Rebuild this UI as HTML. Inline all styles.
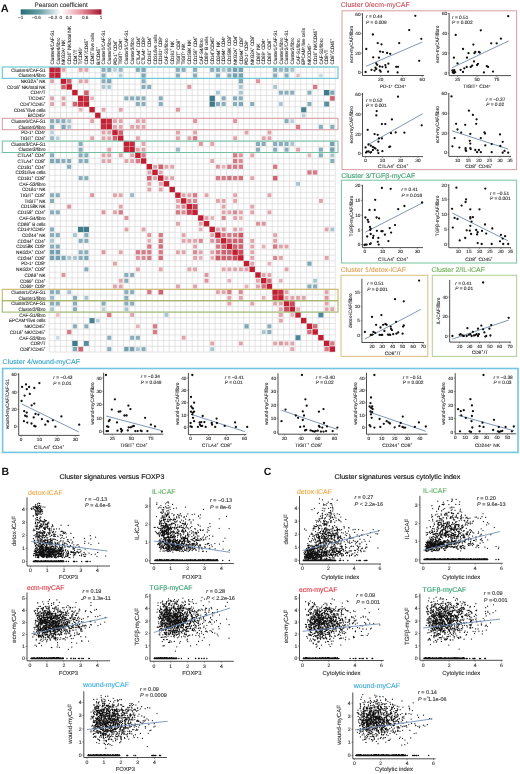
<!DOCTYPE html><html><head><meta charset="utf-8"><title>Figure</title><style>html,body{margin:0;padding:0;background:#fff;}svg{display:block;}</style></head><body>
<svg width="520" height="774" viewBox="0 0 520 774" text-rendering="geometricPrecision" font-family="'Liberation Sans', 'DejaVu Sans', sans-serif">
<rect width="520" height="774" fill="#fff"/>
<text x="0.8" y="12.3" font-size="11" fill="#111" font-weight="bold">A</text>
<defs><linearGradient id="cb" x1="0" x2="1" y1="0" y2="0"><stop offset="0" stop-color="#266c74"/><stop offset="0.25" stop-color="#6fa3ab"/><stop offset="0.5" stop-color="#ffffff"/><stop offset="0.75" stop-color="#e7939f"/><stop offset="1" stop-color="#a3142e"/></linearGradient></defs>
<rect x="20.7" y="9.3" width="80.8" height="5.3" fill="url(#cb)"/>
<text x="34.6" y="7" font-size="6.6" fill="#333" stroke="#333" stroke-width="0.12" textLength="53.2" lengthAdjust="spacingAndGlyphs">Pearson coefficient</text>
<text x="20.6" y="19.3" font-size="4.6" text-anchor="middle" fill="#444" stroke="#444" stroke-width="0.12">−1</text>
<text x="36.4" y="19.3" font-size="4.6" text-anchor="middle" fill="#444" stroke="#444" stroke-width="0.12">−0.6</text>
<text x="52.7" y="19.3" font-size="4.6" text-anchor="middle" fill="#444" stroke="#444" stroke-width="0.12">−0.2</text>
<text x="60.8" y="19.3" font-size="4.6" text-anchor="middle" fill="#444" stroke="#444" stroke-width="0.12">0</text>
<text x="68.9" y="19.3" font-size="4.6" text-anchor="middle" fill="#444" stroke="#444" stroke-width="0.12">0.2</text>
<text x="85.2" y="19.3" font-size="4.6" text-anchor="middle" fill="#444" stroke="#444" stroke-width="0.12">0.6</text>
<text x="101" y="19.3" font-size="4.6" text-anchor="middle" fill="#444" stroke="#444" stroke-width="0.12">1</text>
<path d="M49.2 67V352M49.2 67H335.2M54.9 67V352M49.2 72.7H335.2M60.6 67V352M49.2 78.4H335.2M66.4 67V352M49.2 84.1H335.2M72.1 67V352M49.2 89.8H335.2M77.8 67V352M49.2 95.5H335.2M83.5 67V352M49.2 101.2H335.2M89.2 67V352M49.2 106.9H335.2M95 67V352M49.2 112.6H335.2M100.7 67V352M49.2 118.3H335.2M106.4 67V352M49.2 124H335.2M112.1 67V352M49.2 129.7H335.2M117.8 67V352M49.2 135.4H335.2M123.6 67V352M49.2 141.1H335.2M129.3 67V352M49.2 146.8H335.2M135 67V352M49.2 152.5H335.2M140.7 67V352M49.2 158.2H335.2M146.4 67V352M49.2 163.9H335.2M152.2 67V352M49.2 169.6H335.2M157.9 67V352M49.2 175.3H335.2M163.6 67V352M49.2 181H335.2M169.3 67V352M49.2 186.7H335.2M175 67V352M49.2 192.4H335.2M180.8 67V352M49.2 198.1H335.2M186.5 67V352M49.2 203.8H335.2M192.2 67V352M49.2 209.5H335.2M197.9 67V352M49.2 215.2H335.2M203.6 67V352M49.2 220.9H335.2M209.4 67V352M49.2 226.6H335.2M215.1 67V352M49.2 232.3H335.2M220.8 67V352M49.2 238H335.2M226.5 67V352M49.2 243.7H335.2M232.2 67V352M49.2 249.4H335.2M238 67V352M49.2 255.1H335.2M243.7 67V352M49.2 260.8H335.2M249.4 67V352M49.2 266.5H335.2M255.1 67V352M49.2 272.2H335.2M260.8 67V352M49.2 277.9H335.2M266.6 67V352M49.2 283.6H335.2M272.3 67V352M49.2 289.3H335.2M278 67V352M49.2 295H335.2M283.7 67V352M49.2 300.7H335.2M289.4 67V352M49.2 306.4H335.2M295.2 67V352M49.2 312.1H335.2M300.9 67V352M49.2 317.8H335.2M306.6 67V352M49.2 323.5H335.2M312.3 67V352M49.2 329.2H335.2M318 67V352M49.2 334.9H335.2M323.8 67V352M49.2 340.6H335.2M329.5 67V352M49.2 346.3H335.2M335.2 67V352M49.2 352H335.2" stroke="#d0d0d0" stroke-width="0.55" fill="none"/>
<g><rect x="49.4" y="67.1" width="5.4" height="5.4" fill="#c21e32"/><rect x="55.1" y="67.1" width="5.4" height="5.4" fill="#c42b3e"/><rect x="61.6" y="67.9" width="3.9" height="3.9" fill="#e3a3ab"/><rect x="78.7" y="67.9" width="3.9" height="3.9" fill="#e3a3ab"/><rect x="84.4" y="67.9" width="3.9" height="3.9" fill="#e3a3ab"/><rect x="101.5" y="67.8" width="4.1" height="4.1" fill="#88aebc"/><rect x="107.2" y="67.8" width="4.1" height="4.1" fill="#88aebc"/><rect x="113.1" y="68" width="3.7" height="3.7" fill="#b8d1d8"/><rect x="118.7" y="67.8" width="4" height="4" fill="#98bac6"/><rect x="135.8" y="67.8" width="4.1" height="4.1" fill="#88aebc"/><rect x="141.4" y="67.7" width="4.3" height="4.3" fill="#7ea8b6"/><rect x="175.8" y="67.8" width="4.1" height="4.1" fill="#88aebc"/><rect x="181.5" y="67.8" width="4.1" height="4.1" fill="#88aebc"/><rect x="193" y="67.8" width="4.1" height="4.1" fill="#88aebc"/><rect x="210.1" y="67.8" width="4.1" height="4.1" fill="#88aebc"/><rect x="215.9" y="67.8" width="4.1" height="4.1" fill="#88aebc"/><rect x="221.7" y="67.9" width="3.9" height="3.9" fill="#a8c6cf"/><rect x="227.3" y="67.8" width="4.1" height="4.1" fill="#88aebc"/><rect x="232.9" y="67.6" width="4.4" height="4.4" fill="#74a1b0"/><rect x="238.6" y="67.6" width="4.4" height="4.4" fill="#74a1b0"/><rect x="273.1" y="67.8" width="4.1" height="4.1" fill="#88aebc"/><rect x="278.9" y="67.8" width="4" height="4" fill="#98bac6"/><rect x="284.5" y="67.8" width="4.1" height="4.1" fill="#88aebc"/><rect x="290.4" y="67.9" width="3.9" height="3.9" fill="#a8c6cf"/><rect x="49.3" y="72.8" width="5.4" height="5.4" fill="#c42b3e"/><rect x="55.1" y="72.8" width="5.4" height="5.4" fill="#c21e32"/><rect x="101.5" y="73.5" width="4.1" height="4.1" fill="#88aebc"/><rect x="118.8" y="73.7" width="3.7" height="3.7" fill="#b8d1d8"/><rect x="141.4" y="73.4" width="4.3" height="4.3" fill="#7ea8b6"/><rect x="175.8" y="73.5" width="4.1" height="4.1" fill="#88aebc"/><rect x="193" y="73.5" width="4.1" height="4.1" fill="#88aebc"/><rect x="215.9" y="73.5" width="4.1" height="4.1" fill="#88aebc"/><rect x="227.3" y="73.5" width="4.1" height="4.1" fill="#88aebc"/><rect x="232.9" y="73.3" width="4.4" height="4.4" fill="#74a1b0"/><rect x="238.6" y="73.3" width="4.4" height="4.4" fill="#74a1b0"/><rect x="273.1" y="73.5" width="4.1" height="4.1" fill="#88aebc"/><rect x="284.5" y="73.5" width="4.1" height="4.1" fill="#88aebc"/><rect x="296.2" y="73.8" width="3.6" height="3.6" fill="#ecbec4"/><rect x="319.1" y="73.8" width="3.6" height="3.6" fill="#c8dce2"/><rect x="50.1" y="79.3" width="3.9" height="3.9" fill="#e3a3ab"/><rect x="60.8" y="78.5" width="5.4" height="5.4" fill="#c21e32"/><rect x="66.9" y="79" width="4.6" height="4.6" fill="#d06270"/><rect x="78.7" y="79.3" width="3.9" height="3.9" fill="#e3a3ab"/><rect x="84.4" y="79.3" width="3.9" height="3.9" fill="#e3a3ab"/><rect x="101.5" y="79.2" width="4.1" height="4.1" fill="#88aebc"/><rect x="107.1" y="79.1" width="4.3" height="4.3" fill="#7ea8b6"/><rect x="141.5" y="79.2" width="4.1" height="4.1" fill="#88aebc"/><rect x="238.7" y="79.1" width="4.3" height="4.3" fill="#7ea8b6"/><rect x="256" y="79.2" width="4" height="4" fill="#df959f"/><rect x="61.2" y="84.7" width="4.6" height="4.6" fill="#d06270"/><rect x="66.5" y="84.2" width="5.4" height="5.4" fill="#c21e32"/><rect x="101.6" y="85" width="3.9" height="3.9" fill="#a8c6cf"/><rect x="107.3" y="85" width="3.9" height="3.9" fill="#a8c6cf"/><rect x="141.5" y="84.9" width="4.1" height="4.1" fill="#88aebc"/><rect x="147.2" y="84.9" width="4.1" height="4.1" fill="#88aebc"/><rect x="187.3" y="84.9" width="4" height="4" fill="#df959f"/><rect x="238.9" y="85" width="3.9" height="3.9" fill="#a8c6cf"/><rect x="273.2" y="85" width="3.9" height="3.9" fill="#a8c6cf"/><rect x="313" y="84.8" width="4.3" height="4.3" fill="#d67a86"/><rect x="72.2" y="89.9" width="5.4" height="5.4" fill="#c21e32"/><rect x="84.1" y="90.4" width="4.6" height="4.6" fill="#d06270"/><rect x="216" y="90.7" width="3.9" height="3.9" fill="#a8c6cf"/><rect x="238.9" y="90.7" width="3.9" height="3.9" fill="#a8c6cf"/><rect x="278.8" y="90.6" width="4.1" height="4.1" fill="#88aebc"/><rect x="284.5" y="90.6" width="4.1" height="4.1" fill="#88aebc"/><rect x="290.2" y="90.6" width="4.1" height="4.1" fill="#88aebc"/><rect x="307.4" y="90.6" width="4.1" height="4.1" fill="#88aebc"/><rect x="324" y="90" width="5.3" height="5.3" fill="#3e7c8c"/><rect x="330.2" y="90.5" width="4.3" height="4.3" fill="#7ea8b6"/><rect x="50.1" y="96.4" width="3.9" height="3.9" fill="#e3a3ab"/><rect x="61.6" y="96.4" width="3.9" height="3.9" fill="#e3a3ab"/><rect x="78" y="95.6" width="5.4" height="5.4" fill="#c21e32"/><rect x="83.7" y="95.7" width="5.3" height="5.3" fill="#c63144"/><rect x="90.2" y="96.5" width="3.7" height="3.7" fill="#e8b0b8"/><rect x="124.3" y="96.3" width="4.1" height="4.1" fill="#88aebc"/><rect x="130.1" y="96.3" width="4.1" height="4.1" fill="#88aebc"/><rect x="135.8" y="96.3" width="4.1" height="4.1" fill="#88aebc"/><rect x="141.5" y="96.3" width="4.1" height="4.1" fill="#88aebc"/><rect x="158.7" y="96.3" width="4.1" height="4.1" fill="#88aebc"/><rect x="209.6" y="95.7" width="5.3" height="5.3" fill="#3e7c8c"/><rect x="221.6" y="96.3" width="4.1" height="4.1" fill="#88aebc"/><rect x="233" y="96.3" width="4.1" height="4.1" fill="#88aebc"/><rect x="238.7" y="96.3" width="4.1" height="4.1" fill="#88aebc"/><rect x="330.1" y="96.1" width="4.6" height="4.6" fill="#d06270"/><rect x="50.1" y="102.1" width="3.9" height="3.9" fill="#e3a3ab"/><rect x="61.6" y="102.1" width="3.9" height="3.9" fill="#e3a3ab"/><rect x="72.7" y="101.8" width="4.6" height="4.6" fill="#d06270"/><rect x="78" y="101.4" width="5.3" height="5.3" fill="#c63144"/><rect x="83.7" y="101.3" width="5.4" height="5.4" fill="#c21e32"/><rect x="135.8" y="102" width="4.1" height="4.1" fill="#88aebc"/><rect x="141.5" y="102" width="4.1" height="4.1" fill="#88aebc"/><rect x="158.7" y="102" width="4.1" height="4.1" fill="#88aebc"/><rect x="209.6" y="101.4" width="5.3" height="5.3" fill="#3e7c8c"/><rect x="215.9" y="102" width="4.1" height="4.1" fill="#88aebc"/><rect x="221.6" y="102" width="4.1" height="4.1" fill="#88aebc"/><rect x="233" y="102" width="4.1" height="4.1" fill="#88aebc"/><rect x="238.7" y="101.9" width="4.3" height="4.3" fill="#7ea8b6"/><rect x="250.2" y="102" width="4.1" height="4.1" fill="#88aebc"/><rect x="278.9" y="102.1" width="3.9" height="3.9" fill="#a8c6cf"/><rect x="307.4" y="102" width="4.1" height="4.1" fill="#88aebc"/><rect x="324.2" y="101.6" width="4.9" height="4.9" fill="#568e9e"/><rect x="78.8" y="107.9" width="3.7" height="3.7" fill="#e8b0b8"/><rect x="89.4" y="107" width="5.4" height="5.4" fill="#c21e32"/><rect x="101.6" y="107.8" width="3.9" height="3.9" fill="#e3a3ab"/><rect x="118.8" y="107.8" width="3.9" height="3.9" fill="#e3a3ab"/><rect x="175.9" y="107.7" width="4" height="4" fill="#df959f"/><rect x="301.2" y="107.2" width="5.1" height="5.1" fill="#458292"/><rect x="95.1" y="112.7" width="5.4" height="5.4" fill="#c21e32"/><rect x="301.9" y="113.6" width="3.7" height="3.7" fill="#b8d1d8"/><rect x="50" y="119.1" width="4.1" height="4.1" fill="#88aebc"/><rect x="55.7" y="119.1" width="4.1" height="4.1" fill="#88aebc"/><rect x="61.4" y="119.1" width="4.1" height="4.1" fill="#88aebc"/><rect x="67.3" y="119.2" width="3.9" height="3.9" fill="#a8c6cf"/><rect x="90.2" y="119.2" width="3.9" height="3.9" fill="#e3a3ab"/><rect x="100.8" y="118.4" width="5.4" height="5.4" fill="#c21e32"/><rect x="106.5" y="118.4" width="5.4" height="5.4" fill="#c42b3e"/><rect x="113" y="119.2" width="3.9" height="3.9" fill="#e3a3ab"/><rect x="118.8" y="119.2" width="3.9" height="3.9" fill="#e3a3ab"/><rect x="135.9" y="119.2" width="3.9" height="3.9" fill="#e3a3ab"/><rect x="141.6" y="119.2" width="3.9" height="3.9" fill="#e3a3ab"/><rect x="193.1" y="119.1" width="4" height="4" fill="#df959f"/><rect x="233.1" y="119.1" width="4" height="4" fill="#df959f"/><rect x="284.5" y="119.1" width="4.1" height="4.1" fill="#88aebc"/><rect x="290.4" y="119.3" width="3.7" height="3.7" fill="#b8d1d8"/><rect x="50" y="124.8" width="4.1" height="4.1" fill="#88aebc"/><rect x="61.4" y="124.7" width="4.3" height="4.3" fill="#7ea8b6"/><rect x="67.3" y="124.9" width="3.9" height="3.9" fill="#a8c6cf"/><rect x="100.8" y="124.1" width="5.4" height="5.4" fill="#c42b3e"/><rect x="106.5" y="124.1" width="5.4" height="5.4" fill="#c21e32"/><rect x="113" y="124.9" width="3.9" height="3.9" fill="#e3a3ab"/><rect x="118.8" y="124.9" width="3.9" height="3.9" fill="#e3a3ab"/><rect x="130.2" y="124.9" width="3.9" height="3.9" fill="#e3a3ab"/><rect x="135.9" y="124.9" width="3.9" height="3.9" fill="#e3a3ab"/><rect x="141.6" y="124.9" width="3.9" height="3.9" fill="#e3a3ab"/><rect x="295.9" y="124.7" width="4.3" height="4.3" fill="#d67a86"/><rect x="318.8" y="124.8" width="4.1" height="4.1" fill="#88aebc"/><rect x="330.3" y="124.8" width="4.1" height="4.1" fill="#88aebc"/><rect x="50.2" y="130.7" width="3.7" height="3.7" fill="#b8d1d8"/><rect x="101.6" y="130.6" width="3.9" height="3.9" fill="#e3a3ab"/><rect x="107.3" y="130.6" width="3.9" height="3.9" fill="#e3a3ab"/><rect x="112.3" y="129.8" width="5.4" height="5.4" fill="#c21e32"/><rect x="118.4" y="130.3" width="4.6" height="4.6" fill="#d06270"/><rect x="176" y="130.6" width="3.9" height="3.9" fill="#e3a3ab"/><rect x="193.1" y="130.6" width="3.9" height="3.9" fill="#e3a3ab"/><rect x="244.6" y="130.6" width="3.9" height="3.9" fill="#e3a3ab"/><rect x="267.5" y="130.6" width="3.9" height="3.9" fill="#e3a3ab"/><rect x="50.1" y="136.2" width="4" height="4" fill="#98bac6"/><rect x="55.9" y="136.4" width="3.7" height="3.7" fill="#b8d1d8"/><rect x="90.2" y="136.3" width="3.9" height="3.9" fill="#e3a3ab"/><rect x="101.6" y="136.3" width="3.9" height="3.9" fill="#e3a3ab"/><rect x="107.3" y="136.3" width="3.9" height="3.9" fill="#e3a3ab"/><rect x="112.7" y="136" width="4.6" height="4.6" fill="#d06270"/><rect x="118" y="135.5" width="5.4" height="5.4" fill="#c21e32"/><rect x="135.9" y="136.3" width="3.9" height="3.9" fill="#e3a3ab"/><rect x="176" y="136.3" width="3.9" height="3.9" fill="#e3a3ab"/><rect x="187.4" y="136.3" width="3.9" height="3.9" fill="#e3a3ab"/><rect x="192.9" y="136.1" width="4.3" height="4.3" fill="#d67a86"/><rect x="233.2" y="136.3" width="3.9" height="3.9" fill="#e3a3ab"/><rect x="261.8" y="136.3" width="3.9" height="3.9" fill="#e3a3ab"/><rect x="267.5" y="136.3" width="3.9" height="3.9" fill="#e3a3ab"/><rect x="78.6" y="141.9" width="4.1" height="4.1" fill="#88aebc"/><rect x="123.7" y="141.2" width="5.4" height="5.4" fill="#c21e32"/><rect x="129.4" y="141.2" width="5.4" height="5.4" fill="#c42b3e"/><rect x="141.6" y="142" width="3.9" height="3.9" fill="#e3a3ab"/><rect x="198.8" y="141.9" width="4" height="4" fill="#df959f"/><rect x="210.3" y="142" width="3.9" height="3.9" fill="#e3a3ab"/><rect x="255.9" y="141.9" width="4.1" height="4.1" fill="#88aebc"/><rect x="261.6" y="141.9" width="4.1" height="4.1" fill="#88aebc"/><rect x="273.1" y="141.9" width="4.1" height="4.1" fill="#88aebc"/><rect x="278.8" y="141.9" width="4.1" height="4.1" fill="#88aebc"/><rect x="284.5" y="141.9" width="4.1" height="4.1" fill="#88aebc"/><rect x="290.4" y="142" width="3.9" height="3.9" fill="#a8c6cf"/><rect x="330.1" y="141.7" width="4.4" height="4.4" fill="#74a1b0"/><rect x="78.6" y="147.6" width="4.1" height="4.1" fill="#88aebc"/><rect x="107.3" y="147.7" width="3.9" height="3.9" fill="#e3a3ab"/><rect x="123.7" y="146.9" width="5.4" height="5.4" fill="#c42b3e"/><rect x="129.4" y="146.9" width="5.4" height="5.4" fill="#c21e32"/><rect x="135.9" y="147.7" width="3.9" height="3.9" fill="#e3a3ab"/><rect x="141.6" y="147.7" width="3.9" height="3.9" fill="#e3a3ab"/><rect x="175.9" y="147.6" width="4" height="4" fill="#98bac6"/><rect x="255.9" y="147.6" width="4.1" height="4.1" fill="#88aebc"/><rect x="273.1" y="147.6" width="4.1" height="4.1" fill="#88aebc"/><rect x="284.5" y="147.6" width="4.1" height="4.1" fill="#88aebc"/><rect x="296.1" y="147.7" width="3.9" height="3.9" fill="#e3a3ab"/><rect x="318.8" y="147.6" width="4.1" height="4.1" fill="#88aebc"/><rect x="330.1" y="147.4" width="4.4" height="4.4" fill="#74a1b0"/><rect x="50" y="153.3" width="4.1" height="4.1" fill="#88aebc"/><rect x="78.6" y="153.3" width="4.1" height="4.1" fill="#88aebc"/><rect x="84.3" y="153.3" width="4.1" height="4.1" fill="#88aebc"/><rect x="101.6" y="153.4" width="3.9" height="3.9" fill="#e3a3ab"/><rect x="107.3" y="153.4" width="3.9" height="3.9" fill="#e3a3ab"/><rect x="118.8" y="153.4" width="3.9" height="3.9" fill="#e3a3ab"/><rect x="130.2" y="153.4" width="3.9" height="3.9" fill="#e3a3ab"/><rect x="135.2" y="152.6" width="5.4" height="5.4" fill="#c21e32"/><rect x="141.4" y="153.2" width="4.3" height="4.3" fill="#d67a86"/><rect x="233" y="153.2" width="4.3" height="4.3" fill="#d67a86"/><rect x="238.8" y="153.3" width="4" height="4" fill="#df959f"/><rect x="250.3" y="153.4" width="3.9" height="3.9" fill="#e3a3ab"/><rect x="307.6" y="153.5" width="3.7" height="3.7" fill="#e8b0b8"/><rect x="318.8" y="153.3" width="4.1" height="4.1" fill="#88aebc"/><rect x="330.4" y="153.4" width="3.9" height="3.9" fill="#a8c6cf"/><rect x="49.9" y="158.9" width="4.3" height="4.3" fill="#7ea8b6"/><rect x="55.6" y="158.9" width="4.3" height="4.3" fill="#7ea8b6"/><rect x="61.4" y="159" width="4.1" height="4.1" fill="#88aebc"/><rect x="67.1" y="159" width="4.1" height="4.1" fill="#88aebc"/><rect x="78.6" y="159" width="4.1" height="4.1" fill="#88aebc"/><rect x="84.3" y="159" width="4.1" height="4.1" fill="#88aebc"/><rect x="101.6" y="159.1" width="3.9" height="3.9" fill="#e3a3ab"/><rect x="107.3" y="159.1" width="3.9" height="3.9" fill="#e3a3ab"/><rect x="124.5" y="159.1" width="3.9" height="3.9" fill="#e3a3ab"/><rect x="130.2" y="159.1" width="3.9" height="3.9" fill="#e3a3ab"/><rect x="135.7" y="158.9" width="4.3" height="4.3" fill="#d67a86"/><rect x="140.9" y="158.3" width="5.4" height="5.4" fill="#c21e32"/><rect x="210.3" y="159.1" width="3.9" height="3.9" fill="#e3a3ab"/><rect x="233" y="158.9" width="4.3" height="4.3" fill="#d67a86"/><rect x="238.7" y="159" width="4.1" height="4.1" fill="#da8892"/><rect x="330.3" y="159" width="4.1" height="4.1" fill="#88aebc"/><rect x="67.1" y="164.7" width="4.1" height="4.1" fill="#88aebc"/><rect x="146.6" y="164" width="5.4" height="5.4" fill="#c21e32"/><rect x="153.1" y="164.8" width="3.9" height="3.9" fill="#e3a3ab"/><rect x="158.5" y="164.5" width="4.6" height="4.6" fill="#d06270"/><rect x="164.5" y="164.8" width="3.9" height="3.9" fill="#e3a3ab"/><rect x="170.2" y="164.8" width="3.9" height="3.9" fill="#e3a3ab"/><rect x="215.9" y="164.7" width="4" height="4" fill="#df959f"/><rect x="221.8" y="164.9" width="3.7" height="3.7" fill="#e8b0b8"/><rect x="227.2" y="164.6" width="4.3" height="4.3" fill="#d67a86"/><rect x="233" y="164.6" width="4.3" height="4.3" fill="#d67a86"/><rect x="238.7" y="164.6" width="4.3" height="4.3" fill="#d67a86"/><rect x="273" y="164.6" width="4.3" height="4.3" fill="#d67a86"/><rect x="147.4" y="170.5" width="3.9" height="3.9" fill="#e3a3ab"/><rect x="152.3" y="169.7" width="5.4" height="5.4" fill="#c21e32"/><rect x="158.8" y="170.5" width="3.9" height="3.9" fill="#e3a3ab"/><rect x="307.3" y="170.3" width="4.3" height="4.3" fill="#d67a86"/><rect x="313" y="170.3" width="4.3" height="4.3" fill="#d67a86"/><rect x="78.6" y="176.1" width="4.1" height="4.1" fill="#88aebc"/><rect x="84.3" y="176.1" width="4.1" height="4.1" fill="#88aebc"/><rect x="147" y="175.9" width="4.6" height="4.6" fill="#d06270"/><rect x="153.1" y="176.2" width="3.9" height="3.9" fill="#e3a3ab"/><rect x="158" y="175.4" width="5.4" height="5.4" fill="#c21e32"/><rect x="164.5" y="176.2" width="3.9" height="3.9" fill="#e3a3ab"/><rect x="170.2" y="176.2" width="3.9" height="3.9" fill="#e3a3ab"/><rect x="215.8" y="176" width="4.3" height="4.3" fill="#d67a86"/><rect x="221.5" y="176" width="4.3" height="4.3" fill="#d67a86"/><rect x="227.2" y="175.9" width="4.4" height="4.4" fill="#d36e7b"/><rect x="233" y="176" width="4.3" height="4.3" fill="#d67a86"/><rect x="238.6" y="175.9" width="4.4" height="4.4" fill="#d36e7b"/><rect x="250.3" y="176.2" width="3.9" height="3.9" fill="#e3a3ab"/><rect x="272.9" y="175.9" width="4.6" height="4.6" fill="#d06270"/><rect x="147.4" y="181.9" width="3.9" height="3.9" fill="#e3a3ab"/><rect x="158.8" y="181.9" width="3.9" height="3.9" fill="#e3a3ab"/><rect x="163.7" y="181.1" width="5.4" height="5.4" fill="#c21e32"/><rect x="296.1" y="181.9" width="3.9" height="3.9" fill="#a8c6cf"/><rect x="147.4" y="187.6" width="3.9" height="3.9" fill="#e3a3ab"/><rect x="158.8" y="187.6" width="3.9" height="3.9" fill="#e3a3ab"/><rect x="169.5" y="186.8" width="5.4" height="5.4" fill="#c21e32"/><rect x="50" y="193.2" width="4.1" height="4.1" fill="#88aebc"/><rect x="55.7" y="193.2" width="4.1" height="4.1" fill="#88aebc"/><rect x="90.1" y="193.2" width="4" height="4" fill="#df959f"/><rect x="113" y="193.3" width="3.9" height="3.9" fill="#e3a3ab"/><rect x="118.8" y="193.3" width="3.9" height="3.9" fill="#e3a3ab"/><rect x="130.1" y="193.2" width="4" height="4" fill="#98bac6"/><rect x="175.2" y="192.5" width="5.4" height="5.4" fill="#c21e32"/><rect x="181.7" y="193.3" width="3.9" height="3.9" fill="#e3a3ab"/><rect x="187.4" y="193.3" width="3.9" height="3.9" fill="#e3a3ab"/><rect x="192.9" y="193.1" width="4.3" height="4.3" fill="#d67a86"/><rect x="204.6" y="193.3" width="3.9" height="3.9" fill="#e3a3ab"/><rect x="233.2" y="193.3" width="3.9" height="3.9" fill="#e3a3ab"/><rect x="267.5" y="193.3" width="3.9" height="3.9" fill="#e3a3ab"/><rect x="50" y="198.9" width="4.1" height="4.1" fill="#88aebc"/><rect x="176" y="199" width="3.9" height="3.9" fill="#e3a3ab"/><rect x="180.9" y="198.2" width="5.4" height="5.4" fill="#c21e32"/><rect x="187.3" y="198.9" width="4.1" height="4.1" fill="#da8892"/><rect x="193" y="198.9" width="4.1" height="4.1" fill="#da8892"/><rect x="216" y="199" width="3.9" height="3.9" fill="#e3a3ab"/><rect x="221.7" y="199" width="3.9" height="3.9" fill="#e3a3ab"/><rect x="233.2" y="199" width="3.9" height="3.9" fill="#e3a3ab"/><rect x="319" y="199" width="3.9" height="3.9" fill="#e3a3ab"/><rect x="67.2" y="204.6" width="4" height="4" fill="#df959f"/><rect x="118.8" y="204.7" width="3.9" height="3.9" fill="#e3a3ab"/><rect x="176" y="204.7" width="3.9" height="3.9" fill="#e3a3ab"/><rect x="181.5" y="204.6" width="4.1" height="4.1" fill="#da8892"/><rect x="186.6" y="203.9" width="5.4" height="5.4" fill="#c21e32"/><rect x="192.6" y="204.1" width="5" height="5" fill="#c83e50"/><rect x="221.7" y="204.7" width="3.9" height="3.9" fill="#e3a3ab"/><rect x="250.3" y="204.7" width="3.9" height="3.9" fill="#e3a3ab"/><rect x="50" y="210.3" width="4.1" height="4.1" fill="#88aebc"/><rect x="55.7" y="210.3" width="4.1" height="4.1" fill="#88aebc"/><rect x="101.5" y="210.3" width="4" height="4" fill="#df959f"/><rect x="113" y="210.4" width="3.9" height="3.9" fill="#e3a3ab"/><rect x="118.6" y="210.2" width="4.3" height="4.3" fill="#d67a86"/><rect x="175.8" y="210.2" width="4.3" height="4.3" fill="#d67a86"/><rect x="181.5" y="210.3" width="4.1" height="4.1" fill="#da8892"/><rect x="186.8" y="209.8" width="5" height="5" fill="#c83e50"/><rect x="192.3" y="209.6" width="5.4" height="5.4" fill="#c21e32"/><rect x="221.7" y="210.4" width="3.9" height="3.9" fill="#e3a3ab"/><rect x="227.4" y="210.4" width="3.9" height="3.9" fill="#e3a3ab"/><rect x="233" y="210.3" width="4.1" height="4.1" fill="#da8892"/><rect x="238.9" y="210.4" width="3.9" height="3.9" fill="#e3a3ab"/><rect x="250.3" y="210.4" width="3.9" height="3.9" fill="#e3a3ab"/><rect x="267.5" y="210.4" width="3.9" height="3.9" fill="#e3a3ab"/><rect x="124.4" y="216" width="4" height="4" fill="#df959f"/><rect x="198.1" y="215.3" width="5.4" height="5.4" fill="#c21e32"/><rect x="204.6" y="216.1" width="3.9" height="3.9" fill="#e3a3ab"/><rect x="210.4" y="216.2" width="3.7" height="3.7" fill="#e8b0b8"/><rect x="221.6" y="216" width="4.1" height="4.1" fill="#da8892"/><rect x="233.2" y="216.1" width="3.9" height="3.9" fill="#e3a3ab"/><rect x="239" y="216.2" width="3.7" height="3.7" fill="#e8b0b8"/><rect x="176" y="221.8" width="3.9" height="3.9" fill="#e3a3ab"/><rect x="198.8" y="221.8" width="3.9" height="3.9" fill="#e3a3ab"/><rect x="203.8" y="221" width="5.4" height="5.4" fill="#c21e32"/><rect x="256" y="221.7" width="4" height="4" fill="#df959f"/><rect x="261.7" y="221.7" width="4" height="4" fill="#df959f"/><rect x="50" y="227.4" width="4.1" height="4.1" fill="#88aebc"/><rect x="78" y="226.8" width="5.3" height="5.3" fill="#3e7c8c"/><rect x="83.7" y="226.8" width="5.3" height="5.3" fill="#3e7c8c"/><rect x="124.5" y="227.5" width="3.9" height="3.9" fill="#e3a3ab"/><rect x="141.6" y="227.5" width="3.9" height="3.9" fill="#e3a3ab"/><rect x="198.9" y="227.6" width="3.7" height="3.7" fill="#e8b0b8"/><rect x="209.5" y="226.7" width="5.4" height="5.4" fill="#c21e32"/><rect x="216" y="227.5" width="3.9" height="3.9" fill="#e3a3ab"/><rect x="221.7" y="227.4" width="4" height="4" fill="#df959f"/><rect x="233.2" y="227.5" width="3.9" height="3.9" fill="#e3a3ab"/><rect x="239" y="227.6" width="3.7" height="3.7" fill="#e8b0b8"/><rect x="324.7" y="227.5" width="3.9" height="3.9" fill="#e3a3ab"/><rect x="330.4" y="227.5" width="3.9" height="3.9" fill="#a8c6cf"/><rect x="50" y="233.1" width="4.1" height="4.1" fill="#88aebc"/><rect x="55.7" y="233.1" width="4.1" height="4.1" fill="#88aebc"/><rect x="73" y="233.2" width="3.9" height="3.9" fill="#a8c6cf"/><rect x="84.3" y="233.1" width="4.1" height="4.1" fill="#88aebc"/><rect x="147.3" y="233.1" width="4" height="4" fill="#df959f"/><rect x="158.6" y="233" width="4.3" height="4.3" fill="#d67a86"/><rect x="181.7" y="233.2" width="3.9" height="3.9" fill="#e3a3ab"/><rect x="210.3" y="233.2" width="3.9" height="3.9" fill="#e3a3ab"/><rect x="215.2" y="232.4" width="5.4" height="5.4" fill="#c21e32"/><rect x="221.5" y="233" width="4.3" height="4.3" fill="#d67a86"/><rect x="227.2" y="233" width="4.3" height="4.3" fill="#d67a86"/><rect x="233" y="233" width="4.3" height="4.3" fill="#d67a86"/><rect x="238.5" y="232.8" width="4.7" height="4.7" fill="#ce5666"/><rect x="273.2" y="233.2" width="3.9" height="3.9" fill="#e3a3ab"/><rect x="50.1" y="238.9" width="3.9" height="3.9" fill="#a8c6cf"/><rect x="78.6" y="238.8" width="4.1" height="4.1" fill="#88aebc"/><rect x="84.3" y="238.8" width="4.1" height="4.1" fill="#88aebc"/><rect x="147.4" y="239" width="3.7" height="3.7" fill="#e8b0b8"/><rect x="158.6" y="238.7" width="4.3" height="4.3" fill="#d67a86"/><rect x="181.7" y="238.9" width="3.9" height="3.9" fill="#e3a3ab"/><rect x="187.4" y="238.9" width="3.9" height="3.9" fill="#e3a3ab"/><rect x="193.1" y="238.9" width="3.9" height="3.9" fill="#e3a3ab"/><rect x="198.7" y="238.8" width="4.1" height="4.1" fill="#da8892"/><rect x="210.2" y="238.8" width="4" height="4" fill="#df959f"/><rect x="215.8" y="238.7" width="4.3" height="4.3" fill="#d67a86"/><rect x="220.9" y="238.1" width="5.4" height="5.4" fill="#c21e32"/><rect x="227.1" y="238.6" width="4.6" height="4.6" fill="#d06270"/><rect x="232.8" y="238.6" width="4.6" height="4.6" fill="#d06270"/><rect x="238.5" y="238.6" width="4.6" height="4.6" fill="#d06270"/><rect x="250.3" y="238.9" width="3.9" height="3.9" fill="#e3a3ab"/><rect x="273.2" y="238.9" width="3.9" height="3.9" fill="#e3a3ab"/><rect x="50" y="244.5" width="4.1" height="4.1" fill="#88aebc"/><rect x="55.7" y="244.5" width="4.1" height="4.1" fill="#88aebc"/><rect x="147.2" y="244.4" width="4.3" height="4.3" fill="#d67a86"/><rect x="158.5" y="244.3" width="4.4" height="4.4" fill="#d36e7b"/><rect x="193.1" y="244.6" width="3.9" height="3.9" fill="#e3a3ab"/><rect x="215.8" y="244.4" width="4.3" height="4.3" fill="#d67a86"/><rect x="221.4" y="244.3" width="4.6" height="4.6" fill="#d06270"/><rect x="226.7" y="243.8" width="5.4" height="5.4" fill="#c21e32"/><rect x="232.8" y="244.3" width="4.6" height="4.6" fill="#d06270"/><rect x="238.5" y="244.3" width="4.6" height="4.6" fill="#d06270"/><rect x="250.3" y="244.6" width="3.9" height="3.9" fill="#e3a3ab"/><rect x="261.8" y="244.7" width="3.7" height="3.7" fill="#e8b0b8"/><rect x="273" y="244.4" width="4.3" height="4.3" fill="#d67a86"/><rect x="278.9" y="244.6" width="3.9" height="3.9" fill="#e3a3ab"/><rect x="284.6" y="244.6" width="3.9" height="3.9" fill="#e3a3ab"/><rect x="49.8" y="250" width="4.4" height="4.4" fill="#74a1b0"/><rect x="55.6" y="250" width="4.4" height="4.4" fill="#74a1b0"/><rect x="78.6" y="250.2" width="4.1" height="4.1" fill="#88aebc"/><rect x="84.3" y="250.2" width="4.1" height="4.1" fill="#88aebc"/><rect x="101.5" y="250.2" width="4" height="4" fill="#df959f"/><rect x="118.8" y="250.3" width="3.9" height="3.9" fill="#e3a3ab"/><rect x="135.7" y="250.1" width="4.3" height="4.3" fill="#d67a86"/><rect x="141.4" y="250.1" width="4.3" height="4.3" fill="#d67a86"/><rect x="147.2" y="250.1" width="4.3" height="4.3" fill="#d67a86"/><rect x="158.6" y="250.1" width="4.3" height="4.3" fill="#d67a86"/><rect x="176" y="250.3" width="3.9" height="3.9" fill="#e3a3ab"/><rect x="181.7" y="250.3" width="3.9" height="3.9" fill="#e3a3ab"/><rect x="193" y="250.2" width="4.1" height="4.1" fill="#da8892"/><rect x="198.8" y="250.3" width="3.9" height="3.9" fill="#e3a3ab"/><rect x="210.3" y="250.3" width="3.9" height="3.9" fill="#e3a3ab"/><rect x="215.8" y="250.1" width="4.3" height="4.3" fill="#d67a86"/><rect x="221.4" y="250" width="4.6" height="4.6" fill="#d06270"/><rect x="227.1" y="250" width="4.6" height="4.6" fill="#d06270"/><rect x="232.4" y="249.5" width="5.4" height="5.4" fill="#c21e32"/><rect x="238.4" y="249.8" width="4.9" height="4.9" fill="#cb4a5b"/><rect x="250.3" y="250.3" width="3.9" height="3.9" fill="#e3a3ab"/><rect x="49.8" y="255.7" width="4.4" height="4.4" fill="#74a1b0"/><rect x="55.6" y="255.7" width="4.4" height="4.4" fill="#74a1b0"/><rect x="61.4" y="255.8" width="4.3" height="4.3" fill="#7ea8b6"/><rect x="67.3" y="256" width="3.9" height="3.9" fill="#a8c6cf"/><rect x="73" y="256" width="3.9" height="3.9" fill="#a8c6cf"/><rect x="78.6" y="255.9" width="4.1" height="4.1" fill="#88aebc"/><rect x="84.2" y="255.8" width="4.3" height="4.3" fill="#7ea8b6"/><rect x="135.9" y="255.9" width="4" height="4" fill="#df959f"/><rect x="141.5" y="255.9" width="4.1" height="4.1" fill="#da8892"/><rect x="147.2" y="255.8" width="4.3" height="4.3" fill="#d67a86"/><rect x="158.5" y="255.7" width="4.4" height="4.4" fill="#d36e7b"/><rect x="193.1" y="256" width="3.9" height="3.9" fill="#e3a3ab"/><rect x="198.9" y="256.1" width="3.7" height="3.7" fill="#e8b0b8"/><rect x="210.4" y="256.1" width="3.7" height="3.7" fill="#e8b0b8"/><rect x="215.6" y="255.6" width="4.7" height="4.7" fill="#ce5666"/><rect x="221.4" y="255.7" width="4.6" height="4.6" fill="#d06270"/><rect x="227.1" y="255.7" width="4.6" height="4.6" fill="#d06270"/><rect x="232.7" y="255.5" width="4.9" height="4.9" fill="#cb4a5b"/><rect x="238.1" y="255.2" width="5.4" height="5.4" fill="#c21e32"/><rect x="250.3" y="256" width="3.9" height="3.9" fill="#e3a3ab"/><rect x="273.1" y="255.9" width="4.1" height="4.1" fill="#da8892"/><rect x="278.9" y="256" width="3.9" height="3.9" fill="#e3a3ab"/><rect x="324.7" y="256" width="3.9" height="3.9" fill="#e3a3ab"/><rect x="113" y="261.7" width="3.9" height="3.9" fill="#e3a3ab"/><rect x="243.8" y="260.9" width="5.4" height="5.4" fill="#c21e32"/><rect x="250.3" y="261.7" width="3.9" height="3.9" fill="#e3a3ab"/><rect x="267.6" y="261.8" width="3.7" height="3.7" fill="#e8b0b8"/><rect x="307.3" y="261.5" width="4.3" height="4.3" fill="#7ea8b6"/><rect x="84.3" y="267.3" width="4.1" height="4.1" fill="#88aebc"/><rect x="135.9" y="267.4" width="3.9" height="3.9" fill="#e3a3ab"/><rect x="158.8" y="267.4" width="3.9" height="3.9" fill="#e3a3ab"/><rect x="187.4" y="267.4" width="3.9" height="3.9" fill="#e3a3ab"/><rect x="193.1" y="267.4" width="3.9" height="3.9" fill="#e3a3ab"/><rect x="221.7" y="267.4" width="3.9" height="3.9" fill="#e3a3ab"/><rect x="227.4" y="267.4" width="3.9" height="3.9" fill="#e3a3ab"/><rect x="233.2" y="267.4" width="3.9" height="3.9" fill="#e3a3ab"/><rect x="238.9" y="267.4" width="3.9" height="3.9" fill="#e3a3ab"/><rect x="244.6" y="267.4" width="3.9" height="3.9" fill="#e3a3ab"/><rect x="249.5" y="266.6" width="5.4" height="5.4" fill="#c21e32"/><rect x="284.6" y="267.4" width="3.9" height="3.9" fill="#e3a3ab"/><rect x="61.5" y="273" width="4" height="4" fill="#df959f"/><rect x="124.3" y="273" width="4.1" height="4.1" fill="#88aebc"/><rect x="130.1" y="273" width="4.1" height="4.1" fill="#88aebc"/><rect x="204.5" y="273" width="4" height="4" fill="#df959f"/><rect x="255.3" y="272.3" width="5.4" height="5.4" fill="#c21e32"/><rect x="261.8" y="273.1" width="3.9" height="3.9" fill="#e3a3ab"/><rect x="267.5" y="273.1" width="3.9" height="3.9" fill="#e3a3ab"/><rect x="118.8" y="278.8" width="3.9" height="3.9" fill="#e3a3ab"/><rect x="124.3" y="278.7" width="4.1" height="4.1" fill="#88aebc"/><rect x="204.5" y="278.7" width="4" height="4" fill="#df959f"/><rect x="227.5" y="278.9" width="3.7" height="3.7" fill="#e8b0b8"/><rect x="256" y="278.8" width="3.9" height="3.9" fill="#e3a3ab"/><rect x="261" y="278" width="5.4" height="5.4" fill="#c21e32"/><rect x="267.2" y="278.5" width="4.4" height="4.4" fill="#d36e7b"/><rect x="279" y="278.9" width="3.7" height="3.7" fill="#e8b0b8"/><rect x="313.2" y="278.8" width="3.9" height="3.9" fill="#a8c6cf"/><rect x="113" y="284.5" width="3.9" height="3.9" fill="#e3a3ab"/><rect x="118.8" y="284.5" width="3.9" height="3.9" fill="#e3a3ab"/><rect x="176" y="284.5" width="3.9" height="3.9" fill="#e3a3ab"/><rect x="193.1" y="284.5" width="3.9" height="3.9" fill="#e3a3ab"/><rect x="244.7" y="284.6" width="3.7" height="3.7" fill="#e8b0b8"/><rect x="256" y="284.5" width="3.9" height="3.9" fill="#e3a3ab"/><rect x="261.5" y="284.2" width="4.4" height="4.4" fill="#d36e7b"/><rect x="266.7" y="283.7" width="5.4" height="5.4" fill="#c21e32"/><rect x="307.4" y="284.4" width="4.1" height="4.1" fill="#88aebc"/><rect x="313.1" y="284.4" width="4.1" height="4.1" fill="#88aebc"/><rect x="50" y="290.1" width="4.1" height="4.1" fill="#88aebc"/><rect x="55.7" y="290.1" width="4.1" height="4.1" fill="#88aebc"/><rect x="67.3" y="290.2" width="3.9" height="3.9" fill="#a8c6cf"/><rect x="124.3" y="290.1" width="4.1" height="4.1" fill="#88aebc"/><rect x="130.1" y="290.1" width="4.1" height="4.1" fill="#88aebc"/><rect x="147.2" y="290" width="4.3" height="4.3" fill="#d67a86"/><rect x="158.5" y="289.9" width="4.6" height="4.6" fill="#d06270"/><rect x="216" y="290.2" width="3.9" height="3.9" fill="#e3a3ab"/><rect x="221.7" y="290.2" width="3.9" height="3.9" fill="#e3a3ab"/><rect x="227.2" y="290" width="4.3" height="4.3" fill="#d67a86"/><rect x="238.7" y="290.1" width="4.1" height="4.1" fill="#da8892"/><rect x="272.4" y="289.4" width="5.4" height="5.4" fill="#c21e32"/><rect x="278.2" y="289.5" width="5.3" height="5.3" fill="#c63144"/><rect x="284.6" y="290.2" width="3.9" height="3.9" fill="#e3a3ab"/><rect x="324.7" y="290.2" width="3.9" height="3.9" fill="#e3a3ab"/><rect x="50.1" y="295.8" width="4" height="4" fill="#98bac6"/><rect x="72.9" y="295.8" width="4.1" height="4.1" fill="#88aebc"/><rect x="84.4" y="295.9" width="3.9" height="3.9" fill="#a8c6cf"/><rect x="124.3" y="295.8" width="4.1" height="4.1" fill="#88aebc"/><rect x="227.4" y="295.9" width="3.9" height="3.9" fill="#e3a3ab"/><rect x="238.9" y="295.9" width="3.9" height="3.9" fill="#e3a3ab"/><rect x="261.8" y="296" width="3.7" height="3.7" fill="#e8b0b8"/><rect x="272.5" y="295.2" width="5.3" height="5.3" fill="#c63144"/><rect x="278.2" y="295.1" width="5.4" height="5.4" fill="#c21e32"/><rect x="284.6" y="295.9" width="3.9" height="3.9" fill="#e3a3ab"/><rect x="290.4" y="295.9" width="3.9" height="3.9" fill="#e3a3ab"/><rect x="296.1" y="295.9" width="3.9" height="3.9" fill="#e3a3ab"/><rect x="301.8" y="295.9" width="3.9" height="3.9" fill="#e3a3ab"/><rect x="324.6" y="295.8" width="4" height="4" fill="#df959f"/><rect x="50" y="301.5" width="4.1" height="4.1" fill="#88aebc"/><rect x="55.7" y="301.5" width="4.1" height="4.1" fill="#88aebc"/><rect x="72.9" y="301.5" width="4.1" height="4.1" fill="#88aebc"/><rect x="101.5" y="301.5" width="4.1" height="4.1" fill="#88aebc"/><rect x="124.3" y="301.5" width="4.1" height="4.1" fill="#88aebc"/><rect x="130.1" y="301.5" width="4.1" height="4.1" fill="#88aebc"/><rect x="227.4" y="301.6" width="3.9" height="3.9" fill="#e3a3ab"/><rect x="250.3" y="301.6" width="3.9" height="3.9" fill="#e3a3ab"/><rect x="273.2" y="301.6" width="3.9" height="3.9" fill="#e3a3ab"/><rect x="278.9" y="301.6" width="3.9" height="3.9" fill="#e3a3ab"/><rect x="283.9" y="300.8" width="5.4" height="5.4" fill="#c21e32"/><rect x="289.9" y="301.1" width="4.9" height="4.9" fill="#cb4a5b"/><rect x="324.7" y="301.6" width="3.9" height="3.9" fill="#e3a3ab"/><rect x="50.1" y="307.3" width="3.9" height="3.9" fill="#a8c6cf"/><rect x="72.9" y="307.2" width="4.1" height="4.1" fill="#88aebc"/><rect x="101.7" y="307.4" width="3.7" height="3.7" fill="#b8d1d8"/><rect x="124.5" y="307.3" width="3.9" height="3.9" fill="#a8c6cf"/><rect x="278.9" y="307.3" width="3.9" height="3.9" fill="#e3a3ab"/><rect x="284.1" y="306.8" width="4.9" height="4.9" fill="#cb4a5b"/><rect x="289.6" y="306.5" width="5.4" height="5.4" fill="#c21e32"/><rect x="296.2" y="307.4" width="3.7" height="3.7" fill="#e8b0b8"/><rect x="324.7" y="307.3" width="3.9" height="3.9" fill="#e3a3ab"/><rect x="330.4" y="307.3" width="3.9" height="3.9" fill="#e3a3ab"/><rect x="56" y="313.2" width="3.6" height="3.6" fill="#ecbec4"/><rect x="107.1" y="312.8" width="4.3" height="4.3" fill="#d67a86"/><rect x="130.2" y="313" width="3.9" height="3.9" fill="#e3a3ab"/><rect x="164.5" y="313" width="3.9" height="3.9" fill="#a8c6cf"/><rect x="278.9" y="313" width="3.9" height="3.9" fill="#e3a3ab"/><rect x="290.4" y="313.1" width="3.7" height="3.7" fill="#e8b0b8"/><rect x="295.3" y="312.2" width="5.4" height="5.4" fill="#c21e32"/><rect x="318.4" y="312.4" width="5" height="5" fill="#4c8898"/><rect x="89.5" y="318.1" width="5.1" height="5.1" fill="#458292"/><rect x="96" y="318.8" width="3.7" height="3.7" fill="#b8d1d8"/><rect x="278.9" y="318.7" width="3.9" height="3.9" fill="#e3a3ab"/><rect x="301" y="317.9" width="5.4" height="5.4" fill="#c21e32"/><rect x="72.9" y="324.3" width="4.1" height="4.1" fill="#88aebc"/><rect x="84.3" y="324.3" width="4.1" height="4.1" fill="#88aebc"/><rect x="136" y="324.5" width="3.7" height="3.7" fill="#e8b0b8"/><rect x="152.9" y="324.2" width="4.3" height="4.3" fill="#d67a86"/><rect x="244.4" y="324.2" width="4.3" height="4.3" fill="#7ea8b6"/><rect x="267.3" y="324.3" width="4.1" height="4.1" fill="#88aebc"/><rect x="306.8" y="323.6" width="5.4" height="5.4" fill="#c21e32"/><rect x="313" y="324.1" width="4.4" height="4.4" fill="#d36e7b"/><rect x="67.1" y="329.9" width="4.3" height="4.3" fill="#d67a86"/><rect x="152.9" y="329.9" width="4.3" height="4.3" fill="#d67a86"/><rect x="261.8" y="330.1" width="3.9" height="3.9" fill="#a8c6cf"/><rect x="267.3" y="330" width="4.1" height="4.1" fill="#88aebc"/><rect x="307.2" y="329.8" width="4.4" height="4.4" fill="#d36e7b"/><rect x="312.5" y="329.3" width="5.4" height="5.4" fill="#c21e32"/><rect x="56" y="336" width="3.6" height="3.6" fill="#c8dce2"/><rect x="107.2" y="335.7" width="4.1" height="4.1" fill="#88aebc"/><rect x="130.1" y="335.7" width="4.1" height="4.1" fill="#88aebc"/><rect x="135.8" y="335.7" width="4.1" height="4.1" fill="#88aebc"/><rect x="181.7" y="335.8" width="3.9" height="3.9" fill="#e3a3ab"/><rect x="295.5" y="335.2" width="5" height="5" fill="#4c8898"/><rect x="318.2" y="335" width="5.4" height="5.4" fill="#c21e32"/><rect x="72.3" y="340.8" width="5.3" height="5.3" fill="#3e7c8c"/><rect x="83.9" y="341" width="4.9" height="4.9" fill="#568e9e"/><rect x="210.3" y="341.5" width="3.9" height="3.9" fill="#e3a3ab"/><rect x="238.9" y="341.5" width="3.9" height="3.9" fill="#e3a3ab"/><rect x="273.2" y="341.5" width="3.9" height="3.9" fill="#e3a3ab"/><rect x="278.9" y="341.4" width="4" height="4" fill="#df959f"/><rect x="284.6" y="341.5" width="3.9" height="3.9" fill="#e3a3ab"/><rect x="290.4" y="341.5" width="3.9" height="3.9" fill="#e3a3ab"/><rect x="323.9" y="340.7" width="5.4" height="5.4" fill="#c21e32"/><rect x="330.2" y="341.3" width="4.3" height="4.3" fill="#d67a86"/><rect x="72.8" y="347" width="4.3" height="4.3" fill="#7ea8b6"/><rect x="78.4" y="346.9" width="4.6" height="4.6" fill="#d06270"/><rect x="107.2" y="347.1" width="4.1" height="4.1" fill="#88aebc"/><rect x="124.2" y="346.9" width="4.4" height="4.4" fill="#74a1b0"/><rect x="129.9" y="346.9" width="4.4" height="4.4" fill="#74a1b0"/><rect x="135.9" y="347.2" width="3.9" height="3.9" fill="#a8c6cf"/><rect x="141.5" y="347.1" width="4.1" height="4.1" fill="#88aebc"/><rect x="210.3" y="347.2" width="3.9" height="3.9" fill="#a8c6cf"/><rect x="290.4" y="347.2" width="3.9" height="3.9" fill="#e3a3ab"/><rect x="324.5" y="347" width="4.3" height="4.3" fill="#d67a86"/><rect x="329.6" y="346.4" width="5.4" height="5.4" fill="#c21e32"/></g>
<text x="0" y="0" font-size="4.85" text-anchor="end" fill="#111" stroke="#111" stroke-width="0.07" transform="translate(45.6 71.6) scale(0.94 1)">Cluster4/CAF-S1</text>
<text x="0" y="0" font-size="4.85" fill="#111" stroke="#111" stroke-width="0.07" transform="translate(53.8 64.6) rotate(-90) scale(0.94 1)">Cluster4/CAF-S1</text>
<text x="0" y="0" font-size="4.85" text-anchor="end" fill="#111" stroke="#111" stroke-width="0.07" transform="translate(45.6 77.3) scale(0.94 1)">Cluster4/fibro</text>
<text x="0" y="0" font-size="4.85" fill="#111" stroke="#111" stroke-width="0.07" transform="translate(59.5 64.6) rotate(-90) scale(0.94 1)">Cluster4/fibro</text>
<text x="0" y="0" font-size="4.85" text-anchor="end" fill="#111" stroke="#111" stroke-width="0.07" transform="translate(45.6 83) scale(0.94 1)">NKG2A<tspan font-size="3.3" dy="-1.7">+</tspan><tspan dy="1.7"> </tspan>NK</text>
<text x="0" y="0" font-size="4.85" fill="#111" stroke="#111" stroke-width="0.07" transform="translate(65.2 64.6) rotate(-90) scale(0.94 1)">NKG2A<tspan font-size="3.3" dy="-1.7">+</tspan><tspan dy="1.7"> </tspan>NK</text>
<text x="0" y="0" font-size="4.85" text-anchor="end" fill="#111" stroke="#111" stroke-width="0.07" transform="translate(45.6 88.7) scale(0.94 1)">CD16<tspan font-size="3.3" dy="-1.7">+</tspan><tspan dy="1.7"> </tspan>NK/total NK</text>
<text x="0" y="0" font-size="4.85" fill="#111" stroke="#111" stroke-width="0.07" transform="translate(70.9 64.6) rotate(-90) scale(0.94 1)">CD16<tspan font-size="3.3" dy="-1.7">+</tspan><tspan dy="1.7"> </tspan>NK/total NK</text>
<text x="0" y="0" font-size="4.85" text-anchor="end" fill="#111" stroke="#111" stroke-width="0.07" transform="translate(45.6 94.4) scale(0.94 1)">CD4<tspan font-size="3.3" dy="-1.7">+</tspan><tspan dy="1.7">/</tspan>T</text>
<text x="0" y="0" font-size="4.85" fill="#111" stroke="#111" stroke-width="0.07" transform="translate(76.6 64.6) rotate(-90) scale(0.94 1)">CD4<tspan font-size="3.3" dy="-1.7">+</tspan><tspan dy="1.7">/</tspan>T</text>
<text x="0" y="0" font-size="4.85" text-anchor="end" fill="#111" stroke="#111" stroke-width="0.07" transform="translate(45.6 100.1) scale(0.94 1)">T/CD45<tspan font-size="3.3" dy="-1.7">+</tspan></text>
<text x="0" y="0" font-size="4.85" fill="#111" stroke="#111" stroke-width="0.07" transform="translate(82.4 64.6) rotate(-90) scale(0.94 1)">T/CD45<tspan font-size="3.3" dy="-1.7">+</tspan></text>
<text x="0" y="0" font-size="4.85" text-anchor="end" fill="#111" stroke="#111" stroke-width="0.07" transform="translate(45.6 105.8) scale(0.94 1)">CD4<tspan font-size="3.3" dy="-1.7">+</tspan><tspan dy="1.7">/</tspan>CD45<tspan font-size="3.3" dy="-1.7">+</tspan></text>
<text x="0" y="0" font-size="4.85" fill="#111" stroke="#111" stroke-width="0.07" transform="translate(88.1 64.6) rotate(-90) scale(0.94 1)">CD4<tspan font-size="3.3" dy="-1.7">+</tspan><tspan dy="1.7">/</tspan>CD45<tspan font-size="3.3" dy="-1.7">+</tspan></text>
<text x="0" y="0" font-size="4.85" text-anchor="end" fill="#111" stroke="#111" stroke-width="0.07" transform="translate(45.6 111.5) scale(0.94 1)">CD45<tspan font-size="3.3" dy="-1.7">+</tspan><tspan dy="1.7">/</tspan>live cells</text>
<text x="0" y="0" font-size="4.85" fill="#111" stroke="#111" stroke-width="0.07" transform="translate(93.8 64.6) rotate(-90) scale(0.94 1)">CD45<tspan font-size="3.3" dy="-1.7">+</tspan><tspan dy="1.7">/</tspan>live cells</text>
<text x="0" y="0" font-size="4.85" text-anchor="end" fill="#111" stroke="#111" stroke-width="0.07" transform="translate(45.6 117.2) scale(0.94 1)">B/CD45<tspan font-size="3.3" dy="-1.7">+</tspan></text>
<text x="0" y="0" font-size="4.85" fill="#111" stroke="#111" stroke-width="0.07" transform="translate(99.5 64.6) rotate(-90) scale(0.94 1)">B/CD45<tspan font-size="3.3" dy="-1.7">+</tspan></text>
<text x="0" y="0" font-size="4.85" text-anchor="end" fill="#111" stroke="#111" stroke-width="0.07" transform="translate(45.6 122.9) scale(0.94 1)">Cluster0/CAF-S1</text>
<text x="0" y="0" font-size="4.85" fill="#111" stroke="#111" stroke-width="0.07" transform="translate(105.2 64.6) rotate(-90) scale(0.94 1)">Cluster0/CAF-S1</text>
<text x="0" y="0" font-size="4.85" text-anchor="end" fill="#111" stroke="#111" stroke-width="0.07" transform="translate(45.6 128.6) scale(0.94 1)">Cluster0/fibro</text>
<text x="0" y="0" font-size="4.85" fill="#111" stroke="#111" stroke-width="0.07" transform="translate(111 64.6) rotate(-90) scale(0.94 1)">Cluster0/fibro</text>
<text x="0" y="0" font-size="4.85" text-anchor="end" fill="#111" stroke="#111" stroke-width="0.07" transform="translate(45.6 134.3) scale(0.94 1)">PD-1<tspan font-size="3.3" dy="-1.7">+</tspan><tspan dy="1.7"> </tspan>CD4<tspan font-size="3.3" dy="-1.7">+</tspan></text>
<text x="0" y="0" font-size="4.85" fill="#111" stroke="#111" stroke-width="0.07" transform="translate(116.7 64.6) rotate(-90) scale(0.94 1)">PD-1<tspan font-size="3.3" dy="-1.7">+</tspan><tspan dy="1.7"> </tspan>CD4<tspan font-size="3.3" dy="-1.7">+</tspan></text>
<text x="0" y="0" font-size="4.85" text-anchor="end" fill="#111" stroke="#111" stroke-width="0.07" transform="translate(45.6 140) scale(0.94 1)">TIGIT<tspan font-size="3.3" dy="-1.7">+</tspan><tspan dy="1.7"> </tspan>CD4<tspan font-size="3.3" dy="-1.7">+</tspan></text>
<text x="0" y="0" font-size="4.85" fill="#111" stroke="#111" stroke-width="0.07" transform="translate(122.4 64.6) rotate(-90) scale(0.94 1)">TIGIT<tspan font-size="3.3" dy="-1.7">+</tspan><tspan dy="1.7"> </tspan>CD4<tspan font-size="3.3" dy="-1.7">+</tspan></text>
<text x="0" y="0" font-size="4.85" text-anchor="end" fill="#111" stroke="#111" stroke-width="0.07" transform="translate(45.6 145.7) scale(0.94 1)">Cluster3/CAF-S1</text>
<text x="0" y="0" font-size="4.85" fill="#111" stroke="#111" stroke-width="0.07" transform="translate(128.1 64.6) rotate(-90) scale(0.94 1)">Cluster3/CAF-S1</text>
<text x="0" y="0" font-size="4.85" text-anchor="end" fill="#111" stroke="#111" stroke-width="0.07" transform="translate(45.6 151.4) scale(0.94 1)">Cluster3/fibro</text>
<text x="0" y="0" font-size="4.85" fill="#111" stroke="#111" stroke-width="0.07" transform="translate(133.8 64.6) rotate(-90) scale(0.94 1)">Cluster3/fibro</text>
<text x="0" y="0" font-size="4.85" text-anchor="end" fill="#111" stroke="#111" stroke-width="0.07" transform="translate(45.6 157.1) scale(0.94 1)">CTLA4<tspan font-size="3.3" dy="-1.7">+</tspan><tspan dy="1.7"> </tspan>CD4<tspan font-size="3.3" dy="-1.7">+</tspan></text>
<text x="0" y="0" font-size="4.85" fill="#111" stroke="#111" stroke-width="0.07" transform="translate(139.6 64.6) rotate(-90) scale(0.94 1)">CTLA4<tspan font-size="3.3" dy="-1.7">+</tspan><tspan dy="1.7"> </tspan>CD4<tspan font-size="3.3" dy="-1.7">+</tspan></text>
<text x="0" y="0" font-size="4.85" text-anchor="end" fill="#111" stroke="#111" stroke-width="0.07" transform="translate(45.6 162.8) scale(0.94 1)">CTLA4<tspan font-size="3.3" dy="-1.7">+</tspan><tspan dy="1.7"> </tspan>CD8<tspan font-size="3.3" dy="-1.7">+</tspan></text>
<text x="0" y="0" font-size="4.85" fill="#111" stroke="#111" stroke-width="0.07" transform="translate(145.3 64.6) rotate(-90) scale(0.94 1)">CTLA4<tspan font-size="3.3" dy="-1.7">+</tspan><tspan dy="1.7"> </tspan>CD8<tspan font-size="3.3" dy="-1.7">+</tspan></text>
<text x="0" y="0" font-size="4.85" text-anchor="end" fill="#111" stroke="#111" stroke-width="0.07" transform="translate(45.6 168.5) scale(0.94 1)">CD161<tspan font-size="3.3" dy="-1.7">+</tspan><tspan dy="1.7"> </tspan>CD4<tspan font-size="3.3" dy="-1.7">+</tspan></text>
<text x="0" y="0" font-size="4.85" fill="#111" stroke="#111" stroke-width="0.07" transform="translate(151 64.6) rotate(-90) scale(0.94 1)">CD161<tspan font-size="3.3" dy="-1.7">+</tspan><tspan dy="1.7"> </tspan>CD4<tspan font-size="3.3" dy="-1.7">+</tspan></text>
<text x="0" y="0" font-size="4.85" text-anchor="end" fill="#111" stroke="#111" stroke-width="0.07" transform="translate(45.6 174.2) scale(0.94 1)">CD31/live cells</text>
<text x="0" y="0" font-size="4.85" fill="#111" stroke="#111" stroke-width="0.07" transform="translate(156.7 64.6) rotate(-90) scale(0.94 1)">CD31/live cells</text>
<text x="0" y="0" font-size="4.85" text-anchor="end" fill="#111" stroke="#111" stroke-width="0.07" transform="translate(45.6 179.9) scale(0.94 1)">CD161<tspan font-size="3.3" dy="-1.7">+</tspan><tspan dy="1.7"> </tspan>CD8<tspan font-size="3.3" dy="-1.7">+</tspan></text>
<text x="0" y="0" font-size="4.85" fill="#111" stroke="#111" stroke-width="0.07" transform="translate(162.4 64.6) rotate(-90) scale(0.94 1)">CD161<tspan font-size="3.3" dy="-1.7">+</tspan><tspan dy="1.7"> </tspan>CD8<tspan font-size="3.3" dy="-1.7">+</tspan></text>
<text x="0" y="0" font-size="4.85" text-anchor="end" fill="#111" stroke="#111" stroke-width="0.07" transform="translate(45.6 185.6) scale(0.94 1)">CAF-S3/fibro</text>
<text x="0" y="0" font-size="4.85" fill="#111" stroke="#111" stroke-width="0.07" transform="translate(168.2 64.6) rotate(-90) scale(0.94 1)">CAF-S3/fibro</text>
<text x="0" y="0" font-size="4.85" text-anchor="end" fill="#111" stroke="#111" stroke-width="0.07" transform="translate(45.6 191.3) scale(0.94 1)">CD161<tspan font-size="3.3" dy="-1.7">+</tspan><tspan dy="1.7"> </tspan>NK</text>
<text x="0" y="0" font-size="4.85" fill="#111" stroke="#111" stroke-width="0.07" transform="translate(173.9 64.6) rotate(-90) scale(0.94 1)">CD161<tspan font-size="3.3" dy="-1.7">+</tspan><tspan dy="1.7"> </tspan>NK</text>
<text x="0" y="0" font-size="4.85" text-anchor="end" fill="#111" stroke="#111" stroke-width="0.07" transform="translate(45.6 197) scale(0.94 1)">TIGIT<tspan font-size="3.3" dy="-1.7">+</tspan><tspan dy="1.7"> </tspan>CD8<tspan font-size="3.3" dy="-1.7">+</tspan></text>
<text x="0" y="0" font-size="4.85" fill="#111" stroke="#111" stroke-width="0.07" transform="translate(179.6 64.6) rotate(-90) scale(0.94 1)">TIGIT<tspan font-size="3.3" dy="-1.7">+</tspan><tspan dy="1.7"> </tspan>CD8<tspan font-size="3.3" dy="-1.7">+</tspan></text>
<text x="0" y="0" font-size="4.85" text-anchor="end" fill="#111" stroke="#111" stroke-width="0.07" transform="translate(45.6 202.7) scale(0.94 1)">TIGIT<tspan font-size="3.3" dy="-1.7">+</tspan><tspan dy="1.7"> </tspan>NK</text>
<text x="0" y="0" font-size="4.85" fill="#111" stroke="#111" stroke-width="0.07" transform="translate(185.3 64.6) rotate(-90) scale(0.94 1)">TIGIT<tspan font-size="3.3" dy="-1.7">+</tspan><tspan dy="1.7"> </tspan>NK</text>
<text x="0" y="0" font-size="4.85" text-anchor="end" fill="#111" stroke="#111" stroke-width="0.07" transform="translate(45.6 208.4) scale(0.94 1)">CD158K NK</text>
<text x="0" y="0" font-size="4.85" fill="#111" stroke="#111" stroke-width="0.07" transform="translate(191 64.6) rotate(-90) scale(0.94 1)">CD158K NK</text>
<text x="0" y="0" font-size="4.85" text-anchor="end" fill="#111" stroke="#111" stroke-width="0.07" transform="translate(45.6 214.1) scale(0.94 1)">CD158<tspan font-size="3.3" dy="-1.7">+</tspan><tspan dy="1.7"> </tspan>CD4<tspan font-size="3.3" dy="-1.7">+</tspan></text>
<text x="0" y="0" font-size="4.85" fill="#111" stroke="#111" stroke-width="0.07" transform="translate(196.8 64.6) rotate(-90) scale(0.94 1)">CD158<tspan font-size="3.3" dy="-1.7">+</tspan><tspan dy="1.7"> </tspan>CD4<tspan font-size="3.3" dy="-1.7">+</tspan></text>
<text x="0" y="0" font-size="4.85" text-anchor="end" fill="#111" stroke="#111" stroke-width="0.07" transform="translate(45.6 219.8) scale(0.94 1)">CAF-S4/fibro</text>
<text x="0" y="0" font-size="4.85" fill="#111" stroke="#111" stroke-width="0.07" transform="translate(202.5 64.6) rotate(-90) scale(0.94 1)">CAF-S4/fibro</text>
<text x="0" y="0" font-size="4.85" text-anchor="end" fill="#111" stroke="#111" stroke-width="0.07" transform="translate(45.6 225.5) scale(0.94 1)">CD69<tspan font-size="3.3" dy="-1.7">+</tspan><tspan dy="1.7"> </tspan>B cells</text>
<text x="0" y="0" font-size="4.85" fill="#111" stroke="#111" stroke-width="0.07" transform="translate(208.2 64.6) rotate(-90) scale(0.94 1)">CD69<tspan font-size="3.3" dy="-1.7">+</tspan><tspan dy="1.7"> </tspan>B cells</text>
<text x="0" y="0" font-size="4.85" text-anchor="end" fill="#111" stroke="#111" stroke-width="0.07" transform="translate(45.6 231.2) scale(0.94 1)">CD14<tspan font-size="3.3" dy="-1.7">+</tspan><tspan dy="1.7">/</tspan>CD45<tspan font-size="3.3" dy="-1.7">+</tspan></text>
<text x="0" y="0" font-size="4.85" fill="#111" stroke="#111" stroke-width="0.07" transform="translate(213.9 64.6) rotate(-90) scale(0.94 1)">CD14<tspan font-size="3.3" dy="-1.7">+</tspan><tspan dy="1.7">/</tspan>CD45<tspan font-size="3.3" dy="-1.7">+</tspan></text>
<text x="0" y="0" font-size="4.85" text-anchor="end" fill="#111" stroke="#111" stroke-width="0.07" transform="translate(45.6 236.9) scale(0.94 1)">CD244<tspan font-size="3.3" dy="-1.7">+</tspan><tspan dy="1.7"> </tspan>NK</text>
<text x="0" y="0" font-size="4.85" fill="#111" stroke="#111" stroke-width="0.07" transform="translate(219.6 64.6) rotate(-90) scale(0.94 1)">CD244<tspan font-size="3.3" dy="-1.7">+</tspan><tspan dy="1.7"> </tspan>NK</text>
<text x="0" y="0" font-size="4.85" text-anchor="end" fill="#111" stroke="#111" stroke-width="0.07" transform="translate(45.6 242.6) scale(0.94 1)">CD244<tspan font-size="3.3" dy="-1.7">+</tspan><tspan dy="1.7"> </tspan>CD4<tspan font-size="3.3" dy="-1.7">+</tspan></text>
<text x="0" y="0" font-size="4.85" fill="#111" stroke="#111" stroke-width="0.07" transform="translate(225.4 64.6) rotate(-90) scale(0.94 1)">CD244<tspan font-size="3.3" dy="-1.7">+</tspan><tspan dy="1.7"> </tspan>CD4<tspan font-size="3.3" dy="-1.7">+</tspan></text>
<text x="0" y="0" font-size="4.85" text-anchor="end" fill="#111" stroke="#111" stroke-width="0.07" transform="translate(45.6 248.3) scale(0.94 1)">CD158K CD8<tspan font-size="3.3" dy="-1.7">+</tspan></text>
<text x="0" y="0" font-size="4.85" fill="#111" stroke="#111" stroke-width="0.07" transform="translate(231.1 64.6) rotate(-90) scale(0.94 1)">CD158K CD8<tspan font-size="3.3" dy="-1.7">+</tspan></text>
<text x="0" y="0" font-size="4.85" text-anchor="end" fill="#111" stroke="#111" stroke-width="0.07" transform="translate(45.6 254) scale(0.94 1)">NKG2A<tspan font-size="3.3" dy="-1.7">+</tspan><tspan dy="1.7"> </tspan>CD4<tspan font-size="3.3" dy="-1.7">+</tspan></text>
<text x="0" y="0" font-size="4.85" fill="#111" stroke="#111" stroke-width="0.07" transform="translate(236.8 64.6) rotate(-90) scale(0.94 1)">NKG2A<tspan font-size="3.3" dy="-1.7">+</tspan><tspan dy="1.7"> </tspan>CD4<tspan font-size="3.3" dy="-1.7">+</tspan></text>
<text x="0" y="0" font-size="4.85" text-anchor="end" fill="#111" stroke="#111" stroke-width="0.07" transform="translate(45.6 259.7) scale(0.94 1)">CD244<tspan font-size="3.3" dy="-1.7">+</tspan><tspan dy="1.7"> </tspan>CD8<tspan font-size="3.3" dy="-1.7">+</tspan></text>
<text x="0" y="0" font-size="4.85" fill="#111" stroke="#111" stroke-width="0.07" transform="translate(242.5 64.6) rotate(-90) scale(0.94 1)">CD244<tspan font-size="3.3" dy="-1.7">+</tspan><tspan dy="1.7"> </tspan>CD8<tspan font-size="3.3" dy="-1.7">+</tspan></text>
<text x="0" y="0" font-size="4.85" text-anchor="end" fill="#111" stroke="#111" stroke-width="0.07" transform="translate(45.6 265.4) scale(0.94 1)">PD-1<tspan font-size="3.3" dy="-1.7">+</tspan><tspan dy="1.7"> </tspan>CD8<tspan font-size="3.3" dy="-1.7">+</tspan></text>
<text x="0" y="0" font-size="4.85" fill="#111" stroke="#111" stroke-width="0.07" transform="translate(248.2 64.6) rotate(-90) scale(0.94 1)">PD-1<tspan font-size="3.3" dy="-1.7">+</tspan><tspan dy="1.7"> </tspan>CD8<tspan font-size="3.3" dy="-1.7">+</tspan></text>
<text x="0" y="0" font-size="4.85" text-anchor="end" fill="#111" stroke="#111" stroke-width="0.07" transform="translate(45.6 271.1) scale(0.94 1)">NKG2A<tspan font-size="3.3" dy="-1.7">+</tspan><tspan dy="1.7"> </tspan>CD8<tspan font-size="3.3" dy="-1.7">+</tspan></text>
<text x="0" y="0" font-size="4.85" fill="#111" stroke="#111" stroke-width="0.07" transform="translate(254 64.6) rotate(-90) scale(0.94 1)">NKG2A<tspan font-size="3.3" dy="-1.7">+</tspan><tspan dy="1.7"> </tspan>CD8<tspan font-size="3.3" dy="-1.7">+</tspan></text>
<text x="0" y="0" font-size="4.85" text-anchor="end" fill="#111" stroke="#111" stroke-width="0.07" transform="translate(45.6 276.8) scale(0.94 1)">CD69<tspan font-size="3.3" dy="-1.7">+</tspan><tspan dy="1.7"> </tspan>NK</text>
<text x="0" y="0" font-size="4.85" fill="#111" stroke="#111" stroke-width="0.07" transform="translate(259.7 64.6) rotate(-90) scale(0.94 1)">CD69<tspan font-size="3.3" dy="-1.7">+</tspan><tspan dy="1.7"> </tspan>NK</text>
<text x="0" y="0" font-size="4.85" text-anchor="end" fill="#111" stroke="#111" stroke-width="0.07" transform="translate(45.6 282.5) scale(0.94 1)">CD69<tspan font-size="3.3" dy="-1.7">+</tspan><tspan dy="1.7"> </tspan>CD4<tspan font-size="3.3" dy="-1.7">+</tspan></text>
<text x="0" y="0" font-size="4.85" fill="#111" stroke="#111" stroke-width="0.07" transform="translate(265.4 64.6) rotate(-90) scale(0.94 1)">CD69<tspan font-size="3.3" dy="-1.7">+</tspan><tspan dy="1.7"> </tspan>CD4<tspan font-size="3.3" dy="-1.7">+</tspan></text>
<text x="0" y="0" font-size="4.85" text-anchor="end" fill="#111" stroke="#111" stroke-width="0.07" transform="translate(45.6 288.2) scale(0.94 1)">CD69<tspan font-size="3.3" dy="-1.7">+</tspan><tspan dy="1.7"> </tspan>CD8<tspan font-size="3.3" dy="-1.7">+</tspan></text>
<text x="0" y="0" font-size="4.85" fill="#111" stroke="#111" stroke-width="0.07" transform="translate(271.1 64.6) rotate(-90) scale(0.94 1)">CD69<tspan font-size="3.3" dy="-1.7">+</tspan><tspan dy="1.7"> </tspan>CD8<tspan font-size="3.3" dy="-1.7">+</tspan></text>
<text x="0" y="0" font-size="4.85" text-anchor="end" fill="#111" stroke="#111" stroke-width="0.07" transform="translate(45.6 293.9) scale(0.94 1)">Cluster1/CAF-S1</text>
<text x="0" y="0" font-size="4.85" fill="#111" stroke="#111" stroke-width="0.07" transform="translate(276.8 64.6) rotate(-90) scale(0.94 1)">Cluster1/CAF-S1</text>
<text x="0" y="0" font-size="4.85" text-anchor="end" fill="#111" stroke="#111" stroke-width="0.07" transform="translate(45.6 299.6) scale(0.94 1)">Cluster1/fibro</text>
<text x="0" y="0" font-size="4.85" fill="#111" stroke="#111" stroke-width="0.07" transform="translate(282.6 64.6) rotate(-90) scale(0.94 1)">Cluster1/fibro</text>
<text x="0" y="0" font-size="4.85" text-anchor="end" fill="#111" stroke="#111" stroke-width="0.07" transform="translate(45.6 305.3) scale(0.94 1)">Cluster2/CAF-S1</text>
<text x="0" y="0" font-size="4.85" fill="#111" stroke="#111" stroke-width="0.07" transform="translate(288.3 64.6) rotate(-90) scale(0.94 1)">Cluster2/CAF-S1</text>
<text x="0" y="0" font-size="4.85" text-anchor="end" fill="#111" stroke="#111" stroke-width="0.07" transform="translate(45.6 311) scale(0.94 1)">Cluster2/fibro</text>
<text x="0" y="0" font-size="4.85" fill="#111" stroke="#111" stroke-width="0.07" transform="translate(294 64.6) rotate(-90) scale(0.94 1)">Cluster2/fibro</text>
<text x="0" y="0" font-size="4.85" text-anchor="end" fill="#111" stroke="#111" stroke-width="0.07" transform="translate(45.6 316.7) scale(0.94 1)">CAF-S1/fibro</text>
<text x="0" y="0" font-size="4.85" fill="#111" stroke="#111" stroke-width="0.07" transform="translate(299.7 64.6) rotate(-90) scale(0.94 1)">CAF-S1/fibro</text>
<text x="0" y="0" font-size="4.85" text-anchor="end" fill="#111" stroke="#111" stroke-width="0.07" transform="translate(45.6 322.4) scale(0.94 1)">EPCAM<tspan font-size="3.3" dy="-1.7">+</tspan><tspan dy="1.7">/</tspan>live cells</text>
<text x="0" y="0" font-size="4.85" fill="#111" stroke="#111" stroke-width="0.07" transform="translate(305.4 64.6) rotate(-90) scale(0.94 1)">EPCAM<tspan font-size="3.3" dy="-1.7">+</tspan><tspan dy="1.7">/</tspan>live cells</text>
<text x="0" y="0" font-size="4.85" text-anchor="end" fill="#111" stroke="#111" stroke-width="0.07" transform="translate(45.6 328.1) scale(0.94 1)">NK/CD45<tspan font-size="3.3" dy="-1.7">+</tspan></text>
<text x="0" y="0" font-size="4.85" fill="#111" stroke="#111" stroke-width="0.07" transform="translate(311.2 64.6) rotate(-90) scale(0.94 1)">NK/CD45<tspan font-size="3.3" dy="-1.7">+</tspan></text>
<text x="0" y="0" font-size="4.85" text-anchor="end" fill="#111" stroke="#111" stroke-width="0.07" transform="translate(45.6 333.8) scale(0.94 1)">CD16<tspan font-size="3.3" dy="-1.7">+</tspan><tspan dy="1.7"> </tspan>NK/CD45<tspan font-size="3.3" dy="-1.7">+</tspan></text>
<text x="0" y="0" font-size="4.85" fill="#111" stroke="#111" stroke-width="0.07" transform="translate(316.9 64.6) rotate(-90) scale(0.94 1)">CD16<tspan font-size="3.3" dy="-1.7">+</tspan><tspan dy="1.7"> </tspan>NK/CD45<tspan font-size="3.3" dy="-1.7">+</tspan></text>
<text x="0" y="0" font-size="4.85" text-anchor="end" fill="#111" stroke="#111" stroke-width="0.07" transform="translate(45.6 339.5) scale(0.94 1)">CAF-S2/fibro</text>
<text x="0" y="0" font-size="4.85" fill="#111" stroke="#111" stroke-width="0.07" transform="translate(322.6 64.6) rotate(-90) scale(0.94 1)">CAF-S2/fibro</text>
<text x="0" y="0" font-size="4.85" text-anchor="end" fill="#111" stroke="#111" stroke-width="0.07" transform="translate(45.6 345.2) scale(0.94 1)">CD8<tspan font-size="3.3" dy="-1.7">+</tspan><tspan dy="1.7">/</tspan>T</text>
<text x="0" y="0" font-size="4.85" fill="#111" stroke="#111" stroke-width="0.07" transform="translate(328.3 64.6) rotate(-90) scale(0.94 1)">CD8<tspan font-size="3.3" dy="-1.7">+</tspan><tspan dy="1.7">/</tspan>T</text>
<text x="0" y="0" font-size="4.85" text-anchor="end" fill="#111" stroke="#111" stroke-width="0.07" transform="translate(45.6 350.9) scale(0.94 1)">CD8<tspan font-size="3.3" dy="-1.7">+</tspan><tspan dy="1.7">/</tspan>CD45<tspan font-size="3.3" dy="-1.7">+</tspan></text>
<text x="0" y="0" font-size="4.85" fill="#111" stroke="#111" stroke-width="0.07" transform="translate(334 64.6) rotate(-90) scale(0.94 1)">CD8<tspan font-size="3.3" dy="-1.7">+</tspan><tspan dy="1.7">/</tspan>CD45<tspan font-size="3.3" dy="-1.7">+</tspan></text>
<rect x="2.3" y="67" width="335.7" height="11.4" fill="none" stroke="#6ccbd3" stroke-width="1.2"/>
<rect x="2.3" y="118.3" width="335.7" height="11.4" fill="none" stroke="#d99ca2" stroke-width="1.0"/>
<rect x="2.3" y="141.1" width="335.7" height="11.4" fill="none" stroke="#72bfa2" stroke-width="1.0"/>
<rect x="2.3" y="289.3" width="335.7" height="11.4" fill="none" stroke="#cbb56a" stroke-width="1.1"/>
<rect x="2.3" y="300.7" width="335.7" height="11.4" fill="none" stroke="#9fb872" stroke-width="1.1"/>
<text x="340.8" y="6.6" font-size="6.8" fill="#c8545e" stroke="#c8545e" stroke-width="0.12" textLength="69" lengthAdjust="spacingAndGlyphs">Cluster 0/ecm-myCAF</text>
<rect x="342" y="10.8" width="174.6" height="158.8" fill="none" stroke="#dca5aa" stroke-width="1.1"/>
<text x="341.2" y="178" font-size="6.8" fill="#3f9f73" stroke="#3f9f73" stroke-width="0.12" textLength="74" lengthAdjust="spacingAndGlyphs">Cluster 3/TGFβ-myCAF</text>
<rect x="341.5" y="180.2" width="175.1" height="82.8" fill="none" stroke="#82c8a8" stroke-width="1.1"/>
<text x="340.7" y="271.8" font-size="6.8" fill="#e2a356" stroke="#e2a356" stroke-width="0.12" textLength="65.4" lengthAdjust="spacingAndGlyphs">Cluster 1/detox-iCAF</text>
<rect x="341" y="275.3" width="86.8" height="81.1" fill="none" stroke="#dcc489" stroke-width="1.1"/>
<text x="431.4" y="271.8" font-size="6.8" fill="#6fae58" stroke="#6fae58" stroke-width="0.12" textLength="53.6" lengthAdjust="spacingAndGlyphs">Cluster 2/IL-iCAF</text>
<rect x="432.3" y="275.3" width="84.3" height="81.1" fill="none" stroke="#b2d29a" stroke-width="1.1"/>
<text x="2.6" y="363.9" font-size="6.8" fill="#3aa6cc" stroke="#3aa6cc" stroke-width="0.12" textLength="77.4" lengthAdjust="spacingAndGlyphs">Cluster 4/wound-myCAF</text>
<rect x="2.6" y="368.5" width="515.4" height="83.9" fill="none" stroke="#72c6e2" stroke-width="1.6"/>
<path d="M362.5 13.2V75.5H424" stroke="#222" stroke-width="0.8" fill="none"/>
<text x="360.5" y="15.6" font-size="4.7" text-anchor="end" fill="#333" stroke="#333" stroke-width="0.12">60</text>
<text x="360.5" y="35" font-size="4.7" text-anchor="end" fill="#333" stroke="#333" stroke-width="0.12">40</text>
<text x="360.5" y="54.6" font-size="4.7" text-anchor="end" fill="#333" stroke="#333" stroke-width="0.12">20</text>
<text x="360.5" y="74" font-size="4.7" text-anchor="end" fill="#333" stroke="#333" stroke-width="0.12">0</text>
<text x="380.7" y="81.1" font-size="4.7" text-anchor="middle" fill="#333" stroke="#333" stroke-width="0.12">20</text>
<text x="402.3" y="81.1" font-size="4.7" text-anchor="middle" fill="#333" stroke="#333" stroke-width="0.12">40</text>
<text x="422.2" y="81.1" font-size="4.7" text-anchor="middle" fill="#333" stroke="#333" stroke-width="0.12">60</text>
<path d="M362.5 14h-1.3M362.5 33.4h-1.3M362.5 53h-1.3M362.5 72.4h-1.3M380.7 75.5v1.3M402.3 75.5v1.3M422.2 75.5v1.3" stroke="#333" stroke-width="0.5"/>
<text x="393" y="88.3" font-size="4.8" text-anchor="middle" fill="#333" stroke="#333" stroke-width="0.12">PD-1<tspan font-size="3.3" dy="-1.7">+</tspan><tspan dy="1.7">  </tspan>CD4<tspan font-size="3.3" dy="-1.7">+</tspan></text>
<text x="0" y="0" font-size="4.8" text-anchor="middle" fill="#333" stroke="#333" stroke-width="0.12" transform="translate(352.6 44.4) rotate(-90)">ecm-myCAF/fibro</text>
<text x="366" y="18.3" font-size="4.8" fill="#333" stroke="#333" stroke-width="0.12"><tspan font-style="italic">r</tspan> = 0.44</text>
<text x="366" y="23.9" font-size="4.8" fill="#333" stroke="#333" stroke-width="0.12"><tspan font-style="italic">P</tspan> = 0.009</text>
<path d="M366 66.3L422.2 42.1" stroke="#6883aa" stroke-width="0.85"/>
<path d="M415.3 15.8h0M409.2 30.1h0M372.9 34.5h0M421.3 38.8h0M399.2 43.1h0M377.7 43.1h0M381.5 44.3h0M366.3 49h0M380.1 51.6h0M382.9 52.1h0M387.1 53h0M390.2 53.8h0M373.2 57.3h0M378.9 57.7h0M419.2 60.8h0M376.3 63.4h0M377.2 64.8h0M388.4 63.7h0M385.3 65.1h0M379.8 66.5h0M382.4 66.8h0M396.2 66.8h0M398 66.8h0M375.5 67.7h0M385.8 67.3h0M371.5 69.8h0M376.3 68.9h0M379.8 70.3h0M374.6 70.6h0M365.6 72h0M380.7 71.7h0M388.1 71.7h0M397.6 72.4h0" stroke="#111" stroke-width="2.3" stroke-linecap="round"/>
<path d="M449.1 13.1V75.6H511" stroke="#222" stroke-width="0.8" fill="none"/>
<text x="447.1" y="15.1" font-size="4.7" text-anchor="end" fill="#333" stroke="#333" stroke-width="0.12">60</text>
<text x="447.1" y="35.2" font-size="4.7" text-anchor="end" fill="#333" stroke="#333" stroke-width="0.12">40</text>
<text x="447.1" y="54.8" font-size="4.7" text-anchor="end" fill="#333" stroke="#333" stroke-width="0.12">20</text>
<text x="447.1" y="74.5" font-size="4.7" text-anchor="end" fill="#333" stroke="#333" stroke-width="0.12">0</text>
<text x="457.5" y="81.2" font-size="4.7" text-anchor="middle" fill="#333" stroke="#333" stroke-width="0.12">25</text>
<text x="477.1" y="81.2" font-size="4.7" text-anchor="middle" fill="#333" stroke="#333" stroke-width="0.12">50</text>
<text x="496.8" y="81.2" font-size="4.7" text-anchor="middle" fill="#333" stroke="#333" stroke-width="0.12">75</text>
<path d="M449.1 13.5h-1.3M449.1 33.6h-1.3M449.1 53.2h-1.3M449.1 72.9h-1.3M457.5 75.6v1.3M477.1 75.6v1.3M496.8 75.6v1.3" stroke="#333" stroke-width="0.5"/>
<text x="477" y="88.3" font-size="4.8" text-anchor="middle" fill="#333" stroke="#333" stroke-width="0.12">TIGIT<tspan font-size="3.3" dy="-1.7">+</tspan><tspan dy="1.7">  </tspan>CD4<tspan font-size="3.3" dy="-1.7">+</tspan></text>
<text x="0" y="0" font-size="4.8" text-anchor="middle" fill="#333" stroke="#333" stroke-width="0.12" transform="translate(439.2 44.3) rotate(-90)">ecm-myCAF/fibro</text>
<text x="452" y="18.7" font-size="4.8" fill="#333" stroke="#333" stroke-width="0.12"><tspan font-style="italic">r</tspan> = 0.51</text>
<text x="452" y="24.3" font-size="4.8" fill="#333" stroke="#333" stroke-width="0.12"><tspan font-style="italic">P</tspan> = 0.002</text>
<path d="M452 67.8L508.7 40.9" stroke="#6883aa" stroke-width="0.85"/>
<path d="M508.2 16.2h0M480.8 30.3h0M455.7 34.9h0M500.9 38.7h0M491.2 43.3h0M496.7 43.3h0M473.4 44.6h0M463 49h0M478.9 51.9h0M479.8 52.6h0M468.5 53.2h0M474.4 53.2h0M475.3 51.9h0M453.9 57.7h0M467 57.7h0M457.5 63.4h0M474 61.4h0M478 63.8h0M477.1 65h0M472.2 65.6h0M470.7 66.9h0M466.7 66.9h0M464.3 68.3h0M460.6 69.8h0M486.8 66.1h0M488.1 66.9h0M463 72h0M483.9 72.4h0M493 71.6h0M452.4 70.5h0M453.4 71.8h0M454.3 70.2h0M455.2 72.2h0M452.8 72.6h0M454 73h0" stroke="#111" stroke-width="2.3" stroke-linecap="round"/>
<path d="M362.5 92.9V156.6H423" stroke="#222" stroke-width="0.8" fill="none"/>
<text x="360.5" y="95.9" font-size="4.7" text-anchor="end" fill="#333" stroke="#333" stroke-width="0.12">60</text>
<text x="360.5" y="115.6" font-size="4.7" text-anchor="end" fill="#333" stroke="#333" stroke-width="0.12">40</text>
<text x="360.5" y="135.5" font-size="4.7" text-anchor="end" fill="#333" stroke="#333" stroke-width="0.12">20</text>
<text x="360.5" y="155.1" font-size="4.7" text-anchor="end" fill="#333" stroke="#333" stroke-width="0.12">0</text>
<text x="365.6" y="162.2" font-size="4.7" text-anchor="middle" fill="#333" stroke="#333" stroke-width="0.12">0</text>
<text x="382.4" y="162.2" font-size="4.7" text-anchor="middle" fill="#333" stroke="#333" stroke-width="0.12">10</text>
<text x="400.6" y="162.2" font-size="4.7" text-anchor="middle" fill="#333" stroke="#333" stroke-width="0.12">20</text>
<text x="417.9" y="162.2" font-size="4.7" text-anchor="middle" fill="#333" stroke="#333" stroke-width="0.12">30</text>
<path d="M362.5 94.3h-1.3M362.5 114h-1.3M362.5 133.9h-1.3M362.5 153.5h-1.3M365.6 156.6v1.3M382.4 156.6v1.3M400.6 156.6v1.3M417.9 156.6v1.3" stroke="#333" stroke-width="0.5"/>
<text x="393" y="168.1" font-size="4.8" text-anchor="middle" fill="#333" stroke="#333" stroke-width="0.12">CTLA4<tspan font-size="3.3" dy="-1.7">+</tspan><tspan dy="1.7">  </tspan>CD4<tspan font-size="3.3" dy="-1.7">+</tspan></text>
<text x="0" y="0" font-size="4.8" text-anchor="middle" fill="#333" stroke="#333" stroke-width="0.12" transform="translate(352.6 124.8) rotate(-90)">ecm-myCAF/fibro</text>
<text x="366" y="101.5" font-size="4.8" fill="#333" stroke="#333" stroke-width="0.12"><tspan font-style="italic">r</tspan> = 0.52</text>
<text x="366" y="107.1" font-size="4.8" fill="#333" stroke="#333" stroke-width="0.12"><tspan font-style="italic">P</tspan> = 0.001</text>
<path d="M367.7 144.8L422.7 113.7" stroke="#6883aa" stroke-width="0.85"/>
<path d="M398 96.7h0M376.7 111.1h0M376.3 115.4h0M391.9 119.4h0M381.9 124.1h0M385.3 124.1h0M421.7 125.3h0M367.7 129.8h0M374.6 134.1h0M377.7 134.8h0M391 133.2h0M395.7 132.4h0M404.4 132.7h0M378.9 138.4h0M381.9 138.4h0M378.4 141.7h0M368.5 144.5h0M370.8 145.7h0M365.6 147.4h0M372.9 146.9h0M374.6 147.9h0M389.3 146.9h0M390.2 146.6h0M366.8 151.7h0M368.5 151.4h0M370.3 152.6h0M372.9 150h0M375.5 148.6h0M377.7 150.4h0M378.4 153.1h0M382.4 151.2h0M366 152.6h0M371.1 152.1h0" stroke="#111" stroke-width="2.3" stroke-linecap="round"/>
<path d="M448.8 93V156.4H511" stroke="#222" stroke-width="0.8" fill="none"/>
<text x="446.8" y="95.3" font-size="4.7" text-anchor="end" fill="#333" stroke="#333" stroke-width="0.12">60</text>
<text x="446.8" y="115" font-size="4.7" text-anchor="end" fill="#333" stroke="#333" stroke-width="0.12">40</text>
<text x="446.8" y="134.8" font-size="4.7" text-anchor="end" fill="#333" stroke="#333" stroke-width="0.12">20</text>
<text x="446.8" y="154.3" font-size="4.7" text-anchor="end" fill="#333" stroke="#333" stroke-width="0.12">0</text>
<text x="457.5" y="162" font-size="4.7" text-anchor="middle" fill="#333" stroke="#333" stroke-width="0.12">10</text>
<text x="468.3" y="162" font-size="4.7" text-anchor="middle" fill="#333" stroke="#333" stroke-width="0.12">15</text>
<text x="478.9" y="162" font-size="4.7" text-anchor="middle" fill="#333" stroke="#333" stroke-width="0.12">20</text>
<text x="489.4" y="162" font-size="4.7" text-anchor="middle" fill="#333" stroke="#333" stroke-width="0.12">25</text>
<text x="500" y="162" font-size="4.7" text-anchor="middle" fill="#333" stroke="#333" stroke-width="0.12">30</text>
<text x="510" y="162" font-size="4.7" text-anchor="middle" fill="#333" stroke="#333" stroke-width="0.12">35</text>
<path d="M448.8 93.7h-1.3M448.8 113.4h-1.3M448.8 133.2h-1.3M448.8 152.7h-1.3M457.5 156.4v1.3M468.3 156.4v1.3M478.9 156.4v1.3M489.4 156.4v1.3M500 156.4v1.3M510 156.4v1.3" stroke="#333" stroke-width="0.5"/>
<text x="479" y="168" font-size="4.8" text-anchor="middle" fill="#333" stroke="#333" stroke-width="0.12">CD8<tspan font-size="3.3" dy="-1.7">+</tspan><tspan dy="1.7">  </tspan>CD45<tspan font-size="3.3" dy="-1.7">+</tspan></text>
<text x="0" y="0" font-size="4.8" text-anchor="middle" fill="#333" stroke="#333" stroke-width="0.12" transform="translate(438.9 124.7) rotate(-90)">ecm-myCAF/fibro</text>
<text x="486.2" y="100.9" font-size="4.8" fill="#333" stroke="#333" stroke-width="0.12"><tspan font-style="italic">r</tspan> = −0.37</text>
<text x="486.2" y="106" font-size="4.8" fill="#333" stroke="#333" stroke-width="0.12"><tspan font-style="italic">P</tspan> = 0.02</text>
<path d="M452 130.8L508.2 149.1" stroke="#6883aa" stroke-width="0.85"/>
<path d="M451.5 96.4h0M468.9 110.7h0M472.9 114.9h0M476.6 119.3h0M456.1 123.8h0M476.2 123.8h0M465.2 124.8h0M457.5 129.5h0M461.2 132.6h0M470.3 133.9h0M484.4 132.3h0M485 133.5h0M500 134.4h0M454.6 138.1h0M480.8 138.1h0M469.8 140.8h0M470.3 143.6h0M502.7 141.8h0M452.4 146.3h0M459.4 147.6h0M465.6 148.2h0M470.3 148.2h0M485.3 145.4h0M491.7 144.1h0M500.3 146h0M465.6 150h0M470.7 149.1h0M475.3 150h0M478.9 150h0M477.1 152.2h0M480.8 152.2h0M466.1 150.9h0M491.7 152.2h0M502.7 152.7h0M504.5 150.9h0M508.2 152.7h0" stroke="#111" stroke-width="2.3" stroke-linecap="round"/>
<path d="M362.4 184.8V247.6H423" stroke="#222" stroke-width="0.8" fill="none"/>
<text x="360.4" y="187.3" font-size="4.7" text-anchor="end" fill="#333" stroke="#333" stroke-width="0.12">20</text>
<text x="360.4" y="202" font-size="4.7" text-anchor="end" fill="#333" stroke="#333" stroke-width="0.12">15</text>
<text x="360.4" y="216.8" font-size="4.7" text-anchor="end" fill="#333" stroke="#333" stroke-width="0.12">10</text>
<text x="360.4" y="231.5" font-size="4.7" text-anchor="end" fill="#333" stroke="#333" stroke-width="0.12">5</text>
<text x="360.4" y="246.2" font-size="4.7" text-anchor="end" fill="#333" stroke="#333" stroke-width="0.12">0</text>
<text x="364.9" y="253.2" font-size="4.7" text-anchor="middle" fill="#333" stroke="#333" stroke-width="0.12">0</text>
<text x="382.6" y="253.2" font-size="4.7" text-anchor="middle" fill="#333" stroke="#333" stroke-width="0.12">10</text>
<text x="400.3" y="253.2" font-size="4.7" text-anchor="middle" fill="#333" stroke="#333" stroke-width="0.12">20</text>
<text x="417.3" y="253.2" font-size="4.7" text-anchor="middle" fill="#333" stroke="#333" stroke-width="0.12">30</text>
<path d="M362.4 185.7h-1.3M362.4 200.4h-1.3M362.4 215.2h-1.3M362.4 229.9h-1.3M362.4 244.6h-1.3M364.9 247.6v1.3M382.6 247.6v1.3M400.3 247.6v1.3M417.3 247.6v1.3" stroke="#333" stroke-width="0.5"/>
<text x="393" y="260.7" font-size="4.8" text-anchor="middle" fill="#333" stroke="#333" stroke-width="0.12">CTLA4<tspan font-size="3.3" dy="-1.7">+</tspan><tspan dy="1.7">  </tspan>CD4<tspan font-size="3.3" dy="-1.7">+</tspan></text>
<text x="0" y="0" font-size="4.8" text-anchor="middle" fill="#333" stroke="#333" stroke-width="0.12" transform="translate(352.5 216.2) rotate(-90)">TGFβ-myCAF/fibro</text>
<text x="401.4" y="191.4" font-size="4.8" fill="#333" stroke="#333" stroke-width="0.12"><tspan font-style="italic">r</tspan> = 0.41</text>
<text x="401.4" y="197.1" font-size="4.8" fill="#333" stroke="#333" stroke-width="0.12"><tspan font-style="italic">P</tspan> = 0.016</text>
<path d="M365.4 232.2L422.6 202.8" stroke="#6883aa" stroke-width="0.85"/>
<path d="M381.9 188h0M390.7 188.8h0M375.2 199.8h0M422.1 202.5h0M404.4 206h0M369.5 209.9h0M374.8 209.9h0M398.2 209.2h0M365.4 217.5h0M376.6 217.5h0M379.1 218.4h0M367.7 219.8h0M368.4 221.9h0M369.9 226.9h0M370.7 228.7h0M370.2 229.9h0M395 225.1h0M389.7 228.1h0M376.9 230.8h0M381.4 231.2h0M382.6 231.2h0M391.1 232.6h0M367.2 236.5h0M370.7 234h0M373.4 235.8h0M384.9 234.7h0M378.4 237.9h0M373 237.9h0M377.8 241.8h0M388.4 241.1h0M378.7 244.6h0M365.4 244.6h0M366.7 244.6h0M369.9 244.1h0M370.7 243.5h0M364.5 245h0" stroke="#111" stroke-width="2.3" stroke-linecap="round"/>
<path d="M448.8 184.3V247.7H511" stroke="#222" stroke-width="0.8" fill="none"/>
<text x="446.8" y="186.6" font-size="4.7" text-anchor="end" fill="#333" stroke="#333" stroke-width="0.12">20</text>
<text x="446.8" y="201.2" font-size="4.7" text-anchor="end" fill="#333" stroke="#333" stroke-width="0.12">15</text>
<text x="446.8" y="216" font-size="4.7" text-anchor="end" fill="#333" stroke="#333" stroke-width="0.12">10</text>
<text x="446.8" y="231" font-size="4.7" text-anchor="end" fill="#333" stroke="#333" stroke-width="0.12">5</text>
<text x="446.8" y="245.6" font-size="4.7" text-anchor="end" fill="#333" stroke="#333" stroke-width="0.12">0</text>
<text x="458.3" y="253.3" font-size="4.7" text-anchor="middle" fill="#333" stroke="#333" stroke-width="0.12">10</text>
<text x="468.9" y="253.3" font-size="4.7" text-anchor="middle" fill="#333" stroke="#333" stroke-width="0.12">15</text>
<text x="479.5" y="253.3" font-size="4.7" text-anchor="middle" fill="#333" stroke="#333" stroke-width="0.12">20</text>
<text x="489.9" y="253.3" font-size="4.7" text-anchor="middle" fill="#333" stroke="#333" stroke-width="0.12">25</text>
<text x="500.9" y="253.3" font-size="4.7" text-anchor="middle" fill="#333" stroke="#333" stroke-width="0.12">30</text>
<text x="510.6" y="253.3" font-size="4.7" text-anchor="middle" fill="#333" stroke="#333" stroke-width="0.12">35</text>
<path d="M448.8 185h-1.3M448.8 199.6h-1.3M448.8 214.4h-1.3M448.8 229.4h-1.3M448.8 244h-1.3M458.3 247.7v1.3M468.9 247.7v1.3M479.5 247.7v1.3M489.9 247.7v1.3M500.9 247.7v1.3M510.6 247.7v1.3" stroke="#333" stroke-width="0.5"/>
<text x="479" y="260.8" font-size="4.8" text-anchor="middle" fill="#333" stroke="#333" stroke-width="0.12">CD8<tspan font-size="3.3" dy="-1.7">+</tspan><tspan dy="1.7">  </tspan>CD45<tspan font-size="3.3" dy="-1.7">+</tspan></text>
<text x="0" y="0" font-size="4.8" text-anchor="middle" fill="#333" stroke="#333" stroke-width="0.12" transform="translate(438.9 216) rotate(-90)">TGFβ-myCAF/fibro</text>
<text x="489.9" y="194.6" font-size="4.8" fill="#333" stroke="#333" stroke-width="0.12"><tspan font-style="italic">r</tspan> = −0.51</text>
<text x="489.9" y="200" font-size="4.8" fill="#333" stroke="#333" stroke-width="0.12"><tspan font-style="italic">P</tspan> = 0.001</text>
<path d="M452.4 213.1L508.2 240.9" stroke="#6883aa" stroke-width="0.85"/>
<path d="M456.4 187.7h0M485.3 188.6h0M466.1 199.3h0M465.6 202h0M461.6 205.6h0M452.1 208.8h0M470.3 209.3h0M479.5 209.3h0M470.3 217.2h0M472.9 217.2h0M470.3 218.4h0M454.6 217.9h0M457.5 219h0M471.6 221.6h0M470.3 225.8h0M485 224.5h0M452.8 227.6h0M492.3 228.5h0M466.7 230.3h0M469.8 230.7h0M476.2 230h0M477.7 232.2h0M482 230.9h0M471.1 234h0M477.1 234.4h0M486.2 233.6h0M465.2 238h0M500.9 234.9h0M505.1 236.2h0M502.7 238.6h0M459.7 240.4h0M500 241.3h0M477.7 243.1h0M481.7 244h0M491.7 244h0M503.2 244h0M508.2 244h0" stroke="#111" stroke-width="2.3" stroke-linecap="round"/>
<path d="M361.9 278.8V342.5H423.8" stroke="#222" stroke-width="0.8" fill="none"/>
<text x="359.9" y="293.7" font-size="4.7" text-anchor="end" fill="#333" stroke="#333" stroke-width="0.12">15</text>
<text x="359.9" y="307.8" font-size="4.7" text-anchor="end" fill="#333" stroke="#333" stroke-width="0.12">10</text>
<text x="359.9" y="322.4" font-size="4.7" text-anchor="end" fill="#333" stroke="#333" stroke-width="0.12">5</text>
<text x="359.9" y="336.5" font-size="4.7" text-anchor="end" fill="#333" stroke="#333" stroke-width="0.12">0</text>
<text x="372" y="348.1" font-size="4.7" text-anchor="middle" fill="#333" stroke="#333" stroke-width="0.12">20</text>
<text x="382.2" y="348.1" font-size="4.7" text-anchor="middle" fill="#333" stroke="#333" stroke-width="0.12">30</text>
<text x="392.5" y="348.1" font-size="4.7" text-anchor="middle" fill="#333" stroke="#333" stroke-width="0.12">40</text>
<text x="402.6" y="348.1" font-size="4.7" text-anchor="middle" fill="#333" stroke="#333" stroke-width="0.12">50</text>
<text x="413.2" y="348.1" font-size="4.7" text-anchor="middle" fill="#333" stroke="#333" stroke-width="0.12">60</text>
<text x="423.3" y="348.1" font-size="4.7" text-anchor="middle" fill="#333" stroke="#333" stroke-width="0.12">70</text>
<path d="M361.9 292.1h-1.3M361.9 306.2h-1.3M361.9 320.8h-1.3M361.9 334.9h-1.3M372 342.5v1.3M382.2 342.5v1.3M392.5 342.5v1.3M402.6 342.5v1.3M413.2 342.5v1.3M423.3 342.5v1.3" stroke="#333" stroke-width="0.5"/>
<text x="392.9" y="354.8" font-size="4.8" text-anchor="middle" fill="#333" stroke="#333" stroke-width="0.12">CD8<tspan font-size="3.3" dy="-1.7">+</tspan><tspan dy="1.7"> /</tspan>T</text>
<text x="0" y="0" font-size="4.8" text-anchor="middle" fill="#333" stroke="#333" stroke-width="0.12" transform="translate(352 310.6) rotate(-90)">detox-iCAF/fibro</text>
<text x="367.2" y="284.9" font-size="4.8" fill="#333" stroke="#333" stroke-width="0.12"><tspan font-style="italic">r</tspan> = 0.51</text>
<text x="367.2" y="290.6" font-size="4.8" fill="#333" stroke="#333" stroke-width="0.12"><tspan font-style="italic">P</tspan> = 0.001</text>
<path d="M364.9 339L420.8 309.4" stroke="#6883aa" stroke-width="0.85"/>
<path d="M419.1 280.6h0M395 299.2h0M403.8 301.3h0M372 316.9h0M381.4 315.1h0M376.1 324.8h0M380.5 327.5h0M383.1 324.8h0M385.4 324h0M386.7 324.8h0M390.7 326.6h0M391.1 328.9h0M396.1 321.8h0M392 330.1h0M364.9 331.9h0M373.4 331.9h0M375.2 332.8h0M384.4 331h0M398.2 332.4h0M403.1 326.6h0M403.8 325.4h0M370.7 334.9h0M372.5 334.6h0M379.6 334.9h0M381.4 334.9h0M382.2 334.9h0M387.9 334.6h0M389.3 334.6h0M390.2 334.9h0M393.2 334.2h0M396.4 333.7h0M402.6 333.7h0" stroke="#111" stroke-width="2.3" stroke-linecap="round"/>
<path d="M449.7 279.9V342.1H511" stroke="#222" stroke-width="0.8" fill="none"/>
<text x="447.7" y="298.7" font-size="4.7" text-anchor="end" fill="#333" stroke="#333" stroke-width="0.12">40</text>
<text x="447.7" y="318.4" font-size="4.7" text-anchor="end" fill="#333" stroke="#333" stroke-width="0.12">20</text>
<text x="447.7" y="337.6" font-size="4.7" text-anchor="end" fill="#333" stroke="#333" stroke-width="0.12">0</text>
<text x="459.7" y="347.7" font-size="4.7" text-anchor="middle" fill="#333" stroke="#333" stroke-width="0.12">20</text>
<text x="469.8" y="347.7" font-size="4.7" text-anchor="middle" fill="#333" stroke="#333" stroke-width="0.12">30</text>
<text x="479.5" y="347.7" font-size="4.7" text-anchor="middle" fill="#333" stroke="#333" stroke-width="0.12">40</text>
<text x="489.9" y="347.7" font-size="4.7" text-anchor="middle" fill="#333" stroke="#333" stroke-width="0.12">50</text>
<text x="499.6" y="347.7" font-size="4.7" text-anchor="middle" fill="#333" stroke="#333" stroke-width="0.12">60</text>
<text x="510" y="347.7" font-size="4.7" text-anchor="middle" fill="#333" stroke="#333" stroke-width="0.12">70</text>
<path d="M449.7 297.1h-1.3M449.7 316.8h-1.3M449.7 336h-1.3M459.7 342.1v1.3M469.8 342.1v1.3M479.5 342.1v1.3M489.9 342.1v1.3M499.6 342.1v1.3M510 342.1v1.3" stroke="#333" stroke-width="0.5"/>
<text x="479.8" y="354.1" font-size="4.8" text-anchor="middle" fill="#333" stroke="#333" stroke-width="0.12">CD8<tspan font-size="3.3" dy="-1.7">+</tspan><tspan dy="1.7"> /</tspan>T</text>
<text x="0" y="0" font-size="4.8" text-anchor="middle" fill="#333" stroke="#333" stroke-width="0.12" transform="translate(439.8 311) rotate(-90)">IL-iCAF/fibro</text>
<text x="455.2" y="284.7" font-size="4.8" fill="#333" stroke="#333" stroke-width="0.12"><tspan font-style="italic">r</tspan> = 0.41</text>
<text x="455.2" y="290.2" font-size="4.8" fill="#333" stroke="#333" stroke-width="0.12"><tspan font-style="italic">P</tspan> = 0.01</text>
<path d="M452.4 339.1L508.7 320.1" stroke="#6883aa" stroke-width="0.85"/>
<path d="M483.1 282.5h0M508.7 317.8h0M491.2 325.1h0M481.3 325.6h0M467.4 328.2h0M478 328.7h0M483.1 329.3h0M489.4 328.7h0M484.4 332.4h0M472.9 331.8h0M452.4 336h0M459.7 334.8h0M460.6 334.2h0M462.5 335.5h0M463.8 336h0M466.7 336h0M468.9 334.8h0M470.3 334.2h0M471.6 336h0M474 335.5h0M475.3 335.1h0M476.6 334.2h0M478 336h0M478.9 334.2h0M486.2 336h0M490.4 335.5h0M485.3 336.6h0" stroke="#111" stroke-width="2.3" stroke-linecap="round"/>
<path d="M18.7 373.1V435.4H79.6" stroke="#222" stroke-width="0.8" fill="none"/>
<text x="16.7" y="376.1" font-size="4.7" text-anchor="end" fill="#333" stroke="#333" stroke-width="0.12">60</text>
<text x="16.7" y="393.7" font-size="4.7" text-anchor="end" fill="#333" stroke="#333" stroke-width="0.12">40</text>
<text x="16.7" y="411" font-size="4.7" text-anchor="end" fill="#333" stroke="#333" stroke-width="0.12">20</text>
<text x="16.7" y="428.3" font-size="4.7" text-anchor="end" fill="#333" stroke="#333" stroke-width="0.12">0</text>
<text x="21.1" y="441" font-size="4.7" text-anchor="middle" fill="#333" stroke="#333" stroke-width="0.12">0</text>
<text x="39.4" y="441" font-size="4.7" text-anchor="middle" fill="#333" stroke="#333" stroke-width="0.12">10</text>
<text x="57.1" y="441" font-size="4.7" text-anchor="middle" fill="#333" stroke="#333" stroke-width="0.12">20</text>
<text x="75.3" y="441" font-size="4.7" text-anchor="middle" fill="#333" stroke="#333" stroke-width="0.12">30</text>
<path d="M18.7 374.5h-1.3M18.7 392.1h-1.3M18.7 409.4h-1.3M18.7 426.7h-1.3M21.1 435.4v1.3M39.4 435.4v1.3M57.1 435.4v1.3M75.3 435.4v1.3" stroke="#333" stroke-width="0.5"/>
<text x="49" y="448.8" font-size="4.8" text-anchor="middle" fill="#333" stroke="#333" stroke-width="0.12">CTLA4<tspan font-size="3.3" dy="-1.7">+</tspan><tspan dy="1.7">  </tspan>CD4<tspan font-size="3.3" dy="-1.7">+</tspan></text>
<text x="0" y="0" font-size="4.8" text-anchor="middle" fill="#333" stroke="#333" stroke-width="0.12" transform="translate(8.8 404.2) rotate(-90)">wound-myCAF/CAF-S1</text>
<text x="53.3" y="378.8" font-size="4.8" fill="#333" stroke="#333" stroke-width="0.12"><tspan font-style="italic">r</tspan> = −0.43</text>
<text x="53.3" y="384.5" font-size="4.8" fill="#333" stroke="#333" stroke-width="0.12"><tspan font-style="italic">P</tspan> = 0.01</text>
<path d="M21.6 403.9L78.7 431.9" stroke="#6883aa" stroke-width="0.85"/>
<path d="M39.4 383.1h0M26 384.4h0M22.1 387h0M29.1 387h0M26.8 389.2h0M34.3 388h0M29.8 393.9h0M24.6 395.6h0M21.6 401h0M34.3 403.6h0M31.7 405.3h0M24.2 411.2h0M26.8 412.6h0M35.5 413.9h0M38.4 414.6h0M25.1 415.7h0M26.8 416.4h0M33.7 417.4h0M61.4 416.4h0M41.9 419.1h0M47.6 421.2h0M23.9 421.2h0M27.3 422.6h0M31.5 423.5h0M48.1 421.6h0M52.8 420.3h0M45.3 424.7h0M34.3 426h0M35.5 426.4h0M55.4 426.7h0M79.2 424.7h0" stroke="#111" stroke-width="2.3" stroke-linecap="round"/>
<path d="M103.6 372.8V434.2H163.3" stroke="#222" stroke-width="0.8" fill="none"/>
<text x="101.6" y="379.6" font-size="4.7" text-anchor="end" fill="#333" stroke="#333" stroke-width="0.12">40</text>
<text x="101.6" y="392.9" font-size="4.7" text-anchor="end" fill="#333" stroke="#333" stroke-width="0.12">30</text>
<text x="101.6" y="406.4" font-size="4.7" text-anchor="end" fill="#333" stroke="#333" stroke-width="0.12">20</text>
<text x="101.6" y="419.9" font-size="4.7" text-anchor="end" fill="#333" stroke="#333" stroke-width="0.12">10</text>
<text x="101.6" y="433.2" font-size="4.7" text-anchor="end" fill="#333" stroke="#333" stroke-width="0.12">0</text>
<text x="112.3" y="439.8" font-size="4.7" text-anchor="middle" fill="#333" stroke="#333" stroke-width="0.12">25</text>
<text x="131.3" y="439.8" font-size="4.7" text-anchor="middle" fill="#333" stroke="#333" stroke-width="0.12">50</text>
<text x="150.9" y="439.8" font-size="4.7" text-anchor="middle" fill="#333" stroke="#333" stroke-width="0.12">75</text>
<path d="M103.6 378h-1.3M103.6 391.3h-1.3M103.6 404.8h-1.3M103.6 418.3h-1.3M103.6 431.6h-1.3M112.3 434.2v1.3M131.3 434.2v1.3M150.9 434.2v1.3" stroke="#333" stroke-width="0.5"/>
<text x="133.9" y="447" font-size="4.8" text-anchor="middle" fill="#333" stroke="#333" stroke-width="0.12">TIGIT<tspan font-size="3.3" dy="-1.7">+</tspan><tspan dy="1.7">  </tspan>CD4<tspan font-size="3.3" dy="-1.7">+</tspan></text>
<text x="0" y="0" font-size="4.8" text-anchor="middle" fill="#333" stroke="#333" stroke-width="0.12" transform="translate(93.7 403.5) rotate(-90)">wound-myCAF/fibro</text>
<text x="140.8" y="377.9" font-size="4.8" fill="#333" stroke="#333" stroke-width="0.12"><tspan font-style="italic">r</tspan> = −0.34</text>
<text x="140.8" y="383.5" font-size="4.8" fill="#333" stroke="#333" stroke-width="0.12"><tspan font-style="italic">P</tspan> = 0.049</text>
<path d="M106.2 416L161.9 430.7" stroke="#6883aa" stroke-width="0.85"/>
<path d="M105.9 375h0M114.9 399.3h0M128.4 405.7h0M130.4 409.1h0M111.8 409.6h0M118.7 411.7h0M120.4 411.4h0M124.4 415.5h0M126.6 415.5h0M145.1 417.8h0M109.7 420h0M108.8 421.2h0M117 422.4h0M150.9 424.7h0M155 426.4h0M107.1 426.4h0M108.3 426.9h0M128.7 427.3h0M132.5 426.4h0M133.9 425.9h0M130.8 427.3h0M120.9 429h0M122.1 430.4h0M127.8 430.4h0M117.5 430.7h0M106.6 431.1h0M108 431.1h0M121.4 431.6h0M135.3 431.1h0M137.7 431.1h0M140.8 430.7h0M141.7 431.1h0M147.4 431.1h0M161.9 431.6h0" stroke="#111" stroke-width="2.3" stroke-linecap="round"/>
<path d="M188.4 372.8V434.6H246.3" stroke="#222" stroke-width="0.8" fill="none"/>
<text x="186.4" y="379.6" font-size="4.7" text-anchor="end" fill="#333" stroke="#333" stroke-width="0.12">40</text>
<text x="186.4" y="392" font-size="4.7" text-anchor="end" fill="#333" stroke="#333" stroke-width="0.12">30</text>
<text x="186.4" y="404.3" font-size="4.7" text-anchor="end" fill="#333" stroke="#333" stroke-width="0.12">20</text>
<text x="186.4" y="416.8" font-size="4.7" text-anchor="end" fill="#333" stroke="#333" stroke-width="0.12">10</text>
<text x="186.4" y="428.9" font-size="4.7" text-anchor="end" fill="#333" stroke="#333" stroke-width="0.12">0</text>
<text x="190.6" y="440.2" font-size="4.7" text-anchor="middle" fill="#333" stroke="#333" stroke-width="0.12">0</text>
<text x="208.6" y="440.2" font-size="4.7" text-anchor="middle" fill="#333" stroke="#333" stroke-width="0.12">20</text>
<text x="226.4" y="440.2" font-size="4.7" text-anchor="middle" fill="#333" stroke="#333" stroke-width="0.12">40</text>
<text x="244.6" y="440.2" font-size="4.7" text-anchor="middle" fill="#333" stroke="#333" stroke-width="0.12">60</text>
<path d="M188.4 378h-1.3M188.4 390.4h-1.3M188.4 402.7h-1.3M188.4 415.2h-1.3M188.4 427.3h-1.3M190.6 434.6v1.3M208.6 434.6v1.3M226.4 434.6v1.3M244.6 434.6v1.3" stroke="#333" stroke-width="0.5"/>
<text x="216.9" y="447" font-size="4.8" text-anchor="middle" fill="#333" stroke="#333" stroke-width="0.12">CTLA4<tspan font-size="3.3" dy="-1.7">+</tspan><tspan dy="1.7">  </tspan>CD8<tspan font-size="3.3" dy="-1.7">+</tspan></text>
<text x="0" y="0" font-size="4.8" text-anchor="middle" fill="#333" stroke="#333" stroke-width="0.12" transform="translate(178.5 403.7) rotate(-90)">wound-myCAF/fibro</text>
<text x="224.7" y="379.2" font-size="4.8" fill="#333" stroke="#333" stroke-width="0.12"><tspan font-style="italic">r</tspan> = −0.41</text>
<text x="224.7" y="384.3" font-size="4.8" fill="#333" stroke="#333" stroke-width="0.12"><tspan font-style="italic">P</tspan> = 0.01</text>
<path d="M191 414.3L244.9 431.6" stroke="#6883aa" stroke-width="0.85"/>
<path d="M192.3 375h0M191 397h0M194.1 402.7h0M191.3 406.5h0M192.3 407.9h0M193 408.6h0M191 411.7h0M193 412.6h0M194.1 411.7h0M192.3 414.3h0M193 417.8h0M202.7 416h0M216.6 418.6h0M194.1 421.2h0M199.6 422.4h0M201.3 422.1h0M204.4 422.1h0M190.6 423h0M211.7 423h0M212.1 424.7h0M216.9 423h0M235.1 422.4h0M200 424.7h0M201 425.9h0M202.2 425.9h0M197.9 426.9h0M205.7 426.9h0M215.2 426.9h0M224.7 425.9h0M190.6 426.4h0M191.8 426.9h0M235.9 426.9h0M247.2 426.9h0" stroke="#111" stroke-width="2.3" stroke-linecap="round"/>
<path d="M278 373.3V434.2H338" stroke="#222" stroke-width="0.8" fill="none"/>
<text x="276" y="379.6" font-size="4.7" text-anchor="end" fill="#333" stroke="#333" stroke-width="0.12">40</text>
<text x="276" y="393.4" font-size="4.7" text-anchor="end" fill="#333" stroke="#333" stroke-width="0.12">30</text>
<text x="276" y="406.7" font-size="4.7" text-anchor="end" fill="#333" stroke="#333" stroke-width="0.12">20</text>
<text x="276" y="420.2" font-size="4.7" text-anchor="end" fill="#333" stroke="#333" stroke-width="0.12">10</text>
<text x="276" y="433.7" font-size="4.7" text-anchor="end" fill="#333" stroke="#333" stroke-width="0.12">0</text>
<text x="284.3" y="439.8" font-size="4.7" text-anchor="middle" fill="#333" stroke="#333" stroke-width="0.12">20</text>
<text x="301" y="439.8" font-size="4.7" text-anchor="middle" fill="#333" stroke="#333" stroke-width="0.12">40</text>
<text x="317.8" y="439.8" font-size="4.7" text-anchor="middle" fill="#333" stroke="#333" stroke-width="0.12">60</text>
<text x="334.4" y="439.8" font-size="4.7" text-anchor="middle" fill="#333" stroke="#333" stroke-width="0.12">80</text>
<path d="M278 378h-1.3M278 391.8h-1.3M278 405.1h-1.3M278 418.6h-1.3M278 432.1h-1.3M284.3 434.2v1.3M301 434.2v1.3M317.8 434.2v1.3M334.4 434.2v1.3" stroke="#333" stroke-width="0.5"/>
<text x="308.8" y="447" font-size="4.8" text-anchor="middle" fill="#333" stroke="#333" stroke-width="0.12">TIGIT<tspan font-size="3.3" dy="-1.7">+</tspan><tspan dy="1.7">  </tspan>CD8<tspan font-size="3.3" dy="-1.7">+</tspan></text>
<text x="0" y="0" font-size="4.8" text-anchor="middle" fill="#333" stroke="#333" stroke-width="0.12" transform="translate(268.1 403.8) rotate(-90)">wound-myCAF/fibro</text>
<text x="315.7" y="378.5" font-size="4.8" fill="#333" stroke="#333" stroke-width="0.12"><tspan font-style="italic">r</tspan> = −0.40</text>
<text x="315.7" y="383.7" font-size="4.8" fill="#333" stroke="#333" stroke-width="0.12"><tspan font-style="italic">P</tspan> = 0.02</text>
<path d="M281.5 410.3L337.4 429.4" stroke="#6883aa" stroke-width="0.85"/>
<path d="M301.9 375h0M305.4 399.3h0M306.7 405.7h0M285.5 409.6h0M302.8 411.4h0M318.9 411.7h0M323.5 409.1h0M304 415.5h0M295.8 415.5h0M298.1 417.8h0M281.5 421.2h0M302.8 420h0M324 423h0M300.2 426.9h0M304 426.4h0M318.9 425.9h0M319.6 426.9h0M322.3 427.6h0M327 426.4h0M337.4 427.6h0M305 430.4h0M306.2 429.9h0M310.6 430.4h0M312.6 431.1h0M314.4 431.6h0M315.7 431.1h0M317.8 430.7h0M320.9 431.6h0M323.5 431.6h0M326.1 431.1h0M332.7 431.1h0" stroke="#111" stroke-width="2.3" stroke-linecap="round"/>
<path d="M366.5 372.8V434.2H427.5" stroke="#222" stroke-width="0.8" fill="none"/>
<text x="364.5" y="379.6" font-size="4.7" text-anchor="end" fill="#333" stroke="#333" stroke-width="0.12">40</text>
<text x="364.5" y="391.7" font-size="4.7" text-anchor="end" fill="#333" stroke="#333" stroke-width="0.12">30</text>
<text x="364.5" y="404.3" font-size="4.7" text-anchor="end" fill="#333" stroke="#333" stroke-width="0.12">20</text>
<text x="364.5" y="416.8" font-size="4.7" text-anchor="end" fill="#333" stroke="#333" stroke-width="0.12">10</text>
<text x="364.5" y="428.9" font-size="4.7" text-anchor="end" fill="#333" stroke="#333" stroke-width="0.12">0</text>
<text x="368.7" y="439.8" font-size="4.7" text-anchor="middle" fill="#333" stroke="#333" stroke-width="0.12">0</text>
<text x="381.7" y="439.8" font-size="4.7" text-anchor="middle" fill="#333" stroke="#333" stroke-width="0.12">10</text>
<text x="394.7" y="439.8" font-size="4.7" text-anchor="middle" fill="#333" stroke="#333" stroke-width="0.12">20</text>
<text x="407.3" y="439.8" font-size="4.7" text-anchor="middle" fill="#333" stroke="#333" stroke-width="0.12">30</text>
<text x="419.8" y="439.8" font-size="4.7" text-anchor="middle" fill="#333" stroke="#333" stroke-width="0.12">40</text>
<path d="M366.5 378h-1.3M366.5 390.1h-1.3M366.5 402.7h-1.3M366.5 415.2h-1.3M366.5 427.3h-1.3M368.7 434.2v1.3M381.7 434.2v1.3M394.7 434.2v1.3M407.3 434.2v1.3M419.8 434.2v1.3" stroke="#333" stroke-width="0.5"/>
<text x="397.3" y="447" font-size="4.8" text-anchor="middle" fill="#333" stroke="#333" stroke-width="0.12">CD244<tspan font-size="3.3" dy="-1.7">+</tspan><tspan dy="1.7">  </tspan>CD8<tspan font-size="3.3" dy="-1.7">+</tspan></text>
<text x="0" y="0" font-size="4.8" text-anchor="middle" fill="#333" stroke="#333" stroke-width="0.12" transform="translate(356.6 403.5) rotate(-90)">wound-myCAF/fibro</text>
<text x="402.8" y="378.8" font-size="4.8" fill="#333" stroke="#333" stroke-width="0.12"><tspan font-style="italic">r</tspan> = −0.51</text>
<text x="402.8" y="384" font-size="4.8" fill="#333" stroke="#333" stroke-width="0.12"><tspan font-style="italic">P</tspan> = 0.002</text>
<path d="M369.6 412.1L425.8 431.3" stroke="#6883aa" stroke-width="0.85"/>
<path d="M374.4 375h0M371 397.5h0M370.5 403.1h0M372.2 406.5h0M369.6 406.5h0M371.3 407.9h0M372.7 409.1h0M370.5 411.4h0M372.2 412.1h0M371 414.3h0M371.7 417.8h0M402.8 416.6h0M379.6 419h0M386.6 421.2h0M388.6 422.4h0M383.8 423.8h0M390 423.5h0M400.7 423h0M418.9 422.4h0M369.6 425.2h0M370.5 426.4h0M374.4 427.6h0M380.3 426.9h0M394.7 427.3h0M399.4 425.9h0M402.5 426.9h0M403.9 427.6h0M405.1 427.6h0M414.9 426.9h0M425.8 426.5h0" stroke="#111" stroke-width="2.3" stroke-linecap="round"/>
<path d="M455.2 373.1V433.8H516.2" stroke="#222" stroke-width="0.8" fill="none"/>
<text x="453.2" y="379.7" font-size="4.7" text-anchor="end" fill="#333" stroke="#333" stroke-width="0.12">40</text>
<text x="453.2" y="393.1" font-size="4.7" text-anchor="end" fill="#333" stroke="#333" stroke-width="0.12">30</text>
<text x="453.2" y="406.6" font-size="4.7" text-anchor="end" fill="#333" stroke="#333" stroke-width="0.12">20</text>
<text x="453.2" y="420.1" font-size="4.7" text-anchor="end" fill="#333" stroke="#333" stroke-width="0.12">10</text>
<text x="453.2" y="433.5" font-size="4.7" text-anchor="end" fill="#333" stroke="#333" stroke-width="0.12">0</text>
<text x="455.2" y="439.4" font-size="4.7" text-anchor="middle" fill="#333" stroke="#333" stroke-width="0.12">0</text>
<text x="465.2" y="439.4" font-size="4.7" text-anchor="middle" fill="#333" stroke="#333" stroke-width="0.12">10</text>
<text x="475.8" y="439.4" font-size="4.7" text-anchor="middle" fill="#333" stroke="#333" stroke-width="0.12">20</text>
<text x="486.3" y="439.4" font-size="4.7" text-anchor="middle" fill="#333" stroke="#333" stroke-width="0.12">30</text>
<text x="496.9" y="439.4" font-size="4.7" text-anchor="middle" fill="#333" stroke="#333" stroke-width="0.12">40</text>
<text x="507.5" y="439.4" font-size="4.7" text-anchor="middle" fill="#333" stroke="#333" stroke-width="0.12">50</text>
<path d="M455.2 378.1h-1.3M455.2 391.5h-1.3M455.2 405h-1.3M455.2 418.5h-1.3M455.2 431.9h-1.3M455.2 433.8v1.3M465.2 433.8v1.3M475.8 433.8v1.3M486.3 433.8v1.3M496.9 433.8v1.3M507.5 433.8v1.3" stroke="#333" stroke-width="0.5"/>
<text x="487.3" y="447.4" font-size="4.8" text-anchor="middle" fill="#333" stroke="#333" stroke-width="0.12">CD244<tspan font-size="3.3" dy="-1.7">+</tspan><tspan dy="1.7">  </tspan>NK</text>
<text x="0" y="0" font-size="4.8" text-anchor="middle" fill="#333" stroke="#333" stroke-width="0.12" transform="translate(445.3 403.5) rotate(-90)">wound-myCAF/fibro</text>
<text x="493.5" y="378.6" font-size="4.8" fill="#333" stroke="#333" stroke-width="0.12"><tspan font-style="italic">r</tspan> = −0.38</text>
<text x="493.5" y="383.6" font-size="4.8" fill="#333" stroke="#333" stroke-width="0.12"><tspan font-style="italic">P</tspan> = 0.03</text>
<path d="M458.5 415.4L514.2 430.8" stroke="#6883aa" stroke-width="0.85"/>
<path d="M483.5 375h0M470.4 399.2h0M471.9 405.4h0M472.9 411.2h0M458.1 409.2h0M460.8 411.2h0M463.8 410.2h0M461.3 415.4h0M471.9 416h0M465.8 417.9h0M471.5 421.2h0M494 419.8h0M482.5 422.7h0M479.6 426.2h0M483.5 426.9h0M472.3 427.5h0M498.8 426.9h0M505.6 426.9h0M513.8 426.5h0M493.1 430h0M460 431.3h0M469.6 431.3h0M471 431.9h0M479.6 431.3h0M497.9 431.3h0M499.2 431.9h0M500.8 431.3h0M502.3 430.8h0M511.9 431.3h0" stroke="#111" stroke-width="2.3" stroke-linecap="round"/>
<path d="M27 497.3V566H110" stroke="#222" stroke-width="0.8" fill="none"/>
<text x="24.8" y="563.3" font-size="5.1" text-anchor="end" fill="#333" stroke="#333" stroke-width="0.12">0</text>
<text x="24.8" y="550.2" font-size="5.1" text-anchor="end" fill="#333" stroke="#333" stroke-width="0.12">1</text>
<text x="24.8" y="537" font-size="5.1" text-anchor="end" fill="#333" stroke="#333" stroke-width="0.12">2</text>
<text x="24.8" y="523.9" font-size="5.1" text-anchor="end" fill="#333" stroke="#333" stroke-width="0.12">3</text>
<text x="24.8" y="510.8" font-size="5.1" text-anchor="end" fill="#333" stroke="#333" stroke-width="0.12">4</text>
<text x="30.5" y="572.2" font-size="5.1" text-anchor="middle" fill="#333" stroke="#333" stroke-width="0.12">0</text>
<text x="47.2" y="572.2" font-size="5.1" text-anchor="middle" fill="#333" stroke="#333" stroke-width="0.12">1</text>
<text x="64" y="572.2" font-size="5.1" text-anchor="middle" fill="#333" stroke="#333" stroke-width="0.12">2</text>
<text x="80.8" y="572.2" font-size="5.1" text-anchor="middle" fill="#333" stroke="#333" stroke-width="0.12">3</text>
<text x="97.5" y="572.2" font-size="5.1" text-anchor="middle" fill="#333" stroke="#333" stroke-width="0.12">4</text>
<path d="M27 561.5h-1.4M27 548.4h-1.4M27 535.2h-1.4M27 522.1h-1.4M27 509h-1.4M30.5 566v1.4M47.2 566v1.4M64 566v1.4M80.8 566v1.4M97.5 566v1.4" stroke="#333" stroke-width="0.5"/>
<path d="M50.9 542.1h0M48 554.7h0M46.2 544h0M51.6 543.8h0M45.8 542.2h0M57.1 551.7h0M52.2 550.3h0M50.6 555.1h0M39.3 546.1h0M36.7 547.1h0M39.8 549.6h0M52.8 551.8h0M50.4 554.6h0M38.3 557.8h0M52.7 554.2h0M43.1 557.2h0M43.1 552.4h0M63 555.1h0M49.7 530.7h0M51.7 554.4h0M51.8 555.4h0M38.2 537.1h0M52.3 557h0M84.6 543.3h0M40.3 542.9h0M58.4 552.1h0M59.9 556.4h0M59.7 554.3h0M44.2 550.8h0M46.1 545.9h0M40.3 548.2h0M48.8 549h0M67.4 553.6h0M43.2 544.1h0M36.1 555.7h0M49.8 554.6h0M60 550.6h0M47 546.6h0M74.4 548.8h0M47.7 548.4h0M49.6 553.8h0M40.8 544.9h0M46.3 557.6h0M59.5 554.5h0M59.7 556.4h0M65.8 555.8h0M58.5 549h0M55.2 546.3h0M35.9 555.6h0M42.4 551.6h0M90.3 535.7h0M44.6 549.8h0M57.2 540.4h0M48.7 544.2h0M57.6 543.2h0M50 553h0M41.2 549.4h0M42.7 530.7h0M53.2 554.8h0M44.9 542.4h0M36.1 554.1h0M55.4 551.1h0M62.4 547.7h0M61 553.3h0M61.4 552.6h0M38.2 556h0M72.8 552.2h0M48 556.3h0M41.8 549.1h0M45.4 550.9h0M43.2 544h0M39.8 552.7h0M49.2 544.1h0M51.1 543.2h0M47.4 542.5h0M51 546.6h0M47.7 548.8h0M43.1 549.9h0M44.2 553.6h0M55.1 551.8h0M38.7 551.7h0M44.6 533.4h0M60.7 556.1h0M51.8 552.8h0M56.7 550h0M49.3 555.4h0M40.1 546.9h0M45.7 554.4h0M50.5 549.4h0M45.7 551.3h0M47.7 547.9h0M51.2 556.3h0M59.9 549.7h0M45.2 540.4h0M64.1 545.8h0M49.4 551.6h0M61.4 551.2h0M63.6 550.5h0M74.3 552.6h0M62.7 555h0M62.9 551.5h0M73.7 551.8h0M37.5 533.8h0M41.5 548.5h0M62.3 531.4h0M35.6 551.7h0M51.4 549.4h0M51.4 551.3h0M38.4 555h0M41.8 555.4h0M57.4 552.9h0M56 544.9h0M44.3 555.7h0M42.5 556.4h0M43.3 551.8h0M55.1 554.3h0M39.1 554.5h0M49.9 539.4h0M38.7 551.8h0M60.8 548.2h0M51.9 552h0M67.6 546.7h0M35.3 552.1h0M36.2 552.5h0M44.1 547.5h0M70.8 552h0M40.4 542.3h0M67.2 554.7h0M51.5 540.4h0M51.4 555.9h0M58 553.6h0M41.3 551h0M44.1 555.9h0M39.8 554.3h0M50.9 547.2h0M78.5 552.9h0M46.1 554.8h0M55.6 547.1h0M54 551.2h0M51.9 548.3h0M48 540.8h0M68.2 551.7h0M50.9 549.8h0M45.3 523.9h0M64.3 557.5h0M59.7 550.6h0M53.5 554.9h0M48.7 549.2h0M74.2 555h0M50.3 553.8h0M44.5 556.4h0M57.4 547.1h0M47.2 551.6h0M50.2 553.1h0M46.8 555.7h0M48.5 543.4h0M37.9 557.1h0M42.7 544.5h0M43.4 549.5h0M47.6 554h0M53.2 551.2h0M41.7 556.7h0M84.9 541.3h0M48.7 556.3h0M54.8 554.2h0M40.9 545.9h0M42.3 553.5h0M74.5 550.4h0M58 550.7h0M48.8 554.6h0M39.3 553.8h0M73.6 537.7h0M42.1 545.9h0M45.7 548.3h0M48.7 551.3h0M54.6 555.2h0M50.5 556.3h0M50 548h0M81.7 554.2h0M51.6 553h0M55.8 555.9h0M39 557h0M60.3 551.1h0M37.3 555.4h0M44.2 535.4h0M90.7 538.9h0M43.3 553h0M50.3 543.9h0M40.6 555.2h0M40.6 543.8h0M66 533.8h0M46 547.8h0M49.5 532.6h0M47.3 557.7h0M38.8 551.9h0M48.8 552.9h0M65 547.5h0M43.3 551.6h0M55.8 548h0M65.4 550.8h0M40.2 555.1h0M61.8 556.4h0M36.5 544.7h0M58.7 554.6h0M46.9 548.3h0M40.7 549.5h0M49 553.8h0M44.4 556.7h0M37.5 550.4h0M64.7 542.8h0M66.1 556.5h0M41.3 527.2h0M46.1 550.8h0M45.4 549.1h0M47.6 541.7h0M39.7 538.8h0M63 549.6h0M51 546.6h0M41.8 554.4h0M45.6 551.5h0M43.3 556.1h0M48.4 547.4h0M58.5 548.4h0M58.8 548.2h0M41 547.7h0M51.5 557.3h0M42.3 552.5h0M37.3 555.3h0M41.1 553.1h0M50.3 548.2h0M38.3 540.2h0M43.6 552.5h0M55.6 554.7h0M43.8 553.8h0M43.5 552.1h0M41.8 552.6h0M36.8 550.3h0M47.5 547.3h0M50.6 556.8h0M51.5 557h0M41.4 554.6h0M41.5 554.1h0M60.9 540.5h0M41.9 552.9h0M47.1 545.3h0M33.6 555.7h0M41.1 526h0M41.1 544.7h0M38.4 555.7h0M71.8 552.4h0M46.7 534.7h0M36.5 548.9h0M50.6 553.9h0M49.9 545.3h0M50.2 548.7h0M70 557.5h0M49.4 530.2h0M50.2 544.2h0M43.6 551.8h0M41.3 553.9h0M49.8 554.7h0M48.9 557.3h0M42 550.7h0M45.3 554.4h0M50.9 555.9h0M51.7 554.8h0M44.7 532.5h0M35.8 554.4h0M52.7 543.7h0M46.5 540h0M41.8 550.8h0M45.3 546.3h0M40.2 555.5h0M52.6 553.1h0M46.3 550.6h0M37.6 555.3h0M53.9 555.2h0M55.7 534.3h0M48.1 542.6h0M56.3 551.6h0M38.4 555.6h0M67.8 550.7h0M53.8 555.5h0M64 552.6h0M38.5 551.2h0M44.5 550.5h0M47 554.3h0M79 546.3h0M49.8 541.7h0M39.9 553.1h0M56.3 550.2h0M52.2 553.6h0M43.4 550.2h0M60.7 541.2h0M66.1 553.9h0M47.6 554.5h0M41.6 552.3h0M58.4 553.1h0M54.7 550.1h0M47 551h0M42.7 557.3h0M47.3 543.1h0M55.7 553.1h0M50.8 551.9h0M33.7 553.9h0M57.9 542.6h0M78 544.6h0M54.8 550.8h0M61.5 548.4h0M50.5 549.8h0M83.6 554.7h0M50.4 552.6h0M71 539.9h0M73.4 547.9h0M48.9 529.1h0M61.5 547.8h0M38.4 556.4h0M55.1 548.8h0M38.3 552.4h0M57.2 556.5h0M46 556.5h0M48.3 542.9h0M42.3 545.3h0M53.4 555h0M59.8 553.1h0M42.2 552.1h0M47.2 547.4h0M53.5 550h0M44.6 540.1h0M68.6 553.4h0M84.5 538.3h0M53.6 546.3h0M49.5 550.2h0M52.3 550.8h0M42.9 548h0M38.8 545.5h0M43.5 552.7h0M53.5 553.3h0M47.3 552.6h0M42.5 553.1h0M41.5 545.1h0M50.6 546.9h0M47.2 556.9h0M60.2 553.7h0M41.4 555.9h0M97.7 552.4h0M49.7 553.3h0M85.9 554.6h0M47 547.6h0M57.2 553.4h0M45.7 550.3h0M78.2 552.5h0M59.9 547.5h0M43.8 547.8h0M48.8 552.7h0M59.9 549h0M37.4 550.5h0M43.6 540.7h0M44.8 554.6h0M34.9 550.3h0M54 551.5h0M84.1 552.4h0M36.9 534.2h0M40.2 549.6h0M51.9 544.1h0M55.2 543.6h0M54.6 549.7h0M47.6 549.4h0M45.4 554.7h0M37.5 554.3h0M81.1 550.8h0M70.6 545.4h0M44.2 537.7h0M50.3 555.9h0M47.8 548.5h0M46.4 544.8h0M41 554h0M91.2 554.6h0M48.3 556.5h0M60.3 547.6h0M48.7 551.6h0M54.2 548.9h0M75 554.7h0M51.9 551h0M73.8 544.8h0M44.2 551.1h0M59.6 546.6h0M72 543.2h0M60.9 550.3h0M44.3 548h0M47 544.7h0M44.4 545.3h0M54.8 542h0M48.7 550.6h0M43.5 552.2h0M40.1 532.5h0M44.5 550.4h0M50.3 547.8h0M60.1 534.8h0M55.3 557.7h0M59.2 552.9h0M69 557.6h0M55.8 542.8h0M38.7 529.2h0M48.1 552.2h0M39.3 548h0M52.2 546.6h0M37.4 557.1h0M49.9 552.9h0M52 549.2h0M58 556.3h0M50.5 553.7h0M98.7 543.2h0M46.1 548.2h0M61.5 555.6h0M45.9 555.2h0M41.8 548.4h0M46 556.3h0M38.7 554.6h0M52.7 551.8h0M37 544.9h0M61.7 554h0M50 552.7h0M59.2 550.5h0M40.5 553.4h0M73 552.5h0M67.7 539.5h0M63.9 538.4h0M49.2 548.9h0M61.2 549.5h0M50 549.8h0M68.6 541.5h0M37.2 552.7h0M51.1 544.3h0M70.5 545.9h0M61.9 537.5h0M62.8 544.8h0M61.3 553h0M52.8 548.9h0M42.2 549.1h0M56.7 554.8h0M46.3 553.2h0M47.9 555.7h0M49.5 556.6h0M50.7 547.4h0M41.9 556h0M59.7 550.4h0M53.1 554.2h0M67.2 544.3h0M85.1 549h0M60.8 548.8h0M52.1 545.6h0M39.5 550.6h0M50.4 555.7h0M53.2 551h0M54.3 548.8h0M51.3 551.5h0M45.6 549.6h0M63.3 555.9h0M52.7 549.8h0M65.5 532.3h0M43.9 555h0M54.7 554.9h0M68.2 525.4h0M68.2 546.6h0M40.9 536.1h0M49.8 542.3h0M47.1 556.4h0M68.2 539.8h0M56 549.9h0M44.5 554.3h0M50.6 547h0M45.8 549h0M51.3 548.1h0M46.5 555.8h0M53.5 531.4h0M68.4 551.9h0M91 544.6h0M61.8 556.8h0M81.4 555.9h0M36.2 547.8h0M59.6 545.8h0M60.7 554.2h0M56.7 546.5h0M50.1 554.2h0M35.1 553.7h0M41.4 554.2h0M48.4 555.4h0M55.6 556.3h0M42.3 550.9h0M50.6 543.9h0M49.2 546.9h0M49.4 530.1h0M51.1 552.3h0M58.3 548.9h0M47.3 554.7h0M49.1 550.8h0M42.4 544.7h0M46.7 549.6h0M43 554.9h0M55.8 555.3h0M85 553.9h0M79.6 555.6h0M44.3 555.9h0M56.4 550.3h0M51.5 556.1h0M36.9 554.7h0M35.2 549h0M43.8 557.1h0M48.5 547.7h0M38.8 555.4h0M41.2 556.3h0M41.9 552.9h0M41.2 553.7h0M39.2 552.9h0M47.5 541h0M58.3 551h0M53.3 553.5h0M41.8 549.1h0M48.2 549.9h0M50.4 555.4h0M36.1 553.7h0M63 554.2h0M43.2 556h0M39.1 551.7h0M95.3 554.2h0M40.9 552.3h0M46.7 551h0M43 554.3h0M63 540.8h0M47 550.6h0M38.2 552.4h0M35.2 550.9h0M44.6 541.7h0M81.6 555.5h0M40.6 546.7h0M67.6 555.6h0M42 548.3h0M37.9 556h0M48 552.6h0M52.9 554.4h0M48.6 553.5h0M35.5 545.4h0M43.9 544.4h0M53.6 551.5h0M44.5 554.2h0M55.2 545.7h0M38.7 555.8h0M97 556.5h0M40.3 551.9h0M48.6 552h0M48.6 550.4h0M60.9 551.5h0M46.3 524.3h0M50.4 554.8h0M48.9 553.3h0M55.5 554.5h0M55.3 545.2h0M49.5 554.7h0M61.1 555.9h0M70.9 552.3h0M43.6 554.1h0M44.2 549.7h0M43.8 557.4h0M43.3 546.4h0M43.7 550h0M50.5 553.2h0M59.4 554.2h0M43.5 549.2h0M54.8 552.9h0M45.7 549.3h0M95.6 537.2h0M52.6 551.2h0M59 544.1h0M41.2 547.9h0M42 554.2h0M52.1 542.3h0M42.8 546.8h0M49.1 555.3h0M65.7 549.7h0M43 536.5h0M42.2 545.3h0M51.5 546.6h0M47 553.4h0M57.3 551.5h0M48.2 548.8h0M40.6 554.5h0M35.4 557h0M53.6 539h0M43.1 554.3h0M50.9 538.9h0M36.6 552.4h0M42.7 555h0M53.7 555.7h0M63.2 544.3h0M63.7 553h0M67.3 556.3h0M49.3 549.2h0M62.1 551.5h0M53.4 554.2h0M47 554.4h0M45 554.4h0M42.5 551.5h0M63.1 553.8h0M50 555.8h0M42.9 544.8h0M48.2 541.6h0M79.1 552.3h0M38.5 551.4h0M38.7 544.8h0M70.3 554.3h0M38.3 549.4h0M69.5 542.6h0M44.2 552.6h0M54.4 557.4h0M68.1 555.9h0M68.1 554.5h0M59.6 551.6h0M49.5 556.9h0M46.9 556.6h0M47.1 549h0M72.9 547.5h0M53.6 552.2h0M66 543.4h0M34.5 543.8h0M46.2 544.6h0M53.3 556h0M45.9 535.9h0M85.2 556.4h0M40 553h0M56.3 557.7h0M61.6 549.6h0M42.2 552.5h0M61.3 547.4h0M55 552.7h0M105.7 556h0M71.8 551.9h0M49.5 556.5h0M63.2 533.6h0M55 557h0M45.4 547.5h0M58.4 555.7h0M56.2 554.7h0M74.3 554h0M38.5 546.6h0M38.8 551.3h0M42.8 550.8h0M58.5 556.4h0M65 546.1h0M48.7 552.7h0M53 553.5h0M50.6 540.6h0M37.4 545.2h0M42.3 551.1h0M62.3 546.5h0M61.3 555.9h0M66.7 552.2h0M59 550.3h0M34.2 553.3h0M53.6 554.3h0M54.4 552h0M38.9 555.8h0M80.3 551.9h0M48.5 543.4h0M63 548.1h0M60.4 549.8h0M57.9 553.9h0M70.9 533.4h0M48.6 550.9h0M63 555.5h0M55.7 531.8h0M39.7 532.8h0M43.9 550.8h0M39.8 547.2h0M37.7 548.6h0M56 550.2h0M38.5 545.8h0M63.5 554.1h0M47.4 554.1h0M47.3 555.2h0M39.5 548.7h0M54.7 551.2h0M41.7 551.6h0M58.4 544.3h0M59 553.6h0M37 552h0M56.1 548.3h0M35.5 534.8h0M61 535h0M35.3 546.5h0M40.7 550.4h0M69 546.8h0M52.7 546.7h0M59.1 544.2h0M34.3 551.3h0M60.3 556.4h0M42.3 546.6h0M75.8 553.3h0M50.7 551.1h0M49 554.4h0M37.4 549.9h0M41.7 556.2h0M49.7 552.6h0M70.1 546.5h0M68.5 552.3h0M47.3 552.7h0M40 541.5h0M39.5 527.4h0M76.6 551.9h0M53.7 552.5h0M40.6 555.2h0M73.1 549.2h0M57 544.2h0M60.3 549.3h0M61.7 553.2h0M54.3 547.8h0M45 550.9h0M37.3 552.8h0M38.9 555.4h0M41.9 548.5h0M56.6 550.9h0M43.1 541.3h0M60.9 554h0M62.5 550.5h0M73.3 548.3h0M74 553.5h0M75.5 552.7h0M52.9 552.4h0M52.1 548.7h0M44.1 537.8h0M53.6 547.9h0M51.9 556.4h0M43.9 554.9h0M36.4 551.4h0M70.7 546.4h0M57.7 549.9h0M41.3 547h0M45.6 554.4h0M61 525.2h0M45.1 552.5h0M54.4 556.5h0M65.4 550.9h0M62.4 535.7h0M49 555h0M42.3 547.3h0M46.7 548.3h0M60.8 538.6h0M48.8 549.2h0M76.9 545.1h0M79.9 549.3h0M73.8 548.1h0M60.4 554.9h0M40.1 555.5h0M78 549.7h0M61.2 551.1h0M44.2 550.3h0M42.5 541.8h0M44.6 556h0M52.7 551.3h0M38.7 542.8h0M68.1 555.9h0M47 555h0M58.1 557.1h0M37.3 547.1h0M65.3 556.5h0M49.7 542.9h0M40.2 553.4h0M74 552.8h0M46.4 548.3h0M46.2 546h0M42.1 555.2h0M39.7 549.7h0M49.7 551.6h0M50.9 540.2h0M46.2 554.5h0M40.6 540.3h0M73.6 557h0M75.7 547.3h0M42.3 539h0M69.5 546.9h0M50.9 541.3h0M49.6 544h0M84.2 556.4h0M81.8 554h0M45.8 542.5h0M59.6 549.6h0M44.1 551.8h0M37.3 540h0M62 548.2h0M55.7 555.7h0M59.7 550.7h0M89 553.1h0M47.1 555.2h0M56.2 552.4h0M51.8 553.3h0M36 551.3h0M47.8 551.7h0M37.4 552.9h0M50.5 553.5h0M40.5 551.2h0M39.9 552.1h0M71 551.3h0M45.5 551.5h0M46.8 554.8h0M53.7 550.1h0M35.1 555.5h0M41.4 548h0M42.5 537.5h0M54.7 551.8h0M52.4 550.8h0M43.6 531.3h0M77.6 551.7h0M44.4 555.6h0M42.3 548.9h0M54.3 555h0M42.9 547h0M67.3 555.9h0M53.2 550.6h0M42.9 549.6h0M88.7 543.1h0M45.5 548.8h0M49.1 555.6h0M53.2 550h0M53.5 550.7h0M54.3 539.2h0M38.8 553.1h0M50.2 552.4h0M35.5 548.6h0M46.8 552.4h0M48.2 555.4h0M56 554.4h0M42.1 550.5h0M52.7 551.3h0M45.1 555.1h0M50.3 552.4h0M41.2 550.8h0M62.4 557.5h0M61.4 556.6h0M37.2 557.4h0M46.6 556.9h0M45.6 550.1h0M35.5 550.6h0M38.9 557.1h0M46.6 547h0M39.2 544.8h0M50.8 551.2h0M58.2 549.2h0M43.2 549.1h0M56.6 554.1h0M73.3 555h0M38.8 540h0M44.9 529.4h0M52.7 525.5h0M36.4 514.4h0M48.7 522.1h0M37 532.9h0M39 534h0M49.5 534h0M42.7 521.3h0M37.8 522.4h0M52.6 540.8h0M40.6 520.2h0M49 534.8h0M47.7 524.8h0M38.5 536.4h0M42.7 533.2h0M47.5 542.5h0M43.5 541.2h0M45.1 540.6h0M40.7 525.4h0M42.2 525.1h0M43.2 535.5h0M55.3 536.4h0M42.1 535h0M37.2 524.6h0M63.3 532.6h0M37.1 534.9h0M39.6 537.3h0M55.5 539.5h0M46.7 534.2h0M36.6 529h0M42.5 542.4h0M40.5 533.2h0M44 521.2h0M51.3 535.3h0M39.7 536.3h0M47.4 523.8h0M38.9 540.5h0M34.2 540.9h0M47.7 523.2h0M36.9 525.9h0M36.8 528.4h0M47.6 537.8h0M36.8 531.7h0M42.5 526.1h0M49 528.4h0M35.9 520.8h0M44.1 528.2h0M50.3 532.9h0M38 528.9h0M56.5 528.8h0M43.7 544.1h0M37.1 534.5h0M40 527.1h0M38.8 522.9h0M44.8 531.5h0M45.3 529.2h0M48.5 533.3h0M45.1 537.1h0M35.6 522.4h0M46.8 537.8h0M43.7 523.1h0M36.6 544.3h0M40.8 521.1h0M34.8 530.4h0M48 526.1h0M42.5 544.2h0M35.7 523.6h0M49.9 528.3h0M38.5 537.2h0M52.6 540.8h0M38.7 532.4h0M64.5 543.9h0M34.8 540h0M39.5 522h0M45 531.9h0M41.3 536.7h0M37.4 542.6h0M36.6 533.3h0M51.2 530.8h0M37.8 538.1h0M42.2 537.5h0M50.3 540.8h0M47.4 540.1h0M57.7 536h0M37.9 531.9h0M37.2 536.2h0M47.3 524.7h0M37.5 540.2h0M45.1 525h0M51.4 540.9h0M45.2 526.9h0M33.6 515.9h0M43.3 528h0M41.2 539.7h0M64.5 533.3h0M40.7 540.5h0M43.1 534.7h0M36.6 533.9h0M53.4 534.7h0M54.3 536.2h0M36 528.1h0M44.7 522.1h0M38.4 541.9h0M37.8 526.7h0M36.5 526.5h0M34.1 535.4h0M53.8 536.4h0M43.1 534.5h0M55.8 543.5h0M48.1 539.6h0M45.3 535.8h0M53.5 529h0M59.3 528.9h0M40.7 531h0M43.7 543h0M35.4 523.7h0M43.1 523.1h0M43.5 524.7h0M37.2 519.4h0M35.3 543h0M47.8 526.7h0M36.7 525.9h0M36.5 536.3h0M36.8 535.3h0M40.1 526.3h0M37.1 538.1h0M51.5 526.8h0M42.1 526.3h0M45.2 543.3h0M39.7 525.5h0M40.4 532.8h0M61 531.5h0M40.6 538.8h0M52.9 526.5h0M41.5 524.1h0M37.4 517.5h0M42.8 536h0M39.8 528.1h0M59.2 541.9h0M44 527.3h0M39.5 535.2h0M45.2 528.2h0M52.1 542.6h0M51 543.3h0M44.6 529.6h0M37 537.8h0M45.3 543.3h0M34.9 530h0M50.1 536.5h0M37.8 542h0M36.8 519.6h0M66.4 537h0M47 526.1h0M42.1 533.7h0M46 542.6h0M39.6 518.6h0M40.9 541.2h0M45.3 521h0M45.3 528.5h0M33.3 530.7h0M63 542h0M39.6 531.8h0M55.7 543.9h0M48.8 523.1h0M41.2 540.3h0M51.3 529.1h0M41.5 539.1h0M37.5 522.9h0M33.4 538.7h0M52.7 539.2h0M46.3 535.9h0M44.4 519.7h0M47.9 532.3h0M42.5 533.5h0M50.6 538.8h0M51.1 543.3h0M38.3 520.5h0M72.8 541.9h0M39.8 520.9h0M35.8 543.2h0M61.8 531h0M58 536.6h0M49.2 532.8h0M41.5 532.9h0M52.4 532.5h0M59.3 544.1h0M43.7 532.5h0M45.5 520.4h0M41.6 532.8h0M37.1 514.9h0M39.3 543.5h0M41.8 524.5h0M49.4 529.1h0M43.4 543.9h0M54.4 534.7h0M41.7 542.2h0M52.5 524.9h0M45.9 540.1h0M33.7 529.2h0M34.3 542.3h0M47.4 523.2h0M54.3 535.8h0M37.6 526.1h0M36.9 517.4h0M46.1 542.9h0M35.3 526.2h0M63.9 531.8h0M67.3 541.2h0M43.7 532.1h0M43.3 522.1h0M47 526.9h0M38.1 536h0M39 529.1h0M49.5 531h0M40.9 517h0M54.2 529.2h0M39.9 535.6h0M46.7 527.3h0M42.9 540.5h0M37.4 515.3h0M52.9 531.9h0M62.4 544.2h0M51.8 535.5h0M38.9 535.1h0M43.7 532.8h0M36.3 515h0M46.4 520.7h0M63.3 533.6h0M45.1 539.5h0M42 532.6h0M53.9 533.2h0M47.5 528.2h0M63.9 532.2h0M40.3 532.6h0M45.3 527.9h0M40.5 523.9h0M35.7 518.8h0M37.8 519.8h0M51.6 535h0M42.9 533.1h0M41.7 521h0M63.1 544h0M40 518.8h0M37.1 540h0M35.4 536.9h0M47.1 535h0M44.5 528.9h0M40.1 517.1h0M35.8 515.1h0M38.3 511.2h0M36 506.6h0M37 511.6h0M33.1 506.5h0M36.6 513.6h0M35.5 511.6h0M36.9 513h0M39.6 505.4h0M38.6 513.8h0M38.8 512.1h0M40.6 507.2h0M31.1 508.4h0M38.7 503h0M37.5 503.9h0M37.3 507.3h0M34 507.1h0M39.1 514h0M40.7 511.4h0M40.3 509.9h0M37.3 509.5h0M39.3 512.8h0M40.1 511.6h0M42.5 511.3h0M40.9 506.1h0M37.9 507.8h0M37.8 509.9h0M38 509.8h0M38.2 508.2h0M36.2 510.9h0M39.6 509.7h0M35.7 513.8h0M35.4 507.2h0M38.5 506.3h0M36 508h0M36.9 507.7h0M31.9 508h0M39.7 503.4h0M37.5 508.4h0M37.2 512.7h0M38.8 511.9h0M38.1 507h0M35.6 506.1h0M43 506.9h0M36.3 506.7h0M40.2 508.5h0M42.5 513.1h0M35.9 511h0M37.8 514h0M35.3 510.1h0M40.4 512.8h0M36.6 508.7h0M34.6 509.5h0M41.1 514.4h0M40 507h0M35.1 506.9h0M40.8 512.9h0M38.1 508.6h0M44.9 507h0M42.2 509.8h0M36 506.6h0M36.8 508.5h0M35.2 506h0M37.9 508.5h0M37.7 509.5h0M39.5 507.6h0M37.8 506.8h0M33.5 508.3h0M35.3 510.3h0M41.4 511.2h0M40.7 510.1h0M37.1 510.6h0M37.2 508.5h0M37.1 508.6h0M37.6 509.3h0M33 509h0M40 508.6h0M35.7 504.7h0M37.9 505.7h0M38.2 507.9h0M41.2 510h0M31.5 509.3h0M41.7 509.7h0M38.8 510.8h0M35.5 512.8h0M33.2 515.9h0M40.7 508.5h0M38.2 505.8h0M39.1 511.6h0M36.8 507.6h0M36.4 507.1h0" stroke="#111" stroke-width="1.25" stroke-linecap="round"/>
<path d="M34.1 561.5h0M34 561.5h0M40.3 561.5h0M55.2 561.5h0M62 561.5h0M56.4 561.5h0M35.4 561.5h0M58.6 561.5h0M58.4 561.5h0M59.2 561.5h0M55.5 561.5h0M41.1 561.5h0M48.4 561.5h0M46.6 561.5h0M34.1 561.5h0M49.8 561.5h0M41.2 561.5h0M62.5 561.5h0M53.7 561.5h0M58.1 561.5h0M34 561.5h0M55.1 561.5h0M57.9 561.5h0M47.3 561.5h0M40.8 561.5h0M48.1 561.5h0M50.1 561.5h0M46.5 561.5h0M42.9 561.5h0M53.7 561.5h0M60.6 561.5h0M41.3 561.5h0M60.4 561.5h0M34.7 561.5h0M54.3 561.5h0M43.7 561.5h0M49.3 561.5h0M44 561.5h0M35.5 561.5h0M38.2 561.5h0M63.6 561.5h0M45.9 561.5h0M62.5 561.5h0M49.1 561.5h0M60.9 561.5h0M46.8 561.5h0M63.7 561.5h0M47.8 561.5h0M41 561.5h0M38.5 561.5h0M35.2 561.5h0M36.4 561.5h0M54.1 561.5h0M44.3 561.5h0M60.1 561.5h0M39.1 561.5h0M62 561.5h0M38.9 561.5h0M41.4 561.5h0M43.5 561.5h0M41.2 561.5h0M45.9 561.5h0M57.9 561.5h0M35.2 561.5h0M40.6 561.5h0M34.7 561.5h0M57 561.5h0M36.7 561.5h0M48.8 561.5h0M59.9 561.5h0M42.8 561.5h0M36.6 561.5h0M41.3 561.5h0M62.1 561.5h0M36 561.5h0M59.8 561.5h0M36.7 561.5h0M38.1 561.5h0M56.9 561.5h0M52.8 561.5h0M43 561.5h0M54.8 561.5h0M37.6 561.5h0M60.3 561.5h0M50.9 561.5h0M62.3 561.5h0M51.5 561.5h0M50.7 561.5h0M59.6 561.5h0M51.1 561.5h0M35.7 561.5h0M52 561.5h0M42.1 561.5h0M52.8 561.5h0M63.9 561.5h0M51.9 561.5h0M58.8 561.5h0M44 561.5h0M33.4 561.5h0M34.5 561.5h0M33.6 561.5h0M39.8 561.5h0M41.4 561.5h0M43 561.5h0M53.3 561.5h0M56.2 561.5h0M56.8 561.5h0M56.3 561.5h0M59.5 561.5h0M55.4 561.5h0M47.2 561.5h0M45.8 561.5h0M35.5 561.5h0M33.4 561.5h0M59.6 561.5h0M37.6 561.5h0M59.8 561.5h0M45.4 561.5h0M34.9 561.5h0M58.7 561.5h0M55.2 561.5h0M63.9 561.5h0M49.8 561.5h0M61.8 561.5h0M48.7 561.5h0M41.1 561.5h0M45.4 561.5h0M53.5 561.5h0M60.6 561.5h0M58.3 561.5h0M61.8 561.5h0M49.7 561.5h0M47.3 561.5h0M49.3 561.5h0M61.9 561.5h0M44.4 561.5h0M34.9 561.5h0M45.2 561.5h0M53.1 561.5h0M58.8 561.5h0M62.2 561.5h0M54.3 561.5h0M58.2 561.5h0M58.2 561.5h0M58.1 561.5h0M51.6 561.5h0M62.3 561.5h0M60.6 561.5h0M33.3 561.5h0M36.8 561.5h0M63.8 561.5h0M53.7 561.5h0M37.4 561.5h0M61.2 561.5h0M35.8 561.5h0M49.7 561.5h0M45 561.5h0M42 561.5h0M40.4 561.5h0M35.7 561.5h0M44.7 561.5h0M36.1 561.5h0M52.4 561.5h0M43 561.5h0M56.8 561.5h0M62.1 561.5h0M60.5 561.5h0M55.9 561.5h0M57.2 561.5h0M35.9 561.5h0M63.1 561.5h0M50.9 561.5h0M49.8 561.5h0M53.9 561.5h0M38.8 561.5h0M47.6 561.5h0M36.8 561.5h0M61.5 561.5h0M48.5 561.5h0M37.1 561.5h0M63.1 561.5h0M51 561.5h0M56.4 561.5h0M57.9 561.5h0M54.6 561.5h0M46.8 561.5h0M41.7 561.5h0M34.6 561.5h0M52.3 561.5h0M36.4 561.5h0M44.5 561.5h0M60.6 561.5h0M61 561.5h0M58.5 561.5h0M39 561.5h0M62.2 561.5h0M37.4 561.5h0M61.5 561.5h0M56.2 561.5h0M63.1 561.5h0M63.5 561.5h0M49.3 561.5h0M42.7 561.5h0M61.5 561.5h0M42.7 561.5h0M43.3 561.5h0M50.6 561.5h0M37.4 561.5h0M47.1 561.5h0M37.3 561.5h0M47.1 561.5h0M61.1 561.5h0M61.5 561.5h0M62.7 561.5h0M55.5 561.5h0M56.1 561.5h0M46.2 561.5h0M60.7 561.5h0M37.2 561.5h0M38.2 561.5h0M36.7 561.5h0M45.7 561.5h0M34.9 561.5h0M54.8 561.5h0M38.7 561.5h0M54.4 561.5h0M50.5 561.5h0M54.4 561.5h0M54.8 561.5h0M57.4 561.5h0M47.9 561.5h0M50.7 561.5h0M40.8 561.5h0M48.5 561.5h0M35.8 561.5h0M62.6 561.5h0M61.8 561.5h0M35.3 561.5h0M33.3 561.5h0M45.3 561.5h0M49.3 561.5h0M47.9 561.5h0M43.5 561.5h0M52.3 561.5h0M45.4 561.5h0M45.6 561.5h0M34 561.5h0M51.4 561.5h0M66.2 561.5h0M87 561.5h0M76.8 561.5h0M73.5 561.5h0M81.7 561.5h0M87.7 561.5h0M68.5 561.5h0M74.8 561.5h0M90.1 561.5h0M87.2 561.5h0M74.5 561.5h0M73.7 561.5h0M85.9 561.5h0M66.3 561.5h0" stroke="#111" stroke-width="1.45" stroke-linecap="round"/>
<path d="M31.3 541.5L107.5 551" stroke="#6a8ab5" stroke-width="0.85"/>
<text x="28.1" y="494.5" font-size="6.9" fill="#eeaa48" stroke="#eeaa48" stroke-width="0.12" textLength="34.6" lengthAdjust="spacingAndGlyphs">detox-iCAF</text>
<text x="68.5" y="579.3" font-size="5.9" text-anchor="middle" fill="#333" stroke="#333" stroke-width="0.12">FOXP3</text>
<text x="0" y="0" font-size="6" text-anchor="middle" fill="#333" stroke="#333" stroke-width="0.12" transform="translate(15.6 531) rotate(-90)">detox-iCAF</text>
<text x="85" y="500.9" font-size="5.5" fill="#333" stroke="#333" stroke-width="0.12"><tspan font-style="italic">r</tspan> = −0.13</text>
<text x="85" y="507.4" font-size="5.5" fill="#333" stroke="#333" stroke-width="0.12"><tspan font-style="italic">P</tspan> = 4.6e-6</text>
<path d="M150 497.3V563.5H233.8" stroke="#222" stroke-width="0.8" fill="none"/>
<text x="147.8" y="562.3" font-size="5.1" text-anchor="end" fill="#333" stroke="#333" stroke-width="0.12">0</text>
<text x="147.8" y="544.1" font-size="5.1" text-anchor="end" fill="#333" stroke="#333" stroke-width="0.12">1</text>
<text x="147.8" y="526" font-size="5.1" text-anchor="end" fill="#333" stroke="#333" stroke-width="0.12">2</text>
<text x="147.8" y="507.8" font-size="5.1" text-anchor="end" fill="#333" stroke="#333" stroke-width="0.12">3</text>
<text x="153.8" y="569.7" font-size="5.1" text-anchor="middle" fill="#333" stroke="#333" stroke-width="0.12">0</text>
<text x="170.7" y="569.7" font-size="5.1" text-anchor="middle" fill="#333" stroke="#333" stroke-width="0.12">1</text>
<text x="187.6" y="569.7" font-size="5.1" text-anchor="middle" fill="#333" stroke="#333" stroke-width="0.12">2</text>
<text x="204.4" y="569.7" font-size="5.1" text-anchor="middle" fill="#333" stroke="#333" stroke-width="0.12">3</text>
<text x="221.3" y="569.7" font-size="5.1" text-anchor="middle" fill="#333" stroke="#333" stroke-width="0.12">4</text>
<path d="M150 560.5h-1.4M150 542.3h-1.4M150 524.2h-1.4M150 506h-1.4M153.8 563.5v1.4M170.7 563.5v1.4M187.6 563.5v1.4M204.4 563.5v1.4M221.3 563.5v1.4" stroke="#333" stroke-width="0.5"/>
<path d="M178.9 544h0M176.8 540.6h0M186 544.7h0M206.4 551.5h0M188 546h0M173.8 550.1h0M197.8 538.8h0M182.8 527.4h0M174.1 531.6h0M178 549.2h0M189.6 550.4h0M197.3 543.3h0M169.3 540.2h0M172.3 545.7h0M163.2 539.3h0M188.8 546.6h0M173.4 540h0M202.8 530.4h0M199.2 540.5h0M178.5 541.6h0M179.3 543.7h0M168.2 531.9h0M168.5 546.5h0M176.5 542.1h0M173.1 545.4h0M205.3 544.3h0M169 543.1h0M184.7 550.4h0M173.7 536.6h0M177.5 527h0M181.4 525.6h0M165 522.8h0M187 551.1h0M196 544h0M193.1 543.4h0M174 536.6h0M167.3 543.8h0M189 541.6h0M170.2 547.7h0M179 531.1h0M160.9 548h0M162.5 541.4h0M173.7 515.6h0M173.4 540.2h0M166 544h0M161.1 530.3h0M180.6 533.8h0M161.6 542.8h0M168.2 541.8h0M186.4 538.1h0M175.4 524.3h0M180.4 544.7h0M177.5 537.1h0M178 546h0M173.7 549.9h0M166 538.3h0M192.6 547.6h0M178.2 543.3h0M177.4 532.5h0M165.8 543h0M192.8 543.7h0M178.7 548.8h0M163.9 542h0M169.6 537h0M171.4 549.7h0M162.8 544.9h0M170.3 539.3h0M187.7 537.1h0M196.5 539.7h0M180 515.1h0M177.5 535.4h0M174.1 534.4h0M168.2 544.6h0M171.5 537.7h0M180.7 534h0M163.1 541.3h0M173.3 544.4h0M177.4 529.7h0M178.9 545.1h0M162.6 546.9h0M200.8 540h0M183.5 537.6h0M167.1 542.8h0M170.9 546h0M187 538.5h0M190.1 544.8h0M168.1 545.1h0M166.2 544.1h0M195.6 549.8h0M182.7 547h0M175 548.5h0M170.5 535.9h0M174.1 537.5h0M166.4 550.2h0M190 547.7h0M178.7 542.7h0M180.4 522.3h0M223.1 541.3h0M181.1 543.8h0M165.6 534.1h0M169.5 541.5h0M191.9 544.4h0M196.2 550.1h0M178.9 534.2h0M172.4 527.3h0M189.1 541.6h0M165.7 539.1h0M166.7 547.2h0M174.3 535.6h0M182.1 543.6h0M178.5 545.8h0M179.8 526.2h0M164.3 537.8h0M171.5 532h0M175.1 538.1h0M171.6 548.5h0M169.6 550.4h0M183.7 547h0M172.5 537.5h0M167.1 544h0M192.3 543.6h0M177.5 540.8h0M161.7 545h0M181.8 545.4h0M211.3 544.8h0M189.7 543.6h0M194.1 548.6h0M197.2 537.8h0M181.7 543h0M168.7 541.3h0M191.9 545.7h0M164.8 533.9h0M177.3 550.1h0M184.7 545.1h0M180.2 533.3h0M171.8 540.2h0M165 540.6h0M209.9 548.1h0M186.6 548.9h0M169.8 541.1h0M165.6 541.9h0M178 530.2h0M177.4 546.5h0M178.5 544.6h0M199.2 545.3h0M168.5 545.6h0M182.2 543.6h0M162 541.7h0M173.1 542.5h0M200.4 538.5h0M164 529.1h0M188.2 542.4h0M160 545.3h0M171.7 528.8h0M174.1 545.2h0M170.2 543.5h0M183 543.4h0M184.3 540.9h0M190.4 527.8h0M172 523.9h0M168.4 536.1h0M194.7 544h0M169.6 524.5h0M184.2 546.8h0M169 541.4h0M183.8 523.5h0M187.9 549.1h0M168.6 540h0M177.2 533.6h0M179.6 549h0M175.6 525.5h0M188.2 547.9h0M188.1 534.2h0M179.8 548.2h0M204.6 546.8h0M167.3 539.5h0M169.7 546.3h0M159.1 543.1h0M179 531.3h0M172.9 543.4h0M182.2 548h0M168.3 532.2h0M167.4 543.3h0M177.2 550.2h0M169.4 539.7h0M180.7 540.9h0M180.4 547.1h0M175.3 541h0M187.2 541.9h0M178 542.8h0M172 543.7h0M167 549.9h0M181.7 538.1h0M168.2 540.9h0M191.4 548h0M181.2 538.9h0M170.7 526.5h0M165.6 548.3h0M164.6 538.7h0M198.9 551.1h0M159.6 542.6h0M168.1 528.1h0M190.1 548.5h0M205.8 539.1h0M184.7 540.1h0M178.4 545.7h0M183.2 537.1h0M160.1 546.7h0M164.1 537.2h0M168.4 526.8h0M166.2 548.3h0M164.9 530.8h0M229.1 528.6h0M167.2 544.6h0M191.3 530.5h0M160.2 544.2h0M159.5 536.5h0M177.2 520.9h0M185.9 538.3h0M164.8 537.8h0M173.5 547.1h0M199.1 549h0M196.2 544.2h0M167.1 545h0M209.3 538.8h0M203.4 551h0M191.9 536.7h0M162.7 547.3h0M168.6 547h0M182.6 523.5h0M175.6 547.2h0M177.5 548.2h0M183.2 523.5h0M179.8 548.9h0M188.1 535.3h0M204.5 534.9h0M180 546.7h0M172.4 534h0M176.6 547.4h0M164.9 544.5h0M178.4 533.1h0M196.3 534h0M160 541.3h0M160.7 542.2h0M192.2 550.3h0M169.3 542.5h0M175.3 539.9h0M183.1 546h0M209.2 548.3h0M191.8 526.4h0M192.1 539.7h0M187.1 540.1h0M167.7 550.3h0M183 530.7h0M203.3 540.2h0M157.7 544.7h0M160 547.5h0M185.3 541h0M164.8 543.6h0M173 537.1h0M180.8 537.2h0M207.2 532.2h0M176.4 543.5h0M179.9 527.2h0M199 547.8h0M168.7 542h0M163.3 546.3h0M198.8 546.2h0M159.2 544h0M162 525.8h0M164.2 551h0M188.1 547.5h0M188.8 545.9h0M184.5 541.9h0M193.8 534.1h0M167.9 536.8h0M173.8 545.1h0M169.8 546.7h0M177 548h0M176.7 528.3h0M164.7 530.5h0M181.3 547.4h0M185.4 523.4h0M187.5 535.2h0M174.4 541.3h0M179.5 542.4h0M172.9 540.8h0M160.7 528.9h0M196.2 550.2h0M196.8 533.9h0M166.6 537.4h0M173.1 541.4h0M179.8 546.6h0M182.9 541h0M178.3 546.7h0M176.3 544h0M180.2 549.8h0M162.8 542.8h0M179.8 551.2h0M174 542.7h0M215.1 548.9h0M207.2 544.3h0M182.7 543.2h0M172.3 537.4h0M189.1 546.5h0M167.2 548.6h0M200.4 544.8h0M173.3 535.9h0M177.9 535.4h0M166.7 531.9h0M168.3 533.1h0M209.4 535.6h0M184.6 548.9h0M173.2 519.5h0M193.2 538.5h0M174.3 545.2h0M180.1 548.4h0M181.7 542.5h0M168.8 549h0M176.7 544.5h0M189.9 534.8h0M183 538.8h0M163.4 533.9h0M172.9 552.1h0M225 538h0M166.7 529.3h0M169.5 541.3h0M177.6 539.6h0M164.1 545.5h0M160.9 540.5h0M198.9 536.1h0M162 547.2h0M194.3 541.7h0M179.5 541.2h0M181.4 545.4h0M212.1 546.6h0M165.6 519.3h0M162.6 541.9h0M194.4 548.2h0M195 540.8h0M182.2 538.8h0M167.7 536.1h0M164.3 530.8h0M173.8 542.4h0M182.2 530.1h0M164.9 532.1h0M193.7 535.3h0M169.6 543.3h0M172.8 523.1h0M193.9 545.1h0M171.6 543.9h0M192.6 543.5h0M179.7 540.6h0M168.4 531.2h0M169.5 539.1h0M183.5 544.7h0M187.7 532.9h0M188.4 545.9h0M197.4 544.9h0M187.4 540.2h0M185.2 538h0M173.9 544h0M176.3 546.1h0M166 547.1h0M170.3 543.8h0M176.6 542.9h0M172.4 544.9h0M160.6 543.1h0M164.9 544.5h0M201.5 539.6h0M164.2 515.1h0M197.2 543.4h0M181.4 549.1h0M185.3 536.4h0M185.9 527.7h0M171.4 544.2h0M168.1 541.9h0M170.8 531.2h0M187.2 544.7h0M165.7 544.1h0M177.4 550.3h0M180.5 546.4h0M184 532.7h0M182.2 523.3h0M163.7 520.7h0M209.4 545.6h0M169.9 548.2h0M186.7 544h0M175.5 545.9h0M174.5 544.9h0M170.3 540.3h0M201.9 548.5h0M172.4 547h0M164.5 538.3h0M164 538h0M169.8 538.1h0M193 549.2h0M172.3 540.5h0M177.6 532h0M194 543.7h0M188.8 547.7h0M190.4 544.9h0M185.9 531.2h0M177.4 532.7h0M179.8 547.6h0M184 546.7h0M180 540h0M178.2 529.8h0M171.1 527.8h0M167.3 551.5h0M173.9 543.3h0M168.4 545.5h0M162.9 540.9h0M191 521.8h0M166.2 540h0M190.3 546.9h0M185.3 524.4h0M176.7 532.1h0M203.9 539.3h0M163.5 535.7h0M177.5 543.6h0M199.3 540h0M181.2 548.7h0M168.5 530h0M164.2 539.3h0M177.8 546h0M163.1 527.3h0M188.7 528.8h0M185.4 530.2h0M159.1 540.6h0M170.8 536.3h0M199.4 547.6h0M187.3 545h0M166 547.5h0M164.4 535h0M164.7 545h0M167.8 540.4h0M183.2 544h0M179.7 540.2h0M200.5 545.8h0M182.7 546h0M192.7 548h0M174.1 541.3h0M171 537.5h0M168.6 549.3h0M164.5 532.6h0M210.1 526.5h0M167 546.8h0M193.4 543.9h0M171.6 547.6h0M183.9 531.5h0M185.3 522.1h0M198.2 540.1h0M169.3 550.8h0M179.2 527.3h0M171.7 550.2h0M185.6 538.6h0M195.7 539.7h0M167.1 543.2h0M189 544.5h0M172.4 546.9h0M162 545h0M166.9 533.5h0M183 538.8h0M178.8 544.5h0M168.2 547.3h0M172.3 547.7h0M177.5 545.1h0M188.8 536.7h0M166.4 537.9h0M165.4 540.4h0M192.5 545h0M173.2 545.9h0M165.5 542.9h0M195.3 536.9h0M181.8 549.3h0M169.1 548.4h0M175.3 541.3h0M177.2 549h0M165.8 534.1h0M167.3 532.7h0M200.3 545h0M180.9 537h0M178.2 548.1h0M178.2 548.6h0M173 541.4h0M176.5 527.5h0M191.7 533.2h0M172.6 504.4h0M185.6 507h0M161.2 538.7h0M175.6 540.7h0M186.6 547.9h0M179.7 541.1h0M168.4 543.7h0M183.4 537.9h0M202.1 549h0M158.9 544.2h0M178.6 550.3h0M177.8 532.6h0M179 550.6h0M165.6 519.1h0M197.7 530.9h0M166.1 545.1h0M175.7 540.3h0M185.7 519.2h0M188.6 551.2h0M202.1 538.1h0M165.9 525.6h0M168.7 536.8h0M187.7 539.2h0M184.3 543.3h0M175.3 547h0M158.3 543.4h0M175.6 542.4h0M174.5 537.7h0M173.3 539h0M162.1 535.6h0M196.6 542.3h0M163 541.1h0M182.6 541.5h0M169.3 545.4h0M195.4 545.6h0M168 549.4h0M168.1 548.7h0M189.8 549.2h0M165.9 540.8h0M185.6 550.3h0M170.9 541.3h0M175.1 549.5h0M192.2 547.8h0M188.9 542.6h0M170.5 543h0M182.6 537h0M183.4 540.4h0M186.8 546.1h0M170 544h0M207.2 536.6h0M168.5 542.3h0M163.8 534.1h0M172.4 547.2h0M177.4 547h0M223.1 549h0M167 534.7h0M174.9 527h0M169.1 545.4h0M177 546.2h0M173.1 548.7h0M195.5 532.9h0M167.2 544.4h0M169.1 540.8h0M182.8 541.8h0M176.1 549.8h0M192.2 550.6h0M170 528.2h0M189.7 531.8h0M170.4 533.7h0M167.7 543.8h0M188.3 547.2h0M179.3 542.4h0M178.9 547.7h0M165.2 540.2h0M169.6 543.6h0M179.6 545.3h0M169 540.4h0M165.8 544.3h0M168.8 548h0M175.1 547.2h0M164.2 543.2h0M188.7 544.6h0M163.2 536.2h0M172.9 540.9h0M177.6 540.1h0M169.3 549.2h0M174.8 544.1h0M160.8 549.3h0M169.9 546h0M183.6 538.4h0M178.3 546.4h0M172 545h0M180.7 541.2h0M171.5 545.2h0M171 532.7h0M186.3 545.8h0M171.1 544.1h0M168.3 529.8h0M187.1 541.4h0M214.9 543.6h0M160 523h0M196.7 540.4h0M203.2 529.8h0M168.4 537.5h0M163.6 537h0M166.2 529h0M184.6 538.2h0M167.5 544.7h0M161.3 543.1h0M161.5 542.4h0M181.7 530.9h0M175.5 533.4h0M175.7 540.3h0M172.2 541.8h0M193.2 540.5h0M172.1 531.8h0M176.2 521.9h0M192.4 539.9h0M182.2 547.6h0M163.3 548.7h0M201.9 547.7h0M167 521.6h0M164.5 548.8h0M181.5 544.8h0M162.8 541.3h0M169.2 547h0M189.2 541.2h0M181.6 538.3h0M175.6 539.7h0M195.2 532.4h0M170.1 520.9h0M165.8 550.7h0M193.2 519.9h0M198.4 532.4h0M176.7 546.4h0M182 530.4h0M184.2 539.4h0M173.9 547.7h0M159.5 545h0M184 549.1h0M171.6 535.6h0M179.2 543.7h0M174.9 528.2h0M192.9 543.5h0M181 544h0M175.6 547.8h0M159.4 522.8h0M170.7 544h0M200.2 529.4h0M208.1 527.7h0M187.1 538.7h0M177.4 540.9h0M173.2 544.3h0M160 541.8h0M167.1 537.3h0M181.2 534.9h0M171.4 529.3h0M183.6 534.2h0M181.9 541.4h0M198.6 547.2h0M194.3 546.5h0M183.5 543.8h0M185.7 535.5h0M196.6 532.7h0M185.7 545.9h0M168.1 544.7h0M176.7 550.7h0M182.4 550.7h0M205.7 537.6h0M176.4 508.1h0M165.5 547h0M205.2 547.2h0M161.5 548.1h0M178.1 542h0M172.2 549.9h0M174 514.7h0M207.7 543.3h0M168.5 530.4h0M163.7 547.9h0M174.1 542.5h0M172.7 531.7h0M181.8 551.3h0M170.8 549h0M168.5 538.9h0M175.4 519.4h0M173.5 541.4h0M166.7 547.6h0M166.1 542.1h0M175.5 550.2h0M187.5 534.4h0M176.9 541h0M167.8 541.7h0M168.1 547.2h0M168.8 534.3h0M170.5 551h0M212.8 536.2h0M183.5 546.6h0M172.1 549.4h0M163.5 546.8h0M194.6 538.3h0M178.7 531.3h0M203.5 509.4h0M194.4 537.3h0M172.5 542.3h0M184.8 543.1h0M159.9 539.5h0M174.2 545.9h0M175.2 546.2h0M173.4 539.9h0M167.4 537.5h0M170.2 551.1h0M161.9 541.9h0M196.3 544.7h0M163.4 541.9h0M166.6 526.1h0M219.3 518.8h0M169.8 537.9h0M195.6 529.1h0M195.4 533h0M168.5 551.2h0M174.2 539.7h0M163 550.9h0M183.5 551.6h0M208.8 543.5h0M186.5 544.5h0M162.3 530.6h0M219.5 544h0M174.2 549.9h0M192.3 544.2h0M177.2 547.2h0M175.3 548.9h0M197.3 535.9h0M208.7 543.4h0M183.3 527.7h0M196.8 540.6h0M166.5 523.6h0M173.8 546.5h0M172.7 546.1h0M167.7 546.1h0M188.3 542.2h0M171.5 528.4h0M169.4 539h0M176.6 549h0M169.2 540.4h0M160.1 551h0M172.4 543.4h0M161.3 546.2h0M198 524.6h0M185.3 537.6h0M183.1 530.9h0M175.7 542.1h0M168.2 533.6h0M193.8 545.2h0M174 539h0M188.1 540.5h0M176.5 540.5h0M182.7 541.8h0M180 547.8h0M165.6 537.5h0M165.6 542.8h0M177 545.6h0M163.9 541.3h0M170.7 535.4h0M172.5 541.2h0M178.8 543.2h0M173.6 532.7h0M190.7 549.3h0M175.4 536.4h0M162.4 545h0M169.5 542.2h0M162 541.6h0M180 521.7h0M202.5 551.3h0M171.5 535h0M184.4 537.7h0M197.7 540.4h0M173 545.2h0M190.2 541.8h0M191 523.1h0M186.1 550.1h0M186.3 526.8h0M181.7 531.4h0M161.7 535.8h0M164.4 534.9h0M169.8 528.8h0M168.6 551.3h0M192 543.4h0M187.6 538.5h0M177.9 547.5h0M184.7 539.3h0M174.1 518.2h0M172.3 542.2h0M170.5 537.3h0M174.2 548.8h0M166.5 531.7h0M172.5 536.7h0M194 538.4h0M159.4 547.3h0M170.7 541.7h0M229.2 550.2h0M184.6 524.2h0M177.6 544.8h0M169.2 545.5h0M170.6 540.6h0M203.3 536.9h0M194.9 548.6h0M193.3 549.3h0M191 539.6h0M183.3 540.9h0M199.7 544.8h0M180.4 535.8h0M187.5 540.2h0M162.6 534.6h0M170.6 519h0M169.2 516.9h0M167.2 508h0M169.4 519.8h0M163 525.5h0M163.5 519.2h0M160.7 512.3h0M159.3 524.1h0M162.1 532.1h0M165.6 526.6h0M162.1 528.2h0M165.2 525.1h0M170.7 528.8h0M160.3 533.2h0M169.1 512h0M161.4 535.2h0M164.8 521.2h0M167.7 512.9h0M161.3 525.9h0M161.2 532.3h0M162.3 533.1h0M161.3 529.5h0M164.6 532.5h0M161.3 523h0M163 530.8h0M165.2 527.9h0M162.4 525.6h0M168.2 505.5h0M161.4 520.9h0M161.1 518h0M171.5 523.4h0M169.5 525h0M164.2 516.9h0M167 502.5h0M165.2 513.2h0M162 523.4h0M166.4 516.5h0M168.7 502.9h0M157.1 533.3h0M164.5 526h0M161.4 524.8h0M162.3 534.1h0M162.4 513.1h0M159 534.8h0M161.8 520.3h0M166.8 511.1h0M158.3 508h0M162.5 530.1h0M155.1 527.4h0M161.8 525.5h0M165.4 526.3h0M163.7 531.4h0M164.1 519.6h0M159.8 524.4h0M160.6 521.8h0M167.3 527.5h0M164.7 532.5h0M162.5 534.9h0M169.4 528.8h0M162.5 528.6h0M167.7 532h0M164.3 528.9h0M163.9 519.5h0M167.6 529.5h0M165.6 527.4h0M163.9 533.4h0M164.7 522.5h0M164.2 530.7h0M162.7 515.9h0M160.1 523h0M154.3 527.4h0M163.5 519.9h0M163 510.9h0M168.4 521.4h0M165.6 506.5h0M168.2 524.8h0M170.4 527.4h0M160.8 526h0M167 515h0M161.7 525.6h0M163 531.4h0M169.3 529.7h0M166 530h0M168 501.6h0M158.9 532.8h0M164.1 526.9h0M168.1 525.8h0M159.2 532.1h0M164.7 522.6h0M165.4 524.8h0M155.4 531.5h0M169.9 532.6h0M161.3 520.6h0M170.2 509.3h0M157.3 533.8h0M165.7 531.4h0M162.3 534h0M164.1 535.7h0M160.9 505.6h0M169 527.7h0M159.8 528.3h0M165.3 525h0M165.9 530.5h0M163.6 517h0M162.9 530.9h0M163 527.7h0M167.7 528.7h0M165.6 530.6h0M163.6 523.5h0M159.9 521.2h0M164.5 534.2h0M163.8 507.7h0M169.3 534h0M156.8 504.4h0M173.2 530.8h0M163.3 526.8h0M159.7 520.1h0M157.5 527.3h0M167.2 514h0M166.1 524.9h0M163.1 532.3h0M163.8 534.1h0M164.6 532.6h0M162.4 517h0M168.2 510.4h0M166.3 515.5h0M163.5 512h0M169 517.3h0M162.2 509.7h0M160.1 534.2h0M168.7 528.6h0M165.8 503.8h0M156.5 532.3h0M157.8 527h0M162.5 535.7h0M159.3 507h0M163.4 507.5h0M173.7 508.5h0M175 528.3h0M163.8 526.1h0M166.9 524.6h0M167.3 526.7h0M163.5 532.2h0M158.5 528.3h0M167.9 519.2h0M165.6 530.6h0M166.6 532.6h0M161 507.7h0M170.2 519h0M164.2 533.7h0M164.8 519.4h0M162.3 531.9h0M166.6 532.3h0M167.7 528.8h0M161.9 518.1h0M166.1 525.8h0M162.3 530.6h0M159.4 535.3h0M162.7 535h0M166.2 533.3h0M166 530.5h0M168 510.5h0M161.5 531.6h0M162.8 531.6h0M164.2 527.7h0M166.3 507.9h0M163.5 525.7h0M160.4 530.5h0M158.2 533.7h0M168.3 534.7h0M167.9 534.4h0M161.5 512h0M169.5 517.3h0M163.7 509.5h0M165.7 527.9h0M168.7 507.9h0M162.2 516.1h0M161.1 529.5h0M167 532.3h0M166.6 524.1h0M169.9 507.1h0M161.2 528h0M156.5 516.5h0M162.8 533.5h0M161.9 513.6h0M168.1 514.7h0M172 513.5h0M165 517.2h0M156.9 502.8h0M183.9 525.8h0M178.8 516.9h0M171 527.8h0M171 524.9h0M177 527.5h0M198.4 525.1h0M209 530.5h0M168.1 521.8h0M167 530.4h0M184.3 524.2h0M163.8 518h0M167.1 515.3h0M167.7 520h0M186.5 525.6h0M182.9 529.2h0M190.4 527.7h0M187.7 527.8h0M181.6 520h0M176.7 517.9h0M200.6 530.4h0M171 524.2h0M200 518.1h0M189.8 519.3h0M166.5 531.1h0M168.2 521.8h0M192.1 514.6h0M169.1 516.1h0M194.7 528.5h0M226.5 516.4h0M168.9 513.6h0M167 514.6h0M181.5 515.9h0M170.5 530.8h0M169.6 524.6h0M189 520.1h0M198.5 515.9h0M184.2 516.7h0M167.5 525h0M165 526.1h0M173.6 519.3h0M173.9 527.7h0M177.8 524.8h0M186.5 516.2h0M166.1 527.6h0M198.5 516.3h0M173.7 532.1h0M193 531.5h0M200.2 526h0M175 519.7h0M183.1 528.8h0M194.7 514h0M174.7 521.3h0M164.8 531.7h0M184.5 528.6h0M166.7 516.1h0M185.3 531h0M173.1 532.8h0M219.2 528.3h0M174.3 532.7h0M166.2 529.2h0M209.9 523.5h0M176.7 516.7h0M187.4 524.1h0M175.1 522.2h0M179.2 531h0M180.1 526.3h0M173.1 520.3h0M174.2 523.6h0M177.6 514.5h0M170.7 524.9h0M200.4 514.8h0M174.9 529.1h0M174.8 519.7h0M179.3 517.9h0M187.8 513.9h0M207.8 529.8h0M183.4 520.9h0M165.7 514.7h0M173.4 523.3h0M180.3 513.6h0M178.8 515.2h0M181.5 527.3h0M165.6 523.5h0M177.9 526.8h0M169.5 517.1h0M193.2 532.2h0M171.4 519.5h0M175.8 533.2h0M182.9 532.1h0M184 517.7h0" stroke="#111" stroke-width="1.25" stroke-linecap="round"/>
<path d="M168.1 560.5h0M190.7 560.5h0M212.4 560.5h0M165.8 560.5h0M179.6 560.5h0M203.9 560.5h0M193.6 560.5h0M194.2 560.5h0M166.8 560.5h0M187.9 560.5h0M207.8 560.5h0M187.9 560.5h0M195.1 560.5h0M198.8 560.5h0M177.8 560.5h0M187.3 560.5h0M177.2 560.5h0M172.1 560.5h0M159.4 560.5h0M210.8 560.5h0M176.4 560.5h0M199.7 560.5h0M167.7 560.5h0M192.4 560.5h0M201.6 560.5h0M198.8 560.5h0M184.8 560.5h0M217.1 560.5h0M164.3 560.5h0M201.7 560.5h0M162.3 560.5h0M186.4 560.5h0M155 560.5h0M158.6 560.5h0M211.7 560.5h0M201.6 560.5h0M157 560.5h0M160 560.5h0M161.4 560.5h0M207.9 560.5h0M184.9 560.5h0M207.4 560.5h0M192.7 560.5h0M203.2 560.5h0M162.9 560.5h0M200.3 560.5h0M173.4 560.5h0M194.9 560.5h0M164.3 560.5h0M175.5 560.5h0M205.3 560.5h0M159.4 560.5h0M164.4 560.5h0M172.7 560.5h0M168 560.5h0M207.2 560.5h0M210.2 560.5h0M207.1 560.5h0M182.3 560.5h0M194.6 560.5h0M190.8 560.5h0M195.3 560.5h0M193.5 560.5h0M213 560.5h0M195.8 560.5h0M156.7 560.5h0M202.2 560.5h0M189.9 560.5h0M204.4 560.5h0M176 560.5h0M167.8 560.5h0M186.7 560.5h0M169 560.5h0M191.9 560.5h0M189.1 560.5h0M198.3 560.5h0M156.2 560.5h0M204.5 560.5h0M162.3 560.5h0M184.7 560.5h0M181.1 560.5h0M216.7 560.5h0M205.1 560.5h0M212.4 560.5h0M171.6 560.5h0M186.4 560.5h0M210 560.5h0M208.9 560.5h0M192.2 560.5h0M186.5 560.5h0M170.6 560.5h0M188.1 560.5h0M209.4 560.5h0M200.2 560.5h0M206.6 560.5h0M192.9 560.5h0M160.8 560.5h0M166.5 560.5h0M181.3 560.5h0M210.9 560.5h0M184.8 560.5h0M214 560.5h0M184.9 560.5h0M201 560.5h0M198.5 560.5h0M155.4 560.5h0M182.1 560.5h0M190.9 560.5h0M216.9 560.5h0M206.3 560.5h0M169.7 560.5h0M173.3 560.5h0M185.5 560.5h0M177.4 560.5h0M177.8 560.5h0M190.5 560.5h0M157.6 560.5h0M181.8 560.5h0M159.2 560.5h0M155.6 560.5h0M208.5 560.5h0M158.5 560.5h0M196.2 560.5h0M203.5 560.5h0M159.8 560.5h0M159.6 560.5h0M156.5 560.5h0M210 560.5h0M184.9 560.5h0M164.1 560.5h0M216.6 560.5h0M193.5 560.5h0M210.6 560.5h0M160.9 560.5h0M191.6 560.5h0M202.5 560.5h0M182.8 560.5h0M186 560.5h0M157.9 560.5h0M168.2 560.5h0M170.9 560.5h0M182.6 560.5h0M155.6 560.5h0M160.2 560.5h0M191.9 560.5h0M217 560.5h0M170.9 560.5h0M188 560.5h0M186.1 560.5h0M203.5 560.5h0M188.3 560.5h0M187 560.5h0M157.3 560.5h0M155.6 560.5h0M182.7 560.5h0M162.4 560.5h0M174.9 560.5h0M164.1 560.5h0M204.8 560.5h0M173.2 560.5h0M195.7 560.5h0M192.1 560.5h0M198.9 560.5h0M171.9 560.5h0M164.8 560.5h0M209.7 560.5h0M185.8 560.5h0M200 560.5h0M182.7 560.5h0M156.3 560.5h0M162.4 560.5h0M164 560.5h0M156.7 560.5h0M200 560.5h0M215.4 560.5h0M180.2 560.5h0M216.1 560.5h0M161.7 560.5h0M176.7 560.5h0M192.7 560.5h0M195.5 560.5h0M156.5 560.5h0M211.3 560.5h0M217.6 560.5h0M173.3 560.5h0M173.4 560.5h0M194.6 560.5h0M181.1 560.5h0M187.6 560.5h0M209.3 560.5h0M195.3 560.5h0M162.1 560.5h0M175.5 560.5h0M209.4 560.5h0M213.7 560.5h0M174.1 560.5h0M159.5 560.5h0M204.1 560.5h0M168.4 560.5h0M168.9 560.5h0M180.7 560.5h0M159.9 560.5h0M197.5 560.5h0M208.9 560.5h0M176 560.5h0M197.2 560.5h0M163.1 560.5h0M177.4 560.5h0M164.5 560.5h0M161.3 560.5h0M172.1 560.5h0M177.9 560.5h0M156.1 560.5h0M195.2 560.5h0M195.4 560.5h0M172.8 560.5h0M182.1 560.5h0M171.9 560.5h0M161.1 560.5h0M215 560.5h0M213.6 560.5h0M183.8 560.5h0M206.5 560.5h0M186.7 560.5h0M215.2 560.5h0M193.4 560.5h0M209 560.5h0M190.1 560.5h0M190.1 560.5h0M194.3 560.5h0M207.8 560.5h0M162.4 560.5h0M199.9 560.5h0M199.9 560.5h0M217.9 560.5h0M177 560.5h0M198.2 560.5h0M178.1 560.5h0M192.2 560.5h0M155.1 560.5h0M206.6 560.5h0M166.7 560.5h0M185.5 560.5h0M164.9 560.5h0M214.4 560.5h0M200.5 560.5h0M209.2 560.5h0M202.6 560.5h0M211.5 560.5h0M196.1 560.5h0M159.9 560.5h0M159.1 560.5h0M202.1 560.5h0M172.9 560.5h0M199.9 560.5h0M182.2 560.5h0M208.6 560.5h0M176.1 560.5h0M160.4 560.5h0M207.6 560.5h0M173.7 560.5h0M179.7 560.5h0M203.8 560.5h0M170.5 560.5h0M214.1 560.5h0M156.5 560.5h0M202.8 560.5h0M208.6 560.5h0M194.1 560.5h0M167 560.5h0M161.3 560.5h0M203.4 560.5h0M200.8 560.5h0M204 560.5h0M216.5 560.5h0M192.9 560.5h0M214.6 560.5h0M217 560.5h0M191.9 560.5h0M203.6 560.5h0M165 560.5h0M217.8 560.5h0M186 560.5h0M186.4 560.5h0M198 560.5h0M208.8 560.5h0M172.2 560.5h0M202.3 560.5h0M207.3 560.5h0M179.7 560.5h0M182.4 560.5h0M210.5 560.5h0M175.8 560.5h0M205.6 560.5h0M211 560.5h0M177.7 560.5h0M174.6 560.5h0M166.5 560.5h0M167.4 560.5h0M209.2 560.5h0M172.3 560.5h0M171.7 560.5h0M195.8 560.5h0M172.6 560.5h0M172.5 560.5h0M213.6 560.5h0M217.3 560.5h0M202.9 560.5h0M204.3 560.5h0M178.3 560.5h0M176.8 560.5h0M206.4 560.5h0M187.9 560.5h0M167.9 560.5h0M175.2 560.5h0M200.7 560.5h0M179.2 560.5h0M205.9 560.5h0M168.7 560.5h0M154.8 560.5h0M163.7 560.5h0M161.4 560.5h0M166.6 560.5h0M216.5 560.5h0M195.9 560.5h0M182.1 560.5h0M163.7 560.5h0M205.9 560.5h0M195.1 560.5h0M171.3 560.5h0M185 560.5h0M208.3 560.5h0M215.5 560.5h0M214.8 560.5h0M191.7 560.5h0M188.2 560.5h0M181.2 560.5h0M155.1 560.5h0M173.3 560.5h0M206.9 560.5h0M177.4 560.5h0M196.2 560.5h0M216.7 560.5h0M204.8 560.5h0M174.7 560.5h0M169.6 560.5h0M213.2 560.5h0M168 560.5h0M199.8 560.5h0M195 560.5h0M190.3 560.5h0M174.3 560.5h0M216.3 560.5h0M203.4 560.5h0M180.7 560.5h0M165.1 560.5h0M180.5 560.5h0M157.5 560.5h0M166.4 560.5h0M169.7 560.5h0M164.5 560.5h0M188.6 560.5h0M163.8 560.5h0M160.3 560.5h0M159 560.5h0M210.6 560.5h0M159.7 560.5h0M215.4 560.5h0M213.5 560.5h0M187 560.5h0M210.7 560.5h0M156.1 560.5h0M202.4 560.5h0M188.2 560.5h0M193.4 560.5h0M217.9 560.5h0M164.8 560.5h0M174.2 560.5h0M198.1 560.5h0M166.1 560.5h0M212.9 560.5h0M164.9 560.5h0M179.5 560.5h0M202 560.5h0M209.6 560.5h0M204.5 560.5h0M206.5 560.5h0M180.4 560.5h0M178.4 560.5h0M189.2 560.5h0M165.7 560.5h0M188.6 560.5h0M189.7 560.5h0M174.9 560.5h0M163.8 560.5h0M160.3 560.5h0M177.3 560.5h0M188.9 560.5h0M216.9 560.5h0M167.1 560.5h0M155.9 560.5h0M173.6 560.5h0M184.3 560.5h0M191.3 560.5h0M176 560.5h0M212.5 560.5h0M168.2 560.5h0M171.3 560.5h0M170.9 560.5h0M215.9 560.5h0M184.9 560.5h0M176.9 560.5h0M157.8 560.5h0M179.1 560.5h0M205.5 560.5h0M207.7 560.5h0M214.8 560.5h0M167.2 560.5h0M157.1 560.5h0M165.9 560.5h0M159 560.5h0M209.3 560.5h0M172.8 560.5h0M207.6 560.5h0M172.9 560.5h0M161.2 560.5h0M171.8 560.5h0M193.4 560.5h0M216.2 560.5h0M194.9 560.5h0M205.5 560.5h0M187.1 560.5h0M213.1 560.5h0M208.9 560.5h0M217.2 560.5h0M208.1 560.5h0M198.8 560.5h0M207.3 560.5h0M211.2 560.5h0M197.5 560.5h0M159.6 560.5h0M182.4 560.5h0M215.9 560.5h0M198.4 560.5h0M179.9 560.5h0M210.8 560.5h0M177.4 560.5h0M179.5 560.5h0M188.6 560.5h0M197.5 560.5h0M190.8 560.5h0M175.7 560.5h0M190.2 560.5h0M176.9 560.5h0M197 560.5h0M189.9 560.5h0M161.4 560.5h0M194.6 560.5h0M214.1 560.5h0M194.1 560.5h0M159.3 560.5h0M189.6 560.5h0M165 560.5h0M181.1 560.5h0M165.1 560.5h0M212.7 560.5h0M203.6 560.5h0M190.8 560.5h0M173.5 560.5h0M161.2 560.5h0M199.6 560.5h0M169.9 560.5h0M212.1 560.5h0M210.2 560.5h0M164.9 560.5h0M217.7 560.5h0M216 560.5h0M159.6 560.5h0M187 560.5h0M173.1 560.5h0M194.5 560.5h0M207.8 560.5h0M171.4 560.5h0M159.1 560.5h0M177.8 560.5h0M167.2 560.5h0M199.5 560.5h0M173.3 560.5h0M192.5 560.5h0M161.6 560.5h0M171.7 560.5h0M203.2 560.5h0M207.2 560.5h0M189.6 560.5h0M191.1 560.5h0M158.2 560.5h0M192.1 560.5h0M191.6 560.5h0M168.6 560.5h0M200.5 560.5h0M162.6 560.5h0M188.3 560.5h0M160.5 560.5h0M208.2 560.5h0M222.7 560.5h0M229.3 560.5h0" stroke="#111" stroke-width="1.45" stroke-linecap="round"/>
<path d="M153.8 541L230 552.3" stroke="#6a8ab5" stroke-width="0.85"/>
<text x="151.9" y="494.4" font-size="6.9" fill="#58b05c" stroke="#58b05c" stroke-width="0.12" textLength="23.7" lengthAdjust="spacingAndGlyphs">IL-iCAF</text>
<text x="191.9" y="579.3" font-size="5.9" text-anchor="middle" fill="#333" stroke="#333" stroke-width="0.12">FOXP3</text>
<text x="0" y="0" font-size="6" text-anchor="middle" fill="#333" stroke="#333" stroke-width="0.12" transform="translate(138.6 529.8) rotate(-90)">IL-iCAF</text>
<text x="210" y="502.4" font-size="5.5" fill="#333" stroke="#333" stroke-width="0.12"><tspan font-style="italic">r</tspan> = −0.13</text>
<text x="210" y="509.2" font-size="5.5" fill="#333" stroke="#333" stroke-width="0.12"><tspan font-style="italic">P</tspan> = 8e-6</text>
<path d="M27 592.5V660.8H110" stroke="#222" stroke-width="0.8" fill="none"/>
<text x="24.8" y="660.1" font-size="5.1" text-anchor="end" fill="#333" stroke="#333" stroke-width="0.12">0</text>
<text x="24.8" y="648.2" font-size="5.1" text-anchor="end" fill="#333" stroke="#333" stroke-width="0.12">1</text>
<text x="24.8" y="636.2" font-size="5.1" text-anchor="end" fill="#333" stroke="#333" stroke-width="0.12">2</text>
<text x="24.8" y="624.3" font-size="5.1" text-anchor="end" fill="#333" stroke="#333" stroke-width="0.12">3</text>
<text x="24.8" y="612.3" font-size="5.1" text-anchor="end" fill="#333" stroke="#333" stroke-width="0.12">4</text>
<text x="24.8" y="600.4" font-size="5.1" text-anchor="end" fill="#333" stroke="#333" stroke-width="0.12">5</text>
<text x="30" y="667" font-size="5.1" text-anchor="middle" fill="#333" stroke="#333" stroke-width="0.12">0</text>
<text x="46.9" y="667" font-size="5.1" text-anchor="middle" fill="#333" stroke="#333" stroke-width="0.12">1</text>
<text x="63.8" y="667" font-size="5.1" text-anchor="middle" fill="#333" stroke="#333" stroke-width="0.12">2</text>
<text x="80.6" y="667" font-size="5.1" text-anchor="middle" fill="#333" stroke="#333" stroke-width="0.12">3</text>
<text x="97.5" y="667" font-size="5.1" text-anchor="middle" fill="#333" stroke="#333" stroke-width="0.12">4</text>
<path d="M27 658.3h-1.4M27 646.4h-1.4M27 634.4h-1.4M27 622.5h-1.4M27 610.5h-1.4M27 598.6h-1.4M30 660.8v1.4M46.9 660.8v1.4M63.8 660.8v1.4M80.6 660.8v1.4M97.5 660.8v1.4" stroke="#333" stroke-width="0.5"/>
<path d="M42.4 621.5h0M52.9 628.8h0M43.8 621.9h0M41.1 630.3h0M51.5 617.2h0M38.7 620h0M45.5 635.2h0M48.7 628.8h0M49.7 617h0M64.9 619.5h0M55.2 621.8h0M43.9 632.5h0M60.3 628.7h0M89.8 621.6h0M42.4 620.5h0M47 623.1h0M72.3 630h0M56.5 624.9h0M54.9 627.1h0M39.7 632.8h0M56.1 632.2h0M46.1 629.8h0M39.2 635.6h0M50.5 619h0M97.8 616.5h0M41.3 615.5h0M38.7 629.5h0M46.9 629.3h0M54.7 620.9h0M53.1 626.9h0M57.4 625.6h0M49.1 625.6h0M47.6 636.5h0M48 612.3h0M39 635.1h0M40.7 636.3h0M63 616.3h0M55.3 632.2h0M55.7 614h0M63.7 620.2h0M42.5 620h0M78 626.2h0M42.3 634.9h0M55.7 633h0M35.5 622.2h0M38.5 624h0M61.1 633.2h0M60.8 632.6h0M46.6 630.3h0M56.8 623.6h0M62.2 619.4h0M68.2 615.5h0M72.3 626.2h0M72.6 611.1h0M57.8 617h0M85.8 610.7h0M39.5 630.4h0M69.9 618.2h0M65.5 614h0M45.7 637.9h0M75.6 615.3h0M56.6 619.6h0M46.8 615.4h0M90.6 621.6h0M49.1 613.5h0M55.4 626.6h0M46.6 627.4h0M56.1 617.1h0M58.2 634.3h0M47.6 613h0M51.9 613.2h0M43.3 614.5h0M42 629.1h0M47.2 612.5h0M51.5 618.7h0M46.7 615.3h0M63.6 623.5h0M58.9 626.6h0M39 628.9h0M48.9 628.2h0M46.8 615.6h0M64 629.5h0M52.6 628.2h0M44.5 620.3h0M49.9 625.3h0M55.9 640.2h0M51 628.5h0M46.2 626.1h0M56.3 609.6h0M70.9 617.5h0M50.6 631.4h0M47.7 632.2h0M47.1 626.9h0M52.4 621.2h0M37.1 629.6h0M51.1 619.4h0M42.5 634.8h0M41.9 620.3h0M78 613.2h0M35.1 645.2h0M44.4 623.3h0M43.2 621h0M74.9 619.3h0M39.9 622.2h0M47.3 623.6h0M43.8 620.7h0M52.5 622.2h0M51.4 622.3h0M94.7 610h0M47.1 614.5h0M76.5 615.4h0M37.9 628.3h0M60.9 627.1h0M51.4 614.3h0M33.9 631.8h0M50.3 614.6h0M51.8 634.3h0M90.9 605.4h0M45.7 612.8h0M34.2 627.6h0M63.7 626.9h0M36.2 640.1h0M67.6 623.5h0M45 613.2h0M39.4 618h0M46.1 625.2h0M49.2 606h0M79.8 618.5h0M72.9 619.6h0M43.3 625.5h0M69.7 618.2h0M48.2 601.3h0M56.6 619.3h0M32.8 636.9h0M54.4 621.3h0M46 607.2h0M44.5 613.2h0M40.4 627.4h0M44.6 620.2h0M74.8 635.3h0M51.8 617.8h0M46.5 630.4h0M59.9 627.5h0M50.2 627.8h0M57.6 629h0M69.9 609h0M75.3 610.8h0M72.8 625.5h0M65.4 622.3h0M54.2 609.1h0M68.2 625.5h0M58.3 626.8h0M81.9 630.1h0M49.6 610.1h0M40.7 621.7h0M38.6 623h0M51.3 626.6h0M40.4 630.7h0M45.3 615.2h0M38.8 629.5h0M72.7 627.4h0M38.4 637.1h0M77 632.2h0M35.9 627.4h0M43.3 627.2h0M38.3 635.7h0M44.8 628.2h0M64 624.3h0M57.8 644.9h0M43.5 618.3h0M55.1 625.4h0M35.1 634.3h0M45.4 625.4h0M47.6 619.5h0M40.6 623.2h0M58.6 622.8h0M53.2 623.1h0M73.1 617.8h0M38.2 634.5h0M54.6 628.1h0M47.8 620h0M49 623h0M46.2 632h0M44.5 625.5h0M42.4 629h0M56.8 623h0M48.7 637h0M80.9 636.7h0M70.8 635.2h0M48.3 624.3h0M53.8 602.7h0M64.4 615.1h0M50 613h0M50.8 623.1h0M60.1 610h0M46 620.3h0M44.1 622.7h0M49.1 614.2h0M52.8 633.3h0M81.8 641.4h0M54 633.1h0M34.4 611.5h0M42 615.8h0M40.7 621.7h0M46.3 625.2h0M77.6 624.7h0M39.5 620h0M54.7 630.4h0M63.9 616.8h0M36.7 631.3h0M50 612.1h0M62.9 626.1h0M55.2 630.9h0M62.6 625.6h0M46.9 631h0M66 624.4h0M73.2 638.3h0M68.9 627.4h0M48.3 622.6h0M39.8 620.1h0M44.3 626.5h0M68.7 613.2h0M54 637.4h0M56.3 625.1h0M75.8 627.3h0M64.1 623.4h0M57.4 625.5h0M74.1 611.8h0M59.9 623.3h0M49.1 631h0M91 602.5h0M64 623h0M58.1 624.6h0M60.6 615.9h0M41.8 628.3h0M60.6 625.2h0M52.6 616.1h0M37.6 633.2h0M62.2 627.1h0M40.9 615.4h0M54.3 608.3h0M52.4 624h0M67.8 624.2h0M47.1 614.2h0M70.9 635.6h0M57.7 629.1h0M58.1 629.9h0M81.8 640.5h0M51.3 647.5h0M81.1 626.7h0M38.1 615.7h0M44.4 617.7h0M47.2 612.7h0M36.5 646.2h0M50.7 624.5h0M61 612.1h0M37.4 630.6h0M55.9 634.2h0M58.3 620.4h0M45 623.2h0M58 618h0M44.9 623.4h0M35.7 612.9h0M47.5 617.5h0M55.7 621.1h0M56.8 626.4h0M37.8 617.4h0M43.8 628.8h0M52.2 615.3h0M72.8 613.6h0M37.5 615.4h0M66 634h0M60.6 619.6h0M46.2 620.2h0M57.4 616h0M70 636.3h0M52.1 628.3h0M41.6 623.9h0M48.1 611.6h0M69.2 628.3h0M71.6 615.8h0M104.8 622h0M69.2 607h0M62.3 620.5h0M53.9 636.8h0M53.3 625.6h0M47.2 621.1h0M39.9 612.6h0M46.7 617.7h0M61.7 625.6h0M58.2 633.9h0M49.7 623h0M100.6 624.2h0M62.2 612h0M43.8 615.4h0M36.6 635h0M57.5 642.7h0M43.4 626.7h0M49.5 620.9h0M49.3 631.4h0M50.1 627.6h0M46.7 613.2h0M53.8 617h0M41.2 637.7h0M35.8 620.3h0M67.2 621.9h0M52.1 624.9h0M41.7 618.5h0M77.6 618.3h0M59.3 602.3h0M57 621.3h0M39.5 629.3h0M45.4 627.4h0M48.3 617.1h0M46.2 606.9h0M45 618.1h0M73.1 618.7h0M36.2 620.9h0M37.3 626.9h0M52 622.5h0M42.6 633.4h0M61.9 616.9h0M45.5 619.2h0M67.8 621.6h0M47.8 630.4h0M66.2 625.4h0M69.6 628h0M44.7 620.6h0M58.3 625.6h0M58.3 620.1h0M55.6 615.3h0M91.4 612.5h0M55.6 631.8h0M40.5 626h0M50.4 632.4h0M38.3 612.6h0M53.7 630.3h0M39.8 611.8h0M63.5 627.4h0M60.2 614.5h0M56.7 627.7h0M45.7 625h0M39.1 622.1h0M52 622.4h0M66.9 624.4h0M59.5 617.5h0M49.2 613h0M36.4 615.9h0M46.9 627.2h0M64 638.7h0M41.9 622.2h0M71.8 647h0M105.2 617.4h0M41.6 617.9h0M42.4 633.3h0M59.3 618.2h0M53.5 628.7h0M63.4 612.4h0M45 629.6h0M48.3 630.1h0M55.9 628.6h0M53.7 621.1h0M61 631.8h0M43.5 604.1h0M79 626.2h0M38.4 608.4h0M51.7 625.5h0M36.9 625.8h0M41.7 629.1h0M55.2 629.5h0M40.2 619.4h0M61.4 613h0M68.1 622.2h0M61.9 630.6h0M45.9 621.3h0M56.9 629.7h0M41.6 645.7h0M49.9 622h0M60.7 637.8h0M71.3 628.4h0M41.1 622.6h0M45.1 626.5h0M52.9 625.3h0M67.8 610.1h0M57.8 615h0M49.6 610.3h0M46.4 621.3h0M73.6 621.2h0M58.1 608.2h0M81.3 628.4h0M45.1 620.3h0M61.6 622h0M76.2 620.6h0M47.2 618.1h0M95.1 622.1h0M50.9 616.3h0M43.6 630.2h0M50.9 618.9h0M65.9 631.9h0M49.1 614.1h0M49 614.9h0M52.5 624.9h0M53.4 627.4h0M49.8 623.4h0M59 618.5h0M40.4 635.8h0M49 631.6h0M100 615.3h0M57.4 625h0M77 633.9h0M46.7 641.8h0M56 626.9h0M57.9 637.9h0M63.1 622.1h0M35.2 623.9h0M54.6 607.8h0M66.2 633.7h0M58.9 617.9h0M39.1 633.3h0M42 631.9h0M55.8 625h0M64.8 630.4h0M52.5 608h0M45.4 623.7h0M40.9 629.6h0M53.6 604h0M66.6 630h0M68.1 626.5h0M85.2 625.1h0M47.6 629.8h0M40.3 618.3h0M41.7 613.4h0M45.2 634.2h0M34.2 627.4h0M52.7 626.6h0M45.3 635.1h0M47.4 634.4h0M49 626.5h0M53.2 631h0M41.2 620.8h0M39.3 616.6h0M43.3 621.9h0M61.1 621.1h0M57.4 631.2h0M57.5 628.5h0M41.2 620.2h0M48.1 618.7h0M55.7 624.2h0M41.6 619h0M84.1 625.6h0M69.7 633.2h0M45.1 620.9h0M48.8 627h0M48.2 637.7h0M41.1 616.5h0M41.1 620.3h0M65.6 617.5h0M75.7 627.5h0M45.1 611.2h0M50.9 619.5h0M43.3 615.4h0M34.8 629h0M36.1 626.1h0M38.4 612.9h0M40.9 623.7h0M47.1 623.3h0M71.7 611.2h0M38.8 613.9h0M44.6 621.6h0M63.9 607.7h0M51.3 635.8h0M38.3 624h0M44.6 628.1h0M67.4 611.3h0M35.7 610.4h0M73.9 627.5h0M75.1 622.3h0M50.7 615.7h0M38 619.2h0M66.6 621.3h0M46.1 615.2h0M70.6 607.4h0M55.9 622.4h0M44.7 632.6h0M51 624.3h0M65.7 623.7h0M48.7 626.5h0M54.2 617.6h0M74.8 617.4h0M56.7 615.9h0M56.3 619.5h0M79.2 621.2h0M57.4 631.8h0M50.7 626.2h0M38.9 630.5h0M69.4 620.8h0M79.6 624.4h0M45.1 623.7h0M67 619.1h0M46.4 625.8h0M44.3 614.6h0M43.8 614.8h0M63.3 631.1h0M47.3 612.6h0M64.4 626.2h0M41.3 629.3h0M53.2 626h0M58.8 633.8h0M55.1 620.6h0M37.3 613.5h0M52.5 635.8h0M68.5 619.9h0M52.4 618.6h0M47.6 618h0M77.6 618.1h0M45.9 619.8h0M38.2 627.2h0M54.5 616.1h0M43.6 620.7h0M71.9 616.9h0M65 620.8h0M44.5 625.5h0M66.8 623.8h0M37.4 618.4h0M72 614.9h0M55 639h0M51.5 633.9h0M39.3 636.8h0M50.2 627.7h0M38.3 628.9h0M40.8 621.8h0M55.5 625.9h0M73.9 612.5h0M48.9 628.4h0M45.5 629.2h0M55.2 630.1h0M64.4 625.9h0M69.5 622.1h0M76.2 627.4h0M41 631h0M61.6 634.6h0M44.3 621.9h0M62.7 627.9h0M47.3 631.5h0M76.1 625.7h0M44.4 620.7h0M55.8 606.7h0M57.8 610.2h0M42.7 630.7h0M50.3 627.1h0M41.1 639.4h0M45.2 639.5h0M71.4 638.6h0M53.8 616h0M38.8 624.7h0M49.7 635.5h0M54.8 629h0M48 627.6h0M61.4 628.9h0M49 611.5h0M36.3 639.3h0M58.2 627.2h0M50.1 621.5h0M59.8 619.6h0M42.1 641.3h0M83.1 622h0M49.9 633.8h0M50.6 628.2h0M52.4 636.5h0M57.3 617.2h0M59.6 615.2h0M43.5 625.9h0M55.8 637.9h0M54.5 616.4h0M35.5 613.7h0M44.2 632.5h0M49.3 615.8h0M54.9 638.2h0M79.3 633.9h0M47.3 622.3h0M43.8 634.9h0M64.1 617.3h0M50.7 611.8h0M53.5 622.9h0M41.7 619.4h0M35.7 610.3h0M57.2 619.2h0M49.2 612.7h0M53.4 611.6h0M50.3 632h0M51.5 605.4h0M43.1 613.6h0M78.2 622.1h0M95.3 616.5h0M49.5 620.7h0M55 621.4h0M51 631.4h0M62.9 626.5h0M73.4 625.9h0M59.9 614.3h0M41.6 619.3h0M60.8 619.9h0M64.3 624.1h0M63.1 612.9h0M39.7 643.2h0M47 630.6h0M58.9 615.4h0M84.1 626.6h0M52.1 617.9h0M42.6 610.2h0M60.2 616.6h0M47.2 635.2h0M48.3 625h0M45.4 632.6h0M65.8 619.3h0M60.8 614.7h0M52.4 625.1h0M40.1 619h0M40.2 624.8h0M43.4 607.4h0M46.7 622.1h0M37.9 621.3h0M62.5 618.5h0M63.9 614.5h0M46.2 617.4h0M53.1 623.4h0M48.5 622.7h0M55 619h0M58.3 618.3h0M54.5 626.2h0M60 627.8h0M45.6 625h0M44.3 619.3h0M60 626.7h0M65.4 631.9h0M67.4 625.8h0M39.8 627.1h0M75.2 618.1h0M43.5 627.3h0M46.8 626.4h0M62.4 607.8h0M74 619.4h0M46.4 630.6h0M50 613.3h0M46.8 626.1h0M54.9 629.7h0M53.2 617.8h0M57.9 634.6h0M45.2 623.6h0M41 618.5h0M55.6 617h0M79.3 627.4h0M47.3 627.1h0M75.9 623.7h0M55.3 613.2h0M67.1 637.7h0M53.8 616.4h0M49.1 611.9h0M39.4 632.2h0M52.6 613.6h0M59.2 630.1h0M58.9 620.6h0M62 626.2h0M76.8 643.1h0M63.7 623.5h0M52.2 619.8h0M57.8 616h0M46.1 628.2h0M47.1 632.6h0M50.5 617.3h0M86.1 625.9h0M46.8 614.5h0M60.9 611.4h0M66.7 624.9h0M65.4 624.4h0M42.7 628.9h0M57.5 639.6h0M62 623.1h0M45.2 617.1h0M37.2 614.3h0M38.9 623.2h0M49.5 607.9h0M43.7 627.3h0M46.3 623.2h0M53.5 627.4h0M71.2 626.6h0M49.8 625.2h0M45.9 628.6h0M57.1 626.4h0M71 620.7h0M47.7 622.1h0M54 631.5h0M64.9 618.8h0M40.5 629.6h0M44.9 619.2h0M49 622.4h0M53.9 638.6h0M81.9 631.4h0M65.7 615.2h0M79.9 628.2h0M70.5 628.3h0M48.1 626.5h0M39.9 622h0M62.8 618.3h0M37.4 625.4h0M48.7 609.2h0M56.3 627.6h0M78.3 626.7h0M38.8 624.4h0M57.7 621.6h0M78.9 611h0M48.4 603.7h0M38.5 625.7h0M53.3 624.3h0M62.2 617.8h0M55 623.9h0M51.6 615.9h0M67.3 631.6h0M62.5 615.9h0M46.8 640.8h0M50.1 618.6h0M39.1 617.5h0M76 602.6h0M43.9 630.4h0M78.7 617.2h0M59.4 617.6h0M53.9 630.7h0M46 620.8h0M65.7 629.9h0M54.4 632.5h0M42.5 635.4h0M51.1 624.8h0M47.7 631.6h0M43.2 640h0M48.8 620.6h0M43.7 637.1h0M43.3 617.3h0M40.3 621h0M48.9 629.8h0M48.3 636.1h0M42.4 630.5h0M60.9 634.2h0M68.8 626.2h0M59.7 626.1h0M37.8 602.6h0M50.2 640.3h0M54.9 627.9h0M57.9 618.4h0M73.1 614.5h0M57.9 611.9h0M53.5 631.2h0M63.1 616.4h0M57.2 646.9h0M61.6 624.9h0M72.2 616h0M46.7 617.2h0M42.3 634.8h0M49.3 630h0M88.5 641h0M56.4 629.3h0M55 634.5h0M53.7 620.8h0M51.1 629.4h0M50.1 618.1h0M45.9 624h0M64.7 625.9h0M52.8 608.4h0M76.8 613.4h0M46.4 634.1h0M44.6 611.6h0M57.8 616.7h0M49 612h0M50.6 619.3h0M56.3 638.1h0M60.3 626.2h0M38.9 643.4h0M34 634.8h0M43.9 628.9h0M48.4 612.5h0M58 622.8h0M58 621.3h0M43.7 616.9h0M54.2 630.7h0M56.1 613.9h0M43.5 621.3h0M67.4 631.2h0M38.3 627.9h0M47.9 625.2h0M50.8 618h0M60.2 611.2h0M59.1 625.7h0M82.9 625h0M42.9 608h0M42 608h0M59.3 621.5h0M56.1 626.1h0M56 617.4h0M54 620.6h0M76 629.8h0M90.4 611.7h0M42.7 601.8h0M44.7 630.2h0M52.9 629.8h0M57.1 627.4h0M54.4 633.7h0M55.8 616.3h0M55.7 635.2h0M75.1 617.5h0M50.2 619.8h0M87.7 616.8h0M74.4 635.6h0M54.3 621.9h0M64.2 620.8h0M57.3 615.7h0M43.5 620h0M42.4 628h0M49.9 613.5h0M59.6 611.5h0M49.5 611.7h0M80.8 629.4h0M70.9 618.7h0M42.2 630.8h0M42 624.6h0M57.8 616.8h0M59.6 635.2h0M49.5 599.7h0M43.8 612.8h0M52.7 629.6h0M50 627.9h0M42.9 623.7h0M40.3 624.3h0M44.1 633.3h0M38.4 636.2h0M40.6 628.3h0M48.3 608h0M53.1 623.7h0M50.8 626.4h0M64.2 609.8h0M49.7 620.4h0M61.3 617.8h0M85.2 628h0M76.7 613.8h0M37.9 625.9h0M56.6 615.7h0M43.3 617.7h0M46.4 608.5h0M48.7 614.7h0M54.4 623.3h0M38.8 632.1h0M55.6 625.7h0M43.3 629h0M42.9 610.1h0M61.3 626.9h0M71.7 642.6h0M42.9 619.9h0M39.6 616.2h0M69.3 630.9h0M42.4 617h0M78.1 634.3h0M54.8 621h0M49.7 624.5h0M48.2 620.5h0M38.5 619.5h0M54.2 628.8h0M57.8 616.3h0M34.1 627.4h0M53.1 622.1h0M47.2 611h0M50 631h0M51.3 622.5h0M58 609.5h0M49.8 612.4h0M59.3 628.9h0M42.4 628.4h0M53.4 618.4h0M40.5 628.7h0M43.1 622.5h0M46 634.8h0M65.5 617.7h0M41.4 636.8h0M41.6 622h0M50.1 617.1h0M50.8 628.8h0M43.4 636.5h0M50.5 634h0M60 639.5h0M70.5 607.8h0M47.3 639.6h0M79 634.1h0M35.3 620.3h0M57.9 622.7h0M60.8 614.3h0M65.8 611.9h0M47 619.3h0M67.5 623.7h0M45.3 628h0M75 624.7h0M63.8 615h0M51.6 617.9h0M48.8 617.8h0M51.7 637.5h0M59.3 629.7h0M81.2 629h0M79.7 627.8h0M43.3 632.2h0M63.8 617.3h0M40.8 614h0M49.1 607.5h0M52.8 627.6h0M46.6 624h0M53.7 622.3h0M39.4 623.2h0M59.5 630.3h0M56.1 616.3h0M40.2 640.5h0M48.7 627.2h0M50.2 639.5h0M37.7 617.7h0M39.9 635.1h0M74.6 633h0M54.2 623.2h0M45.5 632.1h0M37.3 621h0M63.8 626.5h0M45.2 606.3h0M64.7 633.6h0M69.7 630.1h0M52.1 618.2h0M59.7 622.1h0M81.6 619.3h0M77.9 625.6h0M59.2 615h0M53.1 620.1h0M44.9 611.7h0M49 634.8h0M44.6 620.9h0M36.4 625h0M67 619.7h0M38.2 631.2h0M47.5 616.1h0M47.4 634.6h0M55 615.5h0M56 618.4h0M55.4 638.6h0M67.6 619.7h0M65.2 639.8h0M63.3 618.2h0M85.6 636.9h0M59 623.7h0M47.7 637.1h0M55.5 639.1h0M55.1 618.8h0M42.8 627.2h0M55.4 613.7h0M59.2 623.5h0M82 599.4h0M40 621.6h0M55.8 607.9h0M44.4 620h0M55.3 622.3h0M51.8 618.4h0M46.4 629.6h0M42.7 628.6h0M47.7 608.8h0M47 624.7h0M54.4 632.9h0M47.7 618.6h0M69.9 630.2h0M52.5 622.3h0M41.4 613.2h0M43.3 611.8h0M66.5 607.2h0M66.9 612.8h0M45.4 617.3h0M73.1 618.2h0M40.5 620.3h0M40.4 623.2h0M51.6 603.3h0M41.7 623.5h0M37 608.4h0M55.6 623.8h0M60.8 612.3h0M59.4 647.3h0M59.7 621.5h0M63.9 628.2h0M56.2 609.2h0M37.5 609.8h0M38.2 628.1h0M56.7 623.4h0M48.3 614.7h0M51.3 620.1h0M51.4 621.8h0M46.5 614.2h0M79.4 633.9h0M43.2 608.7h0M51.7 647.4h0M50.7 630.4h0M42.5 623.2h0M37.7 602.9h0M63.8 622.5h0M70.8 635.4h0M44.3 610.6h0M40.4 618.9h0M50 622.4h0M51 613.3h0M58.7 625.7h0M67.6 623.3h0M47.7 613.6h0M39.9 618.4h0M51.7 613.8h0M54.8 625.4h0M72.7 607.7h0M45.1 634.4h0M53.5 634h0M64.5 617.8h0M58.8 624.8h0M41.4 620.4h0M45.4 621.8h0M53.6 623.4h0M44.8 631.2h0M41 619.4h0M34.3 610.8h0M66.9 629.3h0M68 605.7h0M41.1 608.5h0M59.7 629.3h0M39.2 615.1h0M70 631.5h0M60.4 631.4h0M49.4 626.6h0M43.2 638h0M40.8 623.3h0M52.9 631h0M39.9 629.7h0M50.1 639h0M81.6 621.7h0M58.1 605.6h0M64.1 625.1h0M41.7 623.3h0M56.2 631.8h0M53.1 626.1h0M45.1 629.4h0M53.3 635.4h0M36.9 629.7h0M65.6 626.5h0M45.9 619.4h0M61.2 625h0M52 619.7h0M54.5 610.9h0M61.9 614.1h0M98 625.7h0M45.3 637.3h0M49.8 623.7h0M43.5 621.4h0M66.6 613.6h0M59.8 620.9h0M91.4 624.9h0M88.1 616.5h0M73.7 630h0M80.5 630.8h0M41.6 624.8h0M45.3 620.5h0M57.1 616.3h0M68.3 649.3h0M42.1 612.6h0M96.4 609.4h0M45.9 610.6h0M55.1 614.9h0M51.3 623.3h0M65.7 617.5h0M37.6 611.2h0M54.5 630.6h0M43.5 616.5h0M48.9 617.9h0M55 623.5h0M56.2 606.9h0M53.2 628.3h0M40.5 630.8h0M46.6 622.7h0M78 627.7h0M47.1 610.8h0M53.1 636.7h0M46.7 633.6h0M60.9 619.7h0M38.6 616h0M47.1 632.6h0M58.1 611.2h0M62.9 638.9h0M53.9 613.6h0M49.8 630.1h0M65.9 626.5h0M75.2 607h0M67.1 623h0M46.4 628h0M57.9 620.4h0M39 606.3h0M56.8 621.9h0M51.2 629.1h0M50.2 620.7h0M68.9 633.2h0M50 628.4h0M58.4 627.4h0M43.4 617h0M79.2 626.7h0M54.1 618.4h0M65.3 612.7h0M79.3 609h0M49.7 637.1h0M69.8 623h0M61.9 632.5h0M54.6 617.1h0M76.7 620.4h0M45.6 622.7h0M89.6 627.2h0M58.6 630.9h0M65.5 637.1h0M52.2 614.3h0M62.3 624.3h0M63.9 622.3h0M78.1 619.9h0M53.7 615.8h0M40.4 606.4h0M59 624.2h0M49 617h0M39.6 636.7h0M82.3 626h0M58.4 628.7h0M65.1 628h0M57.9 612.7h0M56.8 621.7h0M45.4 622.1h0M68.7 622h0M38.5 624.5h0M90.6 624.5h0M71.6 628.2h0M39.9 627.2h0M39.9 626.3h0M41.7 624.2h0M49.9 638.7h0M61.6 622.1h0M54.1 623h0M51.9 619.1h0M36.6 632.2h0M54.2 630.6h0M57.8 615.8h0M47 628.8h0M51.9 618.6h0M52 628.4h0M68.1 632.9h0M41.3 635.1h0M42.3 627.9h0M53.6 626.7h0M51.2 633.1h0M49.3 610.5h0M56.5 622.5h0M64.5 630.2h0M79.8 609.9h0M46.6 615.6h0M54.6 629.1h0M81.9 631.4h0M57.9 624.2h0M54.1 616.5h0M59.7 634.6h0M45.5 612.8h0M51.8 625.9h0M66.4 615.5h0M55.9 623.8h0M83.3 618.5h0M44.8 617.2h0M85.4 611.6h0M44.9 628.7h0M47.9 606.5h0M35 633.5h0M45.8 619.9h0M46.8 616.8h0M74.4 622.4h0M43.8 615h0M42.8 636.3h0M52.5 623h0M66.9 614.1h0M40.3 622.5h0M56 632h0M90.9 621.2h0M48.4 621h0M45 631h0M40.3 611.3h0M53.7 627.1h0M52.7 631.3h0M49.8 621.6h0M56.2 628.1h0M53.8 624.2h0M56.1 627.1h0M61.4 629.7h0M72.3 623.7h0M53.9 629.5h0M56.9 599.9h0M42.3 609.7h0M61.2 622.5h0M55.5 637.1h0M49 627.5h0" stroke="#111" stroke-width="1.25" stroke-linecap="round"/>
<path d="M58.8 658.5h0M56.5 658.5h0M43.2 658.5h0M36.7 658.5h0M46.2 658.5h0M32.1 658.5h0M49.5 658.5h0M54.1 658.5h0M31 658.5h0M56.7 658.5h0M43 658.5h0M50.3 658.5h0M52.3 658.5h0M59.3 658.5h0M63.1 658.5h0M52.4 658.5h0M45.6 658.5h0M55.5 658.5h0M54.3 658.5h0M43.1 658.5h0M60.5 658.5h0M35.2 658.5h0M31.4 658.5h0M37.1 658.5h0M52.5 658.5h0M63.3 658.5h0M44.1 658.5h0M35.2 658.5h0M57.1 658.5h0M63.4 658.5h0M33.3 658.5h0M53 658.5h0M48 658.5h0M51.5 658.5h0M42.9 658.5h0M40.1 658.5h0M58.6 658.5h0M33.7 658.5h0M53.4 658.5h0M45 658.5h0M49.2 658.5h0M61.9 658.5h0M54.6 658.5h0M54.8 658.5h0M46.6 658.5h0M52.7 658.5h0M44.7 658.5h0M45.6 658.5h0M58.8 658.5h0M50.4 658.5h0M56.4 658.5h0M50.2 658.5h0M47.6 658.5h0M55.4 658.5h0M41.8 658.5h0M58.3 658.5h0M51.3 658.5h0M39.1 658.5h0M52.9 658.5h0M58.2 658.5h0M38.4 658.5h0M42.7 658.5h0M48.5 658.5h0M38.5 658.5h0M53.4 658.5h0M57.7 658.5h0M46.3 658.5h0M32.2 658.5h0M41.6 658.5h0M54.6 658.5h0M50.8 658.5h0M47.6 658.5h0M56.2 658.5h0M62.7 658.5h0M47.1 658.5h0M39.8 658.5h0M55.8 658.5h0M36.7 658.5h0M35.9 658.5h0M53.2 658.5h0M39.2 658.5h0M56.7 658.5h0M39.9 658.5h0M46.4 658.5h0M42.9 658.5h0M37.4 658.5h0M39.5 658.5h0M51.7 658.5h0M37.7 658.5h0M53.9 658.5h0M46.9 658.5h0M39.8 658.5h0M58.4 658.5h0M39.2 658.5h0M61.8 658.5h0M49.6 658.5h0M56.1 658.5h0M63.4 658.5h0M46.6 658.5h0M53.8 658.5h0M33.5 658.5h0M55.9 658.5h0M34 658.5h0M40 658.5h0M57.3 658.5h0M53.6 658.5h0M42 658.5h0M34.6 658.5h0M34.9 658.5h0M56.8 658.5h0M39.8 658.5h0M39.1 658.5h0M31.2 658.5h0M49.5 658.5h0M54.5 658.5h0M61.6 658.5h0M62.7 658.5h0M37.5 658.5h0M32.6 658.5h0M44.5 658.5h0M41.9 658.5h0M34.3 658.5h0M57.8 658.5h0M42.5 658.5h0M56.3 658.5h0M41.3 658.5h0M38.2 658.5h0M42 658.5h0M52.5 658.5h0M43.2 658.5h0M57.6 658.5h0M46 658.5h0M53.9 658.5h0M43.5 658.5h0M54.5 658.5h0M47.6 658.5h0M63 658.5h0M51 658.5h0M44.8 658.5h0M52.5 658.5h0M41.6 658.5h0M51.6 658.5h0M38 658.5h0M63.2 658.5h0M58.7 658.5h0M37.3 658.5h0M38.4 658.5h0M48.4 658.5h0M51.6 658.5h0M41.6 658.5h0M59.3 658.5h0M34.4 658.5h0M49.4 658.5h0M44.6 658.5h0M61.9 658.5h0M54.9 658.5h0M60.6 658.5h0M57.4 658.5h0M36.9 658.5h0M41.7 658.5h0M42.2 658.5h0M34.1 658.5h0M58.3 658.5h0M58.3 658.5h0M57 658.5h0M31.6 658.5h0M63.4 658.5h0M58.5 658.5h0M35.2 658.5h0M40.1 658.5h0M51.6 658.5h0M46.2 658.5h0M37.2 658.5h0M54.4 658.5h0M54.7 658.5h0M36.6 658.5h0M46.3 658.5h0M60.2 658.5h0M37.2 658.5h0M34 658.5h0M56.4 658.5h0M62.8 658.5h0M47.4 658.5h0M31.4 658.5h0M31.2 658.5h0M42.2 658.5h0M63.1 658.5h0M44.4 658.5h0M59.1 658.5h0M60.8 658.5h0M43.1 658.5h0M56.4 658.5h0M52.3 658.5h0M49.9 658.5h0M39.7 658.5h0M56.3 658.5h0M53.3 658.5h0M43.1 658.5h0M40.8 658.5h0M36.2 658.5h0M31.7 658.5h0M45.6 658.5h0M52.2 658.5h0M48.4 658.5h0M50.3 658.5h0M40.1 658.5h0M52.5 658.5h0M33.5 658.5h0M38.4 658.5h0M36.2 658.5h0M39.9 658.5h0M56.4 658.5h0M46.5 658.5h0M54.4 658.5h0M57.5 658.5h0M44.9 658.5h0M41.4 658.5h0M33.1 658.5h0M46.5 658.5h0M59.8 658.5h0M61 658.5h0M52.9 658.5h0M48.3 658.5h0M60.6 658.5h0M40.9 658.5h0M41 658.5h0M62.5 658.5h0M56.5 658.5h0M62.7 658.5h0M53.8 658.5h0M31.7 658.5h0M50.4 658.5h0M43.2 658.5h0M40.2 658.5h0M53.5 658.5h0M58.8 658.5h0M56.8 658.5h0M58.4 658.5h0M38 658.5h0M45.5 658.5h0M51.2 658.5h0M31.7 658.5h0M48.6 658.5h0M32.7 658.5h0M45.6 658.5h0M41.8 658.5h0M51.8 658.5h0M44.8 658.5h0M38.1 658.5h0M35.4 658.5h0M58.6 658.5h0M32.9 658.5h0M49.3 658.5h0M48.2 658.5h0M33.8 658.5h0M42.7 658.5h0M59.4 658.5h0M59.6 658.5h0M33.7 658.5h0M60.9 658.5h0M44.5 658.5h0M50.6 658.5h0M67 658.5h0M78.4 658.5h0M81.8 658.5h0M73.5 658.5h0M75.4 658.5h0M83.4 658.5h0M70.8 658.5h0M73.9 658.5h0M79.6 658.5h0M89.3 658.5h0M82 658.5h0M71.2 658.5h0M88.8 658.5h0M71.1 658.5h0" stroke="#111" stroke-width="1.45" stroke-linecap="round"/>
<path d="M31.3 633.8L107.5 617.5" stroke="#6a8ab5" stroke-width="0.85"/>
<text x="26.9" y="589.8" font-size="6.9" fill="#dc3440" stroke="#dc3440" stroke-width="0.12" textLength="37.5" lengthAdjust="spacingAndGlyphs">ecm-myCAF</text>
<text x="68.5" y="674.6" font-size="5.9" text-anchor="middle" fill="#333" stroke="#333" stroke-width="0.12">FOXP3</text>
<text x="0" y="0" font-size="6" text-anchor="middle" fill="#333" stroke="#333" stroke-width="0.12" transform="translate(15.6 626) rotate(-90)">ecm-myCAF</text>
<text x="82.5" y="593.2" font-size="5.5" fill="#333" stroke="#333" stroke-width="0.12"><tspan font-style="italic">r</tspan> = 0.19</text>
<text x="82.5" y="599.9" font-size="5.5" fill="#333" stroke="#333" stroke-width="0.12"><tspan font-style="italic">P</tspan> = 1.3e-11</text>
<path d="M150 593.8V661.3H233.8" stroke="#222" stroke-width="0.8" fill="none"/>
<text x="147.8" y="659.8" font-size="5.1" text-anchor="end" fill="#333" stroke="#333" stroke-width="0.12">0</text>
<text x="147.8" y="647.5" font-size="5.1" text-anchor="end" fill="#333" stroke="#333" stroke-width="0.12">1</text>
<text x="147.8" y="635.1" font-size="5.1" text-anchor="end" fill="#333" stroke="#333" stroke-width="0.12">2</text>
<text x="147.8" y="622.8" font-size="5.1" text-anchor="end" fill="#333" stroke="#333" stroke-width="0.12">3</text>
<text x="147.8" y="610.4" font-size="5.1" text-anchor="end" fill="#333" stroke="#333" stroke-width="0.12">4</text>
<text x="147.8" y="598.1" font-size="5.1" text-anchor="end" fill="#333" stroke="#333" stroke-width="0.12">5</text>
<text x="153.8" y="667.5" font-size="5.1" text-anchor="middle" fill="#333" stroke="#333" stroke-width="0.12">0</text>
<text x="170.7" y="667.5" font-size="5.1" text-anchor="middle" fill="#333" stroke="#333" stroke-width="0.12">1</text>
<text x="187.6" y="667.5" font-size="5.1" text-anchor="middle" fill="#333" stroke="#333" stroke-width="0.12">2</text>
<text x="204.4" y="667.5" font-size="5.1" text-anchor="middle" fill="#333" stroke="#333" stroke-width="0.12">3</text>
<text x="221.3" y="667.5" font-size="5.1" text-anchor="middle" fill="#333" stroke="#333" stroke-width="0.12">4</text>
<path d="M150 658h-1.4M150 645.7h-1.4M150 633.3h-1.4M150 621h-1.4M150 608.6h-1.4M150 596.3h-1.4M153.8 661.3v1.4M170.7 661.3v1.4M187.6 661.3v1.4M204.4 661.3v1.4M221.3 661.3v1.4" stroke="#333" stroke-width="0.5"/>
<path d="M159.5 610.4h0M165 629h0M202.2 640.3h0M184.5 634.1h0M168.4 617.1h0M211.7 608.7h0M180.4 618h0M171.1 618.2h0M175.1 608.9h0M182.6 619.2h0M165 606.5h0M184.4 605.2h0M164 621.7h0M163.7 607.1h0M196.8 612.4h0M176.6 620h0M165.5 619h0M167 608.9h0M165.7 630.2h0M184.3 633.5h0M173.7 608.1h0M201.1 600.8h0M186.2 616.3h0M188 609.3h0M166.1 633.9h0M188.7 631.1h0M187.5 623.9h0M178.5 622.2h0M168.4 617.4h0M178 623.3h0M167.1 619.6h0M199 620.7h0M177.7 613.3h0M174.4 609.1h0M165.5 610.8h0M178.9 606h0M205.5 620.7h0M198.6 623.2h0M187.6 636.3h0M166.6 634.5h0M173.7 611.6h0M163.7 614.6h0M186.1 618.7h0M177.8 622h0M174.3 630.5h0M163.5 639.4h0M183.4 624.5h0M193.9 621.5h0M179.5 643h0M160.4 606.9h0M170.7 625.4h0M169.3 615.1h0M166.7 607.1h0M168.6 605.2h0M183.3 622h0M182.1 610.2h0M168.6 610.7h0M159.2 618.6h0M192.4 616.2h0M166.3 627.3h0M180.1 616.7h0M173 625.3h0M161.6 621.2h0M173.5 618.2h0M168.2 610.4h0M178.4 621.4h0M169.2 621.7h0M166.5 623.1h0M177.4 623.1h0M191.1 614.8h0M168.8 633.2h0M170.4 618.7h0M159.6 630.4h0M173.2 624.4h0M179.5 612.3h0M176.3 603.1h0M192 617.6h0M181.1 613.5h0M163.8 617.5h0M187.5 623.3h0M160.4 618.4h0M170.6 610.1h0M173.2 617.3h0M180.5 622.7h0M164.3 623.6h0M177.2 614.7h0M174.7 622.3h0M176.5 610.6h0M177 632.3h0M170.2 612.1h0M188.2 626.8h0M184.9 619.9h0M192.6 599.5h0M178.1 609.5h0M170.5 624h0M180.8 622.8h0M175.6 610.8h0M164 610.4h0M177.5 619.4h0M157.1 612.2h0M175.8 623.1h0M209.5 644.8h0M186.4 609h0M158.8 623.7h0M165 613.6h0M174.4 620.8h0M158.4 621.8h0M166 627.5h0M165.3 612h0M170.1 611.3h0M211.2 607.4h0M169 612.6h0M161.9 615.1h0M173.8 624h0M166 618.7h0M169.4 615.1h0M169.4 642.4h0M187 630h0M162.6 620.8h0M192 611.5h0M166.1 606.1h0M169.6 603.2h0M175.3 626.3h0M161.9 618.5h0M179.4 624h0M171.1 626.8h0M208.9 622.5h0M175 618.1h0M167.8 611.6h0M174.9 633.1h0M197.3 620.4h0M200.3 628.5h0M173.3 606.1h0M196.1 603.3h0M182.9 623.6h0M165.6 625.9h0M166.8 613.5h0M188.3 610.3h0M190.4 628.5h0M180.2 623.3h0M196.2 616.8h0M179.4 629.1h0M158 605.3h0M162.5 618.9h0M172.8 618.7h0M184.1 630.2h0M165.9 607.9h0M176.3 631.9h0M159.6 626.1h0M165.4 624.9h0M178.8 620.6h0M160 632.8h0M161.9 626.6h0M173.5 613.9h0M194.2 619.8h0M182.3 618.2h0M198.2 610.3h0M173.5 615.2h0M191.9 610h0M194.8 619.2h0M169.2 627.7h0M172.8 603.9h0M195.9 635.3h0M173.4 632.2h0M176.6 630.1h0M202 597.3h0M169.4 618.6h0M205.2 609.3h0M169.3 633.9h0M165 629.7h0M179.5 616.4h0M162.7 623.7h0M177.1 618.3h0M169.5 613.7h0M177.5 618.5h0M192.8 618.6h0M176.1 617.4h0M161.1 621.3h0M173.2 616.5h0M179.3 610.3h0M170.5 628h0M175.4 616.8h0M198 611.1h0M170.2 621.1h0M171.9 620.2h0M182.2 602.1h0M171.6 608.9h0M182.9 598h0M175 601.9h0M173.8 622.4h0M169.3 625.8h0M185.7 622h0M189.7 611.2h0M175.4 651.1h0M162.2 618.8h0M190.9 608h0M178.2 618.8h0M166.6 616.2h0M169.7 621.4h0M162.8 634.8h0M170.2 610.4h0M169.8 621.9h0M173.2 614.8h0M163 619h0M168 601.1h0M182.5 614.8h0M170.8 615.2h0M166.7 620.1h0M168.7 626.8h0M174.4 615.4h0M201.3 609.1h0M184.8 619.2h0M166.7 639.3h0M178.9 626.5h0M162.6 601.2h0M175.8 624.4h0M200.4 617.5h0M178.8 636.9h0M163.9 624.6h0M177 627.2h0M194.5 611.8h0M166.9 613.4h0M169.8 614.1h0M187.7 609.8h0M170.1 623.7h0M174.8 603.4h0M171.6 621.5h0M200.1 610.6h0M188.7 599.6h0M186.7 624h0M181.2 615.7h0M174.4 620.3h0M169.7 618h0M176.3 616.4h0M161.6 619.9h0M163.1 619.1h0M190.5 612.6h0M174.4 631.5h0M175.4 626.1h0M176.2 623.8h0M166.2 632h0M185.8 616h0M164.8 623.5h0M185.5 627.2h0M175.8 631.9h0M200.1 627.5h0M187.1 615.2h0M177.4 631h0M165.9 610.8h0M180.1 613.4h0M177.3 616.6h0M166.5 634.9h0M171.6 626.4h0M167 609.6h0M198.6 622.8h0M196.1 626.3h0M189.1 626h0M174.6 615.7h0M171.1 636.3h0M162 609.8h0M176.4 617.2h0M171.3 628.9h0M170.7 613.6h0M196.6 644.5h0M193.7 630.8h0M167.8 616.5h0M203.4 605.5h0M192.4 630.4h0M176.3 632.5h0M175.2 620h0M176.9 618.5h0M171.7 626.4h0M164.2 626.7h0M164.1 604.9h0M186.4 628h0M172.3 634.4h0M176.8 623.2h0M181 607.3h0M206.4 613h0M194.6 619.8h0M172.7 631.4h0M186.1 620.3h0M186.4 613.8h0M217.3 609.7h0M159.1 634.2h0M163.4 623.3h0M165.3 624.6h0M193.5 603.4h0M168.9 622.2h0M168.8 620.1h0M175.1 624h0M190.6 645.9h0M189.9 608.9h0M166.2 637.1h0M189.2 624.9h0M217.2 634.1h0M195.1 625.1h0M173.7 623.8h0M160.9 624.3h0M165.9 606.1h0M168.9 630.7h0M171.1 622.4h0M167.7 614.5h0M197.9 623.4h0M182.7 624.4h0M166.7 601.5h0M180.2 612.3h0M174.4 627.3h0M180.4 617.1h0M178.1 627.9h0M175.8 615.3h0M168.7 632.8h0M189.8 612.1h0M159.6 616h0M191.3 616.4h0M182.4 619.6h0M177.4 617.5h0M182.2 627.6h0M170.2 619h0M178.8 614h0M195.7 615.5h0M177.8 628.2h0M166.4 614.3h0M210.1 630.7h0M160.4 626.4h0M171.1 627.5h0M177.3 625.2h0M173.1 620.8h0M187.3 613.3h0M192.3 609.7h0M175.3 615.4h0M160.4 626.5h0M166.3 612.6h0M178.6 610.5h0M218.7 626.7h0M165.8 630.7h0M171.5 621.1h0M189.9 601.6h0M193.5 622.5h0M184.8 621.3h0M169.6 613.1h0M175.3 630.6h0M186.4 629.7h0M182.8 620.8h0M196.1 611.8h0M184.4 622.5h0M179 625.7h0M189.7 635.2h0M163.9 604.9h0M178.6 631.4h0M171.9 607.5h0M187.4 626.3h0M161.5 609h0M165.6 603.8h0M178.6 627.8h0M191.5 614.3h0M185.3 612.8h0M173.2 608h0M170.6 622.6h0M179.3 608.2h0M192.8 618.7h0M165.5 629.1h0M183.3 610.3h0M180 607.9h0M179.5 619.8h0M172.3 620.8h0M178.5 612.5h0M177.2 604h0M186.4 631.2h0M180.6 609.8h0M188.7 600.8h0M168.8 627.9h0M186.1 614.3h0M165.8 619.1h0M178.2 616.4h0M182.1 608h0M185.3 634.5h0M172.2 624.4h0M170.3 632.5h0M179.7 622.6h0M227.4 602.3h0M162.9 629.5h0M172.9 624.1h0M161.8 625.4h0M169.2 616h0M162.5 622.7h0M164.6 627h0M169.2 626.9h0M170.2 621.2h0M169.5 631.1h0M169.9 642.1h0M209.2 608.9h0M169.7 618.5h0M193.5 625.3h0M180.8 621.2h0M160.6 612.9h0M178.5 627.7h0M175.2 619.5h0M175.7 624.7h0M178.1 608.3h0M168.6 642.4h0M184.8 632.8h0M177.8 606.6h0M195.3 630.8h0M186.6 627.1h0M171.5 631.1h0M174.3 641.4h0M167.2 620.7h0M176.4 613.4h0M172.1 616.9h0M172.2 631.3h0M229.1 624.7h0M185.2 604.5h0M181 621.6h0M167.8 628.5h0M193.3 611.5h0M174.5 622.6h0M162.2 637.2h0M183.1 627.8h0M182.4 611.3h0M171.1 621.4h0M216.5 620.7h0M173.6 613.9h0M180.7 627.1h0M199.4 633.8h0M162.2 620h0M174.1 625.7h0M165 619.9h0M178.4 626.6h0M172.4 626.8h0M201.7 633h0M183.2 617.2h0M170.7 601.8h0M201.4 631.3h0M166.7 609.1h0M182.4 613.5h0M175.6 625.8h0M179.5 629.3h0M160.8 614.8h0M180.7 623.1h0M165.7 622.4h0M211.9 624.1h0M162.1 602h0M176.8 634.8h0M162.8 615.7h0M185.4 602.1h0M176.5 618.2h0M178.5 599.8h0M167.2 619.7h0M177.6 618.2h0M181.3 612.4h0M181 626.4h0M168.2 619.4h0M164 614.3h0M171.7 625.9h0M177.1 615.3h0M165 609.5h0M177.6 630.5h0M172.5 620.8h0M168.5 615.9h0M189.1 626.3h0M190.2 610.2h0M171.7 608.1h0M175.4 624.9h0M203.4 617.3h0M182.7 625.5h0M164.4 620.7h0M191.1 615.2h0M171.5 621h0M173 617.9h0M182 623.7h0M206.4 608.4h0M205.3 610.8h0M206.8 625.3h0M183.4 614.3h0M168.3 623.8h0M182 606.6h0M184.1 621.4h0M185.2 611.9h0M164.1 639.8h0M167.3 606.6h0M168.2 613.3h0M163.9 611.6h0M178.9 617.6h0M167.1 610.3h0M176 608.9h0M189.4 612.7h0M190.3 621.9h0M188.4 620.8h0M159.5 619h0M163.9 621.3h0M177.9 627h0M206.6 631.1h0M180.3 620.3h0M186 627.9h0M171.2 622.7h0M170.8 631.2h0M174.6 632h0M169.4 623.2h0M174.9 621.5h0M204.6 599.1h0M204.1 620.1h0M175.2 609.6h0M166.2 614.7h0M172.6 616.5h0M177.7 622.1h0M170.3 613.3h0M175.5 614.4h0M172.4 632.4h0M167.2 613.1h0M170.9 621.2h0M178.9 634.2h0M172.4 626.5h0M160.9 612.8h0M176.7 610.6h0M163.2 620.4h0M193.4 608h0M175 612h0M170.6 633.7h0M184.7 629.5h0M183.2 616.1h0M167.9 627.7h0M183.6 625.2h0M160.9 616.6h0M170 622.1h0M164.1 625.8h0M174.5 632.5h0M170.5 600.3h0M181.5 632.4h0M166.3 623.4h0M170.9 609.2h0M192.2 620.3h0M174.3 628.3h0M192.3 630.1h0M160.5 608.7h0M173.7 612.2h0M204.2 637.7h0M212.4 632.4h0M170.7 613.5h0M176.5 604.3h0M172.1 624.5h0M182.7 610.5h0M177.3 634.4h0M174.3 635.1h0M181.9 631.2h0M167.6 614.8h0M193.8 617.6h0M167.3 612.7h0M183.8 636h0M162.6 603.9h0M174.3 623.3h0M160.9 617.1h0M173.8 636.4h0M179 619.9h0M167.7 627.4h0M178.4 605h0M186.5 617.4h0M173.5 607.8h0M167.5 627h0M174.4 626.7h0M199.6 618.1h0M185.5 618.8h0M198.3 628.3h0M167.2 614.6h0M171.3 608.5h0M178.5 622.9h0M175.7 624.2h0M200.3 624.2h0M163 614.5h0M179.8 620.7h0M181 615.4h0M176.4 609.1h0M181.7 622.4h0M210.5 622.2h0M178 622.4h0M184.2 605.6h0M187 620.7h0M201.2 619h0M176.3 622.5h0M169.5 611.2h0M164.6 615.8h0M168.6 630.5h0M170.5 610.7h0M171.8 615.8h0M180.8 608.3h0M197.5 614.7h0M174.3 620.2h0M213 629.1h0M194.6 610.3h0M184 607.9h0M169.5 627.9h0M167.1 620.3h0M187.8 615.3h0M166.9 620.9h0M175.4 616h0M164.3 623.3h0M191.5 625.7h0M190.9 608.2h0M174.6 635.7h0M172.1 613.7h0M190.6 627.1h0M180.9 619.4h0M166.6 626h0M184.7 618.3h0M165.9 625.6h0M162.8 617.2h0M182.1 633.1h0M177.7 629.8h0M168.7 621h0M184.4 613.8h0M168.6 627.7h0M171.8 601.4h0M176.2 623.4h0M160 612.4h0M181.6 636.9h0M183.5 629.1h0M173.7 629.2h0M159.4 630.8h0M169.2 634.7h0M169.7 623.9h0M178.4 627.8h0M181.2 604.5h0M182 620.5h0M200.5 617.2h0M167.3 639.5h0M171.6 605.7h0M182.2 605.3h0M168.6 630.2h0M173.2 629.9h0M157.1 627.1h0M181.8 606.4h0M197.4 632.4h0M184.8 629.5h0M186.3 634.8h0M177.8 617.2h0M162.2 611.9h0M163.5 629h0M164.9 609h0M180 618.4h0M176.1 627.7h0M170.7 614.6h0M180 607.8h0M169.8 607.7h0M183.3 614.8h0M178.1 607.3h0M169.2 619.7h0M181 616.8h0M158 602.8h0M168.6 620.8h0M167.1 627.3h0M173 631.2h0M175 624.6h0M161.2 637.4h0M190.3 628.5h0M161.8 630.6h0M175.6 621.4h0M170.6 632.7h0M189.8 620.8h0M171.3 619.8h0M178.5 612.2h0M202.6 609.9h0M163.6 604.9h0M180.6 622.1h0M164.9 632.7h0M205 612.4h0M167.4 615.8h0M165.1 623.8h0M161.5 611.9h0M173.7 601.1h0M165.4 616.1h0M220.4 623.5h0M173.8 617.6h0M177.5 628.2h0M177 600.8h0M179.8 631h0M192.7 629.2h0M164.8 609.9h0M185.1 621.4h0M183.1 631.2h0M179.1 610.7h0M183.8 608.7h0M192.4 634.9h0M176.4 613.4h0M164.5 610.2h0M166.6 602.1h0M200.8 615h0M169.8 612.4h0M169.8 618.5h0M187.1 612.8h0M175.4 603.2h0M166 612.7h0M174.4 625.3h0M175.7 620.2h0M173.4 601h0M205.6 631.3h0M198.9 625.1h0M165.1 625.7h0M174.2 607.1h0M196.1 627.8h0M166.4 623.5h0M175.1 620.1h0M180.3 614.2h0M161.5 613.7h0M169.3 630.3h0M173.5 630.3h0M214.8 633h0M188 608.7h0M214.5 621.9h0M187.1 617.8h0M177.1 619.5h0M184.7 633.5h0M179.3 635h0M192.8 630.1h0M184.9 601.2h0M185.2 623.2h0M159.8 614.8h0M175.7 629.1h0M203.6 618.7h0M165.4 634.4h0M176.1 624.2h0M174.3 616.5h0M167.8 610.1h0M162.5 622.9h0M164.3 613.3h0M175.5 616.8h0M192.7 617.6h0M202.5 623.5h0M177.3 616h0M178.7 609.2h0M182.8 619.6h0M181.2 622.7h0M170.3 613.1h0M175.6 613.4h0M172.6 633.3h0M170.9 609.3h0M203.5 634.6h0M189.2 608.4h0M164.3 616.5h0M161.4 624.1h0M191.2 626.1h0M175.2 618h0M167.2 623.3h0M188.5 635.7h0M167.8 609.6h0M164.7 633.9h0M198.1 621.2h0M162 624.1h0M168.8 605.1h0M175.8 634h0M164.1 610.3h0M170.6 615.3h0M176.8 646.8h0M178.6 632.9h0M172.6 626.2h0M159.6 629.6h0M176.1 617.7h0M168.1 614.4h0M166.5 609.9h0M177.4 626.5h0M165.7 614.8h0M167.9 621.9h0M206.7 614.9h0M182.1 620.3h0M183.3 619.9h0M164.3 622.8h0M219.5 614.9h0M176.5 618.6h0M205.7 628.8h0M187.3 639.2h0M159.5 610.3h0M184.6 612.5h0M175.2 620.5h0M180 608.7h0M184.3 620.2h0M177.3 620.8h0M183.5 623.6h0M183.9 607.7h0M166.5 602.7h0M183.6 621.6h0M198.4 625.5h0M189.4 609.6h0M176.7 611.2h0M170.6 613.6h0M196.9 633h0M180.4 616.8h0M183.6 617.8h0M178.8 622.3h0M182 615.3h0M195.7 621h0M169.8 615.8h0M179.9 619.7h0M181.7 622.2h0M168.5 603.6h0M178 619.9h0M182.8 613.7h0M172.9 610.7h0M176.1 628.3h0M191 621.2h0M185.5 627.6h0M181 621.1h0M199.3 630.4h0M179.3 611.3h0M170.9 619.5h0M186.6 631h0M191.9 615.1h0M219.1 628.8h0M179.7 632.9h0M179.8 615.6h0M177.6 619h0M162.4 626.3h0M168.9 612.8h0M171.1 615.2h0M185.4 617.8h0M181.5 610h0M168 616.7h0M168.1 607.8h0M166.2 616.2h0M187.7 616.3h0M164.2 645.7h0M161.3 622.7h0M177.6 601.6h0M169 624.8h0M194.4 620.7h0M166 623.5h0M168 636.2h0M193.9 613.9h0M177 601.9h0M164 603.9h0M169 621.6h0M180.7 627.7h0M170.2 624.5h0M205.3 614.7h0M176.4 623.1h0M208.8 612.2h0M160.3 616.8h0M170.7 630.9h0M163.3 630.1h0M159.3 611.6h0M169.7 611.6h0M175.1 619.3h0M174.2 605.8h0M191.2 620h0M160.3 622.1h0M176 619.8h0M170.6 614.3h0M170 640.7h0M173.1 618.2h0M170.8 618.1h0M180.6 627.3h0M177 627.4h0M205.6 608h0M172 623.8h0M180 622.2h0M165.3 610.8h0M170.1 630.9h0M170.1 626.4h0M195.9 625.4h0M166 632.9h0M175.4 625.2h0M177.8 628.4h0M169.3 623.8h0M179.5 629.8h0M171.5 641.8h0M177.3 608.6h0M164.9 612.5h0M187.1 613.4h0M167.5 614.5h0M198.1 614h0M172.9 626.1h0M161 625.1h0M168.1 630.8h0M168.9 600.6h0M175.7 623.3h0M226.6 619.1h0M192.2 628.9h0M172.3 622h0M181 615.1h0M166.5 616.5h0M185.5 630.9h0M170 626.8h0M186.5 634.1h0M182.4 611.2h0M203.1 616.5h0M195.1 621.7h0M167 626.8h0M189.9 612.5h0M203.8 622.1h0M204 626h0M168.3 614.4h0M169.6 617h0M161.4 630.8h0M184.1 608h0M159.9 635.1h0M159 627.1h0M164.2 616.2h0M182.7 620.5h0M180.5 612.2h0M197.4 614.2h0M187.8 641.7h0M173.4 607.3h0M168.1 624.3h0M169.4 619.6h0M179 626.7h0M194.5 629.6h0M170 613.6h0M163.8 615.2h0M167.1 617.2h0M181.2 625.6h0M171 605h0M164.9 616.1h0M176.4 614.1h0M168.7 618.7h0M185.1 616.8h0M177.8 608.8h0M160.7 609.8h0M169.7 609.2h0M161.1 618.4h0M177.3 618.2h0M170.7 630.2h0M186.6 621.3h0M181.2 624.7h0M194.9 627.2h0M186 619.5h0M191.5 618.8h0M181.3 626.1h0M174.1 635.2h0M172.4 621.9h0M175.9 619.5h0M170.7 616.6h0M174.2 627.8h0M186.4 631.7h0M165.1 636.6h0M211.9 619.7h0M162.2 625.1h0M196.1 614.2h0M167.1 632.8h0M173.5 607.4h0M209.7 621.4h0M167.4 621.6h0M161.2 618.3h0M162.2 613.2h0M173.3 612.3h0M199.7 636.8h0M189.5 624.9h0M179.4 615.6h0M164.9 614.3h0M194.8 617.6h0M177.3 627.9h0M172.5 615.8h0M173.6 621.4h0M194.7 619.7h0M171.3 608.4h0M167.5 620.6h0M198.7 615.4h0M225.6 606.2h0M163.8 610.4h0M181.9 631.2h0M173.3 629.5h0M229 638.2h0M179.2 609.9h0M178.7 621.3h0M166.8 624.7h0M178.4 620.5h0M176.7 630.5h0M161.3 614.4h0M182.8 627.9h0M169.5 611.3h0M166.5 617.2h0M174.3 620.3h0M173.4 614.5h0M168.7 621.9h0M184.6 619.9h0M183 608.5h0M188.6 604.1h0M173.5 614.5h0M180.6 606.7h0M168.4 634.2h0M167.7 618.3h0M178.1 619.8h0M176.3 623.9h0M177.6 614.7h0M209.1 601.8h0M188.8 614.8h0M157.9 609.2h0M165.1 606.8h0M183.3 607.2h0M184.1 618.8h0M174.6 625h0M186.1 608.9h0M192.3 611.4h0M172.7 623.5h0M185.3 604.5h0M158.5 627h0M168.5 630.6h0M171.8 619.9h0M180.2 631.4h0M198.9 620.8h0M189.9 619.9h0M182.1 624.6h0M187.4 618.7h0M185.6 630.9h0M187 640.1h0M195.8 611.9h0M197.8 610.9h0M178.4 611.5h0M176.4 623.1h0M175.7 615.2h0M196.8 622.4h0M189.2 608.5h0M182.8 630.1h0M173.6 616.7h0M167.9 623.6h0M171.6 612.9h0M167 618.7h0M198.9 635.6h0M210.5 622.3h0M193.8 628.3h0M171.3 615.1h0M187.4 611.5h0M192.2 630.3h0M171.3 615.4h0M161.3 628.6h0M194.5 623.9h0M210.6 617.9h0M166.1 608.2h0M174.5 615h0M169.5 613.4h0M178.1 623.7h0M191.2 620.6h0M174.6 613.7h0M196.4 617.8h0M165.5 617.8h0M171.9 615.7h0M162.6 604.2h0M191.7 606.8h0M163.1 606.3h0M177.3 615.7h0M183.5 626.3h0M163.5 629.9h0M182.7 617.9h0M187.5 628.3h0M185.1 636.9h0M175.3 622h0M168.6 598.9h0M168.8 619.1h0M192.3 617.8h0M173.7 619.8h0M164.8 617.7h0M187.8 631.3h0M173.3 616.7h0M217.5 611.9h0M176.5 616.7h0M178.5 616.4h0M158.8 618.8h0M168.8 612.5h0M162.1 629.5h0M164 637.2h0M189.4 623.6h0M163.3 619.3h0M168.4 613.5h0M167.9 625.9h0M172.6 617.6h0M175.7 619.5h0M212.5 612.5h0M175 623.4h0M190.4 613.4h0M177.4 612.4h0M184 621.7h0M171.1 620.5h0M160.9 623.3h0M182.6 625.6h0M162.5 624.9h0M160.2 629h0M214.1 612.6h0M206.4 615.5h0M168.1 620.3h0M181.1 618.2h0M199.5 618.9h0M180.5 605.6h0M192.1 611.2h0M191 622.2h0M163 613h0M173.8 634.1h0M190.3 623.7h0M181.1 626.2h0M204 616.3h0M167.9 624.2h0M186.1 626.4h0M178.1 625.9h0M164.3 632.3h0M170.7 628.2h0M186.8 616h0M160.1 617h0M169.4 612.6h0M169.4 604.2h0M165.3 611.1h0M218.1 635.8h0M182.1 625h0M164.5 605.7h0M176.2 617.9h0M180.3 616h0M158.3 617.4h0M207.2 631.9h0M164.2 615.7h0M179.2 620.8h0M160.9 628.4h0M176.3 616.1h0M166.4 603.9h0M176.6 621.1h0M211.6 631h0M185.8 620.6h0M203.8 627.6h0M198.5 641.4h0M177.8 623.9h0M184 616.1h0M198.6 628.1h0M177.6 620.4h0M177.4 620.8h0M189 623.7h0M166.4 623.2h0M171.3 622.5h0M173.4 622.1h0M173.7 620.9h0M180.4 615h0M170.7 624.1h0M157.5 627.2h0M180.6 615.2h0M183.6 625.7h0M170.8 600.4h0M173.7 621.9h0M192.1 601.8h0M210.6 617.4h0M171.5 616.9h0M166.6 611.5h0M212.8 615.8h0M174.4 620.8h0M190.2 622.7h0M172.5 627.9h0M176.1 628.3h0M187.4 612h0M162.3 641.5h0M189.5 604.2h0M189.5 611.3h0M172.3 622.5h0M174.7 604.1h0M183.2 602.8h0M199 609.6h0M180.3 641.5h0M177.4 637.8h0M186.8 613.9h0M175.4 630.6h0M168.7 616.2h0M176.9 623.6h0M197.1 616.3h0M171.1 622.8h0M185.6 619.9h0M176.5 635.2h0M170.9 620.4h0M162.1 628h0M209.1 610.6h0M171.2 626.1h0M163.8 616h0M197.6 614.8h0M181.3 621.5h0M181.5 627.6h0M174.7 618.9h0M180.1 621.4h0M190.5 613.2h0M189 628.6h0M172.5 630.8h0M212.7 613.9h0M169.2 618h0M169.3 609.5h0M175.2 608h0M174.2 637h0M181.1 618h0M163.8 618.9h0M186.6 619.6h0M160 611.8h0M160.5 602.8h0M170.7 622h0M192.7 621.5h0M174.6 614.4h0M185.3 621.5h0M189.8 612.5h0M185.9 608h0M179.8 625.2h0M165.7 609h0M167.4 621.3h0M166.4 629h0M163.1 645.9h0M174.5 599.6h0M171 618.4h0M169.7 620.5h0M176.5 627.8h0M176.7 622.3h0M163.1 616.4h0M167 608.2h0M165.3 617.2h0M162.9 618.6h0" stroke="#111" stroke-width="1.25" stroke-linecap="round"/>
<path d="M171.4 658.5h0M155.9 658.5h0M164.5 658.5h0M167.4 658.5h0M162.9 658.5h0M172.2 658.5h0M176.4 658.5h0M158.8 658.5h0M158 658.5h0M164.2 658.5h0M174.4 658.5h0M171.6 658.5h0M166.7 658.5h0M166.8 658.5h0M174.1 658.5h0M173.7 658.5h0M171.9 658.5h0M173.7 658.5h0M160.9 658.5h0M166.4 658.5h0M165.3 658.5h0M171.5 658.5h0M161.7 658.5h0M172.1 658.5h0M161.9 658.5h0M162 658.5h0M159.3 658.5h0M170.3 658.5h0M157.1 658.5h0M162.1 658.5h0M169.7 658.5h0M163.2 658.5h0M167.5 658.5h0M171.7 658.5h0M166.2 658.5h0M166.6 658.5h0M164 658.5h0M172.3 658.5h0M164.1 658.5h0M168 658.5h0M159.7 658.5h0M156.7 658.5h0M171.6 658.5h0M161.3 658.5h0M169.5 658.5h0M162.1 658.5h0M172.1 658.5h0M173.6 658.5h0M164.5 658.5h0M171.6 658.5h0M170.8 658.5h0M175.1 658.5h0M170.2 658.5h0M164.3 658.5h0M155.7 658.5h0M156.3 658.5h0M173.6 658.5h0M162.8 658.5h0M166.2 658.5h0M154.6 658.5h0M158.4 658.5h0M175.8 658.5h0M175.1 658.5h0M157.2 658.5h0M172.4 658.5h0M163.9 658.5h0M160.4 658.5h0M155.3 658.5h0M162.5 658.5h0M170 658.5h0M164.8 658.5h0M160.1 658.5h0M163.8 658.5h0M157.2 658.5h0M170.2 658.5h0M158.6 658.5h0M161.6 658.5h0M167 658.5h0M164.1 658.5h0M173.9 658.5h0M163.8 658.5h0M160.3 658.5h0M176.3 658.5h0M165.4 658.5h0M156.3 658.5h0M156.1 658.5h0M168.9 658.5h0M173.6 658.5h0M156.8 658.5h0M169.3 658.5h0M160.6 658.5h0M168.8 658.5h0M161.1 658.5h0M174.3 658.5h0M164.1 658.5h0M154.3 658.5h0M167 658.5h0M165.5 658.5h0M162.6 658.5h0M154.9 658.5h0M173.4 658.5h0M172 658.5h0M160.7 658.5h0M170.8 658.5h0M159.6 658.5h0M169.5 658.5h0M174.4 658.5h0M155.5 658.5h0M166.3 658.5h0M160 658.5h0M171.1 658.5h0M167.9 658.5h0M172.1 658.5h0M160.5 658.5h0M156.9 658.5h0M166.5 658.5h0M174 658.5h0M169.8 658.5h0M168.5 658.5h0M169.3 658.5h0M163.2 658.5h0M154.2 658.5h0M154.5 658.5h0M176 658.5h0M161.1 658.5h0M170 658.5h0M158.1 658.5h0M162.3 658.5h0M162.5 658.5h0M163.5 658.5h0M156.4 658.5h0M161.6 658.5h0M164.7 658.5h0M163.7 658.5h0M164.8 658.5h0M164.4 658.5h0M160.6 658.5h0M173 658.5h0M165.2 658.5h0M157.6 658.5h0M170.7 658.5h0M173.6 658.5h0M169.1 658.5h0M158.2 658.5h0M154.6 658.5h0M159.7 658.5h0M160.2 658.5h0M160.3 658.5h0M160.6 658.5h0M169.4 658.5h0M159.4 658.5h0M164.5 658.5h0M173 658.5h0M161.3 658.5h0M154.8 658.5h0M165.6 658.5h0M168.5 658.5h0M164.2 658.5h0M155.7 658.5h0M175.6 658.5h0M157.3 658.5h0M164.6 658.5h0M159 658.5h0M167.1 658.5h0M160.7 658.5h0M175 658.5h0M161.1 658.5h0M161.5 658.5h0M165.7 658.5h0M160.6 658.5h0M158.5 658.5h0M161.9 658.5h0M167.3 658.5h0M176.6 658.5h0M171.1 658.5h0M174.3 658.5h0M176.3 658.5h0M155.3 658.5h0M195.7 658.5h0M195.5 658.5h0M199.1 658.5h0M206.8 658.5h0M188.4 658.5h0M206.8 658.5h0M181.4 658.5h0M199 658.5h0M176.8 658.5h0M201.6 658.5h0M203.9 658.5h0M198.7 658.5h0M204.2 658.5h0M178.8 658.5h0" stroke="#111" stroke-width="1.45" stroke-linecap="round"/>
<path d="M153.8 632.5L230 608" stroke="#6a8ab5" stroke-width="0.85"/>
<text x="149.6" y="589.8" font-size="6.9" fill="#2e9e6a" stroke="#2e9e6a" stroke-width="0.12" textLength="42.9" lengthAdjust="spacingAndGlyphs">TGFβ-myCAF</text>
<text x="191.9" y="674.6" font-size="5.9" text-anchor="middle" fill="#333" stroke="#333" stroke-width="0.12">FOXP3</text>
<text x="0" y="0" font-size="6" text-anchor="middle" fill="#333" stroke="#333" stroke-width="0.12" transform="translate(138.6 626.9) rotate(-90)">TGFβ-myCAF</text>
<text x="206.3" y="593.2" font-size="5.5" fill="#333" stroke="#333" stroke-width="0.12"><tspan font-style="italic">r</tspan> = 0.28</text>
<text x="206.3" y="599.9" font-size="5.5" fill="#333" stroke="#333" stroke-width="0.12"><tspan font-style="italic">P</tspan> &lt; 2.2e-16</text>
<path d="M83.8 691.3V757.5H167" stroke="#222" stroke-width="0.8" fill="none"/>
<text x="81.6" y="756.8" font-size="5.1" text-anchor="end" fill="#333" stroke="#333" stroke-width="0.12">0</text>
<text x="81.6" y="743.7" font-size="5.1" text-anchor="end" fill="#333" stroke="#333" stroke-width="0.12">1</text>
<text x="81.6" y="730.5" font-size="5.1" text-anchor="end" fill="#333" stroke="#333" stroke-width="0.12">2</text>
<text x="81.6" y="717.4" font-size="5.1" text-anchor="end" fill="#333" stroke="#333" stroke-width="0.12">3</text>
<text x="81.6" y="704.3" font-size="5.1" text-anchor="end" fill="#333" stroke="#333" stroke-width="0.12">4</text>
<text x="87" y="763.7" font-size="5.1" text-anchor="middle" fill="#333" stroke="#333" stroke-width="0.12">0</text>
<text x="103.9" y="763.7" font-size="5.1" text-anchor="middle" fill="#333" stroke="#333" stroke-width="0.12">1</text>
<text x="120.8" y="763.7" font-size="5.1" text-anchor="middle" fill="#333" stroke="#333" stroke-width="0.12">2</text>
<text x="137.6" y="763.7" font-size="5.1" text-anchor="middle" fill="#333" stroke="#333" stroke-width="0.12">3</text>
<text x="154.5" y="763.7" font-size="5.1" text-anchor="middle" fill="#333" stroke="#333" stroke-width="0.12">4</text>
<path d="M83.8 755h-1.4M83.8 741.9h-1.4M83.8 728.8h-1.4M83.8 715.6h-1.4M83.8 702.5h-1.4M87 757.5v1.4M103.9 757.5v1.4M120.8 757.5v1.4M137.6 757.5v1.4M154.5 757.5v1.4" stroke="#333" stroke-width="0.5"/>
<path d="M137.8 720.1h0M121.5 722.4h0M132.4 705.6h0M110.2 720.7h0M112.7 706.8h0M123 712.7h0M109.1 719.6h0M93 710.9h0M97.8 725.6h0M103.1 701.8h0M108.6 727.3h0M109.5 716.9h0M136.6 711.2h0M128.1 717.1h0M145.2 708.5h0M123.7 706.4h0M112.4 730.8h0M114.1 723.1h0M114.7 715.1h0M112.9 718.5h0M109.2 722.1h0M121 716.1h0M108 727.8h0M95.5 725.3h0M140.3 708.9h0M104.9 717.2h0M116.1 706.7h0M115.6 740.7h0M121.1 731h0M96.2 732.3h0M97.5 717.7h0M135.9 705.1h0M103.9 733.5h0M98 721.2h0M108.3 707.5h0M121 730.3h0M104.8 699.3h0M99.4 731.3h0M103.3 728.4h0M93.4 737.2h0M108.8 715.4h0M110.5 736.3h0M127 719.7h0M132.8 720h0M106.5 726.1h0M98.3 724.6h0M100 724.2h0M103.5 716.9h0M124.1 727.4h0M128.1 728.3h0M127.8 731.3h0M101.8 710.7h0M129.2 707.4h0M96.9 715.4h0M108.5 735.3h0M131 720h0M113.1 715.5h0M106.9 711.3h0M95.7 720.7h0M108.1 728.1h0M101.9 700.6h0M145.2 720.2h0M125.4 727.6h0M113.3 716.3h0M121.3 709.4h0M117.4 723.6h0M104.2 715.2h0M126.8 718.1h0M130.5 722.2h0M99 723.2h0M99.4 717.4h0M105.8 748.2h0M102.6 721.5h0M107.3 732h0M103 730.7h0M104.9 717h0M100.1 723.9h0M100.1 723.2h0M113.4 721.3h0M120.7 738.8h0M103.5 735.9h0M112.3 706.9h0M137.1 730.1h0M95.6 724.4h0M122.5 715.7h0M101.8 723.3h0M107.4 721.6h0M128.8 739h0M90.9 731.9h0M114.8 718.4h0M132.8 718.9h0M128.8 710.5h0M133 714h0M139.5 725.2h0M118.4 719.6h0M118.8 726.8h0M97.2 714.6h0M118.6 727.4h0M106.9 716.2h0M103.3 716.6h0M127.7 707.4h0M103 729.1h0M137 720.6h0M104.8 733.6h0M100.9 711.3h0M96.2 722.5h0M106.1 726.6h0M105.1 730.7h0M110.9 727.8h0M142.3 723.5h0M108.1 723.6h0M105.6 707.3h0M101.9 722.9h0M98.4 720.4h0M108.8 739.5h0M136.2 726.3h0M138.8 701.8h0M112.4 704.2h0M106.4 741.5h0M97.1 705.3h0M119.5 722.6h0M121.6 732.9h0M133.3 714.8h0M99.4 713.2h0M107.7 713.5h0M93.1 716.1h0M117.7 705.8h0M99.5 721.3h0M122.5 714.8h0M105.5 696.3h0M98.2 719.2h0M109.5 734.8h0M98.4 706.4h0M90.9 718.9h0M103.8 731.2h0M131.4 704.1h0M113.3 709.8h0M113 721.4h0M125.7 717.7h0M120.6 737.2h0M105.7 718.9h0M113 741.1h0M97.5 732.1h0M106.2 705.6h0M100.9 718.4h0M137.7 737.6h0M99.4 726.8h0M102 712.8h0M115.6 722.7h0M114.2 719.7h0M94 722.4h0M111.4 732.1h0M97.7 708.2h0M103.5 737.2h0M100.1 723.6h0M102.3 733.9h0M110.1 722.8h0M120.5 721h0M104.3 722.7h0M147 718.9h0M117.2 713.9h0M98.8 739.4h0M114.5 720.3h0M95.3 709h0M103.1 705.5h0M99.7 712h0M100.6 733.4h0M110.2 727.5h0M98.4 712.5h0M130 709.6h0M105 724.8h0M107.2 723.4h0M108.9 713.8h0M101.1 710.3h0M103.1 725h0M112.3 730.4h0M107.5 736.7h0M128 727.3h0M100.5 735.8h0M145.3 728.1h0M131.3 710h0M144.3 716.9h0M113.1 725.6h0M116.5 711.3h0M124 734.4h0M138 716.1h0M110.2 726.1h0M99.1 716.8h0M134.5 709.6h0M110.4 731.6h0M135 714.9h0M101.9 722h0M102.3 723.3h0M94.7 736.3h0M116.2 721.7h0M115.9 721.9h0M118.6 720.2h0M125.3 722.8h0M104.9 731.4h0M98 707h0M97 722.8h0M128.2 709.9h0M103.9 723.8h0M100.9 728.7h0M134.9 709.2h0M122.9 710h0M95.9 724.7h0M129.7 719.4h0M108 716.5h0M117 734h0M115.3 725.7h0M99.4 740.2h0M103.8 712h0M111.2 739.1h0M112.5 722.8h0M129.5 733.5h0M108.7 721.9h0M105.6 723.3h0M115.1 725.8h0M93.7 716.4h0M125.9 724.2h0M99.8 713h0M96.1 718.4h0M111.2 731.5h0M100.5 724.1h0M104 720.6h0M106.6 713.5h0M116.3 709.5h0M105.5 723h0M129.3 718.1h0M137.8 721.2h0M117 718.1h0M109.3 730.5h0M99.8 727h0M101.1 713.5h0M111.9 709.1h0M98.6 718.3h0M104.6 723.5h0M107.8 716.5h0M138.7 727.1h0M121.7 704.9h0M117.2 733.7h0M113.1 718.5h0M112.4 709.8h0M96.7 724.3h0M133.8 729.5h0M100.6 725.8h0M125.3 718.9h0M110.3 710.5h0M117.2 721.1h0M130.1 716.5h0M102.5 713.8h0M120.1 717.9h0M100.6 715h0M97.2 715.8h0M113.7 714.5h0M117.5 728.2h0M120.8 726.3h0M102.2 727.3h0M96.8 702.9h0M98.7 722.3h0M95.6 724.6h0M94 709.8h0M115.4 715.9h0M118.1 724h0M112.6 710.2h0M116.3 728.9h0M149.9 730.7h0M93.2 728.4h0M94.7 708.2h0M124.3 720.7h0M104.7 709.7h0M121 731.1h0M134.1 737.3h0M118.8 718.1h0M107.3 723.5h0M124.8 738.4h0M109.4 718.6h0M96.5 701.7h0M96.6 718.4h0M94.9 733.4h0M107.6 727.2h0M100 728h0M97.6 739h0M111.3 730.2h0M108.2 731h0M110.2 725.1h0M100.3 725.4h0M126 719.6h0M100.9 716.3h0M113.4 716.8h0M103.6 720.6h0M136.5 729.1h0M134.8 719.6h0M109.1 718.8h0M129 723.9h0M123.6 717.7h0M105.9 714.2h0M113 713.6h0M111.8 739.5h0M120.2 722.7h0M102.9 734.5h0M117.7 712.5h0M127.1 734.9h0M108.7 738.8h0M114.6 729.5h0M129.9 703.5h0M132.4 711.7h0M96.6 711.2h0M117.3 726.4h0M117.5 717.5h0M124 729.6h0M106.7 722.6h0M121.1 710.3h0M132.8 710.6h0M96.9 721.7h0M115.1 728.8h0M112.4 725.3h0M111.4 735.9h0M116.8 736.5h0M132.1 724.6h0M109.2 716.8h0M133.9 709.6h0M106.9 705h0M105.5 721.3h0M94.5 714.2h0M96.9 715.4h0M101.2 697.7h0M139 714.1h0M103.1 706.2h0M117.7 712.7h0M107.2 712.3h0M102.5 709.6h0M99.1 731.4h0M137.2 724.6h0M110.9 707.3h0M107.6 726.8h0M109.3 708.6h0M107.7 727.3h0M103.8 722.9h0M94.1 727.6h0M109 711.3h0M115.5 717.2h0M99.6 740.6h0M123.6 731.5h0M110 731.1h0M118.6 715.6h0M103 717.1h0M103.2 737.9h0M130.1 715.5h0M111.7 709.4h0M96.4 719.2h0M106.4 714.9h0M95.7 720.7h0M108 724.2h0M121.6 715.5h0M99.5 721.2h0M105.7 731.2h0M130.1 723.5h0M119.1 731.4h0M120.7 704.5h0M114.1 731.6h0M105 703.6h0M130.4 726.8h0M93.7 733.6h0M124.7 723.3h0M121.2 705h0M108 719.1h0M100 705.2h0M98.5 712.4h0M132.7 717.2h0M106.9 726.4h0M97.1 712.3h0M127 719.1h0M100.9 725.2h0M104 721.3h0M98.9 713.8h0M134.8 717.3h0M106.6 708.5h0M103.1 699h0M115.6 714.1h0M93.5 712.6h0M114.4 713.3h0M103.8 715h0M102.2 721.4h0M93.3 726.1h0M104.5 724.6h0M94.6 729h0M102.2 713.5h0M96.2 732.6h0M122.6 721.3h0M115 728.4h0M120.4 727.9h0M124.1 713.7h0M101.6 718.6h0M101.5 711.3h0M115.2 728.7h0M94.9 725.4h0M101 719.2h0M110.2 713.8h0M107.8 715h0M95 707.6h0M111.6 732.2h0M128.4 721.9h0M110.4 726.6h0M104.3 704.4h0M121.4 734.7h0M102.7 728.9h0M112.6 710.5h0M119.7 729.1h0M103.5 737.3h0M113.3 706.9h0M102.5 712.9h0M119.2 725.9h0M108.1 729.6h0M100.5 722.4h0M112 727.7h0M129.4 726.9h0M100.9 713.4h0M126.8 728.1h0M103.4 722.7h0M125.4 727.2h0M107.1 713.3h0M124.8 721.9h0M107.6 709.9h0M112.3 732.3h0M102.7 726.6h0M115.9 723h0M109.2 719.7h0M113.9 724.8h0M117.6 701.1h0M121.6 726h0M125.2 724h0M103.4 733.3h0M104.2 724.4h0M101.5 699.9h0M111.9 717.8h0M103 729h0M100.8 711.2h0M107.9 723.8h0M103 715.3h0M106.9 731.7h0M103.5 726.2h0M95.9 706.7h0M125.9 719.9h0M96.2 718.5h0M91.3 716.3h0M116.2 711.6h0M118.2 726.2h0M108.3 730.6h0M119.9 721.9h0M94.5 711.7h0M104.1 724.1h0M117.3 710.5h0M103.5 736h0M95.4 726.9h0M122.6 730.4h0M111.2 739.4h0M114.9 700.5h0M106.8 721.5h0M105.2 700.9h0M99.8 715.6h0M91.1 730.8h0M137.7 707.9h0M117.8 714.5h0M133.9 712.9h0M110.2 722.3h0M105.2 715.9h0M110.8 722.5h0M121 730.6h0M118.7 724.1h0M115 710.4h0M123.2 730h0M122.5 710.9h0M132 708.2h0M105 719h0M135.1 723.9h0M104.7 712.8h0M117.4 725.4h0M102.9 712.8h0M96.2 714.7h0M138.8 721.2h0M125.7 725.2h0M107.5 729.4h0M108.2 721.8h0M113.3 731.2h0M104 721.7h0M105.2 718.7h0M105.5 723.8h0M110.3 716h0M116 711h0M102.4 733.1h0M112.2 720.9h0M128.1 728.8h0M121.9 727.1h0M107.7 723h0M103.4 710.6h0M126.3 709.4h0M131.3 726.4h0M114.8 721.1h0M101.8 722.7h0M113.2 722.8h0M108.6 705h0M114 711.8h0M115 738h0M93.7 716.7h0M100.9 714.1h0M131.3 731.6h0M122.8 706.3h0M112.8 712.4h0M113.6 704.8h0M106 732.9h0M101.2 727.8h0M97.7 727.4h0M121.1 727.1h0M98.2 733.4h0M104.5 719.9h0M105.2 735.3h0M97.7 711.1h0M108.3 713.7h0M96.7 742.5h0M125 728.5h0M100.5 718.1h0M107.8 696.2h0M115.7 724h0M94.8 707.2h0M108.6 700.3h0M114.2 719.5h0M97.7 731.8h0M100.4 732.4h0M105.6 737.4h0M117 718.9h0M126.9 718.8h0M115.1 727.6h0M98.9 706.4h0M122.2 726.3h0M131.4 719.2h0M108.5 711.4h0M97.6 712.1h0M102.8 714.9h0M131.5 715.1h0M109.1 717.4h0M126.1 709h0M99.7 710.5h0M120.2 729.3h0M127.5 715.7h0M128.5 720.1h0M111.2 723.1h0M107 706.4h0M114.5 718.8h0M124.6 717.3h0M114.5 709.4h0M112.9 729.6h0M104.9 725.6h0M104.2 723.1h0M107.7 730h0M92.1 717.9h0M101.8 729.4h0M129.1 717.7h0M117.3 719.9h0M99.7 719.9h0M119.6 715.5h0M111.3 723.4h0M157 713.5h0M116.2 723.6h0M148.6 720.1h0M144.7 721h0M114.7 712.8h0M105.1 718.2h0M114.2 728.6h0M113.6 702.1h0M116.7 708.6h0M108.5 719.2h0M130.3 713.8h0M111 728.3h0M103.4 712.3h0M113.1 725.5h0M114.5 713.6h0M98.3 719h0M97.3 730.3h0M101.5 716h0M103.6 720.7h0M119.5 724.5h0M100.3 721.1h0M91 712.1h0M109.2 718h0M106 724.5h0M113.3 724.5h0M108.2 721.8h0M107.5 735.2h0M126.8 727.7h0M100.3 724.7h0M104.1 738.8h0M98.4 702.5h0M94.9 721.3h0M109.7 707.1h0M109 722.4h0M124.5 720.4h0M112.4 721h0M115.9 736.2h0M129.6 730.9h0M99.9 715.6h0M96.2 724h0M105.2 717.3h0M95.6 718h0M112.1 733h0M124.9 731.2h0M113.7 729.5h0M94.7 736.8h0M104.3 731.7h0M107.1 720.6h0M100.7 710.3h0M96.1 708.1h0M115.9 714.7h0M105.3 726.5h0M119.8 729.8h0M104.3 705.5h0M107.8 718.1h0M125.4 728.1h0M105.9 730.3h0M93.8 699.4h0M118.6 714.1h0M97.8 718h0M122.4 719h0M93.3 722.4h0M114.3 711.7h0M99.6 713.9h0M110.1 706.6h0M121.6 736.8h0M124.3 713.8h0M110 718.1h0M122.3 712h0M112.3 714.9h0M117.4 739h0M118.9 720.5h0M110.7 706.1h0M96.7 713.4h0M100.2 729h0M124.5 737.5h0M99 709h0M127 719.4h0M114.5 715.8h0M116.3 728.2h0M110.4 710.3h0M94.8 722.5h0M104.4 722.4h0M107.9 731.8h0M112.5 719.2h0M92.5 717.2h0M132.6 729.6h0M119.3 725.6h0M141.8 715.9h0M101.1 732.2h0M101.3 717.1h0M98.2 711.9h0M103.8 720.4h0M119.3 733.6h0M136.7 721.2h0M116.8 709.8h0M93.6 720h0M100.7 732.9h0M113.2 712.8h0M101.6 717h0M98.5 707.3h0M96.6 706.7h0M116.1 713.4h0M131 722.7h0M121.3 739.7h0M108.4 739.6h0M99.5 722h0M94.8 726.6h0M122 720.7h0M121.1 730.1h0M105.8 729.9h0M109.8 711h0M128.8 718.1h0M99.9 720h0M118.1 705.2h0M106.7 727.4h0M105.9 716.4h0M110.7 729.6h0M99.6 724.7h0M116.8 719.8h0M105.8 722.7h0M100.1 727.5h0M154.2 723.7h0M99.5 711.7h0M120.4 728.5h0M114 732.8h0M107.8 706.2h0M140.4 733.4h0M105.8 723.6h0M117.2 732.7h0M122.5 729.5h0M127.7 711.1h0M104 714h0M104.9 723.7h0M109.8 706.5h0M124.3 725.3h0M103.3 710.5h0M119.1 717h0M128.6 710.8h0M102 720.7h0M103.6 716.8h0M100.1 721.5h0M105.5 744.5h0M117.3 699.8h0M113.3 715.3h0M115.8 720h0M114.2 721.6h0M110.9 726.9h0M125.6 726.5h0M115.7 720.4h0M99.5 712.2h0M93.1 718h0M117.6 718.8h0M125.2 713.3h0M98.9 727.3h0M119.4 711.1h0M114.9 724.5h0M103.9 715h0M99.3 726.5h0M106.5 711.8h0M95 731.3h0M104 703.4h0M105.2 724.9h0M139.2 724.8h0M123.5 727.8h0M98 730.6h0M96.6 723.2h0M135.4 734.7h0M117 711.4h0M103.6 721.9h0M105.9 740.4h0M99 720.5h0M110 715.9h0M97.9 718.8h0M96.4 726.1h0M97.4 722.4h0M110.1 744.7h0M127.7 733.5h0M120.7 741.7h0M101.8 734h0M103.1 714.7h0M108.8 709.6h0M113.7 707.1h0M153.9 726.9h0M103.2 717.1h0M97.5 724.1h0M132.3 717.5h0M97.7 719.3h0M95.6 728.8h0M103.7 710.4h0M133.9 725.5h0M98.9 726.7h0M97.8 723.6h0M106.5 727.1h0M99.7 737.2h0M113.7 722.2h0M144.1 717.2h0M97.2 714.1h0M117.8 723.9h0M129.6 705.5h0M96.7 726.6h0M107.9 726.2h0M104 743.1h0M113.1 705.3h0M97.1 710.2h0M96.6 708.2h0M118.6 735.5h0M100.4 714.2h0M120 736.2h0M115.8 709.6h0M111.5 722.1h0M148.9 724.6h0M110.6 720.3h0M120 723h0M102.4 706h0M135.5 710h0M105.6 734.6h0M97.6 712.4h0M108.7 743.7h0M132.2 703.3h0M110.5 725.6h0M122.6 723.4h0M125.7 721.2h0M97 699.2h0M97.4 713.9h0M93.4 721.1h0M103.6 715.2h0M102.3 724.3h0M97.4 711.6h0M98.2 726.3h0M131.7 724.4h0M113.3 723.7h0M103.5 709.7h0M98.3 719.1h0M127.7 723h0M103.7 735h0M104.1 711.8h0M121.7 724.4h0M100.9 718.1h0M97.5 723.3h0M105.5 717.8h0M121.8 718.5h0M112.8 736.4h0M95.7 737.2h0M113 723.1h0M117.8 736.7h0M94.4 714.5h0M143.1 720.5h0M108.8 710.3h0M115.9 714.1h0M115.3 714.9h0M117.9 727h0M108.1 718.2h0M124.1 712.3h0M114.1 711.3h0M108.3 718.4h0M143.2 722h0M110.9 727.4h0M117.4 723.9h0M121.3 725.4h0M137.9 710.4h0M106.5 709.8h0M112.8 722.5h0M125.3 726.4h0M102.5 713.6h0M103.7 708.9h0M123.3 714.8h0M103.8 732.3h0M133.6 735.8h0M107.8 705.7h0M95.2 712.2h0M92.6 725.1h0M99.6 721.1h0M113.9 721.7h0M100.7 720.3h0M137.9 729.8h0M110 712.4h0M134.3 727h0M104.8 731.3h0M119.8 709.9h0M112.9 720h0M100.8 709.5h0M111.5 717.9h0M126.1 711.9h0M102.6 705.2h0M110.4 718h0M97.8 710.7h0M155.1 726h0M111.7 716.6h0M99 743.3h0M109 721.8h0M123.8 728.6h0M109 736.7h0M106.4 714.6h0M99.2 720.5h0M116.7 716.5h0M109.5 734h0M118.7 718.1h0M118.3 700.6h0M102.7 714.7h0M98.1 732.6h0M97.4 714.2h0M125 719.1h0M111.6 726.9h0M95.5 728.4h0M116.9 719h0M104 740.6h0M101.7 710.9h0M102.6 713.9h0M107 715.7h0M102.1 713.7h0M112.2 708.9h0M113.4 734h0M114.2 718.9h0M102.4 715.2h0M113.5 713.9h0M108.6 724.5h0M109.7 721.3h0M96.9 714h0M102.1 714.9h0M98.4 703.8h0M101.6 737h0M97.1 720.1h0M115.5 723h0M127.1 717.9h0M111.5 719.9h0M122.2 726.6h0M109.6 718.1h0M100.9 732.7h0M97.7 730.5h0M102.5 730.3h0M106.2 718.7h0M93.6 713.4h0M118.1 709.3h0M97.9 733.1h0M142 723.1h0M104.3 710h0M102.3 720.5h0M147.6 707.7h0M141.5 706.7h0M104.8 725.3h0M117.5 724.9h0M106.5 719.7h0M109.5 727.4h0M105.6 720.8h0M117.9 723.1h0M109.4 703.6h0M108 720.5h0M98.7 726.2h0M99.5 720.5h0M97.3 718.3h0M106.4 740.5h0M108.2 731h0M131.8 733.9h0M107.1 722.5h0M101.7 716.2h0M105.6 729h0M115.7 735.8h0M115.9 714.3h0M110.4 725h0M138.3 721.4h0M117.5 715.8h0M109.1 711.9h0M100.6 725.5h0M151 730h0M122.7 731.9h0M106.6 729.5h0M110 719.5h0M101.1 695.6h0M114.9 716.4h0M117.4 726.3h0M140.5 722.3h0M104.7 724.2h0M104.2 734.2h0M94.9 720.9h0M117.5 717.4h0M115.4 719.2h0M105.6 728h0M106.8 720.9h0M106.3 727.2h0M115.6 723.9h0M109.7 737.6h0M117.5 713.8h0M96.8 723.5h0M111.9 745.3h0M108.2 722.9h0M113.8 714.5h0M103.7 729h0M112.3 706h0M104 729.7h0M118.9 711.3h0M109.4 713.8h0M104 722.5h0M96.5 731h0M110.2 730.2h0M107.9 710.5h0M102.2 706.5h0M114.4 722.9h0M116.3 722.5h0M97.8 726.8h0M101.7 719.7h0M117.4 725.2h0M123.8 710.6h0M104.1 712.3h0M111.4 716.1h0M113 729.7h0M118.7 734h0M102.8 725.5h0M149.7 707.9h0M126.9 713.4h0M128.7 721.8h0M127 712h0M101.2 715h0M94.2 728.8h0M97.7 706.3h0M110.4 710.1h0M116.2 731.5h0M118.2 723.4h0M104.6 712.6h0M93.7 704.9h0M108.8 708.1h0M101 729.5h0M135.3 725.2h0M106.9 708.7h0M95.9 727h0M104.6 717.7h0M128.4 723.5h0M129.7 714.9h0M123.1 733.1h0M98.9 732.7h0M112.7 729.6h0M104.6 701.8h0M99.1 701.9h0M102.7 703.4h0M91.8 726h0M94.4 729.2h0M130.4 716.6h0M105.9 723.4h0M93.1 731.1h0M125.2 715.5h0M93.8 730.3h0M116 709.7h0M111.4 718.1h0M110.9 723.8h0M124.7 733h0M152.4 720.6h0M130.6 714.5h0M115.7 719.6h0M107.5 720.8h0M122.6 733h0M96.4 726.2h0M116.9 720.3h0M98.5 716.4h0M100.4 723.1h0M126 734.3h0M107.1 731h0M95.4 725.2h0M113.4 715.2h0M102.1 723.6h0M111.4 731h0M103.2 721.8h0M140.3 722.2h0M104.9 707.7h0M120.6 720.8h0M97 726h0M96.3 721h0M112.7 716.2h0M142.5 738.4h0M117.2 724.5h0M105.6 730.6h0M99.1 726.6h0M96.3 724.4h0M98.4 707.8h0M100.4 713.9h0M104.1 718h0M106.2 730.7h0M111.1 718h0M104.7 715.5h0M102 735.5h0M127.4 736.7h0M104.9 708.6h0M97.8 710.9h0M102.1 720.1h0M117.6 711.1h0M102.4 711.9h0M113.2 698.3h0M147.3 746.6h0M122 717.4h0M122.3 709.6h0M99.3 717.5h0M112.1 727h0M130 733.2h0M102 708.1h0M110.5 701.4h0M109.2 739.2h0M115.4 731h0M109.8 714.7h0M109.4 712.7h0M111.4 726h0M116.1 734.2h0M98.6 710.3h0M121.6 708h0M121.2 738.4h0M107.7 720.3h0M112.2 716.1h0M122.5 721.4h0M128.1 708h0M101.8 717.7h0M111.2 715.7h0M97.4 718.2h0M123.8 734h0M119.8 699.5h0M105.1 726h0M111 720.7h0M98.2 708.3h0M116.4 713.9h0M108.2 722.2h0M106 741.1h0M128.8 720.4h0M127.8 709.9h0M108.1 722.1h0M102.8 734.3h0M107.6 708.9h0M121.4 699.7h0M106.6 710.9h0M96 710.2h0M107.2 736.9h0M109.4 725.8h0M119.7 742.7h0M115.8 710.9h0M121.6 715h0M107.5 744.5h0M105.6 714.4h0M114.5 710.7h0M111.8 728.4h0M117.5 722.9h0M109 706.2h0M105.6 733.9h0M109.5 716.4h0M106.4 710.8h0M118.3 717.9h0M102.9 723.8h0M97 718.4h0M134.4 715.8h0M99.9 712.8h0M94.4 704.9h0M93.3 734.4h0M93.7 720.9h0M104.4 721.6h0M114.2 705.2h0M129.4 731.5h0M118.4 703.9h0M109.5 728.3h0M99.3 728h0M102.3 733.4h0M105.6 722.1h0M115.2 724.8h0M113.7 719.4h0M119.5 722.1h0M117.3 713.9h0M103.3 716.4h0M104.5 743.5h0M122.1 709.4h0M99.5 720.3h0M102.2 720.9h0M129.5 725.4h0M103.9 711.9h0M106.9 723.8h0M125.4 710h0M100.2 731.4h0M96.9 705h0M137.4 708.2h0M103.9 732.1h0M112.2 712.9h0M101.5 725.6h0M119.4 731.9h0M113.6 725.3h0M96.2 719.3h0M115 726.8h0M109.4 715.7h0M95.8 709.1h0M103.6 734.1h0M115.9 739.2h0M103.7 721.3h0M105.1 718.8h0M113.2 719.7h0M121.3 713.6h0M130.6 715.1h0M97.6 739h0M107.5 720.8h0M96.4 728.8h0M99.6 722.4h0M106.5 734h0M109.7 715.9h0M107.4 722h0M145.3 726.7h0M112 734.3h0M130.2 705.5h0M109.2 712.1h0M124.2 714.9h0M100.2 727.5h0M115.4 729.4h0M98.3 706.5h0M106.6 725.4h0M105.8 712.7h0M102 701.8h0M116.3 736.4h0M148.2 733.3h0M111.6 716.7h0M95.9 736.1h0M101.6 723.9h0M106.1 725.6h0M109.3 712.2h0M103.6 733.2h0M99.4 719h0M112 714.6h0M108.2 731.2h0M135.9 730.3h0M103.6 711.3h0M113.2 712.9h0M100.6 735.4h0M105.7 734.8h0M133.6 704.5h0M110.6 719.1h0M118.9 726.3h0M101.2 719.7h0M118.5 721.5h0M104.6 716h0M106.3 705.7h0M131.4 707h0M101.6 709.9h0M104.9 715.6h0M126.2 719.7h0M104.3 718.2h0M127.1 718.1h0M103.4 719.2h0M111 720.5h0" stroke="#111" stroke-width="1.25" stroke-linecap="round"/>
<path d="M89.2 755.5h0M110.4 755.5h0M114.9 755.5h0M102.1 755.5h0M110.4 755.5h0M110.4 755.5h0M95.1 755.5h0M101.3 755.5h0M98.9 755.5h0M112.6 755.5h0M104.8 755.5h0M91.1 755.5h0M116 755.5h0M88.8 755.5h0M107.2 755.5h0M101.2 755.5h0M116.6 755.5h0M104 755.5h0M112.9 755.5h0M103.2 755.5h0M100.7 755.5h0M116.3 755.5h0M115.5 755.5h0M88.5 755.5h0M102 755.5h0M99.3 755.5h0M98.1 755.5h0M96 755.5h0M102.7 755.5h0M94.9 755.5h0M104.5 755.5h0M109.8 755.5h0M96.5 755.5h0M106.3 755.5h0M97.4 755.5h0M110.3 755.5h0M114.3 755.5h0M93.5 755.5h0M105 755.5h0M101.8 755.5h0M109.9 755.5h0M102.1 755.5h0M106.9 755.5h0M90.7 755.5h0M104.5 755.5h0M114.7 755.5h0M105.8 755.5h0M107.1 755.5h0M106.7 755.5h0M93.8 755.5h0M116.9 755.5h0M117.4 755.5h0M100.9 755.5h0M117.4 755.5h0M109.5 755.5h0M88.3 755.5h0M92.7 755.5h0M95.3 755.5h0M90.9 755.5h0M88.7 755.5h0M104.7 755.5h0M89.2 755.5h0M101.3 755.5h0M115.3 755.5h0M102.7 755.5h0M107.8 755.5h0M94.2 755.5h0M104.4 755.5h0M97 755.5h0M94.5 755.5h0M110.3 755.5h0M88.1 755.5h0M117.3 755.5h0M105.6 755.5h0M108.5 755.5h0M110.6 755.5h0M93.4 755.5h0M88.1 755.5h0M98.1 755.5h0M99.9 755.5h0M102 755.5h0M116.6 755.5h0M98.1 755.5h0M88.6 755.5h0M94.1 755.5h0M87.9 755.5h0M101.4 755.5h0M99.4 755.5h0M98.8 755.5h0M100.7 755.5h0M118.9 755.5h0M115.9 755.5h0M104 755.5h0M111.7 755.5h0M97.4 755.5h0M105 755.5h0M112.1 755.5h0M103.8 755.5h0M104.3 755.5h0M114.9 755.5h0M97.4 755.5h0M92.5 755.5h0M111.6 755.5h0M113 755.5h0M97.7 755.5h0M108.5 755.5h0M100.7 755.5h0M117.4 755.5h0M101.2 755.5h0M115.6 755.5h0M103.8 755.5h0M92.7 755.5h0M102.6 755.5h0M113.8 755.5h0M87.9 755.5h0M107.7 755.5h0M100.1 755.5h0M104.8 755.5h0M117.5 755.5h0M99.5 755.5h0M107.8 755.5h0M98.3 755.5h0M112.6 755.5h0M110.7 755.5h0M116.6 755.5h0M112 755.5h0M119.5 755.5h0M115.5 755.5h0M88.2 755.5h0M107.6 755.5h0M113.6 755.5h0M115.4 755.5h0M108.7 755.5h0M115 755.5h0M92.4 755.5h0M92.5 755.5h0M110 755.5h0M115.5 755.5h0M98.2 755.5h0M97.8 755.5h0M101.5 755.5h0M96.6 755.5h0M92.2 755.5h0M110.1 755.5h0M109.1 755.5h0M94.1 755.5h0M90.6 755.5h0M100.2 755.5h0M93.9 755.5h0M119.6 755.5h0M103.4 755.5h0M100.9 755.5h0M94.9 755.5h0M88.5 755.5h0M112.9 755.5h0M96.6 755.5h0M91.5 755.5h0M116.8 755.5h0M99.7 755.5h0M106.3 755.5h0M97.1 755.5h0M97.1 755.5h0M114.9 755.5h0M118.2 755.5h0M91.9 755.5h0M108.4 755.5h0M93.9 755.5h0M115 755.5h0M100.3 755.5h0M94.5 755.5h0M101 755.5h0M95.8 755.5h0M115.4 755.5h0M91.2 755.5h0M104.5 755.5h0M103.3 755.5h0M94.9 755.5h0M96.7 755.5h0M105.5 755.5h0M106.3 755.5h0M92.9 755.5h0M119.1 755.5h0M117.1 755.5h0M108.3 755.5h0M113.8 755.5h0M114 755.5h0M95.3 755.5h0M95.7 755.5h0M113.3 755.5h0M104.9 755.5h0M118.9 755.5h0M93.7 755.5h0M104.2 755.5h0M115.9 755.5h0M101.4 755.5h0M105.7 755.5h0M107.3 755.5h0M89.1 755.5h0M94.6 755.5h0M107.7 755.5h0M109 755.5h0M100.1 755.5h0M118.9 755.5h0M101.1 755.5h0M117.7 755.5h0M100.6 755.5h0M116.6 755.5h0M110.7 755.5h0M118.9 755.5h0M97.2 755.5h0M108.2 755.5h0M96.9 755.5h0M89 755.5h0M117.8 755.5h0M119.7 755.5h0M106.1 755.5h0M91 755.5h0M119.4 755.5h0M90.8 755.5h0M89 755.5h0M93.5 755.5h0M96.1 755.5h0M117.6 755.5h0M118.4 755.5h0M115.6 755.5h0M114.3 755.5h0M96.5 755.5h0M105.9 755.5h0M100.3 755.5h0M90.5 755.5h0M115.1 755.5h0M101.1 755.5h0M97 755.5h0M93.5 755.5h0M112.7 755.5h0M106.3 755.5h0M96.4 755.5h0M103.1 755.5h0M93.8 755.5h0M113.2 755.5h0M89.7 755.5h0M93.2 755.5h0M96.2 755.5h0M99.9 755.5h0M111.7 755.5h0M98.4 755.5h0M101.4 755.5h0M90.6 755.5h0M95.9 755.5h0M103.6 755.5h0M101.5 755.5h0M92.5 755.5h0M118.6 755.5h0M96 755.5h0M97 755.5h0M118 755.5h0M112.5 755.5h0M107.6 755.5h0M99.5 755.5h0M89.6 755.5h0M112.4 755.5h0M116.2 755.5h0M151.8 755.5h0M154.8 755.5h0M153.3 755.5h0M155.9 755.5h0M152.6 755.5h0M160.6 755.5h0M155.2 755.5h0M126.8 755.5h0M153.6 755.5h0M135.6 755.5h0M159.5 755.5h0M134 755.5h0M127.7 755.5h0M159.7 755.5h0" stroke="#111" stroke-width="1.45" stroke-linecap="round"/>
<path d="M87 729.5L167.5 721.3" stroke="#6a8ab5" stroke-width="0.85"/>
<text x="83" y="687.4" font-size="6.9" fill="#38abdc" stroke="#38abdc" stroke-width="0.12" textLength="46" lengthAdjust="spacingAndGlyphs">wound-myCAF</text>
<text x="125.4" y="771.4" font-size="5.9" text-anchor="middle" fill="#333" stroke="#333" stroke-width="0.12">FOXP3</text>
<text x="0" y="0" font-size="6" text-anchor="middle" fill="#333" stroke="#333" stroke-width="0.12" transform="translate(72.4 723.8) rotate(-90)">wound-myCAF</text>
<text x="140" y="690.7" font-size="5.5" fill="#333" stroke="#333" stroke-width="0.12"><tspan font-style="italic">r</tspan> = 0.09</text>
<text x="140" y="697.4" font-size="5.5" fill="#333" stroke="#333" stroke-width="0.12"><tspan font-style="italic">P</tspan> = 0.0009</text>
<path d="M299.5 496V564H381" stroke="#222" stroke-width="0.8" fill="none"/>
<text x="297.3" y="562.3" font-size="5.1" text-anchor="end" fill="#333" stroke="#333" stroke-width="0.12">0</text>
<text x="297.3" y="549.2" font-size="5.1" text-anchor="end" fill="#333" stroke="#333" stroke-width="0.12">1</text>
<text x="297.3" y="536" font-size="5.1" text-anchor="end" fill="#333" stroke="#333" stroke-width="0.12">2</text>
<text x="297.3" y="522.9" font-size="5.1" text-anchor="end" fill="#333" stroke="#333" stroke-width="0.12">3</text>
<text x="297.3" y="509.8" font-size="5.1" text-anchor="end" fill="#333" stroke="#333" stroke-width="0.12">4</text>
<text x="302.5" y="570.2" font-size="5.1" text-anchor="middle" fill="#333" stroke="#333" stroke-width="0.12">0</text>
<text x="328.3" y="570.2" font-size="5.1" text-anchor="middle" fill="#333" stroke="#333" stroke-width="0.12">2</text>
<text x="354.2" y="570.2" font-size="5.1" text-anchor="middle" fill="#333" stroke="#333" stroke-width="0.12">4</text>
<text x="380" y="570.2" font-size="5.1" text-anchor="middle" fill="#333" stroke="#333" stroke-width="0.12">6</text>
<path d="M299.5 560.5h-1.4M299.5 547.4h-1.4M299.5 534.2h-1.4M299.5 521.1h-1.4M299.5 508h-1.4M302.5 564v1.4M328.3 564v1.4M354.2 564v1.4M380 564v1.4" stroke="#333" stroke-width="0.5"/>
<path d="M304.6 553.5h0M331 555.5h0M317.9 553.4h0M314 555.8h0M310.3 552.7h0M321.1 555.8h0M312.6 549h0M317.3 551.5h0M313.3 556.2h0M310.8 552h0M312 549.7h0M313.2 548.5h0M312.9 536.4h0M312.6 554.2h0M311.3 556.9h0M324.4 558.9h0M330.3 558.1h0M305.3 558.3h0M322.6 556.2h0M310.3 553.2h0M315.1 552.5h0M307.8 556.5h0M316.4 555h0M307.8 552.2h0M307.9 550.2h0M307.9 554.5h0M325.5 546.2h0M309.2 556.1h0M307.8 557h0M307.1 549.9h0M320.2 546.6h0M319.9 549.5h0M326.3 555.6h0M317.7 555.6h0M309.4 553.2h0M313.6 550.5h0M317.7 549.3h0M307.6 557.6h0M314 552.8h0M327.1 558.7h0M310.5 556.1h0M324.5 552h0M310.9 557.3h0M311.6 556.3h0M320.5 558.3h0M322 555.4h0M315.3 552.9h0M311.7 554.9h0M312.8 557.4h0M310.8 557.7h0M314.6 555h0M313.3 557.3h0M332.2 557.9h0M319.1 557h0M326.5 558h0M319.5 551.2h0M312.5 555.3h0M306.4 550.5h0M307.7 556.5h0M312.2 552.8h0M315.5 551.8h0M319.3 556.6h0M326.6 554.2h0M309.9 555.6h0M313.3 556h0M306.5 555.6h0M310.2 554.3h0M312.5 558.7h0M305.3 558h0M306.7 556.9h0M306.9 553.8h0M315.2 555h0M309.3 556.8h0M308.6 547.3h0M309.1 557.1h0M307.7 555.8h0M314.4 557.1h0M310 556.7h0M311.2 555.4h0M311.4 550.9h0M304.3 554.3h0M311.3 556.1h0M306.1 557.2h0M311.6 552.8h0M313.1 557.6h0M306.7 556.9h0M316.1 557.5h0M317.4 556.5h0M316.5 556.4h0M312.9 557.8h0M312.2 559.2h0M318.1 544.7h0M312.6 551.8h0M304.6 556.5h0M332.6 556.5h0M304.5 557h0M309.5 555.7h0M305.6 555.1h0M311.4 554h0M319.5 557.6h0M304.7 551.1h0M308.1 553.2h0M314.5 558.2h0M311.5 556.3h0M306.7 557.7h0M321.6 546.5h0M305.6 556.7h0M307.8 557h0M306.5 556.1h0M312.6 556.2h0M311.5 557.7h0M307.1 555.1h0M316.4 553.2h0M314.7 558.8h0M306.2 556.4h0M318.4 553.1h0M326 553.7h0M316.8 557.4h0M316.6 557.7h0M313.3 556.9h0M312.3 555.7h0M311.4 556.2h0M322.2 556.1h0M311.6 550.4h0M308.1 559.1h0M312.6 556.6h0M311.2 555.2h0M313.6 556h0M306.1 557.4h0M311.5 557.7h0M317.6 555.7h0M309.4 550.4h0M314.2 554.1h0M307.3 555.6h0M308.6 547.9h0M313.1 556.9h0M329.7 557.8h0M312.7 549.2h0M312.6 558h0M309.6 558.3h0M322.1 549.4h0M312.8 555.6h0M334 558.3h0M304.5 558.2h0M308.9 554.9h0M312.2 559h0M306.2 555.1h0M313.7 553.4h0M317.2 553.8h0M307.5 553h0M305.6 556.5h0M318.3 557.9h0M321.7 553.3h0M314.1 553.3h0M316.1 555.2h0M307 556.8h0M304.8 556.2h0M333.1 554.9h0M325.2 552.6h0M316.7 556.9h0M319.7 556.2h0M309 557.4h0M320.5 557h0M310.7 558.3h0M313.9 557h0M311.8 554.3h0M319.1 556.9h0M326 558.3h0M308.4 559.1h0M321.6 558.4h0M310.6 557.2h0M310.2 550.3h0M321.1 557.4h0M315.9 548.8h0M333.8 557.7h0M305.9 554.6h0M311 557.5h0M309.5 555.3h0M309.8 554.1h0M310.6 558h0M313.3 557.7h0M312.2 553.8h0M306.4 554.6h0M322.3 556.2h0M312.4 558.4h0M312.4 551.1h0M310.5 555.8h0M307.3 556.2h0M309.5 554.4h0M313.2 556.3h0M311.2 553.3h0M329.1 557.1h0M309.4 547.3h0M325.1 552.1h0M307 557.7h0M316.7 557.9h0M322.6 548.7h0M327.6 556h0M315.6 557h0M309.9 554.6h0M310.5 553.9h0M306.5 558.6h0M314.7 547.8h0M323.5 554.7h0M306.2 557.2h0M313 554.7h0M306.1 556.4h0M317.3 558.3h0M322.1 552.9h0M323.1 554.3h0M305.8 552.6h0M308.7 557.6h0M315.9 555.3h0M306.7 558.3h0M323.8 553.6h0M311.4 554.6h0M312 554.8h0M307.9 555.1h0M313.4 558.5h0M312.7 555.5h0M305.5 551.8h0M314.7 552.8h0M309.4 556.7h0M306.9 551h0M316.6 555.3h0M308.9 550.4h0M311.6 553.1h0M307.4 549h0M321.8 556.9h0M315.6 556.6h0M315.4 557.8h0M305.6 554.4h0M315.7 554h0M319 554.7h0M307 557.1h0M308 547.3h0M307.1 555h0M315.5 558.2h0M309.8 551.2h0M313.9 558.9h0M310.4 555.2h0M310.4 555.2h0M313.5 551.4h0M309.3 550.6h0M313 548.4h0M307.9 556.5h0M311 557.1h0M313.7 552.1h0M311.4 557h0M309.1 555h0M316.5 555.5h0M313 556.6h0M308.5 556.9h0M321.2 557h0M309.1 558.4h0M311.7 554.2h0M305.8 549.9h0M318.1 555.9h0M327 554.1h0M312.9 556.6h0M319.8 555.1h0M312.1 557.3h0M321.8 557.9h0M316.9 556.5h0M315.2 552.4h0M318 554.4h0M307.9 558.3h0M314.3 553.1h0M315 557.5h0M323.4 555.1h0M307.4 550.7h0M304 552.7h0M318.7 557.1h0M313.6 557.9h0M308.3 557.4h0M324 550.9h0M307.9 551.5h0M317.9 554.9h0M324 556.5h0M309.8 556.8h0M321.3 554.1h0M306.5 548.7h0M311.1 553.3h0M308.9 552.8h0M316.8 558.7h0M320.7 557.9h0M308.8 558.4h0M312.4 552.3h0M311.2 554.6h0M319.7 555.8h0M319.9 551.9h0M312.4 557.5h0M313.5 558.3h0M312.2 555.9h0M320.2 548.1h0M307.2 549h0M308.8 551.5h0M308 552.8h0M331.8 554.4h0M312.6 559h0M319.2 555.8h0M310.1 558.3h0M310.3 558.1h0M308.9 553.3h0M311.6 548.5h0M317.2 553h0M312.6 556.8h0M313.2 549.2h0M310.5 551.6h0M320.2 556.3h0M316.4 557.2h0M307.5 554.3h0M311.8 549h0M321.5 553.9h0M309.9 558.6h0M308.3 552.1h0M311.5 548.3h0M311.3 556.4h0M306.9 556.2h0M309.2 549.6h0M315.9 556.6h0M324.5 555h0M306 556.7h0M340.2 558.8h0M315 547.9h0M310.5 545.9h0M314 552.4h0M313.8 557.5h0M317.8 554.6h0M315.6 553.4h0M315.5 552h0M307.7 552.3h0M306.5 554.4h0M309 556.4h0M317.6 556.9h0M311 549.7h0M308.4 553.4h0M326.1 548.9h0M311 554.7h0M311.8 556.6h0M308.4 553.4h0M312.4 553.9h0M325.6 554.2h0M319.2 554.6h0M307.1 554h0M308.8 555.1h0M306.9 554.1h0M321.3 552.3h0M311.9 549.7h0M343 555.7h0M325.2 537.9h0M332.3 550.7h0M311.2 548.7h0M338.6 552.1h0M310.8 550h0M337.6 534.5h0M335.5 547.6h0M336 518.1h0M325.1 536.6h0M319 519.1h0M335.8 541.8h0M335.3 541.2h0M349.5 541.1h0M369.3 541h0M323.2 538.1h0M318.3 538.5h0M332.1 538.4h0M345.6 553.4h0M331.9 554.1h0M322.9 552.1h0M325.6 548.6h0M351.8 542.4h0M339.9 543.8h0M316.1 545.2h0M318.4 537.6h0M316.7 545.5h0M338.3 537.6h0M321.8 545.6h0M308.5 547.9h0M325.8 552.9h0M312.8 553.4h0M330.3 547.6h0M337.9 556.2h0M328.5 552.8h0M322 528.3h0M334.8 556.2h0M316.1 548.8h0M356.3 542.6h0M347.5 553.3h0M358.4 548.1h0M331.2 548.8h0M340.1 552.5h0M320.3 545.8h0M313 530h0M319.9 548.5h0M331.7 542.9h0M361.2 551.7h0M319.6 551.3h0M323.2 545.5h0M321.3 554.4h0M324.6 551.5h0M318.4 554.4h0M334.6 544.7h0M326.5 552.8h0M310.7 553.9h0M306.8 555.1h0M341.7 556h0M312.5 554.5h0M328.7 543.6h0M324 547.9h0M327.2 555.1h0M326.4 543.1h0M336.8 549h0M314.2 548.2h0M332 547.7h0M343.3 533h0M325.9 556.2h0M318.8 528.8h0M324.2 546.7h0M316.7 544.6h0M312.3 553h0M318.2 547.5h0M311.8 549.2h0M330.9 547.8h0M317.1 534.6h0M329.9 542.4h0M309.7 549.1h0M354.8 552.8h0M333.2 551.5h0M340.2 537.5h0M328.2 541.4h0M323.9 551.6h0M327.3 530.8h0M318.6 546.9h0M317.5 513.6h0M341.7 545.8h0M326.9 540.1h0M319.1 543.2h0M314.7 554.9h0M329.9 549.8h0M310.9 541.9h0M330.1 553.3h0M319.6 538.5h0M359.4 536.3h0M343.4 555.2h0M318 548.1h0M308.4 554.2h0M308.5 548.7h0M320.8 546.9h0M335.4 541.6h0M324.9 549.5h0M331 522.5h0M338.7 551.2h0M317.1 553.1h0M314.2 551.4h0M316.7 526.3h0M330.8 547.2h0M366.6 544.3h0M356.6 554.3h0M319.2 537.8h0M322.2 550.2h0M321 549.9h0M327.7 545.8h0M315.7 545.3h0M324.5 553.5h0M349.6 548.1h0M333.7 545.8h0M349.5 556.1h0M325 540.9h0M314.7 546.6h0M359.3 543.8h0M317.4 554.5h0M307.8 543.5h0M334.9 549.1h0M320.2 549.3h0M314.2 549.2h0M332.9 531.9h0M337.7 542.2h0M337 547.9h0M311.9 545.4h0M340.5 551.6h0M312.8 548.7h0M345.6 550.5h0M323.2 555.8h0M315.7 526.5h0M338.5 553h0M318.9 543.9h0M331 554.4h0M331.3 535.9h0M314.9 528.2h0M331.4 549.5h0M320 532.4h0M357.3 549.2h0M352.8 553.9h0M316.2 542h0M321.3 552.6h0M331.8 555.4h0M310.8 551h0M324.9 551.3h0M320 536.3h0M320.1 556.1h0M349.1 542.6h0M314.4 537h0M322 551.4h0M341.3 548h0M321.4 549.3h0M331.9 553.9h0M324.3 545h0M335.9 548.6h0M336.1 553.8h0M323.6 541h0M370.6 537h0M333 549.9h0M355.1 555.4h0M325.8 543.4h0M340 537.5h0M331.7 552.3h0M317.8 551.1h0M336.8 548.7h0M341.6 553.5h0M333.6 546h0M323.8 543h0M337.9 542.2h0M328.5 554.7h0M328.3 541h0M333.4 548.3h0M308.4 545.9h0M336 555.5h0M325.5 549.2h0M334.6 547.8h0M325.5 528.9h0M314.3 538.9h0M325.9 551.5h0M323.7 552.5h0M327.7 547.1h0M320.9 547.3h0M329.6 552.1h0M311.8 533.1h0M320.6 554.7h0M326 544.6h0M334.4 550.9h0M319.6 554.3h0M334.2 544.6h0M314.7 549h0M323.8 547.6h0M349.7 537.9h0M322.1 553.1h0M335 552.4h0M321.2 549.1h0M335.2 545.9h0M325.1 555.7h0M327.3 556.1h0M320.6 543.7h0M355 556.1h0M345.5 544.3h0M354.5 550.3h0M308.4 553.9h0M323.6 535h0M334.9 546h0M314.8 548h0M322.5 534.5h0M329.3 551.2h0M324.1 553.5h0M341.5 550.4h0M314.7 554h0M324.6 541.7h0M338.2 543.5h0M334.1 535.2h0M326.8 516.1h0M318.6 536.7h0M328.8 551.2h0M342.5 539.1h0M340.9 543.7h0M312.5 552.4h0M332.4 555.2h0M326.3 554.4h0M311.1 534.2h0M332.2 552.3h0M308.7 545h0M334 543.8h0M332.3 533.6h0M313.5 547h0M341.6 546h0M313 547h0M313.4 551h0M313.7 547.3h0M338.1 542.1h0M332 544h0M339.1 548.4h0M326 524h0M341.4 546.5h0M320.3 525.1h0M321.3 549.3h0M312.7 548.7h0M311 552.7h0M316.7 548.3h0M319 537.2h0M324.5 545h0M311.9 552.3h0M320.2 554.1h0M345.5 548h0M327 551.8h0M319.4 537.4h0M327.4 552.8h0M313.1 549.6h0M324 545.1h0M321.2 552.4h0M323.4 555.7h0M313.5 540h0M331.1 539.1h0M312.4 548.3h0M366.1 547h0M317.3 547.9h0M319.4 552h0M313.4 528.3h0M321.5 546.9h0M339.8 551.4h0M361.7 548.7h0M323.5 555.2h0M351.4 555.4h0M344.2 541.8h0M326 534.7h0M310.7 549.5h0M334.3 548.8h0M333.9 554.3h0M319.8 552.3h0M340.3 552.4h0M321.3 526.1h0M318.8 550.2h0M318.1 541.4h0M326.2 547.5h0M328.8 541.3h0M316.6 522.1h0M377.9 547.9h0M328.8 544.2h0M328.5 541h0M336.2 543.2h0M340.8 517h0M312.6 534.3h0M336.5 554h0M334.6 551.8h0M345.5 531.9h0M343.3 550.9h0M328.4 544.1h0M317.6 550.6h0M351.7 546h0M307.4 551.9h0M334.1 539.5h0M363.6 551h0M340.1 550.4h0M328.4 502.1h0M339.6 554.6h0M346.7 540h0M357.7 546.4h0M318.3 521.7h0M324.2 545.5h0M312 545.8h0M323.8 543.8h0M305.6 552.7h0M339.5 552.7h0M318.6 550.5h0M307.7 545.7h0M339.3 540.7h0M336.8 550.8h0M322.3 542.2h0M328.8 533h0M340.9 548.4h0M318.7 550.9h0M313.5 551.6h0M346.6 552.1h0M309.5 536.2h0M316.9 537.2h0M357.4 541.7h0M336.2 551.5h0M320.3 546.5h0M315.6 554.6h0M314.7 547.5h0M323.1 548.6h0M323.1 547h0M317.8 551.7h0M320.4 516.2h0M335.5 554.4h0M335.4 555h0M322 551.6h0M322.3 550.8h0M327.7 550.8h0M332.9 551.7h0M316 551.8h0M306.1 530.2h0M331.7 513.9h0M347.5 552.3h0M312.6 554.9h0M308.5 545.6h0M331.7 546.1h0M324.5 551.8h0M312.4 546.5h0M318.2 552.7h0M336.8 529.3h0M336.9 550.6h0M309.6 541.4h0M309.2 545.6h0M340.2 546h0M350.1 536.4h0M324.4 540.3h0M322.4 547.1h0M325.9 545.1h0M340.5 535.9h0M331 554.2h0M358.5 550.1h0M323.8 551.8h0M312 554.4h0M327.2 556.1h0M340.9 554.1h0M357.6 555.1h0M325.7 542.1h0M310.6 548.4h0M350.6 550.8h0M319.5 539.6h0M346.8 555.7h0M320.2 545.5h0M335.4 552.4h0M329.6 555.4h0M321.7 552.9h0M337.3 544h0M337.6 555h0M309.3 545.1h0M331.9 542.1h0M324.1 542h0M313.1 548.7h0M357.7 552h0M324.6 552.7h0M319.3 547h0M343.4 549.4h0M378.6 530.7h0M318.3 554.4h0M310.5 554.5h0M322.7 523.5h0M318.2 545.9h0M319.7 546.5h0M337.4 553.7h0M332.3 546.8h0M355.5 543.8h0M348.8 552.1h0M321.6 537h0M325.1 520.7h0M313.2 528.3h0M322.7 533.3h0M334.4 548.2h0M316.8 546.2h0M357 545.3h0M336.4 553.7h0M333 550.6h0M315.3 553.4h0M324.6 533.5h0M333.5 551h0M331.2 554.5h0M319.7 554.5h0M311.8 546.8h0M330.6 554.4h0M326.2 553.3h0M318.2 534.6h0M324.2 545.1h0M321.8 555.1h0M325.1 555.1h0M361.8 542.1h0M340.8 536.9h0M322 537.1h0M320.9 542.6h0M312.3 548.6h0M360.2 543.8h0M315.9 534.3h0M326.4 552.1h0M317.9 548.8h0M326.2 543.9h0M330.3 518.2h0M313.8 546.2h0M345.5 544.6h0M341.7 532.5h0M341.6 555h0M328.5 534.9h0M338.4 552.2h0M338.6 540.1h0M315.1 545.1h0M347.3 539.9h0M321.1 545h0M329.7 550.1h0M313.1 535.9h0M317.2 541.7h0M327 550.7h0M315.4 554.7h0M326 551.1h0M317.9 540.3h0M336.1 550.4h0M332.7 552h0M315.1 550.5h0M323.8 505.2h0M310.3 553.6h0M332.6 549.1h0M342.7 553.8h0M316.4 554.7h0M313.3 555.5h0M313.8 528.8h0M332.1 539.5h0M349.3 550.8h0M317 552.3h0M340.3 553.2h0M321.6 553.7h0M319.4 551.4h0M335.2 554.3h0M334.8 533.8h0M318.1 544.9h0M316 543h0M364.9 551h0M342.4 549.1h0M339.7 549.5h0M343.5 554.9h0M351.4 550.8h0M317.4 545.8h0M315.6 554.1h0M330 554.3h0M332.7 517.7h0M331.1 537.5h0M320.7 521.9h0M318.8 535.9h0M333.5 519.3h0M335 541.9h0M324.3 537.3h0M333.4 535h0M333.5 533.5h0M328.8 539.9h0M322.2 510.3h0M324.4 523.3h0M319.5 540.5h0M312.3 538.7h0M312 509.7h0M329.3 525.9h0M323 508.2h0M326.2 523.7h0M340 537.7h0M329.2 516.5h0M335 540.4h0M338 532.8h0M319.5 498.8h0M334 513.9h0M331.5 534.9h0M320.3 543.2h0M334.2 540.3h0M319.6 520.5h0M322.4 516.8h0M334.1 539.7h0M324.3 538.2h0M325.2 524.7h0M335.3 535.7h0M332.7 510.9h0M324.4 536.2h0M333.1 528.5h0M326.7 525.5h0M330.9 533.6h0M330.7 516.8h0M330.2 535.6h0M333.7 539.9h0M338.5 541.7h0M327.3 532.9h0M340 537.6h0M332.6 507.1h0M324.3 525.1h0M326.9 528.9h0M334.8 537h0M334.7 536h0M341.6 529.6h0M326.3 521.7h0M325.3 532.8h0M318.3 530h0M320.1 541.8h0M322.3 513.4h0M332.2 535.1h0M322.7 531.6h0M332.1 505.2h0M323.4 531.5h0M324.5 521.4h0M336.5 533.6h0M332.8 528.4h0M325.9 537.9h0M336.9 527h0M320.3 543.4h0M329.1 530.5h0M319 532.5h0M334.6 515.5h0M331.6 521.1h0M325.3 514.4h0M336.6 534h0M328.3 529.4h0M322 538.2h0M336.7 541.3h0M338.3 538.2h0M335.4 541.7h0M332.7 507.8h0M328.8 512.6h0M326.1 539h0M321.6 535.7h0M332.4 526.3h0M326.8 524.5h0M331.9 517h0M327.9 535.3h0M334.1 539.5h0M328.8 535.9h0M347 533.4h0M337.2 500.2h0M325.8 530.9h0M328.6 541.6h0M337.2 513.8h0M344 526.3h0M317.9 520.8h0M327.2 538.3h0M315.5 531.5h0M330 541.2h0M326.2 534.9h0M329.3 519.6h0M334.8 517h0M319.3 540.7h0M323.4 539.5h0M329.5 535.3h0M324 525.4h0M324 524.5h0M318.4 527.5h0M313.9 525.8h0M326.8 528.3h0M339.3 514.3h0M339.6 539.9h0M345.8 519.4h0M334.8 537.2h0M326.3 505.1h0M316.3 524.6h0M330.3 533.1h0M323.5 504h0M324.6 529.1h0M318.1 535.3h0M319.2 540.2h0M333.4 534.5h0M323.7 542.4h0M326 534.2h0M330.7 507.5h0M336.1 532.4h0M319.7 525.4h0M341 542.1h0M327.1 514h0M324.9 508.7h0M330.5 510.7h0M314.8 526.3h0M324.1 523.7h0M328.1 522h0M324.7 538.7h0M330.8 538.5h0M328 514.8h0M323.9 532.9h0M323.3 530.2h0M326.1 530.9h0M322.7 515.3h0M336.1 530.5h0M332.1 499.2h0M319.8 540.6h0M324.5 518.8h0M319.2 536.9h0M331.3 534.8h0M331.2 529h0M326.5 540.7h0M327.8 532.8h0M330.6 513h0M328.6 508.3h0M337.1 535.9h0M327.2 541.8h0M334.6 525.6h0M341 521.8h0M318.9 536.4h0M321.8 530.1h0M318 537.8h0M323.8 541.5h0M327 503.3h0M315.6 539h0M327.1 540.2h0M325 541.5h0M335.2 535.6h0M320.3 541.3h0M337.6 531.2h0M331.1 534.5h0M318.6 534h0M320.4 540.3h0M315.6 540.1h0M338.2 535.9h0M330.5 518.2h0M330.6 521.9h0M338.7 519.4h0M325.3 531.7h0M331.2 531h0M320.5 540.1h0M337.6 538.7h0M324.8 529.7h0M318.7 526.1h0M323.7 521.9h0M311.6 540.7h0M320 542.6h0M325.8 531.8h0M323.9 524h0M326.4 534.7h0M324.6 523.2h0M320.3 533.6h0M334.2 537.1h0M317.3 532.9h0M321.1 538h0M322.6 518.1h0M331 536.9h0M328.3 522h0M322.9 536.4h0M323.5 531h0M334.8 530.4h0M337.3 529.8h0M326.8 529.8h0M321.6 518.2h0M329.4 525.5h0M339.3 540.4h0M323.1 538.3h0M330 513h0M320 518.3h0M326.8 521.9h0M333 508.9h0M329.6 542.8h0M321.4 542.8h0M325 540.2h0M331 539h0M319.3 503.3h0M326.3 538.4h0M335.1 542.4h0M335.7 533.9h0M329.8 529.6h0M336.3 527.3h0M330.9 515h0M332.1 542.5h0M340.5 538h0M321.6 537.7h0M333.1 527.4h0M314.4 508.3h0M322.1 543.1h0M327.7 523h0M327.9 537.6h0M337.3 533.1h0M328.7 532.5h0M339.5 536.8h0M322.4 513.4h0M323.6 520.5h0M312.1 533.9h0M324.4 529h0M328.2 535.2h0M323 533.6h0M322.2 515h0M322.4 499.8h0M320.4 541.7h0M323.6 535.3h0M316.4 535h0M328.4 536.2h0M313.8 527.8h0M324.9 504.5h0M329.9 515h0M324.7 528.1h0M316.6 536.5h0M325.1 523.9h0M316.7 537h0M329.6 532h0M338.5 537.2h0M329.3 538.5h0M319.9 518.9h0M331 535.5h0M336.2 520.6h0M319.6 528.3h0M332.5 532.1h0M324.2 510.9h0M329.9 512.5h0M320.5 531.4h0M317.5 525.5h0M344 526.4h0M338.7 520.1h0M337.5 528.7h0M330.4 503.7h0M329.3 533h0M331.5 503.7h0M325.1 534.3h0M326.8 534.2h0M330.9 520.7h0M331.1 529.2h0M325.9 527.5h0M324.1 535.9h0M338.3 529.5h0M325.3 517.5h0M322.1 534h0M328.1 537.7h0M323.9 532.2h0M314.8 535.4h0M318 537.7h0M308.4 538.8h0M315 542.2h0M334.7 522.2h0M325.1 539.2h0M304.6 528.9h0M321.9 533.6h0M336 527h0M316 520.3h0M328.2 539.5h0M328.4 532.2h0M325.2 518h0M336 542.6h0M332.3 517.2h0M330.7 542.2h0M339.8 520.7h0M324.4 528.9h0M326.7 536.3h0M334.1 535.6h0M327 529.2h0M331 512.1h0M332.3 535.6h0M318.2 512.4h0M331.8 536.6h0M348.7 527.7h0M370.5 532.6h0M334.4 530.5h0M340 550.9h0M355.6 550.5h0M361.4 535.1h0M348.5 531.1h0M337.5 530.4h0M353.2 537.9h0M334.3 538.1h0M335.6 542.8h0M360.7 550.6h0M364 539.3h0M357.7 541.1h0M349 527.9h0M344.3 527.9h0M341.3 538.7h0M355.1 529.4h0M357.2 534.9h0M332.1 541.6h0M362.5 548.2h0M351.8 554h0M353.4 546.3h0M340 544.2h0M350.9 546.6h0M340 530.2h0M353.1 529.7h0M353.4 540.7h0M360 539.2h0M341.9 547.9h0M346.7 547.3h0M373.2 529.6h0M349.2 537.9h0M349.6 534.9h0M367.8 535.4h0M333.8 552.7h0M349.5 555.2h0M359.9 546.3h0M346 552.5h0M355.1 541.4h0M344.2 537.5h0M377.6 533.9h0M335.3 533.5h0M352.8 537.8h0M358.6 547.3h0M350.4 538.2h0M342.3 546.6h0M332.7 530.1h0M367 547.1h0M337.7 537.4h0M331.6 539.2h0M336.5 550.4h0M376 533.7h0M362.1 534.9h0M362.7 530.3h0M349.6 538.6h0M346.6 535.6h0M365.4 548.2h0M341 546.6h0M343.9 551.1h0M337.6 551.4h0M339.3 529.4h0M345.3 534.8h0M334.7 542.4h0M333.7 554.1h0M331.4 554.3h0M347.7 541.9h0M350 543.3h0M358.6 529.6h0M341.9 540.8h0M354.7 532.4h0M346.1 552.7h0M337.4 538.8h0M351 538.3h0M330.8 550.6h0M350.8 551h0M345.5 546.5h0M360.4 550h0M333.5 549.5h0M365 541.2h0" stroke="#111" stroke-width="1.25" stroke-linecap="round"/>
<path d="M319.7 560.5h0M331 560.5h0M323.4 560.5h0M324.9 560.5h0M331 560.5h0M314.8 560.5h0M332 560.5h0M325.6 560.5h0M326.7 560.5h0M319.2 560.5h0M325.1 560.5h0M304.8 560.5h0M317.6 560.5h0M321.7 560.5h0M308.1 560.5h0M317.3 560.5h0M319.4 560.5h0M327.1 560.5h0M306.1 560.5h0M316.6 560.5h0M311.3 560.5h0M312.1 560.5h0M322.2 560.5h0M332.5 560.5h0M315.5 560.5h0M314 560.5h0M316.7 560.5h0M315.1 560.5h0M332 560.5h0M317.9 560.5h0M304.3 560.5h0M330.3 560.5h0M315.7 560.5h0M314.7 560.5h0M323.9 560.5h0M320.7 560.5h0M329.7 560.5h0M314.1 560.5h0M331.5 560.5h0M305.5 560.5h0M311.1 560.5h0M315.6 560.5h0M312.4 560.5h0M305.6 560.5h0M312.3 560.5h0M323.2 560.5h0M312.1 560.5h0M306.4 560.5h0M315.4 560.5h0M331.2 560.5h0M325.3 560.5h0M304.3 560.5h0M316 560.5h0M307 560.5h0M304.9 560.5h0M307.9 560.5h0M325.5 560.5h0M321.7 560.5h0M311 560.5h0M307.5 560.5h0M329.7 560.5h0M306 560.5h0M308.1 560.5h0M313.7 560.5h0M329 560.5h0M330.6 560.5h0M320.6 560.5h0M323.8 560.5h0M308.9 560.5h0M325.9 560.5h0M333.6 560.5h0M314.3 560.5h0M303.8 560.5h0M311.3 560.5h0M315.8 560.5h0M304.6 560.5h0M331 560.5h0M320.4 560.5h0M324.4 560.5h0M326.6 560.5h0M306.4 560.5h0M329.8 560.5h0M315.1 560.5h0M316.6 560.5h0M307.8 560.5h0M321.5 560.5h0M315.1 560.5h0M329.9 560.5h0M322.3 560.5h0M321.6 560.5h0M314.9 560.5h0M327.2 560.5h0M328.6 560.5h0M327.7 560.5h0M326.5 560.5h0M309.6 560.5h0M319.5 560.5h0M313.4 560.5h0M314.1 560.5h0M319.8 560.5h0M322.8 560.5h0M324.9 560.5h0M329.2 560.5h0M317 560.5h0M308.4 560.5h0M325.1 560.5h0M318 560.5h0M321.3 560.5h0M328.8 560.5h0M314.4 560.5h0M320.9 560.5h0M303.6 560.5h0M305.8 560.5h0M303.3 560.5h0M318.2 560.5h0M333.4 560.5h0M332.9 560.5h0M307.2 560.5h0M317.3 560.5h0M309.2 560.5h0M311.1 560.5h0M328 560.5h0M318.9 560.5h0M325.7 560.5h0M303.4 560.5h0M323.9 560.5h0M323 560.5h0M326.4 560.5h0M326.5 560.5h0M307.8 560.5h0M327.4 560.5h0M322.2 560.5h0M317 560.5h0M315.1 560.5h0M314.3 560.5h0M331.1 560.5h0M308 560.5h0M319.5 560.5h0M315.9 560.5h0M328.3 560.5h0M315.4 560.5h0M331.5 560.5h0M324.7 560.5h0M324.2 560.5h0M326.2 560.5h0M310.7 560.5h0M322.3 560.5h0M329.3 560.5h0M305.2 560.5h0M323.2 560.5h0M329.7 560.5h0M325.7 560.5h0M334.7 560.5h0M306.3 560.5h0M314.6 560.5h0M330.5 560.5h0M316.5 560.5h0M334.1 560.5h0M325.8 560.5h0M316.8 560.5h0M309.1 560.5h0M326 560.5h0M328.7 560.5h0M308.8 560.5h0M330.9 560.5h0M321.7 560.5h0M329.5 560.5h0M320.7 560.5h0M330.5 560.5h0M318.9 560.5h0M308.2 560.5h0M306.1 560.5h0M325.9 560.5h0M332.2 560.5h0M313.9 560.5h0M325.5 560.5h0M334.7 560.5h0M330 560.5h0M322.7 560.5h0M313.9 560.5h0M305.9 560.5h0M319.7 560.5h0M304.3 560.5h0M315.2 560.5h0M322 560.5h0M323.5 560.5h0M326.6 560.5h0M320.8 560.5h0M318.1 560.5h0M333.2 560.5h0M312.4 560.5h0M312 560.5h0M321.3 560.5h0M306.6 560.5h0M310.7 560.5h0M315 560.5h0M316.2 560.5h0M321.2 560.5h0M318.5 560.5h0M316.8 560.5h0M313 560.5h0M303.4 560.5h0M321.3 560.5h0M332.7 560.5h0M334.4 560.5h0M304.3 560.5h0M304.9 560.5h0M325.2 560.5h0M327.1 560.5h0M307.7 560.5h0M326.9 560.5h0M315.3 560.5h0M318.7 560.5h0M321.1 560.5h0M310.6 560.5h0M318.5 560.5h0M312.5 560.5h0M313.1 560.5h0M331.4 560.5h0M311 560.5h0M319.2 560.5h0M316 560.5h0M305.9 560.5h0M317.8 560.5h0M313.1 560.5h0M316.8 560.5h0M305.9 560.5h0M332.2 560.5h0M324.4 560.5h0M315.1 560.5h0M320.5 560.5h0M306.1 560.5h0M331.2 560.5h0M322 560.5h0M314 560.5h0M307 560.5h0M334.5 560.5h0M327.4 560.5h0M311.9 560.5h0M328.2 560.5h0M303.3 560.5h0M306.3 560.5h0M321.5 560.5h0M308.6 560.5h0M313.9 560.5h0M306.6 560.5h0M330.7 560.5h0M308.6 560.5h0M310.4 560.5h0M316.1 560.5h0M323.4 560.5h0M320.2 560.5h0M319.4 560.5h0M310.1 560.5h0M365.6 560.5h0M347.9 560.5h0M364.2 560.5h0M335.4 560.5h0M356.8 560.5h0M335.8 560.5h0M359.4 560.5h0M366.7 560.5h0M360.5 560.5h0M340.7 560.5h0M366.9 560.5h0M343.3 560.5h0M339.4 560.5h0M358.9 560.5h0" stroke="#111" stroke-width="1.45" stroke-linecap="round"/>
<path d="M302.5 550.5L380 530.5" stroke="#6a8ab5" stroke-width="0.85"/>
<text x="296.9" y="494" font-size="6.9" fill="#eeaa48" stroke="#eeaa48" stroke-width="0.12" textLength="35.2" lengthAdjust="spacingAndGlyphs">detox-iCAF</text>
<text x="340.2" y="579.3" font-size="5.9" text-anchor="middle" fill="#333" stroke="#333" stroke-width="0.12">Cytolytic index</text>
<text x="0" y="0" font-size="6" text-anchor="middle" fill="#333" stroke="#333" stroke-width="0.12" transform="translate(288.1 529.4) rotate(-90)">detox-iCAF</text>
<text x="354.5" y="499.2" font-size="5.5" fill="#333" stroke="#333" stroke-width="0.12"><tspan font-style="italic">r</tspan> = 0.27</text>
<text x="354.5" y="506.2" font-size="5.5" fill="#333" stroke="#333" stroke-width="0.12"><tspan font-style="italic">P</tspan> &lt; 2.2e-16</text>
<path d="M419.9 495.9V563.3H502.6" stroke="#222" stroke-width="0.8" fill="none"/>
<text x="417.7" y="561.6" font-size="5.1" text-anchor="end" fill="#333" stroke="#333" stroke-width="0.12">0</text>
<text x="417.7" y="543.3" font-size="5.1" text-anchor="end" fill="#333" stroke="#333" stroke-width="0.12">1</text>
<text x="417.7" y="525.1" font-size="5.1" text-anchor="end" fill="#333" stroke="#333" stroke-width="0.12">2</text>
<text x="417.7" y="506.8" font-size="5.1" text-anchor="end" fill="#333" stroke="#333" stroke-width="0.12">3</text>
<text x="423.1" y="569.5" font-size="5.1" text-anchor="middle" fill="#333" stroke="#333" stroke-width="0.12">0</text>
<text x="449.2" y="569.5" font-size="5.1" text-anchor="middle" fill="#333" stroke="#333" stroke-width="0.12">2</text>
<text x="475.2" y="569.5" font-size="5.1" text-anchor="middle" fill="#333" stroke="#333" stroke-width="0.12">4</text>
<text x="501.3" y="569.5" font-size="5.1" text-anchor="middle" fill="#333" stroke="#333" stroke-width="0.12">6</text>
<path d="M419.9 559.8h-1.4M419.9 541.5h-1.4M419.9 523.3h-1.4M419.9 505h-1.4M423.1 563.3v1.4M449.2 563.3v1.4M475.2 563.3v1.4M501.3 563.3v1.4" stroke="#333" stroke-width="0.5"/>
<path d="M442.6 546.8h0M446.4 545.9h0M430.8 543.1h0M430.3 545.5h0M426.8 545.3h0M434.5 549.4h0M427.7 547h0M429.8 544.5h0M432.1 551.2h0M437.3 544h0M439.8 544.3h0M428.2 547.7h0M443 544.7h0M441.9 543.6h0M443.6 543.7h0M433.1 543h0M426.5 548.1h0M434.4 547.3h0M426.9 549.1h0M433.7 544h0M434.1 545.1h0M434.2 550h0M427 544.1h0M444.1 544.6h0M428.8 547.2h0M451.9 546.7h0M428.7 547.3h0M427.7 543.5h0M437.8 546.4h0M431 548h0M437.3 544.1h0M429.6 543.7h0M444 542.3h0M438.6 543.5h0M444.5 550.4h0M431.5 546.7h0M436.1 544.6h0M433.7 550.4h0M436 548.7h0M432.9 549h0M447.8 544.8h0M438.8 549.3h0M428.8 542.9h0M436.2 544.5h0M442.6 542.5h0M429.6 546.3h0M434.2 544.2h0M427.2 549.1h0M436 548.1h0M442.2 545.1h0M436.5 545.8h0M454.7 544h0M443.8 544.6h0M437.4 545.1h0M435.3 541.3h0M436.1 548.4h0M431 543.1h0M432.4 549h0M429.3 543.7h0M427.4 543.3h0M430.2 547.3h0M434.2 547.3h0M430.3 549.7h0M429.2 547.5h0M436.8 546.6h0M427.6 548.3h0M436.6 549.5h0M427.4 547.7h0M460.1 546h0M429 541.5h0M431.1 549h0M426.6 550.3h0M434.5 546.4h0M432.2 546.3h0M436 541.8h0M430.7 543.2h0M438.1 545.4h0M434 545.2h0M427.5 546.1h0M441.4 544.3h0M427.2 542.4h0M445.3 547.2h0M441 543.6h0M431.3 549.5h0M426.9 550.9h0M437.6 544.3h0M431 549.4h0M430.8 548.1h0M440.2 545.3h0M437.8 542.2h0M429.5 549.8h0M432.6 543.8h0M451.9 546.3h0M432.2 548.5h0M430.4 545h0M433.5 547.6h0M425.1 546.8h0M428.1 540h0M434.1 545h0M434 545.3h0M427 542.8h0M441.4 541.8h0M431.4 545h0M428.5 545.7h0M427.5 548.5h0M438.5 543.5h0M433.6 547.5h0M436.1 548.3h0M438.3 550.5h0M431.1 542.5h0M427 548.3h0M433.2 547.6h0M428.8 545h0M427.2 544.4h0M430.8 541.6h0M433.7 547.8h0M439.4 549.7h0M434 547.3h0M429 548.7h0M431.1 548.4h0M458.2 549.1h0M438.3 545h0M436.3 543.5h0M435.9 544.5h0M437.7 543h0M435.1 550.4h0M435.1 543.6h0M426.3 548.9h0M429.2 547.2h0M435.5 538.8h0M434.2 544.4h0M431 547.3h0M436.5 540.5h0M428.8 547.4h0M441.3 548.1h0M435.1 544.7h0M426.2 542h0M435.4 544.1h0M437.7 541.1h0M432 542.3h0M437.7 542.3h0M434.2 545.2h0M435.6 547h0M428.3 548.1h0M430.2 546.4h0M433.9 547.8h0M441.2 546.9h0M431.4 551.1h0M432.2 551.6h0M439 538.4h0M435.9 541.5h0M431.9 545.8h0M429.2 543.3h0M429.9 543.8h0M426.2 546.3h0M430.9 549.6h0M446.1 542.8h0M425.6 544.5h0M431.2 549.4h0M434.8 544.1h0M434.7 546.7h0M438.6 539.7h0M435 544.7h0M431.5 548.8h0M434.1 546.1h0M426.8 551.4h0M434.4 545.5h0M433 546.6h0M426.1 550.9h0M435.4 545h0M431.6 545.7h0M428.4 549.3h0M432 543h0M446.5 546.8h0M431.7 546h0M431.8 542.8h0M445.4 550.1h0M439.9 545.8h0M433.6 544h0M438.8 550.2h0M427.6 541.3h0M431 544.2h0M432.5 548.6h0M434.1 541.7h0M430.6 547h0M441.6 547.8h0M426.5 549h0M442.7 544.4h0M430.1 546.5h0M433.8 545.4h0M426.3 545.3h0M431.6 546.9h0M444.2 546.2h0M431.6 546.8h0M439 544.4h0M447.8 545h0M457.5 549h0M428.5 547.7h0M430.7 549.1h0M433.8 545.7h0M429.4 542.1h0M432.6 546.2h0M429.8 541.5h0M428 550.9h0M426.9 545.6h0M430.5 543h0M428.1 549.1h0M431 546.8h0M432.1 546.5h0M434.1 546.9h0M441.9 547.9h0M426.3 535.1h0M433.2 550.6h0M430.9 545.3h0M431.5 548.5h0M435.4 545.6h0M439.1 546.1h0M432.7 545.3h0M430 547.3h0M436 546h0M433 547.3h0M437.8 546.2h0M445.3 547.1h0M427.5 546.2h0M431.5 542.3h0M431.9 543.5h0M428.5 547.2h0M437.3 550.7h0M431.8 541.9h0M435.7 547.5h0M431.2 540.1h0M448.2 546.4h0M444 548.7h0M430.3 543.2h0M426.3 542.8h0M430.1 543.4h0M442.9 546.4h0M433.4 550.4h0M434.5 549.7h0M429.2 546.7h0M432.2 546.5h0M436.4 544.3h0M431.1 549.8h0M425.6 549.7h0M433.9 542.3h0M429.2 546.7h0M441.1 547.4h0M439.3 545.4h0M435.9 550.7h0M426 546.3h0M426 545h0M432.1 541.8h0M440.1 544.6h0M460.7 550.8h0M428.4 543.1h0M444.3 548.8h0M436.4 546.7h0M451.6 543.4h0M435.1 543.8h0M439 548.1h0M425.1 550.6h0M440.8 543h0M435.2 545.9h0M426.7 545.3h0M433.6 544.7h0M431.6 546h0M443.5 540.9h0M427.9 546h0M441.9 542.8h0M432.2 543.9h0M437.6 548.3h0M431 545.3h0M431 546.8h0M433.7 546.5h0M442 544.3h0M461.7 546.1h0M443.5 548.8h0M429.7 542.1h0M437.2 546.9h0M430.5 541.5h0M432.4 545.1h0M432.9 543.5h0M433.3 546.1h0M428.7 550h0M437.3 546.3h0M430 546.3h0M433 547h0M432.3 545.2h0M447.3 547.4h0M429.7 547.9h0M444.2 543.9h0M441.7 543.5h0M431.4 548.7h0M439.7 548.6h0M434.6 544.5h0M435 544.3h0M433.1 544.5h0M430.6 546.5h0M430 541.2h0M437.3 545.8h0M430.9 547.4h0M425.4 549.2h0M438.7 543.9h0M434.3 547.4h0M438.8 544.8h0M433.2 543.5h0M434.3 547.2h0M440.1 544h0M432.7 546.3h0M426.6 546.9h0M428 545.3h0M437.1 549.8h0M430.8 544.6h0M432 545.4h0M431.4 545.7h0M428.2 544.5h0M428.3 542.2h0M431.6 549h0M428 546.4h0M435.7 541.1h0M437.7 545.6h0M439.9 543.5h0M440.2 518.8h0M455.6 526.3h0M429.9 531.4h0M467.2 532.9h0M451.1 546.9h0M430.6 539.5h0M441.2 543h0M459.4 533.2h0M433 538.6h0M439.9 533h0M465.2 542.1h0M478.7 547.5h0M464.5 541.8h0M453.8 544.3h0M485.7 517.4h0M446.1 534.8h0M454.3 547.1h0M440.2 532.4h0M432.7 545.9h0M454.3 534.2h0M440 533.4h0M436.9 531.3h0M468.3 531.9h0M439.4 544.1h0M436.3 537.1h0M431.4 540.2h0M463.4 537.7h0M441.4 524.3h0M481.2 534.2h0M463.3 536.9h0M483.1 542.5h0M427.7 532.6h0M442.1 543.2h0M440.5 536.5h0M452.2 528.5h0M436.1 545.6h0M465.9 539.3h0M460.1 546.7h0M436.2 535.5h0M443.4 521.9h0M446.6 545.3h0M435.6 542.5h0M470.5 532.4h0M437.5 516.8h0M447.9 546.8h0M437.2 530.5h0M451.6 535.2h0M442.3 525.4h0M455.9 540.5h0M449.6 546.6h0M454.1 537.5h0M450.4 546.8h0M468.1 544.5h0M455.8 542.9h0M444.9 541.4h0M440.6 535h0M480.1 543.2h0M445.5 541.8h0M463.3 526.9h0M456 528.7h0M440.9 522.9h0M451.2 541.9h0M451.4 540.9h0M434.1 533.6h0M456 544.2h0M443.6 542.7h0M447.6 534.4h0M441.3 546.9h0M480.3 539.7h0M439.3 539.6h0M458.9 531.8h0M462.4 543.1h0M453.7 534.9h0M450.3 536.8h0M433.6 536.3h0M452.9 546.6h0M434.4 543.3h0M439.9 543.1h0M437.3 536.6h0M483 513.5h0M428.7 543h0M453.1 524.5h0M434.4 534.3h0M444.9 541.3h0M451.1 543.6h0M435.1 542.8h0M451.1 544.9h0M431.1 544.5h0M430.1 542.4h0M437.1 527.8h0M437.9 522h0M476 547.5h0M440.6 541.3h0M434 528.6h0M464.8 546.8h0M449.3 544.8h0M481.9 540.8h0M440.4 542.7h0M438.7 539.9h0M439.3 541.9h0M435.6 543h0M450.9 537.9h0M454.7 519.8h0M448.4 537.3h0M432.3 536.9h0M443.6 523.7h0M446.3 536.6h0M468.6 545.3h0M457.2 546.5h0M456.8 538.4h0M437.5 537.9h0M444.2 544.3h0M464.9 521.1h0M443.1 546.1h0M431.6 544.6h0M454.9 538.4h0M437 529.4h0M450.5 543.6h0M452 543h0M434.4 542.5h0M463 534h0M441 546.7h0M453.4 529.1h0M452.7 541h0M437 514.1h0M444 527.6h0M453.9 535.3h0M448.9 536.4h0M452.5 522.3h0M466.7 522.1h0M434.4 534.1h0M437.7 542.1h0M436.7 521h0M432.4 540.1h0M438.5 508.6h0M448.3 540.7h0M431.5 517.1h0M438.3 541.1h0M475.9 541.1h0M447.3 543.8h0M441.7 544.1h0M461.6 546.6h0M430.5 547h0M435 543.4h0M453.5 547.5h0M467.6 534.4h0M444.5 540.7h0M472.9 521.3h0M453 542.7h0M437.8 526.4h0M436.8 541.1h0M435.9 539.7h0M464.2 520.4h0M448.1 534.2h0M434.3 531.4h0M432.5 528.5h0M435.5 535h0M468.2 535.9h0M455.8 534.4h0M462.8 541.8h0M441.8 534.2h0M450.8 542.3h0M465.2 539.3h0M463 541.6h0M439.3 538.4h0M444.5 545.5h0M438.9 544.2h0M440.6 544.4h0M433.7 539.4h0M436.4 547.6h0M472.4 543.5h0M442.4 529.3h0M438.6 540.9h0M447.6 545.5h0M460.4 533.8h0M448.9 543.8h0M455.2 546.2h0M445.2 533.7h0M440.2 543.7h0M447.2 547.2h0M471.4 530.6h0M460.4 518.8h0M463.8 548h0M454.6 530.2h0M470.7 538.5h0M445.9 531.6h0M453.7 544.1h0M435.7 537.4h0M449.5 541h0M455.2 541.6h0M445.3 548.1h0M435.2 539.3h0M452.6 546.8h0M438.5 543.4h0M443 534.3h0M449.1 544.2h0M448.1 542.3h0M445.8 523.3h0M465.8 523.1h0M456.2 536.7h0M465.4 540.2h0M459.2 520.7h0M476.1 539.4h0M432.6 519.3h0M441.7 543.3h0M442.7 538.1h0M456.7 536.8h0M472.4 545.5h0M443.4 520.8h0M438.7 525.1h0M464.7 537.6h0M434.2 537.2h0M451.8 544.2h0M459.2 542.7h0M457.9 545.3h0M447 540.7h0M470.5 542h0M459.5 542.6h0M442.4 543.4h0M439.5 539.6h0M439 540.4h0M446.9 532.5h0M451.2 539.6h0M438.8 525.5h0M440.1 546.4h0M446.3 525h0M441.4 547.4h0M433.7 542.5h0M434.9 544h0M433.2 540.3h0M479.8 536.1h0M456.1 539.9h0M469.6 543.6h0M443.9 541.4h0M446.8 546.3h0M431.8 537.3h0M455.5 541.1h0M451.3 535.9h0M452.6 541.4h0M442.4 530.7h0M458.2 541.2h0M451.5 524.3h0M456.3 542.2h0M496.1 546.4h0M446.8 544.4h0M437.4 540.9h0M455 547.3h0M445.8 534.4h0M440.1 524.6h0M441.6 537.3h0M471.3 544.1h0M431.9 538.9h0M460.5 536.6h0M439.1 522.5h0M447.9 544.9h0M454.3 541.3h0M447.7 539.5h0M431.6 532.4h0M447.9 542.5h0M451 538.5h0M438.7 528.5h0M452.3 537.9h0M452.9 535.7h0M429.3 546.2h0M461.4 530.1h0M436.2 533.2h0M440.8 541.7h0M434.1 546.3h0M442 545.1h0M469.6 533.8h0M431.6 546.7h0M436.7 540.5h0M470.6 541.4h0M464.4 540.9h0M460.6 539.9h0M445.6 536.9h0M444.3 544.8h0M441.7 526.9h0M443.6 527.7h0M446.6 531.3h0M449.9 544.5h0M433.8 544.4h0M448.3 541.4h0M447 542.2h0M457.8 542.6h0M477 546.2h0M439.6 506.2h0M476 536.8h0M445 545.5h0M449.1 512.4h0M439.7 545.4h0M430.1 540.7h0M436.9 542.1h0M441.7 542.6h0M445.2 532.7h0M447.6 522.4h0M439.7 532.9h0M445.3 513.4h0M452.1 540.4h0M438.4 524.2h0M431.5 537.4h0M459.1 527.8h0M438.8 546.8h0M439.8 542h0M447.1 545.4h0M453.4 541.6h0M433.8 546.1h0M448.6 535.7h0M454.8 531.9h0M464.7 536h0M440.7 539.7h0M445.4 546.9h0M447 545.2h0M438.1 535.8h0M432.8 534h0M449.3 525.7h0M438.1 546.6h0M437.8 501.2h0M427.4 534.4h0M445.9 536.8h0M439.2 539.8h0M438.9 543.2h0M435.9 538.2h0M449.3 542.5h0M433.2 544.5h0M462 526.9h0M455.1 534.9h0M454.9 543.1h0M444.6 533.7h0M460.4 546.2h0M444.5 542.4h0M445.7 540.9h0M427.9 532.8h0M469.7 534.7h0M446.6 532.9h0M469.9 545.2h0M443.5 548.5h0M440.7 543.5h0M449 543.3h0M461 532.7h0M449.2 534.1h0M487.4 548.3h0M463.1 537.7h0M431.8 540.2h0M432.7 520.9h0M451.7 534.6h0M448.3 544.5h0M434.9 546.3h0M475.8 537.8h0M430.5 533.4h0M441.8 520.8h0M453.7 544.3h0M434.2 523.1h0M471 539.7h0M462.5 545.4h0M443.6 541.5h0M460 541.5h0M429.8 537.2h0M434.2 528.9h0M463 547.5h0M481.7 538.5h0M450.7 525.9h0M438.1 543.2h0M473.7 532.9h0M438.5 535.1h0M440.1 534.6h0M435.6 540.7h0M441.9 542.7h0M429.5 532.6h0M460.8 547.9h0M430 538.7h0M468.4 543.3h0M444.9 534.7h0M438.3 543.9h0M449.3 523h0M439.1 538.4h0M432.5 542.9h0M451.2 510.3h0M432.4 531.1h0M430.5 545.3h0M441.6 527.2h0M442.2 525.4h0M472.9 543.1h0M456 542.4h0M451.5 540h0M452.7 538.8h0M457.9 528.4h0M438.4 535.6h0M459.1 540.1h0M454.3 543h0M454.5 540.7h0M430.3 526.7h0M433.9 542.1h0M468.4 539.8h0M442.7 532.8h0M440.1 539.3h0M439.3 538.7h0M448.3 546.5h0M435.6 533.7h0M434.6 531.2h0M466 533.6h0M435.3 547h0M432.3 541.4h0M438.9 544.7h0M448.2 526.6h0M438.2 523.7h0M445.9 526.6h0M447.6 535h0M454.2 546.8h0M446.4 548.1h0M463.7 545.8h0M442.5 542.2h0M441.5 526.1h0M460.2 510.8h0M461 541.9h0M462.5 527.9h0M454.5 536.8h0M469.1 537.7h0M448.2 512.2h0M437.4 531.1h0M449.5 522.1h0M470 523.3h0M446.1 530.8h0M454.7 527h0M438.4 528.9h0M444.8 515.2h0M447.5 524.1h0M456.6 530.3h0M451.1 528.2h0M447.2 527.1h0M453.1 529.7h0M443.3 509.3h0M466 524.5h0M451 517.8h0M449.7 536.3h0M443.5 529.7h0M454.2 523.5h0M451.2 528h0M442.4 529.3h0M445.9 531.8h0M447.1 513.8h0M447.9 515.9h0M431.6 514.8h0M442.8 533.6h0M461.7 512h0M461.3 517.7h0M430.5 527h0M451.7 528.7h0M439.5 518.2h0M438.7 522.4h0M453.1 535.8h0M454.2 537.1h0M432.3 532.2h0M434.3 531.4h0M454.8 536.4h0M445 535.3h0M457.4 535.6h0M450.9 517.4h0M460.7 518.7h0M460.1 511.5h0M438.9 506.9h0M455.7 521.9h0M450.1 518.2h0M449.9 528.6h0M453.2 517.5h0M455.6 527.7h0M426.2 532.5h0M453.6 513.7h0M445.7 534.9h0M460.8 516.6h0M448.9 504.6h0M447.4 531h0M452.8 515.4h0M443.8 528.8h0M461.4 528h0M455 510.3h0M446.9 526.2h0M437.5 534h0M460.3 509.2h0M452.4 500h0M461.6 535.4h0M431.8 515h0M456.2 517.3h0M446.8 514.8h0M444 535.8h0M453.9 507.3h0M466 517.9h0M445.3 535.4h0M448.6 526.5h0M436.3 521.1h0M452.6 517h0M441.8 530.2h0M452 507.2h0M458.8 532.7h0M456.9 521.5h0M456.4 515.1h0M443.3 521.4h0M439.8 520.9h0M458 537.8h0M451 518.3h0M434.4 524.6h0M455.2 524.7h0M467.7 520.4h0M433.3 526.2h0M451.1 528.7h0M439.3 533.8h0M457.7 518.2h0M452.1 509.2h0M458.7 534.9h0M439.1 533h0M451 535.2h0M445.2 526.5h0M437.9 520.3h0M467.1 533h0M443.3 525.2h0M443.4 526h0M441.2 530.8h0M456.1 499.4h0M444.7 508.6h0M455.4 532.3h0M441.3 534.7h0M435.4 514.9h0M436.7 511.3h0M442.3 530.1h0M455.1 517h0M456.3 536.8h0M458 536.6h0M440 535.6h0M433.5 534.5h0M450.8 534.5h0M445.6 527.1h0M454.4 529.7h0M448.3 531.6h0M452.2 535.5h0M440.3 528.1h0M453.3 518.9h0M438.5 509.5h0M467.2 531.9h0M446.6 536h0M446.5 517.5h0M439.5 516.6h0M440.1 522.6h0M451.7 501.4h0M463.2 531.2h0M450.4 526.4h0M447.2 523.5h0M441.5 510.8h0M446.4 532.4h0M466.9 534h0M441.1 536.5h0M447.8 528.8h0M453.9 534.2h0M443.2 517.9h0M432.9 532.6h0M443 517.3h0M441.6 523.1h0M444.1 504h0M431.8 530.2h0M451.4 512.7h0M464.2 530.7h0M459 531h0M456.2 516.2h0M452.7 513.2h0M447.2 527.6h0M463.9 534.9h0M451.5 529.7h0M451.8 533.6h0M446.4 513.1h0M441.2 513.9h0M448.9 524.7h0M432.7 508.6h0M429.1 520.5h0M446 534.1h0M436.8 533.8h0M446 533.4h0M440 520h0M464.4 537.8h0M438 527.3h0M457.6 513.3h0M426.9 527.8h0M459.4 531.3h0M447.7 532.3h0M455.6 529h0M458.9 526.3h0M439.7 525h0M442.2 526.1h0M461.5 514.8h0M450.1 507.9h0M441.9 519.7h0M461.8 525.6h0M443.9 525.2h0M462 526.7h0M463.2 535.8h0M453.6 530.6h0M464.1 537.2h0M451.4 507h0M444.7 523.7h0M445.6 530.7h0M448.9 524.5h0M451.2 528.8h0M449.1 534.3h0M468.2 523.4h0M443.9 535.3h0M445.8 514.9h0M457.5 518.1h0M444.5 514.6h0M458.5 534.4h0M460.4 528.7h0M440.4 532.7h0M441.6 534h0M448.2 523.1h0M451.9 516.7h0M443.6 504.7h0M440.8 532.1h0M431.9 505.7h0M446.7 518.7h0M456.4 524.6h0M452.9 533.5h0M445.7 527.5h0M465.3 515.2h0M443.2 504.4h0M455.8 504.4h0M453 524.6h0M446.5 524.5h0M463 527h0M452.7 523.8h0M451 535h0M449.7 527.8h0M459.3 504.4h0M457.8 524.8h0M456.3 537.1h0M452 537.5h0M466.2 534.8h0M456.4 524.4h0M442.2 504.4h0M445.5 528.7h0M458.7 536.1h0M448 521.7h0M455.7 522.5h0M437.4 533.6h0M460.4 537.3h0M458.7 513.1h0M449.2 525.6h0M456.5 529.8h0M461.5 520.1h0M438.3 516.1h0M450.8 535.2h0M444.5 529.6h0M445.7 530h0M465.9 518h0M461.3 515.9h0M449.1 530.9h0M457.8 531.4h0M440.3 531.1h0M442 535.7h0M440.7 537.2h0M451.9 499.1h0M450 531.7h0M437.4 524h0M443.3 502.2h0M450.4 528.6h0M450.6 530h0M457.3 524.5h0M451.2 532.4h0M445.2 528.6h0M447.8 500.6h0M462.9 535.2h0M454 527.5h0M456.1 529.3h0M432.6 516.6h0M441.1 518.5h0M446.8 525.4h0M459.8 501.8h0M451.6 513.3h0M446.1 522.3h0M450.7 526.6h0M453.4 529h0M453.1 536h0M459 525.4h0M452.6 533.1h0M441.8 510.8h0M436.2 536.7h0M440.3 531.1h0M451.4 536.2h0M457.4 536.2h0M450.5 516.9h0M459 533.4h0M451.1 530.3h0M445.9 535.9h0M442.3 531.6h0M458.8 524.4h0M449.9 525.3h0M455.2 535.6h0M451.9 527h0M441.2 515.2h0M481.2 528.8h0M459.1 529.5h0M455.4 526.5h0M475.1 517h0M450.9 542.4h0M467.8 522h0M484.9 547.1h0M498.4 548.5h0M470.3 521.9h0M452.1 529.3h0M494.3 527.3h0M487.5 522.5h0M472.5 532h0M453.9 519.9h0M470 518.2h0M488.8 523.8h0M480.9 535h0M456.8 547.1h0M456.5 546.5h0M464.8 548.7h0M472.2 523.2h0M468.2 518.7h0M468.4 538.8h0M476.4 517h0M454.8 531.9h0M483 530.6h0M456.7 542.6h0M480.8 539.7h0M463.5 531h0M467 539h0M478 518.2h0M482 516.7h0M478.6 545.4h0M462.7 525h0M454.6 525.8h0M463.1 517.8h0M456.3 548.1h0M472.6 536.1h0M453.4 533.6h0M483.4 521.5h0M473.6 544.3h0M457 542.9h0M458.5 543.8h0M498.8 547.1h0M461.4 517.9h0M460.9 529.6h0M486.6 524.9h0M460.3 547.7h0M456.9 547.7h0M470.3 543.5h0M461.5 548.5h0M478.6 531.9h0M465.1 525.1h0M467.7 518.2h0M458.8 540.6h0M470.3 529.5h0M474.3 540.4h0M477.2 545.1h0M455.7 525.2h0M458 548.8h0M480.7 518.3h0M470.6 523.9h0M461.1 538.5h0M469.6 530.1h0M461.3 548.4h0M466.8 517h0M487.7 539.8h0M467.7 525.1h0M478.2 533.4h0M482.3 540.5h0M466.4 528.3h0M473.6 540.4h0M454.1 538.1h0M458.4 526.4h0M454.3 528.4h0M455.1 532.3h0M473.4 521.1h0M454 534.2h0M490.8 534.7h0M457.8 517.7h0M457.1 529.3h0M485.6 537.1h0M471.2 531h0" stroke="#111" stroke-width="1.25" stroke-linecap="round"/>
<path d="M426 559.5h0M431.1 559.5h0M439.7 559.5h0M467.2 559.5h0M483.3 559.5h0M485.3 559.5h0M479.8 559.5h0M462.6 559.5h0M435.3 559.5h0M447.9 559.5h0M443.8 559.5h0M486.8 559.5h0M473.4 559.5h0M431.5 559.5h0M438.1 559.5h0M442.9 559.5h0M436.6 559.5h0M442.3 559.5h0M477.2 559.5h0M469.7 559.5h0M430.3 559.5h0M468.9 559.5h0M459 559.5h0M468.5 559.5h0M444.2 559.5h0M430.7 559.5h0M463.4 559.5h0M470.6 559.5h0M460.7 559.5h0M453.8 559.5h0M426.4 559.5h0M439.8 559.5h0M456.4 559.5h0M434.6 559.5h0M445.3 559.5h0M444.1 559.5h0M444.3 559.5h0M449.6 559.5h0M444.1 559.5h0M426.1 559.5h0M439.1 559.5h0M480.7 559.5h0M463.5 559.5h0M447.4 559.5h0M482.7 559.5h0M462.4 559.5h0M475.9 559.5h0M466.2 559.5h0M430.5 559.5h0M481.1 559.5h0M455.8 559.5h0M449.9 559.5h0M476.4 559.5h0M484.9 559.5h0M474.9 559.5h0M469.1 559.5h0M478.1 559.5h0M462.8 559.5h0M440.1 559.5h0M470.2 559.5h0M487.6 559.5h0M464.4 559.5h0M427.6 559.5h0M485.3 559.5h0M485.1 559.5h0M425.4 559.5h0M451.3 559.5h0M455.2 559.5h0M466.5 559.5h0M487.7 559.5h0M477.4 559.5h0M424 559.5h0M443.2 559.5h0M427.7 559.5h0M483.5 559.5h0M470.1 559.5h0M434.4 559.5h0M434.4 559.5h0M473.7 559.5h0M470.9 559.5h0M482.9 559.5h0M453.7 559.5h0M444.2 559.5h0M463.9 559.5h0M472 559.5h0M479.6 559.5h0M479.6 559.5h0M428.6 559.5h0M460.8 559.5h0M446.3 559.5h0M433.1 559.5h0M484.4 559.5h0M431.6 559.5h0M436.7 559.5h0M433.5 559.5h0M460.9 559.5h0M463.4 559.5h0M453.1 559.5h0M471.8 559.5h0M452 559.5h0M427.7 559.5h0M471 559.5h0M454.7 559.5h0M435.8 559.5h0M461 559.5h0M473.9 559.5h0M431.9 559.5h0M426.9 559.5h0M478.2 559.5h0M468.9 559.5h0M431.5 559.5h0M466.9 559.5h0M485.3 559.5h0M427.6 559.5h0M486.1 559.5h0M444.4 559.5h0M451.2 559.5h0M478.8 559.5h0M462.4 559.5h0M450.6 559.5h0M442.3 559.5h0M461.9 559.5h0M474.4 559.5h0M473.6 559.5h0M466.4 559.5h0M445.5 559.5h0M466.3 559.5h0M445.7 559.5h0M449.7 559.5h0M480.1 559.5h0M479.4 559.5h0M482.3 559.5h0M451.3 559.5h0M429.4 559.5h0M476.7 559.5h0M486.2 559.5h0M455.1 559.5h0M432 559.5h0M479.3 559.5h0M458.3 559.5h0M460.2 559.5h0M451.9 559.5h0M433.9 559.5h0M456.4 559.5h0M432.9 559.5h0M427.5 559.5h0M447.7 559.5h0M486.6 559.5h0M444.3 559.5h0M446.6 559.5h0M484.5 559.5h0M471 559.5h0M482.2 559.5h0M487.4 559.5h0M448.2 559.5h0M476.1 559.5h0M471.1 559.5h0M440.2 559.5h0M459.3 559.5h0M447.3 559.5h0M471.5 559.5h0M473.4 559.5h0M431.9 559.5h0M438 559.5h0M428.8 559.5h0M427.2 559.5h0M425.7 559.5h0M484.8 559.5h0M435.3 559.5h0M483 559.5h0M428.6 559.5h0M458.8 559.5h0M452.7 559.5h0M426.6 559.5h0M455 559.5h0M458.5 559.5h0M470.3 559.5h0M457.4 559.5h0M449.2 559.5h0M458.9 559.5h0M470.1 559.5h0M426.6 559.5h0M443.2 559.5h0M439.9 559.5h0M475.5 559.5h0M481.7 559.5h0M485.9 559.5h0M428.3 559.5h0M452.7 559.5h0M424.1 559.5h0M474.4 559.5h0M445.3 559.5h0M427 559.5h0M450.5 559.5h0M463.5 559.5h0M437.5 559.5h0M436.6 559.5h0M449.7 559.5h0M470.8 559.5h0M459.3 559.5h0M456.5 559.5h0M480.9 559.5h0M476.8 559.5h0M478.9 559.5h0M434.5 559.5h0M458.6 559.5h0M472.1 559.5h0M441.2 559.5h0M424.6 559.5h0M481.4 559.5h0M442.9 559.5h0M434.7 559.5h0M471.3 559.5h0M447.6 559.5h0M443.8 559.5h0M481.4 559.5h0M475.2 559.5h0M460.7 559.5h0M448.2 559.5h0M442.3 559.5h0M443.1 559.5h0M468.6 559.5h0M433.5 559.5h0M452.7 559.5h0M470.5 559.5h0M446.7 559.5h0M452.4 559.5h0M470.4 559.5h0M442.3 559.5h0M452.5 559.5h0M427.6 559.5h0M469.5 559.5h0M427 559.5h0M461.5 559.5h0M430 559.5h0M482.8 559.5h0M485 559.5h0M468.3 559.5h0M455.8 559.5h0M448.9 559.5h0M442.5 559.5h0M460.8 559.5h0M474.3 559.5h0M454.4 559.5h0M426.3 559.5h0M435.1 559.5h0M468.9 559.5h0M459.8 559.5h0M457 559.5h0M453 559.5h0M483.2 559.5h0M428.3 559.5h0M453.2 559.5h0M476.7 559.5h0M453.7 559.5h0M471.9 559.5h0M450.6 559.5h0M473.7 559.5h0M480.1 559.5h0M481.4 559.5h0M449.7 559.5h0M449.6 559.5h0M458.1 559.5h0M454.8 559.5h0M427.4 559.5h0M440.6 559.5h0M453.7 559.5h0M477.3 559.5h0M438.7 559.5h0M448.2 559.5h0M437.3 559.5h0M481.5 559.5h0M425 559.5h0M460.5 559.5h0M483.5 559.5h0M449 559.5h0M433.8 559.5h0M460.2 559.5h0M477.8 559.5h0M462.6 559.5h0M476.4 559.5h0M451.5 559.5h0M474.8 559.5h0M482.7 559.5h0M462.9 559.5h0M484.7 559.5h0M484.9 559.5h0M454.7 559.5h0M482.9 559.5h0M434.2 559.5h0M464 559.5h0M475.9 559.5h0M455.4 559.5h0M467.6 559.5h0M467 559.5h0M458.5 559.5h0M445.3 559.5h0M435.6 559.5h0M433.2 559.5h0M456.6 559.5h0M481.1 559.5h0M438.3 559.5h0M450.6 559.5h0M443.5 559.5h0M458 559.5h0M483.9 559.5h0M441.2 559.5h0M452.4 559.5h0M439.5 559.5h0M436.2 559.5h0M481.3 559.5h0M457.8 559.5h0M440.7 559.5h0M482.2 559.5h0M425.9 559.5h0M455.2 559.5h0M479.1 559.5h0M475.2 559.5h0M448.5 559.5h0M434.7 559.5h0M453.1 559.5h0M453.2 559.5h0M464.8 559.5h0M485.7 559.5h0M486.2 559.5h0M431.8 559.5h0M424.4 559.5h0M484.2 559.5h0M463 559.5h0M473.8 559.5h0M437.8 559.5h0M464.5 559.5h0M477.9 559.5h0M427.6 559.5h0M483.8 559.5h0M481.5 559.5h0M429.8 559.5h0M475.5 559.5h0M435.9 559.5h0M483.5 559.5h0M475.2 559.5h0M466.4 559.5h0M458.2 559.5h0M443.4 559.5h0M457.1 559.5h0M464.3 559.5h0M432.3 559.5h0M465 559.5h0M459.1 559.5h0M429.1 559.5h0M436.2 559.5h0M459 559.5h0M456.5 559.5h0M484.9 559.5h0M448.9 559.5h0M447.8 559.5h0M429 559.5h0M425 559.5h0M481 559.5h0M447.9 559.5h0M454.3 559.5h0M465.7 559.5h0M434.5 559.5h0M466.4 559.5h0M461.2 559.5h0M430.8 559.5h0M452.4 559.5h0M427.1 559.5h0M446 559.5h0M467.9 559.5h0M449.9 559.5h0M454.4 559.5h0M440.3 559.5h0M465.4 559.5h0M480.5 559.5h0M477.7 559.5h0M452.5 559.5h0M487.6 559.5h0M455.5 559.5h0M427.2 559.5h0M473.7 559.5h0M450.3 559.5h0M439.3 559.5h0M460.4 559.5h0M424.1 559.5h0M443.5 559.5h0M459.5 559.5h0M427.7 559.5h0M472.4 559.5h0M447.5 559.5h0M448.7 559.5h0M439.9 559.5h0M445.3 559.5h0M460.7 559.5h0M433.3 559.5h0M486.4 559.5h0M459.7 559.5h0M432 559.5h0M453.3 559.5h0M439.8 559.5h0M445.6 559.5h0M475 559.5h0M485.3 559.5h0M487.3 559.5h0M447.6 559.5h0M461 559.5h0M470.7 559.5h0M434.8 559.5h0M478.9 559.5h0M431 559.5h0M463.5 559.5h0M426.3 559.5h0M463.8 559.5h0M485.3 559.5h0M441.2 559.5h0M445.1 559.5h0M452.8 559.5h0M431.8 559.5h0M481.5 559.5h0M481.1 559.5h0M486.9 559.5h0M439.5 559.5h0M434 559.5h0M458.9 559.5h0M479.7 559.5h0M433.2 559.5h0M432.4 559.5h0M485.1 559.5h0M441.1 559.5h0M466.5 559.5h0M470.1 559.5h0M453.1 559.5h0M461.5 559.5h0M432.2 559.5h0M439.2 559.5h0M455.1 559.5h0M452.6 559.5h0M477.8 559.5h0M448.5 559.5h0M441.9 559.5h0M452.7 559.5h0M481.5 559.5h0M441.2 559.5h0M432.2 559.5h0M441.9 559.5h0M444.5 559.5h0M424 559.5h0M457.8 559.5h0M471.8 559.5h0M444.7 559.5h0M442.3 559.5h0M441.8 559.5h0M440.8 559.5h0M448.6 559.5h0M476 559.5h0M485.8 559.5h0M428.7 559.5h0M429.6 559.5h0M453.3 559.5h0M449.9 559.5h0M462.1 559.5h0M426.6 559.5h0M428.1 559.5h0M463.1 559.5h0M437.1 559.5h0M471.5 559.5h0M467.5 559.5h0M435.5 559.5h0M468.7 559.5h0M459.2 559.5h0M473.1 559.5h0M478.8 559.5h0M426.9 559.5h0M439.7 559.5h0M446.7 559.5h0M458.7 559.5h0M466.2 559.5h0M453.6 559.5h0M448 559.5h0M451.3 559.5h0M487.4 559.5h0M451.1 559.5h0M463 559.5h0M436.7 559.5h0M471.5 559.5h0M435.5 559.5h0M482.2 559.5h0M475.4 559.5h0M484.3 559.5h0M465.4 559.5h0M431.6 559.5h0M486.8 559.5h0M455.8 559.5h0M442.1 559.5h0M455.9 559.5h0M462.8 559.5h0M471.8 559.5h0M465.1 559.5h0M435 559.5h0M461.3 559.5h0M460.9 559.5h0M462 559.5h0M458 559.5h0M450.4 559.5h0M450.4 559.5h0M478.3 559.5h0M459.9 559.5h0M427.9 559.5h0M473.8 559.5h0M459.2 559.5h0M444.7 559.5h0M449.9 559.5h0M452.8 559.5h0M455.2 559.5h0M498.7 559.5h0M496 559.5h0M498.5 559.5h0" stroke="#111" stroke-width="1.45" stroke-linecap="round"/>
<path d="M423.1 550.3L500 531.5" stroke="#6a8ab5" stroke-width="0.85"/>
<text x="423.1" y="493.2" font-size="6.9" fill="#58b05c" stroke="#58b05c" stroke-width="0.12" textLength="23.6" lengthAdjust="spacingAndGlyphs">IL-iCAF</text>
<text x="461.2" y="579.3" font-size="5.9" text-anchor="middle" fill="#333" stroke="#333" stroke-width="0.12">Cytolytic index</text>
<text x="0" y="0" font-size="6" text-anchor="middle" fill="#333" stroke="#333" stroke-width="0.12" transform="translate(408.5 529) rotate(-90)">IL-iCAF</text>
<text x="477" y="499.7" font-size="5.5" fill="#333" stroke="#333" stroke-width="0.12"><tspan font-style="italic">r</tspan> = 0.20</text>
<text x="477" y="506.4" font-size="5.5" fill="#333" stroke="#333" stroke-width="0.12"><tspan font-style="italic">P</tspan> = 9.6e-13</text>
<path d="M299.5 593.8V660.5H383.8" stroke="#222" stroke-width="0.8" fill="none"/>
<text x="297.3" y="659.8" font-size="5.1" text-anchor="end" fill="#333" stroke="#333" stroke-width="0.12">0</text>
<text x="297.3" y="647.8" font-size="5.1" text-anchor="end" fill="#333" stroke="#333" stroke-width="0.12">1</text>
<text x="297.3" y="635.8" font-size="5.1" text-anchor="end" fill="#333" stroke="#333" stroke-width="0.12">2</text>
<text x="297.3" y="623.8" font-size="5.1" text-anchor="end" fill="#333" stroke="#333" stroke-width="0.12">3</text>
<text x="297.3" y="611.8" font-size="5.1" text-anchor="end" fill="#333" stroke="#333" stroke-width="0.12">4</text>
<text x="297.3" y="599.8" font-size="5.1" text-anchor="end" fill="#333" stroke="#333" stroke-width="0.12">5</text>
<text x="302.5" y="666.7" font-size="5.1" text-anchor="middle" fill="#333" stroke="#333" stroke-width="0.12">0</text>
<text x="328.8" y="666.7" font-size="5.1" text-anchor="middle" fill="#333" stroke="#333" stroke-width="0.12">2</text>
<text x="355" y="666.7" font-size="5.1" text-anchor="middle" fill="#333" stroke="#333" stroke-width="0.12">4</text>
<text x="381.3" y="666.7" font-size="5.1" text-anchor="middle" fill="#333" stroke="#333" stroke-width="0.12">6</text>
<path d="M299.5 658h-1.4M299.5 646h-1.4M299.5 634h-1.4M299.5 622h-1.4M299.5 610h-1.4M299.5 598h-1.4M302.5 660.5v1.4M328.8 660.5v1.4M355 660.5v1.4M381.3 660.5v1.4" stroke="#333" stroke-width="0.5"/>
<path d="M344.1 633.4h0M331.8 617.6h0M333.5 617.9h0M311.6 625.7h0M330.3 616.5h0M323.2 623.6h0M332.1 616.2h0M327 634.3h0M327.5 627.5h0M332.6 625.2h0M322.3 634h0M328.5 614.7h0M310.1 614h0M317.4 638.9h0M329.3 607.2h0M328.9 631.3h0M330.3 621.2h0M325 626.2h0M325.4 629.4h0M329.5 625.7h0M320 608.3h0M357.5 627.5h0M314 625.1h0M321.9 613.4h0M325.6 620.4h0M310.2 631.7h0M334.3 625.5h0M329.6 632.9h0M310.4 622.5h0M331.3 641h0M310.1 627.3h0M310.2 622.9h0M317.3 625.6h0M322.7 624.2h0M347.5 629h0M355.4 616h0M330.7 622.2h0M324.5 608.6h0M329.4 618h0M344.6 625h0M314.7 621.8h0M331.2 604h0M313.8 618.7h0M345.7 624.9h0M317.4 637.9h0M318.6 637.9h0M315.5 612.9h0M321 622.4h0M323.1 635.4h0M331.1 624.1h0M322.2 630.5h0M316.8 630.5h0M322.2 636.4h0M321 615.1h0M327 628.9h0M322.4 636.5h0M313.4 627.6h0M316.1 612.7h0M329 644.3h0M340.5 629.9h0M327.1 608.9h0M318.9 614.3h0M328.3 616.1h0M354.4 637.2h0M310.9 623.6h0M320.7 627.3h0M319.8 618.8h0M319.9 638h0M318.3 622.3h0M323.3 618.1h0M349.1 639.1h0M333.7 638h0M313.1 618h0M318.7 622.4h0M311.8 622.1h0M310.7 630.4h0M318.8 619.6h0M324.9 633.7h0M329.7 621.8h0M316.5 621h0M317.4 610.4h0M313.5 627.1h0M333.1 641.1h0M359.6 628.2h0M313.9 619.1h0M343 628.4h0M330.2 620.8h0M307 615.6h0M333.8 628.5h0M328.3 617.6h0M343.5 622.9h0M320.4 637.9h0M324.7 624.8h0M313.9 626.4h0M325.4 608.3h0M320.6 619.2h0M322.7 619.3h0M314.7 633.4h0M317.8 622.2h0M314.8 616.7h0M311.5 640.9h0M327.8 626.7h0M367.2 635.4h0M313.7 623.1h0M338.7 624.2h0M323.6 616.8h0M345.4 609.5h0M321.6 623.1h0M360.3 625.5h0M351.6 616.6h0M322.3 633.7h0M324.6 624.7h0M319.6 631.9h0M322.3 618.4h0M317.6 621.3h0M340.6 638h0M310.4 639.1h0M313.2 613.3h0M329.3 620.4h0M315.7 622.6h0M323.6 616.9h0M336.7 626.6h0M313.7 624.2h0M314.4 617.7h0M325.7 615.9h0M305.5 609.2h0M320.4 630.6h0M323.1 622.7h0M326.9 629h0M332.2 598.9h0M318 632.3h0M312.8 624.2h0M308.5 604.1h0M314.1 627.8h0M350.3 612.6h0M345.9 619.1h0M307.6 622h0M320.2 611.7h0M315.3 626.3h0M325 629.1h0M318.4 626.2h0M342.5 619.6h0M333 616.7h0M316.6 625.5h0M347.9 625.1h0M326.6 638.7h0M340.7 623.2h0M342.4 633h0M330.7 620.3h0M315.3 604.8h0M326.8 607.9h0M317.1 613.6h0M317.7 621.4h0M322.4 620.3h0M324.2 622.9h0M335.3 616.3h0M357.3 623h0M323.3 638.6h0M315 621.6h0M333 608.6h0M340.7 628.4h0M353.5 637.7h0M337.2 622.7h0M328.6 617.5h0M336.4 617.3h0M324.6 612.9h0M317.3 631.8h0M309.8 612.7h0M315.9 618.7h0M315.6 626.9h0M348.1 611.1h0M335.1 610.9h0M345.1 617.7h0M325.9 627.8h0M313.1 615.2h0M366.3 629h0M335.3 610.6h0M318.4 624.5h0M310.9 621.9h0M327.9 626.6h0M341.4 638.2h0M309.7 621.6h0M310.6 620.6h0M333.1 624.6h0M334.3 613.7h0M313.1 642.8h0M333.6 629h0M349.4 621.2h0M310.2 601h0M328.9 609.3h0M339.1 617.9h0M319.4 623.8h0M307.6 620.1h0M313.8 605.9h0M345.6 617.3h0M315 626.7h0M311.4 635.5h0M309.3 609.3h0M316.7 624.9h0M326.7 622h0M310.6 612.8h0M319.1 614.5h0M327.9 625.6h0M312.7 617.7h0M369.2 612.7h0M345.8 637.1h0M336.2 623.6h0M319.5 621.4h0M335.1 636.4h0M333.4 627.7h0M346.1 610.5h0M313.1 619.4h0M320.8 632.1h0M321.7 617.4h0M321.3 614.6h0M341.2 626.3h0M317.9 635.2h0M312.5 624.1h0M309.4 627.4h0M323 623.7h0M368.3 633.8h0M349.3 619.3h0M311.6 617.2h0M355 611.5h0M337.8 635.3h0M343.2 614.6h0M317.7 624.1h0M308.5 610.8h0M335.5 628.7h0M350 627.3h0M312.5 623.4h0M325.6 636.9h0M314.9 628.5h0M321.1 619.8h0M319.5 620.3h0M321.9 615.1h0M324.6 612.2h0M316.7 644.2h0M323.3 619.5h0M331.6 621.1h0M329.1 633.6h0M324.9 625.4h0M321.1 626.8h0M342.3 603h0M315.1 624.4h0M326.3 622.1h0M317.4 610.5h0M379.8 624.9h0M330.9 612.8h0M317 635.4h0M314.1 611.3h0M352.6 628.6h0M323.3 624h0M319.8 636.1h0M330.2 646.4h0M338.9 618.4h0M318.4 622.1h0M329.5 636h0M315.6 620.6h0M330.5 616h0M333.1 624.2h0M327.3 624.9h0M309.7 624.4h0M328.4 616.8h0M317.3 617h0M324.3 625.4h0M329.8 634.7h0M334.9 635.7h0M315.2 632.7h0M323.3 612.3h0M321.1 619.1h0M331.4 619.7h0M308.6 614.7h0M321.9 614.6h0M325.6 621.3h0M324.2 623.1h0M317.1 646.1h0M335.8 626.2h0M325.4 631.7h0M329.2 608.9h0M369.7 623.1h0M326.7 638.9h0M329 622.3h0M314.1 618.8h0M330.9 630.8h0M313.3 606.6h0M317.3 609.1h0M321.3 630.9h0M305.9 626.8h0M324.2 625.5h0M320.3 627.6h0M341.9 618.7h0M331.2 619.4h0M325.1 620.7h0M330.3 617h0M310.6 635.3h0M339.5 624.8h0M322.9 627h0M314.8 640.6h0M328.6 609.8h0M326.5 607.3h0M322.8 618.3h0M311.4 619.1h0M343.8 627.8h0M323.8 618.2h0M337.8 613.5h0M322.1 623h0M318.2 622.9h0M325.1 603.2h0M308.4 611.4h0M314.1 623.1h0M324.8 621.7h0M323.8 623.5h0M327 628.1h0M329.9 620h0M312.4 622.8h0M320.6 639.1h0M318.6 617h0M318 628.3h0M319.3 623.3h0M337.8 625.6h0M347.3 610.8h0M327.2 624.6h0M325.7 616.5h0M320.3 632h0M333.2 626h0M318 611.1h0M324.4 622.2h0M324 621h0M317 636.9h0M325.3 621.8h0M322.1 618.5h0M321.7 616h0M330.3 638.9h0M328.2 621.1h0M329.4 617.9h0M327.6 618.4h0M310.2 630h0M335 624.5h0M311.1 618.6h0M322.9 632.1h0M326.5 621.3h0M309.9 627.7h0M328.2 634.4h0M340.8 620.3h0M317.7 623.4h0M305.4 624.3h0M308.2 619.7h0M365.6 616.8h0M341.7 611.6h0M307.7 628.9h0M312.9 634h0M342.5 625.1h0M310.8 630.6h0M321.8 617.8h0M347.9 610.6h0M349.6 623.9h0M334.5 620.9h0M318.6 626.8h0M326.9 623.9h0M314.6 620.2h0M314.3 604.4h0M307.5 638h0M329.4 608.1h0M334.1 633.2h0M328.1 623.2h0M321.1 614h0M312 624.6h0M319.7 624.6h0M336.1 628.6h0M308.9 626.2h0M340.6 620.6h0M319.8 612.5h0M319 627.3h0M335.7 621h0M311.6 624.9h0M331.1 618.4h0M339.6 618.5h0M313.3 643.7h0M329 628.4h0M319.8 608.1h0M314 603.5h0M341.8 629.6h0M314.5 602.8h0M323.6 618.2h0M330.1 635.4h0M308.5 624.6h0M330.6 611.1h0M333 610.8h0M349 621.7h0M316 625.4h0M353.4 636.3h0M309 625.1h0M325.8 637.1h0M331.6 621.6h0M321.4 623.5h0M310.2 621.2h0M322.6 610.1h0M324 629.2h0M313.2 639.2h0M320.1 634.7h0M313 613.9h0M308.7 633.9h0M322.7 615.6h0M325.4 630h0M311.5 609.4h0M334.5 625.2h0M319.5 631.7h0M312.2 608.2h0M332 611.1h0M320.6 630.5h0M327.6 621.2h0M310.7 625.5h0M365 608.6h0M317.2 620.1h0M319.1 610.4h0M330.6 618.3h0M321.9 637.5h0M319.3 622.1h0M335.9 625h0M334.7 616.7h0M333.2 625.9h0M321.1 616.5h0M361.3 635.4h0M323.9 620.5h0M324.4 624.8h0M324.1 629.4h0M310 610.8h0M371.3 628h0M341.9 618.7h0M329.2 624.9h0M310.8 613.6h0M330.4 609.5h0M351.8 617.6h0M329.9 636.7h0M335.6 621.3h0M343.1 608.8h0M342.2 606.7h0M353.3 622.9h0M327.5 641.4h0M312.8 624h0M321 634.3h0M314.1 633.3h0M318.7 621.1h0M337.6 614.1h0M322.3 632h0M317.7 632.8h0M318.1 625.5h0M311.5 612.5h0M331.5 612.1h0M323.9 623.7h0M320.2 620.3h0M323.8 629.1h0M322.1 627.3h0M317.7 617.1h0M327.6 632.6h0M333.6 609.8h0M310.4 619.9h0M348.8 619.8h0M331.1 623h0M336.4 613.8h0M338.5 614.9h0M328.5 627.1h0M319.9 626.3h0M316.5 613.7h0M339.4 631.3h0M322.5 615h0M326.8 621.3h0M339.3 609.2h0M362.9 628.9h0M312.4 602.5h0M310.8 622.9h0M321.7 633.1h0M337.9 626.2h0M330.3 612.8h0M328.5 623.2h0M325.5 634.9h0M361.4 631.4h0M316.5 606.8h0M339.7 638.7h0M313.6 636.5h0M318.6 614.1h0M327.1 617.9h0M325.9 627.1h0M324.7 623.2h0M308.3 602.8h0M309.1 635.3h0M326.2 618.4h0M330.6 626.6h0M311.1 607.1h0M318.9 642h0M330.6 628h0M316.5 620.2h0M330.1 617.8h0M310.4 631h0M335.4 617.4h0M335.3 616.8h0M315.8 644.3h0M319.4 621h0M330.9 619.6h0M331 612.7h0M328.2 626.8h0M310 634.5h0M362.9 635.4h0M316 626.9h0M333.5 619.8h0M321.6 629.2h0M332.4 630.5h0M328.7 632.5h0M320.7 620.8h0M313.8 623.8h0M328.5 641.5h0M331.9 612.4h0M339.5 626.6h0M311.7 619h0M327 624.6h0M312.7 634.4h0M334.9 629.2h0M313.1 628.1h0M342 631.8h0M340.9 608.9h0M355.3 631.7h0M314 616.1h0M319.5 633.6h0M319.4 621.5h0M333.5 619.3h0M321.2 614.2h0M341.9 622.6h0M328.1 624.9h0M326.2 609.4h0M360.9 617.6h0M314.6 628.6h0M331.5 623.2h0M320.8 624.9h0M317.6 617h0M312.9 607h0M327.5 630h0M317.6 611.8h0M315.6 620.4h0M314.1 621.3h0M323.7 623.4h0M316.1 614.2h0M326.5 624.2h0M306.8 636.5h0M330.2 618.6h0M320.6 629.6h0M332 610.7h0M320.9 632.4h0M314.2 617.3h0M328.7 629.3h0M329.6 633.7h0M325.8 607.2h0M319.4 615.9h0M339.7 625.3h0M317.1 628.3h0M325.3 637.9h0M325.2 620.6h0M321 633.9h0M317.8 641.9h0M337.4 623.7h0M318.2 635.6h0M326.6 628.7h0M334.5 621.2h0M325.7 618.4h0M328.9 631.4h0M323.6 621.2h0M318.9 616.7h0M345.4 639.7h0M314.3 629.1h0M330.9 608.2h0M330.5 621.6h0M316 611.5h0M308.6 620h0M323.8 608.4h0M320.2 631.8h0M336.9 626.9h0M327.4 614.4h0M320.1 626.8h0M311 629.3h0M314.1 621.8h0M335.1 614.8h0M320.7 624.7h0M353.5 610.9h0M344.5 633.7h0M309.8 640.9h0M319.9 614.8h0M316.3 647.1h0M317.9 618.8h0M325.4 607.8h0M327.7 614.7h0M323.8 604.5h0M319 641.2h0M341.2 629.3h0M338.9 609.7h0M309 629.5h0M306.3 627.2h0M318.3 621.7h0M310 630.4h0M318.9 615.4h0M311.2 616.6h0M312.9 616.4h0M333.3 621h0M330.7 626.1h0M334.9 621.9h0M313 629.9h0M342.7 620.3h0M344.8 608h0M347.1 600.8h0M321.6 617.2h0M309.5 603.6h0M319.7 623.8h0M327 614.1h0M323.1 637.8h0M327.5 608.4h0M325.6 634.5h0M342.3 629.8h0M316 610h0M338.9 611h0M319.7 623.2h0M321 611.3h0M316.6 631h0M328.5 608.2h0M365.9 624.2h0M319.2 629.2h0M326.8 603.9h0M354.1 618.7h0M326.7 610.6h0M330.6 626.5h0M339.4 620.7h0M331 631.1h0M314.5 610.1h0M337.1 611h0M306.9 614.4h0M317.7 615.2h0M325.5 642.2h0M327.1 613.7h0M319 613.7h0M326.4 623.5h0M324.8 617.9h0M345 627.1h0M329 615.3h0M363.5 617h0M355.5 624.1h0M318.1 617.3h0M315.7 616.9h0M315.2 620.3h0M341.4 613.6h0M314.7 615.8h0M336.3 618h0M306.5 626h0M339.2 623.1h0M324.4 614.1h0M317.3 612h0M339.2 634.2h0M317.2 615.4h0M314.7 622.8h0M336.4 623.1h0M324 629.2h0M332.6 626.6h0M339.3 628.6h0M318.2 634.4h0M310.3 626.7h0M323.7 628.7h0M324.5 631.4h0M330.9 611.5h0M321.5 622.9h0M332.3 629h0M322.5 629.1h0M320.7 617h0M335.3 620.7h0M337.6 626.1h0M323.1 617.8h0M323.5 622h0M341.1 616h0M336 606.6h0M329.7 617.1h0M352.6 623.3h0M325.4 610.9h0M315.7 625.2h0M319.5 617.5h0M308.7 626.1h0M342.9 614.4h0M324.7 608.5h0M317.8 624.3h0M328.9 627.6h0M317.2 619.9h0M319 624.3h0M327.3 625.7h0M321.1 631.4h0M315.4 620.6h0M310.3 608.9h0M319.2 628.7h0M345.8 617.1h0M321.4 607.6h0M314.7 635.3h0M349.8 619.9h0M315.9 630.5h0M333.8 617.6h0M341.4 614.6h0M321.5 621.6h0M344.4 625.2h0M313.5 627.2h0M334.1 623.9h0M337.5 621.6h0M308.6 605.2h0M313 613.9h0M321.8 618.7h0M328.9 614h0M325 613.9h0M321.9 606.1h0M320.7 621.9h0M349.1 627h0M320.5 618.5h0M323.2 633.8h0M322.2 623.2h0M318.4 634.3h0M315.1 639.9h0M317.1 615.1h0M322.6 622.6h0M310.2 617.8h0M333.9 622h0M311.9 617.8h0M317.5 612.9h0M323.9 616h0M338.6 623.7h0M353.1 617.2h0M333.7 628.1h0M318.7 626.5h0M338.6 617h0M330 616.8h0M343.2 638.1h0M318.6 632.1h0M318.5 616.1h0M339.7 626.5h0M362.3 625.9h0M319.9 618.7h0M317.7 619h0M318.8 624.5h0M336.1 631.2h0M316.8 612.1h0M321.9 619.3h0M314.5 621.9h0M317.9 638h0M320.3 617.4h0M319.5 648.4h0M319.6 618.7h0M318.4 628h0M331.4 632.5h0M306.3 624.5h0M332.6 620.5h0M311.6 628.5h0M327 619.1h0M326.9 619.3h0M367.7 619.2h0M320.3 622.5h0M355.5 630.9h0M311.6 627.4h0M318 628.5h0M326.5 630.6h0M311.7 632.3h0M323.4 618.8h0M334.5 614.1h0M322.4 629.8h0M329.6 632.7h0M311.5 627.7h0M309.2 627.2h0M315.7 621.6h0M318.2 633.3h0M327.2 629.4h0M326.2 613.4h0M344 631.5h0M333.7 617h0M318.2 619.6h0M327 605.1h0M315 633.4h0M316.5 623.3h0M321.2 619.5h0M315.6 636.6h0M330.2 626.2h0M315.1 620h0M315.8 631.4h0M314 618.4h0M316.7 635.8h0M327.2 609.1h0M331.8 623.6h0M321.3 619.5h0M317.6 608.9h0M312.5 606.4h0M340.5 635.3h0M329.9 630.3h0M311.1 629.7h0M319.9 635.7h0M325 617.2h0M338.2 610.9h0M322.1 634.5h0M378.6 609h0M318.2 629h0M325.8 621.5h0M314 612h0M323.7 624h0M338.4 609.6h0M315 621.1h0M314.8 623.4h0M326.4 618.1h0M322.9 617.6h0M342.6 619h0M335.9 619.4h0M327.6 611.4h0M326.2 628.9h0M312.4 620.1h0M363.1 616.2h0M332.8 626.3h0M327.3 613.1h0M316.9 631.5h0M318.5 619.6h0M373.7 623.3h0M343.9 621.1h0M326.1 627h0M322.3 633.2h0M324.2 622.4h0M332.4 620.4h0M316 619.2h0M327.2 620.6h0M319.2 630.8h0M327.3 619.4h0M332.3 611.3h0M335.7 628.6h0M335.6 608h0M326 618h0M334.7 615.4h0M336.7 622.1h0M335.4 627.5h0M316 610.2h0M354.2 620.9h0M370.5 628.8h0M312.2 619.9h0M310.7 630.3h0M315.5 629.6h0M330.8 603.4h0M319.8 623.4h0M330 622h0M320.3 636.6h0M309.9 629.2h0M324.3 631.7h0M329.9 609.6h0M333.3 615.8h0M323.2 627h0M319.6 622.2h0M333 624.3h0M331.6 636.5h0M353.7 622.6h0M332.3 623.3h0M342.3 609h0M336.3 620.1h0M312.3 622.5h0M316.6 619.1h0M329.3 611.3h0M338.6 634.2h0M306 627.6h0M329.5 620.6h0M322.3 628.4h0M316 621.8h0M310.5 627.8h0M315.5 635.8h0M320.3 629.4h0M321.7 631.2h0M331.4 610.1h0M309.3 634.7h0M319 609.5h0M315.7 626.2h0M316.3 631.3h0M343.6 625.9h0M314.2 639.8h0M325 626.7h0M340.6 619.4h0M316.2 615h0M320.7 632.8h0M325.9 623.7h0M323.9 618.8h0M319.3 628.7h0M333.6 613.7h0M340 622.7h0M313 638.8h0M347.8 622.4h0M326.7 638.1h0M317.9 623.4h0M333 631.4h0M311.9 622.3h0M329 623.7h0M317.9 606.8h0M310.2 634.5h0M318.6 619h0M319.2 614.8h0M331.8 643.9h0M310.7 622.9h0M331.9 614.4h0M315.9 620.6h0M341.6 610.4h0M341.1 612.6h0M324.1 638.5h0M355.2 620.8h0M318.3 614.7h0M320.7 628.9h0M310.8 624.5h0M332.1 618.6h0M365.7 623.7h0M322.9 612.8h0M309.8 629.9h0M341.9 630.6h0M326.1 615h0M320.6 639.2h0M319.8 618.3h0M333.1 624.8h0M311.5 623.2h0M319.9 615.3h0M319.4 611.8h0M337 615.3h0M314.6 619.6h0M368.7 620.1h0M320.7 631.4h0M315.9 613.7h0M320.7 634.5h0M328.1 627h0M317.8 616.7h0M332.1 622h0M318.7 618h0M340.1 632.4h0M339.8 626.7h0M348 601.5h0M311.4 629h0M352.4 623.7h0M321.4 645h0M333.2 619.6h0M345.7 622.2h0M334 631.1h0M308.6 615.4h0M325.3 611.5h0M332 623.6h0M334.3 609.4h0M311 614h0M364.7 622.4h0M337.9 635.2h0M321.4 625h0M356.1 620h0M329 620h0M324 635.6h0M333.8 626h0M325.1 631.6h0M328.1 623.1h0M314.9 609.9h0M329.5 639.3h0M345.7 632.6h0M319.6 611.5h0M310.7 632.7h0M322.5 613.4h0M316.1 610.8h0M315.1 614.6h0M324.6 611.8h0M314.6 628h0M318.5 628.6h0M339.4 625.6h0M318.1 620h0M326.9 624.5h0M316 617.8h0M321.3 622.8h0M322.1 624.5h0M324.8 610.4h0M326.5 627.8h0M309.9 620.3h0M311.1 635.1h0M315.1 609.8h0M327.3 623.6h0M322.3 623.6h0M340.9 645.1h0M326.4 630.1h0M318 614.1h0M316.8 632.3h0M336.2 630.1h0M331.9 625.8h0M321.7 610.2h0M337.8 624.4h0M342.5 620.8h0M334.3 599.8h0M349.2 627.9h0M319.1 610.6h0M327.2 632.6h0M314.5 629.4h0M333.4 614.3h0M320.5 622.8h0M318.3 627.3h0M324.1 623.1h0M312.8 623.8h0M331.7 631.8h0M305.5 601.7h0M320.4 627.5h0M315.7 625h0M319.3 625.7h0M318 623.7h0M326.1 626.5h0M339 618.3h0" stroke="#111" stroke-width="1.25" stroke-linecap="round"/>
<path d="M304.6 658.5h0M323 658.5h0M316.8 658.5h0M325 658.5h0M337.3 658.5h0M336.8 658.5h0M307.3 658.5h0M312.2 658.5h0M315.7 658.5h0M334.1 658.5h0M321.2 658.5h0M329.4 658.5h0M319.7 658.5h0M322.9 658.5h0M318.3 658.5h0M315.1 658.5h0M311.3 658.5h0M319.7 658.5h0M323.6 658.5h0M311.5 658.5h0M317.1 658.5h0M328.7 658.5h0M319.2 658.5h0M333.7 658.5h0M330.8 658.5h0M333.4 658.5h0M311.3 658.5h0M328 658.5h0M335.1 658.5h0M308.2 658.5h0M307.1 658.5h0M304 658.5h0M306.4 658.5h0M323.5 658.5h0M322.3 658.5h0M325.4 658.5h0M310.1 658.5h0M332.9 658.5h0M307.3 658.5h0M310.4 658.5h0M313.1 658.5h0M322.5 658.5h0M305.1 658.5h0M323.8 658.5h0M331 658.5h0M311.8 658.5h0M336 658.5h0M317.2 658.5h0M325.7 658.5h0M303.5 658.5h0M332.7 658.5h0M309.8 658.5h0M333.8 658.5h0M329.6 658.5h0M331.2 658.5h0M329.2 658.5h0M336 658.5h0M308.8 658.5h0M306.9 658.5h0M306.4 658.5h0M322.1 658.5h0M327.6 658.5h0M333.3 658.5h0M337.2 658.5h0M321.7 658.5h0M333.7 658.5h0M333.8 658.5h0M315.8 658.5h0M316 658.5h0M314.9 658.5h0M325.7 658.5h0M313.6 658.5h0M328.5 658.5h0M319.5 658.5h0M325.9 658.5h0M331.6 658.5h0M320.4 658.5h0M308.1 658.5h0M337.9 658.5h0M326 658.5h0M331.4 658.5h0M334.6 658.5h0M328.4 658.5h0M315.7 658.5h0M334.1 658.5h0M334.7 658.5h0M337 658.5h0M307.2 658.5h0M314.8 658.5h0M322.3 658.5h0M337.6 658.5h0M325.3 658.5h0M336.6 658.5h0M325.4 658.5h0M313.9 658.5h0M328.7 658.5h0M329.9 658.5h0M309.8 658.5h0M317.7 658.5h0M305.4 658.5h0M332.2 658.5h0M335.4 658.5h0M312.7 658.5h0M336.1 658.5h0M324.9 658.5h0M334.3 658.5h0M324.4 658.5h0M306.6 658.5h0M315.1 658.5h0M321.4 658.5h0M322.1 658.5h0M320.9 658.5h0M311 658.5h0M315.5 658.5h0M310.5 658.5h0M333.3 658.5h0M317 658.5h0M308.3 658.5h0M329.3 658.5h0M334.9 658.5h0M325.5 658.5h0M314.8 658.5h0M317 658.5h0M323.8 658.5h0M304 658.5h0M328.1 658.5h0M308.1 658.5h0M319.9 658.5h0M304.7 658.5h0M306.1 658.5h0M331.2 658.5h0M322.1 658.5h0M305.6 658.5h0M308 658.5h0M330.5 658.5h0M336.6 658.5h0M317 658.5h0M326.9 658.5h0M317.7 658.5h0M330.8 658.5h0M308.8 658.5h0M308.2 658.5h0M332.4 658.5h0M335.5 658.5h0M306.4 658.5h0M335.6 658.5h0M333.1 658.5h0M315.4 658.5h0M335.3 658.5h0M307.5 658.5h0M326.3 658.5h0M308.8 658.5h0M315.6 658.5h0M325.8 658.5h0M323.3 658.5h0M334.8 658.5h0M332.5 658.5h0M315.7 658.5h0M324.2 658.5h0M314.8 658.5h0M319.1 658.5h0M328.9 658.5h0M328.2 658.5h0M328.1 658.5h0M308 658.5h0M310 658.5h0M309.3 658.5h0M304.1 658.5h0M306.1 658.5h0M328.9 658.5h0M322.4 658.5h0M334.3 658.5h0M313.2 658.5h0M317.9 658.5h0M336.1 658.5h0M320.1 658.5h0M329.8 658.5h0M319.4 658.5h0M317.6 658.5h0M306.8 658.5h0M329.9 658.5h0M327.2 658.5h0M313.3 658.5h0M303.8 658.5h0M325.4 658.5h0M327.3 658.5h0M313.2 658.5h0M331.1 658.5h0M307.2 658.5h0M305.3 658.5h0M305.3 658.5h0M314.9 658.5h0M305.8 658.5h0M319.5 658.5h0M303.5 658.5h0M331.1 658.5h0M318.3 658.5h0M325.3 658.5h0M334.7 658.5h0M320.1 658.5h0M323 658.5h0M332.9 658.5h0M315.2 658.5h0M325.8 658.5h0M309.1 658.5h0M337.5 658.5h0M312.4 658.5h0M337.9 658.5h0M324.6 658.5h0M337.4 658.5h0M335.8 658.5h0M317.1 658.5h0M321.1 658.5h0M316.4 658.5h0M308.2 658.5h0M309.7 658.5h0M308.8 658.5h0M306.7 658.5h0M319.9 658.5h0M323 658.5h0M327.7 658.5h0M327.6 658.5h0M327.4 658.5h0M326.1 658.5h0M326.2 658.5h0M309.5 658.5h0M319.9 658.5h0M306 658.5h0M323.5 658.5h0M326.3 658.5h0M305.5 658.5h0M326.3 658.5h0M306.4 658.5h0M319.4 658.5h0M327.8 658.5h0M314.2 658.5h0M327.3 658.5h0M318.9 658.5h0M303.4 658.5h0M332.9 658.5h0M312.8 658.5h0M313.3 658.5h0M312.3 658.5h0M328.8 658.5h0M306.8 658.5h0M305.2 658.5h0M330.8 658.5h0M312.7 658.5h0M334.1 658.5h0M325.9 658.5h0M327.3 658.5h0M316.8 658.5h0M336 658.5h0M328.3 658.5h0M307.9 658.5h0M324.3 658.5h0M319 658.5h0M322 658.5h0M313.3 658.5h0M319.4 658.5h0M322 658.5h0M303.3 658.5h0M334.2 658.5h0M316 658.5h0M335.9 658.5h0M325.8 658.5h0M323.1 658.5h0M320.5 658.5h0M320.2 658.5h0M330.4 658.5h0M321.9 658.5h0M322.7 658.5h0M327.9 658.5h0M324.9 658.5h0M306.3 658.5h0M363.3 658.5h0M355.2 658.5h0M366.7 658.5h0M355.9 658.5h0M338.9 658.5h0M367.1 658.5h0M361 658.5h0M372.6 658.5h0M362.7 658.5h0M353.2 658.5h0M359.4 658.5h0M350.1 658.5h0M372 658.5h0M372.7 658.5h0" stroke="#111" stroke-width="1.45" stroke-linecap="round"/>
<path d="M302.5 631.3L380 623.8" stroke="#6a8ab5" stroke-width="0.85"/>
<text x="298.9" y="591.6" font-size="6.9" fill="#dc3440" stroke="#dc3440" stroke-width="0.12" textLength="38.6" lengthAdjust="spacingAndGlyphs">ecm-myCAF</text>
<text x="341.6" y="674.6" font-size="5.9" text-anchor="middle" fill="#333" stroke="#333" stroke-width="0.12">Cytolytic index</text>
<text x="0" y="0" font-size="6" text-anchor="middle" fill="#333" stroke="#333" stroke-width="0.12" transform="translate(288.1 626.5) rotate(-90)">ecm-myCAF</text>
<text x="356.3" y="596.9" font-size="5.5" fill="#333" stroke="#333" stroke-width="0.12"><tspan font-style="italic">r</tspan> = 0.09</text>
<text x="356.3" y="603.9" font-size="5.5" fill="#333" stroke="#333" stroke-width="0.12"><tspan font-style="italic">P</tspan> = 0.001</text>
<path d="M419.9 593.5V660.3H502.6" stroke="#222" stroke-width="0.8" fill="none"/>
<text x="417.7" y="660" font-size="5.1" text-anchor="end" fill="#333" stroke="#333" stroke-width="0.12">0</text>
<text x="417.7" y="647.6" font-size="5.1" text-anchor="end" fill="#333" stroke="#333" stroke-width="0.12">1</text>
<text x="417.7" y="635.2" font-size="5.1" text-anchor="end" fill="#333" stroke="#333" stroke-width="0.12">2</text>
<text x="417.7" y="622.8" font-size="5.1" text-anchor="end" fill="#333" stroke="#333" stroke-width="0.12">3</text>
<text x="417.7" y="610.4" font-size="5.1" text-anchor="end" fill="#333" stroke="#333" stroke-width="0.12">4</text>
<text x="417.7" y="598" font-size="5.1" text-anchor="end" fill="#333" stroke="#333" stroke-width="0.12">5</text>
<text x="423.1" y="666.5" font-size="5.1" text-anchor="middle" fill="#333" stroke="#333" stroke-width="0.12">0</text>
<text x="449.2" y="666.5" font-size="5.1" text-anchor="middle" fill="#333" stroke="#333" stroke-width="0.12">2</text>
<text x="475.2" y="666.5" font-size="5.1" text-anchor="middle" fill="#333" stroke="#333" stroke-width="0.12">4</text>
<text x="501.3" y="666.5" font-size="5.1" text-anchor="middle" fill="#333" stroke="#333" stroke-width="0.12">6</text>
<path d="M419.9 658.2h-1.4M419.9 645.8h-1.4M419.9 633.4h-1.4M419.9 621h-1.4M419.9 608.6h-1.4M419.9 596.2h-1.4M423.1 660.3v1.4M449.2 660.3v1.4M475.2 660.3v1.4M501.3 660.3v1.4" stroke="#333" stroke-width="0.5"/>
<path d="M437.1 618.6h0M439.2 637.7h0M481.5 624.6h0M448.9 614.6h0M451.4 611.2h0M432.3 629.4h0M442.8 621.7h0M457.5 629.4h0M431.1 628.2h0M444.4 626.2h0M458.4 613.9h0M434 627.4h0M434.3 605.1h0M432.8 616.9h0M435.2 615.9h0M461.4 624h0M430.4 640h0M436.6 618.1h0M447.4 606.7h0M429.2 621.5h0M448.1 622.8h0M458.7 609.5h0M433.1 624.4h0M458.9 638.6h0M440.3 603.8h0M459.4 612.4h0M441.4 629.5h0M445.2 626.1h0M433.2 614.8h0M487.3 626.5h0M434.7 618.6h0M440.7 611.8h0M447.7 609.1h0M442.3 624.2h0M443.2 630.5h0M436.1 626.5h0M452.7 621h0M452.7 628.3h0M487.8 611.3h0M431.2 618.2h0M453 628.2h0M435.8 623.4h0M431.9 611h0M436.3 620.9h0M447.1 613.2h0M440.2 616.9h0M456.8 635.8h0M453.8 605.6h0M432.4 623.2h0M475.6 614.3h0M441.8 637.5h0M442.6 623.6h0M470.6 611.5h0M433.4 609.7h0M478 625.1h0M470.2 611.4h0M457.3 624.1h0M432.2 612.3h0M445.7 609h0M445.1 615.3h0M452.5 611.5h0M438.1 608.7h0M475.2 631.5h0M451.6 607.5h0M451.5 613.5h0M457.3 607h0M440.1 607h0M450.8 622.6h0M473.1 631.3h0M455.4 616.9h0M449.7 608.4h0M437.1 619.4h0M453.9 630.2h0M453.6 616.6h0M470 607.6h0M436.5 620.5h0M440.8 612.5h0M441.8 618.4h0M436.7 635.2h0M434.8 635.2h0M440.5 634h0M447.7 618.1h0M432.7 621.8h0M469.3 624.8h0M444.2 615.7h0M436 612.7h0M466.3 622.6h0M454.9 606.3h0M445.6 608h0M448.3 619h0M452.8 627.9h0M438.9 609.2h0M454.2 629.1h0M463.8 622.6h0M469.5 616.3h0M430.3 608.6h0M429.1 618.2h0M440 619h0M445.8 609.3h0M431.2 609.7h0M452.1 625.4h0M441.9 620.7h0M447.8 617.1h0M459.7 624.4h0M433 614.8h0M454.7 620.5h0M439.2 624.2h0M469.8 614.6h0M471.2 624.3h0M446.8 619h0M470.4 624.8h0M443.8 613.6h0M443.9 621.7h0M434.9 615.4h0M460.2 610.4h0M439.1 622.1h0M452.1 622.5h0M439.8 628.6h0M435.8 630.4h0M436.6 624.3h0M449.6 615.2h0M435.1 621.1h0M438.5 626.5h0M453.3 632h0M452.7 616.2h0M433.4 611.6h0M434.1 621.5h0M450.3 640.3h0M442.2 623h0M439.1 619.9h0M445.1 630.5h0M470.2 606.4h0M459.7 608.9h0M445 624.5h0M456.9 603.2h0M453.7 615.8h0M466.8 613.6h0M454 630h0M428.9 622.4h0M444.9 633.5h0M447.5 628h0M436.9 619.3h0M456.5 622.7h0M444.2 611.7h0M439.5 629.6h0M442.9 621.8h0M431.2 608.1h0M444.8 610.4h0M452.4 621h0M433.7 615.5h0M451.1 616.7h0M427.2 622.9h0M471.4 639h0M454.1 623.5h0M448.1 629h0M439.1 633.4h0M460.3 636.8h0M448.2 614.5h0M433.3 615.1h0M461.5 622.8h0M458 623.4h0M429.2 619.8h0M458.3 625.9h0M450.2 625.9h0M450.9 620.7h0M434.4 628.9h0M442 625.8h0M449.1 607h0M442.1 624.8h0M440 629.7h0M442.5 627.8h0M432.7 611.4h0M439 630.2h0M449.7 623.4h0M431.7 602.2h0M438.7 617.3h0M437.9 634.2h0M441 616.3h0M471.8 613.4h0M451.7 624.1h0M433.4 606h0M445.3 603.5h0M443.2 616.5h0M443.2 625.5h0M464 619h0M437.2 628.8h0M450.7 623.4h0M450.1 613.5h0M435.1 622.9h0M454.8 628.1h0M429.6 622h0M440.8 619.5h0M449.4 630.2h0M437.6 620h0M448.1 626.4h0M460.3 622.3h0M441 624.9h0M464 608.2h0M449.4 631.7h0M441.2 617.2h0M451.4 616.4h0M456.9 598.4h0M461.4 607.3h0M427.9 614.6h0M462.8 613h0M452.6 620.9h0M440.5 627.1h0M436.7 635.9h0M447.6 606.8h0M440.4 625.9h0M447.4 602.6h0M436 612.6h0M430.3 623h0M450.8 618.1h0M444.2 617h0M443.9 630.4h0M440 622.7h0M470.9 619.9h0M455.6 620.6h0M433.2 619.9h0M442.1 621.5h0M440 622.8h0M467.2 618.6h0M448.9 629.5h0M432.2 610.7h0M438.4 610.7h0M443.4 612h0M450.1 636.1h0M441.4 630h0M427.9 618.7h0M453.4 633.5h0M486.3 625.2h0M455.9 617.8h0M439 607.8h0M434.4 606.2h0M433.9 632.9h0M443.3 626.4h0M440.9 625.3h0M455.6 620.8h0M440.4 621h0M437 626.5h0M451.2 621.2h0M484.5 620.1h0M458.9 624.6h0M441.9 616.1h0M434.9 636.1h0M428.5 600.8h0M441.4 613.9h0M448.3 612.6h0M446.6 628.5h0M455.9 629.4h0M472.9 619.3h0M448.2 613.6h0M465.4 604.7h0M446.9 617.5h0M440.3 615.2h0M449.1 614.8h0M438 627h0M436.8 641h0M464.6 609.1h0M445.3 611.9h0M432.8 626.1h0M441.4 626.8h0M451.2 618.6h0M459.9 632.2h0M462.7 616.5h0M456.5 615.9h0M476.2 615.5h0M442.2 629.7h0M431.6 615.6h0M440.4 630.7h0M433.1 630.2h0M442.4 619.9h0M460 637h0M434.2 630.2h0M431 630.7h0M435.7 616h0M438.6 623.3h0M448.9 630.5h0M452.5 610.2h0M450.4 627.7h0M442.7 622.9h0M444.7 628.8h0M434.3 621.6h0M495.7 610.8h0M437 612.6h0M446.5 611.2h0M433.5 617.6h0M441.6 615.7h0M433.1 625.8h0M439.6 619.5h0M442.1 620.4h0M457.3 626.8h0M436 622.7h0M436.7 622.1h0M442.2 613.4h0M432.5 624.8h0M438.7 622.8h0M427.8 606.1h0M445.9 607.7h0M439.1 616.3h0M489.8 613.9h0M446.7 624.6h0M437.7 610.1h0M473.1 619.8h0M434.9 632.9h0M451.9 622.3h0M443 601.3h0M449.2 618.5h0M466 635.1h0M471.3 612.1h0M445.9 625.6h0M460.2 601.8h0M445.5 606.8h0M436.2 635.9h0M456.7 625.8h0M437.6 615.8h0M434 617.4h0M447.6 615.9h0M433.7 622.9h0M435.1 621.9h0M430.8 610.4h0M442 626h0M452.5 619h0M455.5 600.2h0M443.1 614.7h0M441.1 615.5h0M433.4 622.8h0M436.1 604.2h0M435.9 622h0M433.1 624.9h0M439 613.3h0M441.3 619.5h0M431.9 606h0M446.6 605.8h0M451.1 628.8h0M454 631.7h0M439 627.3h0M454.8 626.7h0M440.9 611.9h0M433.3 623.3h0M432.9 629h0M443.3 598.9h0M438.3 635.4h0M449.6 631.3h0M471.7 620.9h0M450.2 639.6h0M439.3 633.8h0M445.6 624.3h0M441.3 607.2h0M447.9 620.2h0M427.8 632.9h0M442.7 622.2h0M463.2 601.9h0M434.1 614.1h0M445.6 619.2h0M452.2 607h0M439.9 624.7h0M440.3 621.1h0M441.3 641.4h0M444.5 608.8h0M444.1 613.3h0M436.5 625h0M451.3 619.9h0M470.7 619h0M485.6 613.7h0M443 624.2h0M441.7 625.1h0M427.6 609.1h0M467.4 632.2h0M435.3 621.2h0M478.1 628.9h0M438.7 616.6h0M435 604.1h0M430.9 612.5h0M475.9 610.5h0M462.2 628.9h0M434 637.7h0M457.9 624.4h0M462.5 611.7h0M429 625.9h0M445.2 632.7h0M436.2 617.8h0M464.3 623.2h0M435.4 640.3h0M452.5 615.7h0M457.2 626.8h0M440.7 632.1h0M431.4 613.8h0M439.2 613.9h0M461.8 616.9h0M450.8 616h0M429.1 632.3h0M435.8 624.7h0M443.1 615.7h0M430.5 644.5h0M441.3 639.1h0M447.9 612.2h0M443.5 609.1h0M460.7 608.4h0M436.5 628.8h0M457.9 603.7h0M450.6 628.2h0M445.2 623.2h0M434.5 623.9h0M450.2 621.7h0M456.1 610.4h0M453.9 597.3h0M431 624.5h0M454 617.7h0M440 634.6h0M441.4 616.8h0M455.7 629.7h0M439.4 612.8h0M459.1 624.7h0M442.2 624.6h0M463.6 607.4h0M429.6 625.5h0M448.5 636.5h0M436.7 617.6h0M446.8 625.6h0M449.4 622.8h0M433.6 616h0M427.7 605.7h0M456.4 603.5h0M428.7 629.8h0M447.2 619.4h0M446.5 599.6h0M455.2 630h0M438.3 627.3h0M450.6 632.6h0M449.9 622h0M438.6 630.2h0M470.7 627h0M444.8 633.8h0M468.5 610.4h0M432.3 621.2h0M453.3 610.7h0M439 611.2h0M449 623.5h0M431.8 607.4h0M448.5 615.1h0M426.3 625.4h0M476.8 621.2h0M445.1 611h0M455.7 633.9h0M476.8 621.9h0M459.2 614.2h0M481.3 623h0M445.4 627.1h0M433.8 598.8h0M445.1 640h0M441.4 614.1h0M439.7 613h0M448.3 611.9h0M472 622.8h0M487.6 606.2h0M437.7 623.4h0M449.6 630.2h0M442 625.9h0M437.4 621.2h0M437.4 620.4h0M449.1 603.8h0M447.5 638.7h0M444.8 614.9h0M456 610.7h0M482.4 631h0M457.3 620.4h0M470.4 625.5h0M438 630h0M436.1 597.2h0M445.2 639.3h0M434.8 614h0M428.2 620.6h0M440.3 625.7h0M446.6 610.5h0M446.3 619.7h0M442 603.1h0M461.5 609.5h0M454.7 620.7h0M469.3 619.2h0M471.2 617.3h0M428.9 639.6h0M447.7 613.3h0M442.9 620.3h0M458.9 624.1h0M462 607.9h0M454.3 610.6h0M466 615.3h0M457.9 612.4h0M430.6 619.8h0M443.1 616.8h0M457.6 604.5h0M457.1 612.4h0M434.1 620.4h0M428.2 611.2h0M462.5 617.7h0M451.9 620.9h0M444.5 621.2h0M433.5 611.4h0M430.7 613.4h0M445.7 616.4h0M434.1 613.4h0M470.6 621.7h0M436.3 620.6h0M486.3 630h0M463.3 620.4h0M438.3 614.1h0M438.4 621.9h0M447.4 620.1h0M458.4 637.6h0M455.5 615.3h0M442.7 609.9h0M427.9 611.3h0M431.7 607.1h0M433.8 610.5h0M435.9 617.9h0M442 625.2h0M432 616.3h0M440.4 609.3h0M442.9 626.4h0M429.4 616.6h0M426.7 611.5h0M478.9 631.2h0M449 622.2h0M445.7 608.9h0M440.8 614.5h0M454.5 614.8h0M426.9 612.1h0M471.6 620.3h0M433.5 620.7h0M437.3 620.8h0M441.2 622.4h0M428.5 611.5h0M432 628.3h0M444.7 609.6h0M440.5 620.4h0M449.9 620.1h0M458.3 624.7h0M447.8 621.3h0M452 630h0M448.2 634.6h0M440.8 623.4h0M442.9 621.6h0M436.4 627.9h0M430.8 621.8h0M449.6 614.7h0M449 614.8h0M434.3 623.4h0M442.4 617h0M438.3 614.4h0M453.4 621h0M448.7 630.6h0M444.9 634.2h0M447.5 605.8h0M441.6 623.4h0M461.2 611.8h0M443.9 637.9h0M451.9 629.1h0M440 637.5h0M435.7 615.1h0M447.6 616.3h0M482.2 633.9h0M453.5 621.5h0M447.2 607.8h0M462.2 619.5h0M462.1 603.7h0M434.1 618.4h0M440.9 629.4h0M446.7 617.9h0M448.8 645h0M457.9 637.4h0M459.2 609.3h0M438.6 608.8h0M474.4 606.5h0M463.4 609.6h0M439.3 614.3h0M452.2 620.9h0M428 619.5h0M458.3 611.5h0M457.3 619.2h0M461.2 628.3h0M446.2 627.5h0M438.1 628.6h0M442.2 607.2h0M457.9 610.2h0M441.5 618.8h0M448.4 625.4h0M438.6 604.4h0M464.4 632.4h0M441.2 615.3h0M485.4 611.3h0M450.3 611.7h0M447.7 609h0M457.2 621.3h0M444.6 614.8h0M459.6 629.8h0M456.2 617.3h0M441.2 617.7h0M490.5 622.8h0M428.7 623.4h0M433.6 636.2h0M440.6 605.6h0M437.9 639.3h0M440.8 623.6h0M449.2 629.1h0M442.4 621.7h0M444.2 615.5h0M450 633.6h0M435.2 603.3h0M454.9 632h0M432.7 616.4h0M443.2 609.8h0M427.8 613.4h0M457.8 615.8h0M445.4 618.3h0M457 623.1h0M450.7 622.6h0M444.3 622.3h0M461 630.3h0M471 625.4h0M440.6 617.7h0M440 599.1h0M449.6 621.6h0M432.7 614.4h0M430.1 639h0M450.7 629.1h0M439.3 624h0M436.1 608.8h0M434.9 621.8h0M439.5 630.1h0M429.3 622.5h0M483.2 618.5h0M431.6 631.1h0M435 636.2h0M441.1 614.5h0M439.5 616.8h0M456.7 627.8h0M436.4 624.1h0M461.5 613.4h0M436.5 612.6h0M454.5 625.2h0M444.5 625.3h0M432.7 628.8h0M441.9 627.5h0M434.8 635.9h0M452.3 624.5h0M436.2 623.6h0M467.2 610.6h0M459.1 649h0M439.1 615.1h0M443.9 609.4h0M446.8 615.7h0M453.1 635.6h0M447.5 636.5h0M435.2 626.4h0M460.2 621.9h0M442.8 626.4h0M429.1 617.4h0M444.1 617.7h0M457.9 620.6h0M440.9 631.4h0M467.3 626.9h0M458.9 630.5h0M469.8 627.9h0M470.8 621.1h0M445.4 611.2h0M465.2 614.6h0M456.2 618.5h0M443.2 631.7h0M440.2 625h0M436 619.7h0M429.7 626.2h0M472.6 627.6h0M449.8 613.4h0M462.9 608.8h0M452.6 628.1h0M436.8 608.8h0M447.1 620.1h0M446.9 636.8h0M461.7 610.6h0M456.6 605.5h0M459.4 621.2h0M457.3 618.9h0M454.2 618h0M451.2 613.7h0M442.7 631.6h0M470.7 628.1h0M466.2 615.8h0M442.5 620.1h0M435.7 605.9h0M485.7 607.7h0M450.5 614.9h0M466.8 625.4h0M450.9 624.2h0M431.4 635.5h0M435.1 607.5h0M446.3 638.8h0M445.8 639h0M476.3 610.7h0M435 629.6h0M447.3 627.4h0M430 612.2h0M471.4 621h0M461.2 605.6h0M441.5 628.4h0M435.1 626.4h0M454.1 628.6h0M453.2 618.9h0M449.4 611.9h0M457.1 611.7h0M493.1 600h0M441.5 606.5h0M435 625.7h0M442.6 623.3h0M461 613.8h0M430.7 608h0M436.3 613.4h0M442.3 613.2h0M441.6 603.6h0M449.4 622.3h0M435.7 619.9h0M456 607.5h0M444.3 632h0M438.4 633.5h0M449.1 624.4h0M445.9 618.8h0M431 602.3h0M467.6 616h0M446.5 639.6h0M464.7 604.8h0M445.6 606.8h0M445.3 607.8h0M460.7 610.8h0M474.5 633.3h0M434.4 635.2h0M437.5 600.9h0M467.7 605.4h0M433 631h0M450.3 618.1h0M447.8 623.5h0M450.6 604.4h0M464.1 639.2h0M450.7 607.2h0M442.8 621.8h0M441.6 618.1h0M443.6 616.5h0M462.4 625.6h0M439.4 616.7h0M436.4 642.1h0M430.2 618.3h0M476.1 618h0M447.7 610.6h0M437.9 619.5h0M443.7 607.5h0M458.2 604.3h0M488 612.3h0M453.6 608.5h0M437.9 615.4h0M460.8 637.6h0M448.4 604.8h0M457.6 616.5h0M441.4 617.7h0M442.7 632.1h0M429.5 624.8h0M436.7 623.5h0M458.6 604.1h0M449.7 609.8h0M445.7 612.7h0M431.7 620.1h0M471.8 612.3h0M436.6 610h0M457.2 617.8h0M439.7 622.5h0M460.9 620.5h0M426.9 620.1h0M457.9 627.7h0M445.8 604.7h0M445.3 625.6h0M457 615.9h0M432.7 617.1h0M457.7 630.5h0M464.4 625.3h0M431 616h0M486.2 615.9h0M439.2 628.2h0M460.7 619.9h0M475.8 619.7h0M445 617.9h0M470 616.8h0M427.5 609.6h0M444.6 639.3h0M429.7 622.5h0M458.5 617.7h0M448.2 625.3h0M451.5 615.7h0M435.6 627.3h0M433.8 641.9h0M437 618.7h0M442.8 605.4h0M481.4 625.1h0M450.3 613.6h0M449.1 624h0M441.6 608.2h0M437 628.9h0M433.3 627h0M480.1 621.1h0M442.7 614.9h0M447 616.1h0M493.6 604.8h0M433.7 621.4h0M440.5 637.6h0M468.5 615.2h0M449.2 625.7h0M428.6 621h0M455.1 615.8h0M444.2 623.6h0M441.2 608.1h0M450.8 611.2h0M432 615.5h0M493.1 612.5h0M452.3 625h0M457 616.3h0M446.4 615.2h0M439.7 614.3h0M450.2 616.8h0M438.3 614.7h0M430.9 610.7h0M437.1 623.4h0M460.6 614.6h0M432 604.6h0M428.1 640.1h0M441.4 619.6h0M448.7 602.4h0M437.1 634.3h0M434.9 616.1h0M442.7 616.7h0M442.3 621.9h0M436.7 621.3h0M452.3 612.7h0M440.2 629.2h0M428.3 614.1h0M441.8 629.8h0M455.8 615.5h0M442.5 608.4h0M439.6 612h0M439.6 614h0M451.4 605.6h0M450.6 619h0M453.4 607h0M435.2 629h0M448.5 625.2h0M461.5 616.4h0M453.5 608.5h0M442.1 598.9h0M453.6 633.8h0M458 624.5h0M443.5 619.9h0M434.9 616.7h0M449.7 626.5h0M440 630.2h0M433.8 620.7h0M445.7 613.8h0M433.2 607.1h0M469.9 622.3h0M437.8 639.6h0M439.6 615.8h0M441.6 611.3h0M438.2 612.8h0M427 608.2h0M465 602.3h0M436 626.5h0M435.1 632.4h0M462.7 627.2h0M426.3 607.1h0M438.5 625.1h0M437.1 624.3h0M451.7 634.4h0M441.1 630.1h0M447.4 632h0M439.7 616.2h0M458.9 628.6h0M451.3 624.5h0M444.7 614.8h0M439.5 609.6h0M452.9 639.9h0M435.6 621h0M439.2 615.3h0M436.7 614h0M447.7 622.1h0M448.9 619.8h0M439.5 616.3h0M437.7 628.3h0M435.7 611.5h0M485.3 625.9h0M435.4 619.3h0M442.5 616.7h0M434.9 628.9h0M443.1 620.7h0M440.6 597.9h0M441.2 628.4h0M475.7 628.9h0M444.4 625.4h0M435.8 630.6h0M449.7 621.1h0M440.5 613.3h0M475.8 603.7h0M458.3 615.1h0M441 622.7h0M462.7 616h0M451.3 614.6h0M438.1 610.7h0M456.7 620.1h0M444.1 631h0M466.5 634.7h0M453.8 619.7h0M466.9 614.5h0M437 633.1h0M442.4 636.1h0M439.9 604h0M443.1 603.1h0M439.9 619h0M446.6 619h0M434.1 616.2h0M434.2 627.9h0M454.6 620.6h0M435 625.4h0M454.4 614.8h0M448.4 623.2h0M434 627.7h0M430.9 622.5h0M434.6 621.5h0M431.3 631.6h0M439 617.2h0M434.4 618.2h0M453.5 620.6h0M429.1 598.1h0M454.3 636.6h0M449.1 622.6h0M448.2 623.4h0M444.9 624h0M431.7 625.5h0M476.7 610h0M474.3 616.4h0M438.8 625.3h0M431.6 605.1h0M449.6 620.3h0M440.7 615.5h0M436.3 607.7h0M439.2 617.8h0M439.4 607.4h0M445.7 603.4h0M451 603.9h0M429.3 638.4h0M442.4 620.6h0M454.2 637.8h0M455.9 616.7h0M433.9 601.5h0M440.9 610.8h0M451.5 626.6h0M463.1 607.4h0M457.7 621.2h0M453.4 607.7h0M459.7 610.6h0M440.2 619.6h0M437.1 631.6h0M447.4 616.8h0M448.2 618.1h0M468.8 612.7h0M457.5 599.8h0M438.1 613.6h0M469.2 610.4h0M436.7 615.2h0M449 613.1h0M442.7 621h0M464.9 615.3h0M444.2 625.3h0M444 609.1h0M450.2 602.6h0M452.8 615.7h0M464.3 602.8h0M437 628h0M447 621.1h0M430.9 630.6h0M448 613.1h0M448.1 627.3h0M459.6 611.6h0M454.8 609.3h0M465.1 631.1h0M443 628.5h0M437.5 603.5h0M433.3 612.6h0M437.1 628.6h0M434.7 624h0M432.1 626h0M448.3 610.1h0M430.9 632.1h0M441 615.8h0M451.4 616.9h0M446.3 624.6h0" stroke="#111" stroke-width="1.25" stroke-linecap="round"/>
<path d="M444.8 658.5h0M452.9 658.5h0M440.4 658.5h0M426.8 658.5h0M428.4 658.5h0M461.6 658.5h0M456.9 658.5h0M437 658.5h0M458.6 658.5h0M449 658.5h0M452.7 658.5h0M462.2 658.5h0M435.4 658.5h0M463.1 658.5h0M445.9 658.5h0M444.9 658.5h0M462.2 658.5h0M454.8 658.5h0M454.9 658.5h0M424.2 658.5h0M464.2 658.5h0M446.4 658.5h0M438.3 658.5h0M451.2 658.5h0M439.8 658.5h0M463.9 658.5h0M436 658.5h0M428.1 658.5h0M426.8 658.5h0M431 658.5h0M429.3 658.5h0M426.1 658.5h0M443.2 658.5h0M463.8 658.5h0M460.1 658.5h0M461.2 658.5h0M425.8 658.5h0M439.8 658.5h0M442.4 658.5h0M436.9 658.5h0M451.9 658.5h0M429.5 658.5h0M458.4 658.5h0M433.5 658.5h0M431 658.5h0M458.6 658.5h0M439.5 658.5h0M454.8 658.5h0M456.6 658.5h0M451.3 658.5h0M460 658.5h0M439.5 658.5h0M459.7 658.5h0M442.4 658.5h0M449.8 658.5h0M448.7 658.5h0M464.6 658.5h0M432.3 658.5h0M460.8 658.5h0M427.5 658.5h0M430.9 658.5h0M453.9 658.5h0M435.8 658.5h0M445.6 658.5h0M428.6 658.5h0M433.5 658.5h0M449 658.5h0M458.4 658.5h0M439.7 658.5h0M425.3 658.5h0M462.9 658.5h0M429.8 658.5h0M456.2 658.5h0M434.9 658.5h0M435.4 658.5h0M451.2 658.5h0M443.7 658.5h0M459.7 658.5h0M455.4 658.5h0M430.7 658.5h0M445.3 658.5h0M452.9 658.5h0M424.8 658.5h0M455 658.5h0M459.5 658.5h0M451 658.5h0M424.5 658.5h0M445.2 658.5h0M448.5 658.5h0M437.1 658.5h0M462.2 658.5h0M457.8 658.5h0M428 658.5h0M426.3 658.5h0M425.8 658.5h0M454.6 658.5h0M428.9 658.5h0M434.9 658.5h0M436.2 658.5h0M458.2 658.5h0M441.5 658.5h0M460 658.5h0M454.8 658.5h0M456.4 658.5h0M428.9 658.5h0M464.4 658.5h0M446.9 658.5h0M438.1 658.5h0M426.7 658.5h0M463.6 658.5h0M443.9 658.5h0M454.1 658.5h0M446 658.5h0M432.4 658.5h0M450.4 658.5h0M446.3 658.5h0M457.8 658.5h0M441.1 658.5h0M459.3 658.5h0M430.2 658.5h0M459.5 658.5h0M439.5 658.5h0M453.2 658.5h0M449.9 658.5h0M462.7 658.5h0M440.9 658.5h0M439.1 658.5h0M453.2 658.5h0M441.4 658.5h0M454.2 658.5h0M433 658.5h0M463.6 658.5h0M464 658.5h0M433 658.5h0M424.5 658.5h0M439.9 658.5h0M429.2 658.5h0M448.3 658.5h0M423.9 658.5h0M448 658.5h0M453.8 658.5h0M454.8 658.5h0M429.4 658.5h0M454.7 658.5h0M432.9 658.5h0M442.4 658.5h0M451.3 658.5h0M425.7 658.5h0M447.5 658.5h0M427.7 658.5h0M457.4 658.5h0M436.8 658.5h0M432.8 658.5h0M436.6 658.5h0M440.7 658.5h0M453.5 658.5h0M458 658.5h0M445.1 658.5h0M451.8 658.5h0M462.9 658.5h0M440.1 658.5h0M452.2 658.5h0M443.9 658.5h0M446.4 658.5h0M429.8 658.5h0M457.3 658.5h0M462.5 658.5h0M449.3 658.5h0M444.5 658.5h0M427.5 658.5h0M443.6 658.5h0M444.3 658.5h0M440.7 658.5h0M428.6 658.5h0M455.2 658.5h0M444.9 658.5h0M462.4 658.5h0M440.2 658.5h0M447.8 658.5h0M430 658.5h0M439.1 658.5h0M450 658.5h0M438.5 658.5h0M444.7 658.5h0M457.7 658.5h0M455.3 658.5h0M448.6 658.5h0M430.1 658.5h0M455.8 658.5h0M455.6 658.5h0M444.3 658.5h0M428.7 658.5h0M460.7 658.5h0M446.4 658.5h0M427.2 658.5h0M428.5 658.5h0M440.6 658.5h0M459.7 658.5h0M449.8 658.5h0M425.7 658.5h0M458.4 658.5h0M454.5 658.5h0M441.3 658.5h0M425.4 658.5h0M432.9 658.5h0M424 658.5h0M446.9 658.5h0M449.1 658.5h0M461.9 658.5h0M426.6 658.5h0M429.1 658.5h0M432.7 658.5h0M452.5 658.5h0M436.5 658.5h0M445.9 658.5h0M426 658.5h0M434.3 658.5h0M427 658.5h0M442 658.5h0M434.3 658.5h0M443.9 658.5h0M454.3 658.5h0M448.3 658.5h0M446.8 658.5h0M456.1 658.5h0M457.1 658.5h0M432.8 658.5h0M441.9 658.5h0M459.8 658.5h0M426.7 658.5h0M430.6 658.5h0M456.2 658.5h0M457 658.5h0M457 658.5h0M439.5 658.5h0M463.7 658.5h0M441.7 658.5h0M455.3 658.5h0M434.8 658.5h0M436.5 658.5h0M463.8 658.5h0M444.3 658.5h0M433.5 658.5h0M453 658.5h0M461.3 658.5h0M462.8 658.5h0M463.3 658.5h0M444.3 658.5h0M450.7 658.5h0M463.5 658.5h0M435.4 658.5h0M451 658.5h0M432.5 658.5h0M429.6 658.5h0M436.6 658.5h0M435.3 658.5h0M445.6 658.5h0M457.8 658.5h0M437.5 658.5h0M457.8 658.5h0M433.4 658.5h0M439 658.5h0M461.9 658.5h0M442.2 658.5h0M425.2 658.5h0M430.9 658.5h0M463.5 658.5h0M442.2 658.5h0M425.9 658.5h0M438.7 658.5h0M443.9 658.5h0M427 658.5h0M425.5 658.5h0M461.2 658.5h0M439.2 658.5h0M428.9 658.5h0M425.6 658.5h0M460.4 658.5h0M456.4 658.5h0M463.4 658.5h0M433.6 658.5h0M438.2 658.5h0M426.3 658.5h0M435.8 658.5h0M425 658.5h0M434.4 658.5h0M460 658.5h0M425.4 658.5h0M451.5 658.5h0M451.9 658.5h0M461.9 658.5h0M463.6 658.5h0M454.9 658.5h0M426.7 658.5h0M445.4 658.5h0M444.1 658.5h0M458.4 658.5h0M460.1 658.5h0M431.4 658.5h0M435.4 658.5h0M459.7 658.5h0M452.5 658.5h0M429 658.5h0M428.3 658.5h0M463.1 658.5h0M456.2 658.5h0M451.5 658.5h0M458.3 658.5h0M447.8 658.5h0M445.3 658.5h0M450.3 658.5h0M431.5 658.5h0M454.9 658.5h0M440.3 658.5h0M446.9 658.5h0M456.4 658.5h0M460.4 658.5h0M433.5 658.5h0M447.9 658.5h0M443.7 658.5h0M453.3 658.5h0M457.4 658.5h0M456.8 658.5h0M452.7 658.5h0M434 658.5h0M435.7 658.5h0M455.4 658.5h0M485.5 658.5h0M469.8 658.5h0M480.5 658.5h0M466.3 658.5h0M474.4 658.5h0M485.4 658.5h0M467.2 658.5h0M475 658.5h0M479.5 658.5h0M472.9 658.5h0M473.7 658.5h0M484.8 658.5h0" stroke="#111" stroke-width="1.45" stroke-linecap="round"/>
<path d="M423.1 628L500 619.1" stroke="#6a8ab5" stroke-width="0.85"/>
<text x="422.5" y="591.8" font-size="6.9" fill="#2e9e6a" stroke="#2e9e6a" stroke-width="0.12" textLength="43.8" lengthAdjust="spacingAndGlyphs">TGFβ-myCAF</text>
<text x="461.2" y="674.6" font-size="5.9" text-anchor="middle" fill="#333" stroke="#333" stroke-width="0.12">Cytolytic index</text>
<text x="0" y="0" font-size="6" text-anchor="middle" fill="#333" stroke="#333" stroke-width="0.12" transform="translate(408.5 626.3) rotate(-90)">TGFβ-myCAF</text>
<text x="483.8" y="594.9" font-size="5.5" fill="#333" stroke="#333" stroke-width="0.12"><tspan font-style="italic">r</tspan> = 0.09</text>
<text x="483.8" y="602.1" font-size="5.5" fill="#333" stroke="#333" stroke-width="0.12"><tspan font-style="italic">P</tspan> = 0.001</text>
<path d="M352.8 692.5V758.8H435.5" stroke="#222" stroke-width="0.8" fill="none"/>
<text x="350.6" y="757.3" font-size="5.1" text-anchor="end" fill="#333" stroke="#333" stroke-width="0.12">0</text>
<text x="350.6" y="744.2" font-size="5.1" text-anchor="end" fill="#333" stroke="#333" stroke-width="0.12">1</text>
<text x="350.6" y="731" font-size="5.1" text-anchor="end" fill="#333" stroke="#333" stroke-width="0.12">2</text>
<text x="350.6" y="717.9" font-size="5.1" text-anchor="end" fill="#333" stroke="#333" stroke-width="0.12">3</text>
<text x="350.6" y="704.8" font-size="5.1" text-anchor="end" fill="#333" stroke="#333" stroke-width="0.12">4</text>
<text x="354.3" y="765" font-size="5.1" text-anchor="middle" fill="#333" stroke="#333" stroke-width="0.12">0</text>
<text x="380.7" y="765" font-size="5.1" text-anchor="middle" fill="#333" stroke="#333" stroke-width="0.12">2</text>
<text x="407.1" y="765" font-size="5.1" text-anchor="middle" fill="#333" stroke="#333" stroke-width="0.12">4</text>
<text x="433.5" y="765" font-size="5.1" text-anchor="middle" fill="#333" stroke="#333" stroke-width="0.12">6</text>
<path d="M352.8 755.5h-1.4M352.8 742.4h-1.4M352.8 729.2h-1.4M352.8 716.1h-1.4M352.8 703h-1.4M354.3 758.8v1.4M380.7 758.8v1.4M407.1 758.8v1.4M433.5 758.8v1.4" stroke="#333" stroke-width="0.5"/>
<path d="M371.7 720.4h0M388.8 722.9h0M372.8 729.9h0M364.6 700.8h0M384.6 706.5h0M368.5 725.7h0M384.9 726.6h0M400.2 709.7h0M367.4 715.7h0M374.4 739.2h0M362.6 715h0M363.8 708.5h0M400 731.4h0M372.4 714.4h0M397.4 708.8h0M361.2 714.9h0M362.2 721.1h0M374.4 725h0M366.3 727.2h0M379.4 709.1h0M358.1 716.4h0M375.4 716.9h0M373 727.9h0M357.8 712.9h0M386.7 720.9h0M394.4 728.1h0M386.5 728.1h0M385.4 737.6h0M362.7 728.3h0M378.4 723.4h0M391.9 713.7h0M387.2 716.2h0M358.7 713.6h0M362.7 729.6h0M385.4 729.6h0M369.6 721.1h0M381.6 728.7h0M386.1 708h0M373.5 713.3h0M394.1 718.4h0M373.7 715.6h0M379.8 696.3h0M370.6 721.5h0M379.8 721h0M359.9 719.5h0M363.5 717h0M390 713.9h0M367.3 734h0M364.2 718.2h0M364.2 724.9h0M381.7 724.5h0M369.1 726.9h0M395.1 717.1h0M383.3 714.5h0M377.5 722.4h0M424.9 726h0M378.6 720.3h0M381.6 723.3h0M395.5 717.8h0M382 719.9h0M379.7 719h0M371 709.7h0M386.5 718.4h0M376.1 709.8h0M370.3 718h0M372.3 712.6h0M387.6 719.3h0M370.3 712.5h0M367.1 707.1h0M362.2 722.4h0M393.5 719h0M380.6 709.6h0M376.2 725.7h0M380.9 714.8h0M376.1 706.7h0M362.8 694.6h0M375.5 716.1h0M360.9 699.4h0M374.1 737.1h0M367.3 722.7h0M374.8 720.2h0M406.4 725.7h0M393.8 711.3h0M393.6 731.2h0M378.5 708.8h0M373.6 712.2h0M375.3 714.2h0M361.2 723.7h0M364.4 715.8h0M397.4 714.8h0M363 711.6h0M364.1 725.2h0M378.1 720.5h0M368.3 706h0M374.2 725.4h0M376 718.3h0M371 724.2h0M378.4 707.7h0M374.7 717.4h0M370.9 707.3h0M380.9 709.4h0M371.1 717.7h0M384 726h0M383 696.7h0M373.6 718.6h0M373.4 725.9h0M381.7 717.8h0M379 732.4h0M416.1 733h0M393.8 725.5h0M379.7 717.3h0M373 736.4h0M379 718.5h0M369.5 708.3h0M370 721.3h0M376.8 696.1h0M376.5 721.4h0M373.4 704.9h0M378.9 717.7h0M368.3 724.7h0M382.8 727.1h0M386.7 723.2h0M368.5 715.7h0M385.8 742h0M368.4 734.7h0M377 699.7h0M362.7 724.7h0M374.1 712.4h0M383.9 730.5h0M397 721.3h0M380.7 720.1h0M371 718.2h0M360.8 729.3h0M384.3 725.7h0M372.8 735.5h0M370.6 727.6h0M394.3 716.6h0M376.1 736.1h0M391 718.5h0M384.3 717.9h0M383.6 713.4h0M376.8 711h0M369 712.4h0M374.5 729.8h0M363.6 727h0M412.4 710.6h0M359.8 717.5h0M366.9 729.1h0M400.9 725.6h0M381.4 707.1h0M364.9 711.1h0M370.3 723.8h0M404 718.3h0M369.3 733.9h0M368.2 728.8h0M374.5 707.8h0M370.6 722.6h0M373.1 717.5h0M382.5 728.3h0M380.1 711.1h0M373.2 717.2h0M368.8 714h0M369.2 722.8h0M391 718.6h0M374.5 719.5h0M374.3 706.1h0M367.9 722.8h0M396.7 710.6h0M371.9 722.2h0M366.5 722.1h0M378.9 714.2h0M392.2 730.8h0M363.6 723.6h0M368.7 730.2h0M365.4 720.9h0M380.4 710.9h0M373.5 714.7h0M365.7 722.8h0M382.5 704.2h0M369.6 724.3h0M377.4 718.3h0M372.1 724.1h0M363.7 718.5h0M383 723.4h0M383.3 734.9h0M373 714.7h0M399.4 718.3h0M374.9 695.2h0M361.7 716.9h0M362.5 721.3h0M387.4 708.4h0M360.2 725.5h0M367 708.2h0M378.4 717.3h0M380.2 729.2h0M378.8 712.2h0M414.2 733.6h0M374.1 738h0M384.8 710.3h0M375.1 716.4h0M395 712.8h0M393.1 720.6h0M391 723.7h0M366.6 724.1h0M401.7 745h0M398.6 721.4h0M385.2 706.8h0M388.8 714.8h0M382.3 708.5h0M380.4 706.4h0M391 713.7h0M364 725.6h0M367.4 729.6h0M407.6 743h0M365.7 710.7h0M384 721.4h0M378.3 711.2h0M386 699.4h0M364.6 716.3h0M373.8 714.2h0M372.8 722.5h0M373.9 719.7h0M365 702h0M391.9 708.9h0M369.4 719.8h0M376.9 719.1h0M378.8 724.8h0M360.9 730.9h0M380 710.6h0M380.5 718.3h0M365.9 726.6h0M366.5 728.8h0M418.5 717.4h0M377.3 708.3h0M376.6 734h0M368.3 718.3h0M393.2 720.2h0M370 730.4h0M363.9 707.4h0M371.7 721.6h0M369.6 732.1h0M386.2 703.6h0M389.4 719.9h0M369.2 714.8h0M384.4 717.3h0M389.9 723.2h0M363.8 727.4h0M370.1 723.2h0M395.6 712.5h0M382.5 718h0M376.9 726.1h0M366.9 729.3h0M372.8 721.6h0M391.3 711.8h0M372.4 729.2h0M372.7 732.2h0M368 714.5h0M374.8 723.1h0M410.8 737.9h0M383 703.6h0M364 711.5h0M400.2 737h0M427.3 724.7h0M380.5 712.3h0M389.2 706.5h0M363.4 724h0M382.1 712.9h0M369.9 728.1h0M366 742.4h0M362.8 719.9h0M359.4 733.4h0M367.4 725.5h0M363.7 719.7h0M381.9 723.8h0M366.9 728.1h0M367.2 730.4h0M413.2 702.8h0M369.6 711.5h0M396.3 712.3h0M378.7 732.5h0M391.6 709.4h0M376.3 725.1h0M367.7 724.4h0M390.9 731h0M373.7 714.5h0M370.4 722.3h0M359 714.4h0M387.3 714.9h0M377.2 724.9h0M381.2 708.8h0M371.5 719.9h0M382.1 722h0M372.9 717.1h0M382.2 725.6h0M370.6 705.3h0M399.7 727.8h0M409.3 708h0M376 717h0M390.5 710.6h0M369.1 732.1h0M379 705.3h0M364.1 716.4h0M386.7 721.7h0M367.1 709.9h0M368.7 720h0M382.4 729.9h0M362.2 720.9h0M386.8 715.6h0M366.1 713.7h0M391.8 708.4h0M363.4 708.1h0M375.2 710.1h0M372.1 719.1h0M363.3 720.9h0M384.3 722.9h0M377.1 731.6h0M374.9 713.6h0M378.3 713.8h0M371.3 718.3h0M377.9 711.8h0M373.9 719.8h0M374.9 722.9h0M374.1 734.5h0M374.3 723.5h0M379.6 718.1h0M417.6 715h0M384.5 721.8h0M370.3 723.4h0M367.6 723.8h0M377 716.6h0M389.7 724.6h0M389.9 724.1h0M371.4 727h0M380.4 722.4h0M377.4 724.7h0M374.1 723.6h0M392.5 704.1h0M383.1 721.3h0M365.2 739.3h0M364.8 722.7h0M365.8 720.4h0M361 710.9h0M381.3 702.7h0M370.8 727.4h0M375.1 719.2h0M371.4 723h0M393.3 721.2h0M383.9 715.2h0M357.2 712.5h0M375.8 719.5h0M367.9 720.9h0M370.8 723.7h0M370.4 703.4h0M373.3 724h0M366.5 721.1h0M377.3 707.9h0M398 714.8h0M376.7 718.4h0M389.2 716.7h0M363.8 710.5h0M381.6 714.6h0M376 723.2h0M361.6 697h0M377.5 727.5h0M392.1 717.1h0M373.7 720.7h0M362.7 724.7h0M381 716.8h0M398 727h0M360.1 708.7h0M368.8 714.9h0M381.5 729.5h0M414.8 723.6h0M429.4 718.5h0M363.2 729h0M386.1 716.4h0M409 713.6h0M363.4 733.2h0M376.8 722.2h0M398.3 726.5h0M366.5 724.9h0M372.3 734.2h0M388.9 715.8h0M360.3 728.6h0M370 719.4h0M372.3 707.9h0M371.2 718.2h0M387.3 713.1h0M377.6 706.6h0M366.3 728.7h0M371 726.1h0M364 720.9h0M386.5 720.2h0M370.9 715.9h0M362.1 725.5h0M375.1 728.3h0M367.1 719.8h0M381.9 719.5h0M375.1 701.7h0M394.2 723.4h0M371.3 733.2h0M369.1 710.1h0M366.9 719.2h0M381.5 734.2h0M408.8 724.5h0M360.4 736.9h0M371.5 723.7h0M408.9 706.2h0M376.5 718.1h0M363.7 709.4h0M385.7 710.1h0M379.2 722.6h0M380.2 726h0M394.9 732.6h0M361.8 722.5h0M384.1 723.3h0M375.6 718.7h0M370.4 716.4h0M383.1 709.1h0M378.4 705.9h0M371.9 736.6h0M376.3 723.6h0M376.2 730.7h0M402.7 730.3h0M362.7 728.1h0M397.8 709.5h0M383.6 723h0M371.1 727.3h0M375.5 728.5h0M377.1 717.7h0M375.2 713.5h0M373.9 722.6h0M400.2 737.1h0M390.2 714.5h0M375.6 697h0M397.9 716.8h0M397 716.5h0M393.2 725.7h0M376 721.2h0M395.8 721.1h0M366.2 707.5h0M360.4 705.1h0M402.9 717.3h0M367.8 729.2h0M370.6 733.8h0M382.4 726.9h0M402.5 738.4h0M385.2 731.8h0M363.4 716.7h0M363.8 712.8h0M363.9 708h0M405.7 714.4h0M371 724.7h0M360.9 714.5h0M383 738.8h0M364 720.8h0M397.6 731.2h0M378.2 721.8h0M374.9 727.2h0M359.6 725.9h0M366.7 721.7h0M363.7 725.3h0M371.7 708.1h0M386.3 718.3h0M379 725.5h0M369.8 711.4h0M374.1 707.1h0M381.4 730h0M369.9 698h0M370.7 718.6h0M363.5 719.3h0M368.5 722.9h0M380.9 721.9h0M376.4 741.3h0M423.5 715.2h0M374.6 705.9h0M386.7 713.5h0M377.8 734.8h0M380.6 726.3h0M388.7 724.4h0M379.6 716.7h0M379.6 722.4h0M381.5 727.8h0M380.1 726.1h0M381.1 737.4h0M373.2 713.6h0M411.6 723.4h0M405.9 713.4h0M366.6 729.4h0M364.3 720.3h0M372.9 739.9h0M370.8 710.4h0M364 721.1h0M377.8 715.1h0M390.3 710.2h0M368.9 720.6h0M379.1 715.5h0M386.5 734.7h0M360.8 732h0M384.7 732.9h0M365.7 717.5h0M374.1 714.1h0M370.7 733.4h0M369 727.3h0M374.1 716.9h0M371.2 720.1h0M358.4 719.9h0M369.7 718.3h0M415.7 725.2h0M387 711.6h0M385.9 722.5h0M371.8 716.6h0M381.2 719.5h0M380 696.8h0M370.9 714.3h0M402.9 707.1h0M382 720.2h0M378.6 731.7h0M393.4 721.9h0M375.9 720.4h0M366.9 731.6h0M362.2 717.5h0M370.2 713h0M388.1 735.6h0M367.6 716.5h0M376.6 727.9h0M369.9 707h0M366.5 725.6h0M393.5 706.5h0M363.4 730.9h0M386.8 723.4h0M392.9 705.1h0M387.4 719.8h0M388.9 724.1h0M379.3 704h0M367.2 714.9h0M371.7 720.8h0M388.1 723h0M396.4 710.8h0M386.9 731h0M385.5 698.9h0M370.6 711.7h0M390.6 704.3h0M403.9 716.3h0M392 720.5h0M373.2 722.8h0M390.1 702.7h0M369.2 738.8h0M365.8 722.5h0M431.2 718.8h0M380.7 706h0M387.3 732.6h0M372.2 720.1h0M373.3 723.2h0M364.9 710.3h0M379.1 733.3h0M384.9 704h0M368.8 701.9h0M379.1 725.4h0M396.9 720.6h0M374.6 716.6h0M372.6 722.1h0M374.1 722.5h0M364.7 716.4h0M367.5 708.6h0M359.8 730.9h0M364.7 713.1h0M383.8 727.5h0M378.9 716.5h0M380.5 716.5h0M402.3 726.7h0M387.1 721.8h0M365.2 719.7h0M377.4 719.1h0M371.1 702h0M395.3 723.3h0M382.8 725.4h0M374.5 719.3h0M366.7 715h0M376.3 728.2h0M369.8 723.7h0M371.8 717.3h0M381.7 731.4h0M391.5 727.2h0M367.6 719.9h0M376.4 719.2h0M360.9 719.7h0M365 729.5h0M370.6 720.1h0M386.2 718.6h0M384.4 732.3h0M386.6 706.8h0M361.2 719.1h0M377 722.7h0M388.4 721.2h0M375.4 728.4h0M366.6 731h0M380.9 730.5h0M369.1 727.3h0M367 728.2h0M371.7 710.6h0M387 720.4h0M385.4 725.7h0M372.3 715.3h0M372.8 725.3h0M376.1 716h0M402.6 720.4h0M397.6 719.7h0M378.2 738.9h0M361.4 714.1h0M395.6 731.2h0M400.4 714.6h0M368.3 717.6h0M376.3 730.3h0M402.3 717.2h0M362.2 734.9h0M374.3 724.8h0M374.2 722.5h0M365.1 736.6h0M391.1 720.1h0M378.4 712.9h0M411.2 719h0M361.7 712.5h0M403.1 723.3h0M368.1 726.2h0M384.5 704.1h0M374 709.9h0M377.7 716.8h0M365.9 738.8h0M380.9 713.3h0M384.3 712.5h0M370.5 700.4h0M382.8 718.7h0M380.8 712.5h0M368.9 713.7h0M361.2 724.3h0M359.6 723.1h0M377.7 716.3h0M391.5 717.3h0M377 729.1h0M397.3 710.7h0M366.7 714.2h0M375.1 726.9h0M390.9 723.9h0M385.6 728.8h0M373.4 719h0M369.1 732.8h0M394.8 721.7h0M372.2 705.5h0M384.8 704.6h0M365.8 719.9h0M381.4 717.4h0M371.1 708.4h0M374.2 714.8h0M378.5 719.7h0M381.5 707.6h0M415.7 725.7h0M375 707.8h0M376.6 710.8h0M380.7 707.7h0M376.2 703.9h0M366.5 721.6h0M372.4 721.2h0M360 718.8h0M366.7 721.5h0M358.7 713h0M377 718.6h0M374 728.8h0M372.3 741h0M367.4 726.7h0M378.6 717.4h0M384.2 731h0M378.7 720.4h0M388.6 720.4h0M391.3 718.3h0M397.3 706.2h0M383.5 720.2h0M358.6 721.9h0M382.9 719.3h0M393.1 707.1h0M373.7 715h0M363.5 713.9h0M399.5 738.6h0M369 729h0M375.8 717.7h0M378.3 730.6h0M391.2 712.9h0M380.4 725.1h0M376.2 722.4h0M391.2 719.2h0M378.9 710.1h0M380.7 711.1h0M392.4 699.2h0M366.7 735.5h0M378.5 730.7h0M374.3 724.1h0M360.6 706.7h0M375.7 713.6h0M386.8 730.3h0M384.9 728.4h0M380.6 700.2h0M396 715.3h0M370 730.1h0M397.6 730.1h0M369.7 711.3h0M364.7 727.5h0M375.5 721.9h0M401.1 721.8h0M373.1 728.3h0M360.8 715.6h0M394.8 719h0M373.9 719.4h0M362.9 716.5h0M378.9 719.5h0M397.4 714h0M373.6 736.6h0M374.9 701.3h0M384.6 708.7h0M374.9 719.3h0M362.3 724.6h0M378.4 717.7h0M363.8 712.4h0M398.4 730.8h0M419.8 726h0M375.9 703.1h0M370.8 722.8h0M367.1 719.1h0M387 724.5h0M370.5 719.8h0M372.9 725.6h0M381 729.3h0M392.2 715.6h0M379.2 725.9h0M384.7 725.3h0M370 714.6h0M388.6 714h0M367.4 708.1h0M394.6 716.1h0M369.6 719.7h0M385 720.9h0M386.6 717.1h0M379.4 727.5h0M376.7 735.9h0M380.4 709.4h0M378 722.9h0M381.7 725.6h0M381.3 704.6h0M382.8 732.2h0M395.4 712.6h0M376.6 729.3h0M366.3 717.7h0M399.2 718.9h0M387.6 715.6h0M368.2 732.1h0M368.8 724.1h0M394.8 714.1h0M374.6 717h0M374.1 725.1h0M369.4 719h0M385.1 717.4h0M371.5 739.5h0M392.9 729.2h0M386.6 713.2h0M391.6 716.5h0M363.7 718.6h0M369.9 717.3h0M380.5 738.3h0M366.8 716.9h0M392.1 724.8h0M373.3 702.4h0M390.2 739.2h0M384.4 719.3h0M406.8 727.1h0M384.2 724.8h0M358 729.7h0M369.1 728.5h0M398.3 723.4h0M394.5 724.9h0M357.3 732.3h0M377.7 704.2h0M390.3 710.6h0M376.9 712.7h0M384.4 725.5h0M364.2 704.4h0M371.1 701.6h0M370.2 736.7h0M360.2 703.7h0M390 733.5h0M390.1 714.6h0M381.3 719.4h0M373.9 716.7h0M364.3 714h0M371.2 729.8h0M365.9 719.7h0M371.1 727.6h0M398.2 715.2h0M364.1 734.8h0M394.9 705.2h0M378.2 706.5h0M372.1 720.1h0M373.8 711.5h0M363.1 702.6h0M371.3 708.5h0M362.7 713.3h0M364 728.8h0M379.6 721.4h0M376.6 701.4h0M396.5 717.2h0M402.1 713.5h0M383.9 720.5h0M370.1 708.9h0M385.7 700.3h0M373.4 725.3h0M385.7 711.8h0M372.1 712.9h0M372.9 713.1h0M369.6 723h0M369.5 718.7h0M377.2 700.7h0M365 737.3h0M397 726.9h0M370.7 711.5h0M384.4 718.1h0M366.9 737.7h0M366.9 713.6h0M371.9 722h0M388.3 740.3h0M398.8 727.9h0M361.4 720.8h0M389.7 728.7h0M382.5 722.4h0M380.2 719.5h0M371.6 707.9h0M383.3 710.3h0M363.7 715.1h0M417.9 726.3h0M387.9 729.4h0M386 700.1h0M372.2 717.2h0M405.1 726h0M358 710.2h0M375.6 712.5h0M375.4 723.3h0M367.8 717.7h0M368.4 704.8h0M367.6 736.3h0M369.4 725.6h0M389.3 723.7h0M368 722.1h0M363 739.9h0M362.7 724.3h0M371.2 715.6h0M362.3 721.9h0M390.4 725.2h0M370.4 724.4h0M367.9 717.5h0M383.4 722.8h0M374.2 700.8h0M377.5 710.7h0M366.2 721.2h0M366.3 719.1h0M380.3 738.1h0M367.2 722.2h0M409.6 708.4h0M376.4 724.2h0M387.9 701.5h0M378.1 716.8h0M383.1 727.4h0M379.6 724.1h0M386.3 711.8h0M371.2 718.5h0M419.4 727.5h0M366.7 720.6h0M373.9 721.9h0M378 743.7h0M367.8 702.3h0M377.9 721.6h0M379 719.8h0M405 740h0M393.1 732.4h0M369.7 713.6h0M367.1 710.9h0M386.7 715.1h0M372.1 711.1h0M423.4 725.2h0M367.5 726.1h0M369.9 718.2h0M402.1 719.1h0M363.3 733.3h0M368.3 720.7h0M388 722h0M385.1 714.9h0M375.7 733.7h0M387.7 720.9h0M383.8 734.6h0M360.2 708.2h0M362.5 726.4h0M374.1 715.8h0M398.9 722.6h0M386.1 708.9h0M387.7 725.6h0M364 723.2h0M383 709.3h0M374 723.5h0M363.3 720.7h0M362.4 731.3h0M366.5 723.1h0M369.9 715.2h0M409.9 730.4h0M409.6 709.8h0M372 727h0M389.3 740.3h0M366.7 724.1h0M366.6 716.7h0M364.6 706.3h0M373.6 711.4h0M368.6 726.5h0M370.7 720h0M363.7 711.3h0M374 707.6h0M404 726.2h0M391.6 707.2h0M392.3 707.8h0M363.1 723h0M390.5 717.1h0M381.3 732.7h0M386.9 729.9h0M368.5 719h0M367.2 721.1h0M379.9 719.2h0M388.1 730.8h0M366.3 708.8h0M369.4 715.1h0M380.1 721.2h0M372.8 715.5h0M364.6 739.4h0M383.9 724.2h0M377.8 726.6h0M374.2 721.8h0M386.2 719.1h0M378.6 708.8h0M363.2 722.4h0M370.7 733.8h0M362.5 720.2h0M386.2 728.7h0M367.9 708.2h0M378.9 702.5h0M374.1 711.2h0M378 726.1h0M395.7 710.5h0M370.9 731.1h0M372.8 715.5h0M368 721h0M404.8 744.7h0M393.4 719.5h0M393 704.7h0M383 729.6h0M383.9 737.7h0M406.6 721.8h0M360 719h0M376.1 723.4h0M394.5 708.6h0M360.4 704.1h0M383.8 726h0M396.7 734.3h0M383.1 720.1h0M377.5 726.2h0M390.5 712.7h0M392 719.2h0M411.1 714.2h0M370.2 717.8h0M377.6 703h0M364.6 723.5h0M394.6 733h0M385.6 729.4h0M377.5 730h0M402 700.9h0M368.5 719.6h0M371.4 731.7h0M368.7 728.6h0M365.8 730.2h0M376.2 726h0M375.6 710.8h0M370.1 712.6h0M370.8 714h0M381.1 727.9h0M371.4 711.6h0M384 725h0M364.1 715.5h0M378.3 718.7h0M427.9 697h0M363 713.5h0M381.9 734.9h0M397.7 728h0M363.3 709.4h0M367.4 722.9h0M386.3 717.6h0M398.9 706.8h0M366.4 727.5h0M382.8 709h0" stroke="#111" stroke-width="1.25" stroke-linecap="round"/>
<path d="M394.6 755.5h0M378.8 755.5h0M388.1 755.5h0M375 755.5h0M368.2 755.5h0M363.3 755.5h0M403.7 755.5h0M380.9 755.5h0M365.3 755.5h0M381.2 755.5h0M392.1 755.5h0M394.5 755.5h0M387.6 755.5h0M383.4 755.5h0M359.2 755.5h0M373.5 755.5h0M371.2 755.5h0M386.7 755.5h0M399.8 755.5h0M383.4 755.5h0M391.4 755.5h0M360.4 755.5h0M373.4 755.5h0M402.3 755.5h0M380 755.5h0M361.3 755.5h0M373.8 755.5h0M378.9 755.5h0M388.6 755.5h0M386.4 755.5h0M401.7 755.5h0M373.4 755.5h0M358 755.5h0M382.8 755.5h0M375.3 755.5h0M390 755.5h0M379 755.5h0M370.9 755.5h0M358.7 755.5h0M392.1 755.5h0M399.9 755.5h0M394 755.5h0M383.7 755.5h0M384.2 755.5h0M369.2 755.5h0M366.1 755.5h0M375.8 755.5h0M359.1 755.5h0M370.8 755.5h0M358.2 755.5h0M368.1 755.5h0M386 755.5h0M385.8 755.5h0M391.7 755.5h0M377.7 755.5h0M396.1 755.5h0M400.8 755.5h0M392.8 755.5h0M378.6 755.5h0M381.1 755.5h0M358.7 755.5h0M388.5 755.5h0M374.8 755.5h0M403.9 755.5h0M380.9 755.5h0M363.7 755.5h0M375.4 755.5h0M371 755.5h0M384.5 755.5h0M389.7 755.5h0M381 755.5h0M385.1 755.5h0M369.6 755.5h0M360.4 755.5h0M393.1 755.5h0M387.3 755.5h0M363.4 755.5h0M361 755.5h0M378.3 755.5h0M405.2 755.5h0M361.1 755.5h0M405 755.5h0M357.6 755.5h0M383.6 755.5h0M387.9 755.5h0M395.6 755.5h0M392.6 755.5h0M362.9 755.5h0M403.1 755.5h0M373.9 755.5h0M365.1 755.5h0M379 755.5h0M363.3 755.5h0M371.6 755.5h0M398.1 755.5h0M370.9 755.5h0M364.6 755.5h0M399.5 755.5h0M373.8 755.5h0M357.1 755.5h0M362.7 755.5h0M388.7 755.5h0M366.9 755.5h0M382.8 755.5h0M375.8 755.5h0M384 755.5h0M365.3 755.5h0M361.1 755.5h0M371 755.5h0M388.6 755.5h0M399 755.5h0M402.7 755.5h0M376.9 755.5h0M364 755.5h0M396.4 755.5h0M369.6 755.5h0M396.7 755.5h0M356.4 755.5h0M393 755.5h0M367.2 755.5h0M364.8 755.5h0M386.2 755.5h0M376.5 755.5h0M379.9 755.5h0M385.7 755.5h0M387.1 755.5h0M390.7 755.5h0M382.5 755.5h0M402.9 755.5h0M393.7 755.5h0M389.9 755.5h0M366.5 755.5h0M398.9 755.5h0M396.5 755.5h0M376.2 755.5h0M359.3 755.5h0M393.4 755.5h0M364.1 755.5h0M357.6 755.5h0M404.5 755.5h0M375.5 755.5h0M379.1 755.5h0M377.8 755.5h0M382.5 755.5h0M361.5 755.5h0M359.6 755.5h0M358.2 755.5h0M405.2 755.5h0M405.4 755.5h0M400.7 755.5h0M386.3 755.5h0M364.9 755.5h0M389.3 755.5h0M367.2 755.5h0M397.3 755.5h0M375.9 755.5h0M382.5 755.5h0M380.1 755.5h0M373.8 755.5h0M367.6 755.5h0M363.2 755.5h0M375.3 755.5h0M358.6 755.5h0M402.2 755.5h0M361.3 755.5h0M402 755.5h0M396.5 755.5h0M398.1 755.5h0M356.6 755.5h0M364.9 755.5h0M374 755.5h0M360.7 755.5h0M389.6 755.5h0M367.7 755.5h0M373.7 755.5h0M381.8 755.5h0M376.6 755.5h0M396.3 755.5h0M404.4 755.5h0M403.5 755.5h0M400.7 755.5h0M369.2 755.5h0M393.9 755.5h0M360.3 755.5h0M396.8 755.5h0M380.9 755.5h0M392.4 755.5h0M394.6 755.5h0M391.9 755.5h0M392.1 755.5h0M397.5 755.5h0M401.6 755.5h0M371.4 755.5h0M375.7 755.5h0M363.3 755.5h0M365.8 755.5h0M390.8 755.5h0M379.1 755.5h0M356.4 755.5h0M391.7 755.5h0M387.1 755.5h0M365.2 755.5h0M358.4 755.5h0M381.9 755.5h0M371.4 755.5h0M374.6 755.5h0M376.1 755.5h0M395.7 755.5h0M387 755.5h0M367.3 755.5h0M389.9 755.5h0M359.1 755.5h0M384.2 755.5h0M383 755.5h0M358.6 755.5h0M402.4 755.5h0M374.3 755.5h0M381.8 755.5h0M394.3 755.5h0M381.4 755.5h0M393.1 755.5h0M397.2 755.5h0M371.7 755.5h0M389.3 755.5h0M371.2 755.5h0M403.5 755.5h0M376.2 755.5h0M372.4 755.5h0M360.4 755.5h0M373.4 755.5h0M359.3 755.5h0M376.8 755.5h0M375.2 755.5h0M378.9 755.5h0M395.4 755.5h0M381 755.5h0M382.4 755.5h0M357.9 755.5h0M358 755.5h0M383.8 755.5h0M370.8 755.5h0M378.2 755.5h0M402.6 755.5h0M392.6 755.5h0M393.2 755.5h0M382.6 755.5h0M395.1 755.5h0M357.5 755.5h0M386.3 755.5h0M369.3 755.5h0M384.5 755.5h0M396.6 755.5h0M357.4 755.5h0M378.5 755.5h0M400.7 755.5h0M399.1 755.5h0M356.5 755.5h0M399.8 755.5h0M374.2 755.5h0M356.3 755.5h0M403.6 755.5h0M368.8 755.5h0M362.2 755.5h0M367.2 755.5h0M358.2 755.5h0M365.3 755.5h0M382.4 755.5h0M375 755.5h0M382.3 755.5h0M387.1 755.5h0M369.1 755.5h0M396.4 755.5h0M398.5 755.5h0M378.2 755.5h0M376.7 755.5h0M368.2 755.5h0M394.1 755.5h0M401 755.5h0M389.3 755.5h0M401.8 755.5h0M396 755.5h0M396.3 755.5h0M387.3 755.5h0M384.5 755.5h0M379.1 755.5h0M386.9 755.5h0M380.5 755.5h0M392.1 755.5h0M359.5 755.5h0M397.2 755.5h0M386.3 755.5h0M378.1 755.5h0M373.3 755.5h0M360.9 755.5h0M370.4 755.5h0M375.3 755.5h0M360.9 755.5h0M385.9 755.5h0M373.4 755.5h0M377.9 755.5h0M358.8 755.5h0M397.1 755.5h0M381.7 755.5h0M401.5 755.5h0M399.4 755.5h0M375.7 755.5h0M392.4 755.5h0M376.9 755.5h0M383.2 755.5h0M383.5 755.5h0M398.8 755.5h0M405.6 755.5h0M388.2 755.5h0M400.1 755.5h0M367.6 755.5h0M360.2 755.5h0M357.4 755.5h0M381.4 755.5h0M364.9 755.5h0M382.7 755.5h0M398.7 755.5h0M385 755.5h0M356.2 755.5h0M388.5 755.5h0M379 755.5h0M403.3 755.5h0M379.2 755.5h0M375.1 755.5h0M360.6 755.5h0M377.2 755.5h0M396.5 755.5h0M398.4 755.5h0M358.6 755.5h0M394.9 755.5h0M384.4 755.5h0M357.3 755.5h0M399.6 755.5h0M391.8 755.5h0M387.2 755.5h0M359.5 755.5h0M356.2 755.5h0M375.8 755.5h0M402.7 755.5h0M401.3 755.5h0M355.9 755.5h0M402.8 755.5h0M374.7 755.5h0M382.6 755.5h0M386.3 755.5h0M371.8 755.5h0M361.4 755.5h0M377.1 755.5h0M372.7 755.5h0M405.2 755.5h0M382.4 755.5h0M360.4 755.5h0M381.4 755.5h0M395.3 755.5h0M379.3 755.5h0M403.8 755.5h0M360 755.5h0M392.9 755.5h0M366.1 755.5h0M375.8 755.5h0M383.8 755.5h0M401.9 755.5h0M360.8 755.5h0M381.2 755.5h0M373.4 755.5h0M363.9 755.5h0M370 755.5h0M374.2 755.5h0M369.3 755.5h0M377.2 755.5h0M371.9 755.5h0M360.9 755.5h0M359.7 755.5h0M368.9 755.5h0M395.9 755.5h0M388.4 755.5h0M374.2 755.5h0M399.6 755.5h0M391.4 755.5h0M376.2 755.5h0M378.7 755.5h0M367.8 755.5h0M386.7 755.5h0M405.2 755.5h0M404.2 755.5h0M398.3 755.5h0M366 755.5h0M378.5 755.5h0M365.6 755.5h0M367.7 755.5h0M401.7 755.5h0M416.8 755.5h0M405.8 755.5h0M413.8 755.5h0M414.4 755.5h0M412.6 755.5h0M414.7 755.5h0M416.1 755.5h0M418.4 755.5h0M428.7 755.5h0M407.3 755.5h0" stroke="#111" stroke-width="1.45" stroke-linecap="round"/>
<path d="M355 730L432.5 718.8" stroke="#6a8ab5" stroke-width="0.85"/>
<text x="353.8" y="688.2" font-size="6.9" fill="#38abdc" stroke="#38abdc" stroke-width="0.12" textLength="46.1" lengthAdjust="spacingAndGlyphs">wound-myCAF</text>
<text x="394.1" y="771.4" font-size="5.9" text-anchor="middle" fill="#333" stroke="#333" stroke-width="0.12">Cytolytic index</text>
<text x="0" y="0" font-size="6" text-anchor="middle" fill="#333" stroke="#333" stroke-width="0.12" transform="translate(341.4 725) rotate(-90)">wound-myCAF</text>
<text x="418" y="694.4" font-size="5.5" fill="#333" stroke="#333" stroke-width="0.12"><tspan font-style="italic">r</tspan> = 0.14</text>
<text x="418" y="701.4" font-size="5.5" fill="#333" stroke="#333" stroke-width="0.12"><tspan font-style="italic">P</tspan> = 1.1e-06</text>
<text x="1.6" y="474.8" font-size="10.5" fill="#111" font-weight="bold">B</text>
<text x="59.5" y="479.1" font-size="6.8" stroke="#222" stroke-width="0.12" textLength="105" lengthAdjust="spacingAndGlyphs">Cluster signatures versus FOXP3</text>
<text x="263.8" y="475" font-size="10.5" fill="#111" font-weight="bold">C</text>
<text x="334.5" y="478.5" font-size="6.8" stroke="#222" stroke-width="0.12" textLength="125.8" lengthAdjust="spacingAndGlyphs">Cluster signatures versus cytolytic index</text>
</svg></body></html>
